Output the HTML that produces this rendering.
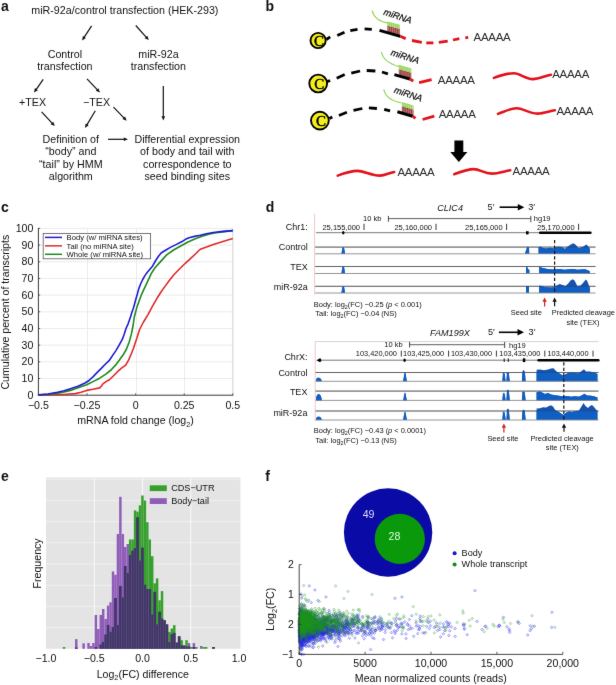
<!DOCTYPE html>
<html><head><meta charset="utf-8"><title>Figure</title>
<style>html,body{margin:0;padding:0;background:#fff;}svg{display:block;}text{font-family:"Liberation Sans", Arial, Helvetica, sans-serif;}</style>
</head><body>
<svg width="616" height="685" viewBox="0 0 616 685">
<defs><filter id="soft" x="0" y="0" width="616" height="685" filterUnits="userSpaceOnUse" color-interpolation-filters="sRGB"><feConvolveMatrix order="3" kernelMatrix="0.01 0.05 0.01 0.05 0.76 0.05 0.01 0.05 0.01" edgeMode="duplicate"/></filter></defs>
<g filter="url(#soft)">
<rect width="616" height="685" fill="#fff"/>
<text x="1" y="10.6" font-size="14" font-weight="bold" fill="#111">a</text>
<text x="265.5" y="10.6" font-size="14" font-weight="bold" fill="#111">b</text>
<text x="1" y="212" font-size="14" font-weight="bold" fill="#111">c</text>
<text x="265.8" y="211.9" font-size="14" font-weight="bold" fill="#111">d</text>
<text x="1" y="480.5" font-size="14" font-weight="bold" fill="#111">e</text>
<text x="265.3" y="481" font-size="14" font-weight="bold" fill="#111">f</text>
<text x="31.3" y="13.7" font-size="10.7" fill="#111">miR-92a/control transfection (HEK-293)</text>
<line x1="91.6" y1="25.8" x2="84.10827635657986" y2="37.39245658508167" stroke="#111" stroke-width="1.2"/>
<polygon points="82.10,40.50 82.87,36.00 85.89,37.95" fill="#111"/>
<line x1="135.8" y1="25.5" x2="146.33950513937148" y2="37.33667500267873" stroke="#111" stroke-width="1.2"/>
<polygon points="148.80,40.10 144.66,38.16 147.35,35.77" fill="#111"/>
<text x="64.9" y="58.1" font-size="10.7" text-anchor="middle" fill="#111">Control</text>
<text x="64.9" y="70.4" font-size="10.7" text-anchor="middle" fill="#111">transfection</text>
<text x="158.5" y="58.1" font-size="10.7" text-anchor="middle" fill="#111">miR-92a</text>
<text x="158.3" y="70.4" font-size="10.7" text-anchor="middle" fill="#111">transfection</text>
<line x1="43.2" y1="79.3" x2="36.10488704185119" y2="89.55706547210642" stroke="#111" stroke-width="1.2"/>
<polygon points="34.00,92.60 34.91,88.12 37.87,90.17" fill="#111"/>
<line x1="87.0" y1="78.9" x2="97.45317203764657" y2="89.91603514736599" stroke="#111" stroke-width="1.2"/>
<polygon points="100.00,92.60 95.80,90.79 98.41,88.31" fill="#111"/>
<text x="32.6" y="105.8" font-size="10.7" text-anchor="middle" fill="#111">+TEX</text>
<text x="96.5" y="105.8" font-size="10.7" text-anchor="middle" fill="#111">−TEX</text>
<line x1="41.6" y1="111.9" x2="52.2713301340998" y2="123.29892082506116" stroke="#111" stroke-width="1.2"/>
<polygon points="54.80,126.00 50.62,124.16 53.24,121.70" fill="#111"/>
<line x1="95.3" y1="110.8" x2="86.90091955010436" y2="124.82564890662185" stroke="#111" stroke-width="1.2"/>
<polygon points="85.00,128.00 85.61,123.47 88.70,125.32" fill="#111"/>
<line x1="113.5" y1="107.1" x2="124.12304110447596" y2="118.04495144097523" stroke="#111" stroke-width="1.2"/>
<polygon points="126.70,120.70 122.48,118.94 125.07,116.43" fill="#111"/>
<line x1="163.3" y1="86.0" x2="163.3" y2="116.7" stroke="#111" stroke-width="1.2"/>
<polygon points="163.30,120.40 161.50,116.20 165.10,116.20" fill="#111"/>
<line x1="108.0" y1="139.3" x2="124.3" y2="139.3" stroke="#111" stroke-width="1.2"/>
<polygon points="128.00,139.30 123.80,141.10 123.80,137.50" fill="#111"/>
<text x="70.8" y="142.5" font-size="10.7" text-anchor="middle" fill="#111">Definition of</text>
<text x="70.8" y="155.1" font-size="10.7" text-anchor="middle" fill="#111">“body” and</text>
<text x="70.8" y="167.7" font-size="10.7" text-anchor="middle" fill="#111">“tail” by HMM</text>
<text x="70.8" y="180.3" font-size="10.7" text-anchor="middle" fill="#111">algorithm</text>
<text x="187.3" y="142.6" font-size="10.7" text-anchor="middle" fill="#111">Differential expression</text>
<text x="187.3" y="155.2" font-size="10.7" text-anchor="middle" fill="#111">of body and tail with</text>
<text x="187.3" y="167.79999999999998" font-size="10.7" text-anchor="middle" fill="#111">correspondence to</text>
<text x="187.3" y="180.39999999999998" font-size="10.7" text-anchor="middle" fill="#111">seed binding sites</text>
<circle cx="318.1" cy="40.5" r="7.6" fill="#f4ee1c" stroke="#000" stroke-width="1.9"/>
<text x="319.1" y="45.5" font-size="15" text-anchor="middle" fill="#000" stroke="#000" stroke-width="0.45" style="font-family:'Liberation Serif',serif">C</text>
<line x1="326.3" y1="39.5" x2="330.2" y2="36.9" stroke="#000" stroke-width="2.8" stroke-linecap="butt"/>
<line x1="337.3" y1="35.6" x2="344.5" y2="32.3" stroke="#000" stroke-width="2.8" stroke-linecap="butt"/>
<line x1="350.3" y1="30.6" x2="357.5" y2="29.4" stroke="#000" stroke-width="2.8" stroke-linecap="butt"/>
<line x1="364.6" y1="28.8" x2="371.8" y2="29.4" stroke="#000" stroke-width="2.8" stroke-linecap="butt"/>
<polygon points="387.30,31.15 399.80,34.44 399.80,29.04 387.30,25.75" fill="#9b3c3c"/>
<polygon points="387.30,25.75 399.80,29.04 399.80,24.74 387.30,21.45" fill="#94d35a"/>
<line x1="388.3416666666667" y1="31.125358333333338" x2="388.3416666666667" y2="26.625358333333338" stroke="#d9a0a0" stroke-width="0.6"/>
<line x1="388.3416666666667" y1="25.425358333333335" x2="388.3416666666667" y2="22.525358333333337" stroke="#d6f0b0" stroke-width="0.6"/>
<line x1="390.425" y1="31.673274999999997" x2="390.425" y2="27.173274999999997" stroke="#d9a0a0" stroke-width="0.6"/>
<line x1="390.425" y1="25.973274999999994" x2="390.425" y2="23.073274999999995" stroke="#d6f0b0" stroke-width="0.6"/>
<line x1="392.5083333333333" y1="32.22119166666666" x2="392.5083333333333" y2="27.72119166666667" stroke="#d9a0a0" stroke-width="0.6"/>
<line x1="392.5083333333333" y1="26.521191666666667" x2="392.5083333333333" y2="23.621191666666668" stroke="#d6f0b0" stroke-width="0.6"/>
<line x1="394.5916666666667" y1="32.769108333333335" x2="394.5916666666667" y2="28.269108333333342" stroke="#d9a0a0" stroke-width="0.6"/>
<line x1="394.5916666666667" y1="27.06910833333334" x2="394.5916666666667" y2="24.16910833333334" stroke="#d6f0b0" stroke-width="0.6"/>
<line x1="396.675" y1="33.317025" x2="396.675" y2="28.817025000000008" stroke="#d9a0a0" stroke-width="0.6"/>
<line x1="396.675" y1="27.617025000000005" x2="396.675" y2="24.717025000000007" stroke="#d6f0b0" stroke-width="0.6"/>
<line x1="398.7583333333333" y1="33.86494166666666" x2="398.7583333333333" y2="29.364941666666667" stroke="#d9a0a0" stroke-width="0.6"/>
<line x1="398.7583333333333" y1="28.164941666666664" x2="398.7583333333333" y2="25.264941666666665" stroke="#d6f0b0" stroke-width="0.6"/>
<path d="M372.2,10.5 C373.5,18 380,21.5 388,23.2" fill="none" stroke="#8fd45a" stroke-width="1.2"/>
<text x="0" y="0" font-size="9.2" font-style="italic" fill="#111" stroke="#111" stroke-width="0.25" transform="translate(383.0,14.6) rotate(18)">miRNA</text>
<line x1="379.5" y1="30.4" x2="400.3" y2="36.2" stroke="#000" stroke-width="3"/>
<line x1="400.3" y1="36.2" x2="405.7" y2="38.6" stroke="#e3121b" stroke-width="2.8" stroke-linecap="butt"/>
<line x1="412" y1="40.5" x2="421.8" y2="42.3" stroke="#e3121b" stroke-width="2.8" stroke-linecap="butt"/>
<line x1="426.3" y1="42.9" x2="433.4" y2="42.9" stroke="#e3121b" stroke-width="2.8" stroke-linecap="butt"/>
<line x1="438.8" y1="42.3" x2="447.7" y2="41.1" stroke="#e3121b" stroke-width="2.8" stroke-linecap="butt"/>
<line x1="453" y1="40" x2="459.3" y2="38.7" stroke="#e3121b" stroke-width="2.8" stroke-linecap="butt"/>
<line x1="465.3" y1="37.9" x2="468.2" y2="37.3" stroke="#e3121b" stroke-width="2.8" stroke-linecap="butt"/>
<text x="473.6" y="40.6" font-size="11.5" fill="#2a2a2a" letter-spacing="-0.3">AAAAA</text>
<circle cx="318.2" cy="83.5" r="8.9" fill="#f4ee1c" stroke="#000" stroke-width="1.9"/>
<text x="319.2" y="88.5" font-size="15" text-anchor="middle" fill="#000" stroke="#000" stroke-width="0.45" style="font-family:'Liberation Serif',serif">C</text>
<line x1="326.5" y1="81.9" x2="330.1" y2="80.5" stroke="#000" stroke-width="2.8" stroke-linecap="butt"/>
<line x1="336.7" y1="78.3" x2="344.7" y2="74.6" stroke="#000" stroke-width="2.8" stroke-linecap="butt"/>
<line x1="351.3" y1="73.2" x2="360.1" y2="71" stroke="#000" stroke-width="2.8" stroke-linecap="butt"/>
<line x1="366.7" y1="70.5" x2="375.4" y2="71" stroke="#000" stroke-width="2.8" stroke-linecap="butt"/>
<line x1="382" y1="72" x2="387.9" y2="73.9" stroke="#000" stroke-width="2.8" stroke-linecap="butt"/>
<polygon points="398.80,74.55 411.30,78.12 411.30,72.72 398.80,69.15" fill="#9b3c3c"/>
<polygon points="398.80,69.15 411.30,72.72 411.30,68.42 398.80,64.85" fill="#94d35a"/>
<line x1="399.8416666666667" y1="74.550875" x2="399.8416666666667" y2="70.05087499999999" stroke="#d9a0a0" stroke-width="0.6"/>
<line x1="399.8416666666667" y1="68.850875" x2="399.8416666666667" y2="65.950875" stroke="#d6f0b0" stroke-width="0.6"/>
<line x1="401.925" y1="75.144625" x2="401.925" y2="70.64462499999999" stroke="#d9a0a0" stroke-width="0.6"/>
<line x1="401.925" y1="69.444625" x2="401.925" y2="66.544625" stroke="#d6f0b0" stroke-width="0.6"/>
<line x1="404.0083333333333" y1="75.738375" x2="404.0083333333333" y2="71.23837499999999" stroke="#d9a0a0" stroke-width="0.6"/>
<line x1="404.0083333333333" y1="70.038375" x2="404.0083333333333" y2="67.138375" stroke="#d6f0b0" stroke-width="0.6"/>
<line x1="406.0916666666667" y1="76.332125" x2="406.0916666666667" y2="71.83212499999999" stroke="#d9a0a0" stroke-width="0.6"/>
<line x1="406.0916666666667" y1="70.632125" x2="406.0916666666667" y2="67.732125" stroke="#d6f0b0" stroke-width="0.6"/>
<line x1="408.175" y1="76.925875" x2="408.175" y2="72.42587499999999" stroke="#d9a0a0" stroke-width="0.6"/>
<line x1="408.175" y1="71.225875" x2="408.175" y2="68.325875" stroke="#d6f0b0" stroke-width="0.6"/>
<line x1="410.2583333333333" y1="77.519625" x2="410.2583333333333" y2="73.01962499999999" stroke="#d9a0a0" stroke-width="0.6"/>
<line x1="410.2583333333333" y1="71.819625" x2="410.2583333333333" y2="68.919625" stroke="#d6f0b0" stroke-width="0.6"/>
<path d="M381.4,52 C383,60 390,64 399,66.6" fill="none" stroke="#8fd45a" stroke-width="1.2"/>
<text x="0" y="0" font-size="9.2" font-style="italic" fill="#111" stroke="#111" stroke-width="0.25" transform="translate(390.3,55.0) rotate(18)">miRNA</text>
<line x1="394.4" y1="74.6" x2="409.8" y2="79.0" stroke="#000" stroke-width="3"/>
<line x1="409.8" y1="79.0" x2="413.3" y2="81.0" stroke="#e3121b" stroke-width="2.8" stroke-linecap="butt"/>
<line x1="419.1" y1="82.7" x2="431.6" y2="79.6" stroke="#e3121b" stroke-width="2.8" stroke-linecap="butt"/>
<text x="437.8" y="83.6" font-size="11.5" fill="#2a2a2a" letter-spacing="-0.3">AAAAA</text>
<path d="M493.9,77.9 C501.9,74.9 508.1,73.2 514.1,73.2 C520.1,73.2 524.9,79.1 532.9,79.1 C538.9,79.1 544.9,75.8 550.9,74.8" fill="none" stroke="#e3121b" stroke-width="2.6" stroke-linecap="round"/>
<text x="552.2" y="77.9" font-size="11.5" fill="#2a2a2a" letter-spacing="-0.3">AAAAA</text>
<circle cx="319.9" cy="120.6" r="8.9" fill="#f4ee1c" stroke="#000" stroke-width="1.9"/>
<text x="320.9" y="125.6" font-size="15" text-anchor="middle" fill="#000" stroke="#000" stroke-width="0.45" style="font-family:'Liberation Serif',serif">C</text>
<line x1="329.4" y1="118.4" x2="332.3" y2="116.9" stroke="#000" stroke-width="2.8" stroke-linecap="butt"/>
<line x1="338.9" y1="115.5" x2="346.9" y2="112.3" stroke="#000" stroke-width="2.8" stroke-linecap="butt"/>
<line x1="353.5" y1="110.4" x2="362.3" y2="108.5" stroke="#000" stroke-width="2.8" stroke-linecap="butt"/>
<line x1="368.9" y1="107.9" x2="376.9" y2="108.5" stroke="#000" stroke-width="2.8" stroke-linecap="butt"/>
<line x1="384.2" y1="109.3" x2="390.1" y2="110.8" stroke="#000" stroke-width="2.8" stroke-linecap="butt"/>
<polygon points="401.80,111.77 413.50,115.14 413.50,109.74 401.80,106.37" fill="#9b3c3c"/>
<polygon points="401.80,106.37 413.50,109.74 413.50,105.44 401.80,102.07" fill="#94d35a"/>
<line x1="402.77500000000003" y1="111.74800000000003" x2="402.77500000000003" y2="107.24800000000002" stroke="#d9a0a0" stroke-width="0.6"/>
<line x1="402.77500000000003" y1="106.04800000000003" x2="402.77500000000003" y2="103.14800000000002" stroke="#d6f0b0" stroke-width="0.6"/>
<line x1="404.725" y1="112.30960000000002" x2="404.725" y2="107.8096" stroke="#d9a0a0" stroke-width="0.6"/>
<line x1="404.725" y1="106.60960000000001" x2="404.725" y2="103.70960000000001" stroke="#d6f0b0" stroke-width="0.6"/>
<line x1="406.675" y1="112.87120000000002" x2="406.675" y2="108.3712" stroke="#d9a0a0" stroke-width="0.6"/>
<line x1="406.675" y1="107.17120000000001" x2="406.675" y2="104.27120000000001" stroke="#d6f0b0" stroke-width="0.6"/>
<line x1="408.625" y1="113.43280000000001" x2="408.625" y2="108.9328" stroke="#d9a0a0" stroke-width="0.6"/>
<line x1="408.625" y1="107.73280000000001" x2="408.625" y2="104.8328" stroke="#d6f0b0" stroke-width="0.6"/>
<line x1="410.575" y1="113.99440000000001" x2="410.575" y2="109.4944" stroke="#d9a0a0" stroke-width="0.6"/>
<line x1="410.575" y1="108.29440000000001" x2="410.575" y2="105.3944" stroke="#d6f0b0" stroke-width="0.6"/>
<line x1="412.525" y1="114.55600000000001" x2="412.525" y2="110.056" stroke="#d9a0a0" stroke-width="0.6"/>
<line x1="412.525" y1="108.85600000000001" x2="412.525" y2="105.956" stroke="#d6f0b0" stroke-width="0.6"/>
<path d="M383.9,89.5 C385,97 392,101 401.5,103" fill="none" stroke="#8fd45a" stroke-width="1.2"/>
<text x="0" y="0" font-size="9.2" font-style="italic" fill="#111" stroke="#111" stroke-width="0.25" transform="translate(393.5,92.6) rotate(18)">miRNA</text>
<line x1="397.4" y1="111.8" x2="412.7" y2="116.2" stroke="#000" stroke-width="3"/>
<line x1="412.7" y1="116.2" x2="415.5" y2="118.3" stroke="#e3121b" stroke-width="2.8" stroke-linecap="butt"/>
<line x1="422.6" y1="119.5" x2="434.3" y2="116.2" stroke="#e3121b" stroke-width="2.8" stroke-linecap="butt"/>
<text x="438.7" y="117.5" font-size="11.5" fill="#2a2a2a" letter-spacing="-0.3">AAAAA</text>
<path d="M498,113.9 C506,110.9 510.79999999999995,108.3 516.8,108.3 C522.8,108.3 529.3,113.6 537.3,113.6 C543.3,113.6 548.8,111.3 554.8,110.3" fill="none" stroke="#e3121b" stroke-width="2.6" stroke-linecap="round"/>
<text x="556.4" y="114.5" font-size="11.5" fill="#2a2a2a" letter-spacing="-0.3">AAAAA</text>
<polygon points="454.40,140.40 463.30,140.40 463.30,152.00 467.40,152.00 458.85,161.90 450.30,152.00 454.40,152.00" fill="#000"/>
<path d="M337.7,175.6 C345.7,172.6 351.6,170.9 357.6,170.9 C363.6,170.9 371.7,175.6 379.7,175.6 C385.7,175.6 388.2,173 394.2,172" fill="none" stroke="#e3121b" stroke-width="2.6" stroke-linecap="round"/>
<text x="397.5" y="175.6" font-size="11.5" fill="#2a2a2a" letter-spacing="-0.3">AAAAA</text>
<path d="M454.3,174.2 C462.3,171.2 467.8,169.1 473.8,169.1 C479.8,169.1 484,173.6 492,173.6 C498,173.6 504.2,171.3 510.2,170.3" fill="none" stroke="#e3121b" stroke-width="2.6" stroke-linecap="round"/>
<text x="512.6" y="174.7" font-size="11.5" fill="#2a2a2a" letter-spacing="-0.3">AAAAA</text>
<line x1="87.5" y1="228.4" x2="87.5" y2="395.2" stroke="#ebebeb" stroke-width="1"/>
<line x1="136.5" y1="228.4" x2="136.5" y2="395.2" stroke="#ebebeb" stroke-width="1"/>
<line x1="184.5" y1="228.4" x2="184.5" y2="395.2" stroke="#ebebeb" stroke-width="1"/>
<line x1="38.4" y1="378.52" x2="232.8" y2="378.52" stroke="#ebebeb" stroke-width="1"/>
<line x1="38.4" y1="361.84" x2="232.8" y2="361.84" stroke="#ebebeb" stroke-width="1"/>
<line x1="38.4" y1="345.15999999999997" x2="232.8" y2="345.15999999999997" stroke="#ebebeb" stroke-width="1"/>
<line x1="38.4" y1="328.48" x2="232.8" y2="328.48" stroke="#ebebeb" stroke-width="1"/>
<line x1="38.4" y1="311.79999999999995" x2="232.8" y2="311.79999999999995" stroke="#ebebeb" stroke-width="1"/>
<line x1="38.4" y1="295.12" x2="232.8" y2="295.12" stroke="#ebebeb" stroke-width="1"/>
<line x1="38.4" y1="278.44" x2="232.8" y2="278.44" stroke="#ebebeb" stroke-width="1"/>
<line x1="38.4" y1="261.76" x2="232.8" y2="261.76" stroke="#ebebeb" stroke-width="1"/>
<line x1="38.4" y1="245.08" x2="232.8" y2="245.08" stroke="#ebebeb" stroke-width="1"/>
<line x1="38.4" y1="228.39999999999998" x2="232.8" y2="228.39999999999998" stroke="#ebebeb" stroke-width="1"/>
<line x1="232.8" y1="228.4" x2="232.8" y2="395.2" stroke="#d0d0d0" stroke-width="1"/>
<line x1="38.4" y1="227.9" x2="38.4" y2="395.7" stroke="#3a3a3a" stroke-width="1"/>
<line x1="37.9" y1="395.2" x2="233.3" y2="395.2" stroke="#3a3a3a" stroke-width="1"/>
<line x1="38.4" y1="395.2" x2="40.199999999999996" y2="395.2" stroke="#3a3a3a" stroke-width="0.8"/>
<text x="33.4" y="398.8" font-size="10.6" text-anchor="end" fill="#111">0</text>
<line x1="38.4" y1="378.52" x2="40.199999999999996" y2="378.52" stroke="#3a3a3a" stroke-width="0.8"/>
<text x="33.4" y="382.12" font-size="10.6" text-anchor="end" fill="#111">10</text>
<line x1="38.4" y1="361.84" x2="40.199999999999996" y2="361.84" stroke="#3a3a3a" stroke-width="0.8"/>
<text x="33.4" y="365.44" font-size="10.6" text-anchor="end" fill="#111">20</text>
<line x1="38.4" y1="345.15999999999997" x2="40.199999999999996" y2="345.15999999999997" stroke="#3a3a3a" stroke-width="0.8"/>
<text x="33.4" y="348.76" font-size="10.6" text-anchor="end" fill="#111">30</text>
<line x1="38.4" y1="328.48" x2="40.199999999999996" y2="328.48" stroke="#3a3a3a" stroke-width="0.8"/>
<text x="33.4" y="332.08000000000004" font-size="10.6" text-anchor="end" fill="#111">40</text>
<line x1="38.4" y1="311.79999999999995" x2="40.199999999999996" y2="311.79999999999995" stroke="#3a3a3a" stroke-width="0.8"/>
<text x="33.4" y="315.4" font-size="10.6" text-anchor="end" fill="#111">50</text>
<line x1="38.4" y1="295.12" x2="40.199999999999996" y2="295.12" stroke="#3a3a3a" stroke-width="0.8"/>
<text x="33.4" y="298.72" font-size="10.6" text-anchor="end" fill="#111">60</text>
<line x1="38.4" y1="278.44" x2="40.199999999999996" y2="278.44" stroke="#3a3a3a" stroke-width="0.8"/>
<text x="33.4" y="282.04" font-size="10.6" text-anchor="end" fill="#111">70</text>
<line x1="38.4" y1="261.76" x2="40.199999999999996" y2="261.76" stroke="#3a3a3a" stroke-width="0.8"/>
<text x="33.4" y="265.36" font-size="10.6" text-anchor="end" fill="#111">80</text>
<line x1="38.4" y1="245.08" x2="40.199999999999996" y2="245.08" stroke="#3a3a3a" stroke-width="0.8"/>
<text x="33.4" y="248.68" font-size="10.6" text-anchor="end" fill="#111">90</text>
<line x1="38.4" y1="228.39999999999998" x2="40.199999999999996" y2="228.39999999999998" stroke="#3a3a3a" stroke-width="0.8"/>
<text x="33.4" y="231.99999999999997" font-size="10.6" text-anchor="end" fill="#111">100</text>
<line x1="38.4" y1="395.2" x2="38.4" y2="393.4" stroke="#3a3a3a" stroke-width="0.8"/>
<text x="38.4" y="408.7" font-size="10.6" text-anchor="middle" fill="#111">−0.5</text>
<line x1="87.0" y1="395.2" x2="87.0" y2="393.4" stroke="#3a3a3a" stroke-width="0.8"/>
<text x="87.0" y="408.7" font-size="10.6" text-anchor="middle" fill="#111">−0.25</text>
<line x1="135.6" y1="395.2" x2="135.6" y2="393.4" stroke="#3a3a3a" stroke-width="0.8"/>
<text x="135.6" y="408.7" font-size="10.6" text-anchor="middle" fill="#111">0</text>
<line x1="184.20000000000002" y1="395.2" x2="184.20000000000002" y2="393.4" stroke="#3a3a3a" stroke-width="0.8"/>
<text x="184.20000000000002" y="408.7" font-size="10.6" text-anchor="middle" fill="#111">0.25</text>
<line x1="232.8" y1="395.2" x2="232.8" y2="393.4" stroke="#3a3a3a" stroke-width="0.8"/>
<text x="232.8" y="408.7" font-size="10.6" text-anchor="middle" fill="#111">0.5</text>
<text x="77.3" y="424.2" font-size="10.6" fill="#111">mRNA fold change (log<tspan font-size="7.2" dy="3.0">2</tspan><tspan dy="-3.0">)</tspan></text>
<text x="0" y="0" font-size="10.6" text-anchor="middle" fill="#111" transform="translate(9.2,312.2) rotate(-90)">Cumulative percent of transcripts</text>
<polyline points="38.40,395.10 54.20,394.80 66.00,394.30 75.30,393.60 81.00,392.20 86.70,390.40 93.00,389.30 99.70,387.90 101.30,386.20 102.90,383.90 106.00,381.60 109.40,379.80 113.50,375.80 117.50,371.70 121.50,368.20 125.70,365.20 128.70,359.90 131.30,353.80 133.50,348.20 135.40,342.50 136.80,338.30 138.00,334.40 139.60,329.50 143.50,322.00 148.00,314.60 152.50,306.10 157.30,297.80 161.00,292.00 164.80,286.60 169.50,280.20 174.10,274.50 179.70,268.80 185.30,263.30 191.00,258.10 196.50,253.00 198.30,251.00 200.30,249.30 206.50,247.00 213.30,244.60 219.00,242.70 224.50,240.90 232.80,238.40" fill="none" stroke="#e02a2a" stroke-width="1.6" stroke-linejoin="round"/>
<polyline points="38.40,395.00 48.00,394.40 57.50,393.10 64.00,392.00 70.50,390.40 78.00,387.80 86.70,384.70 93.00,381.60 99.70,378.20 105.50,374.30 111.00,370.00 115.30,365.40 119.20,360.30 123.20,354.80 126.50,349.00 129.20,342.00 131.30,334.40 133.00,326.00 134.30,317.00 136.80,307.60 139.50,300.00 141.60,294.30 144.00,289.20 147.90,280.80 151.20,273.60 155.00,267.80 159.60,262.60 166.70,254.90 173.50,250.00 181.60,245.50 188.00,242.00 194.70,239.00 202.00,236.20 209.60,234.00 216.00,232.80 222.70,231.90 232.80,230.60" fill="none" stroke="#1d891d" stroke-width="1.6" stroke-linejoin="round"/>
<polyline points="38.40,394.90 48.00,394.00 57.50,392.20 64.00,390.80 70.50,388.70 78.00,386.30 85.10,383.00 89.00,380.50 93.20,376.60 97.00,372.60 101.30,368.40 105.00,364.50 109.40,360.30 112.50,355.60 115.90,350.60 119.00,345.30 122.40,339.20 124.20,334.20 126.00,328.50 128.20,323.60 130.50,317.00 131.90,312.30 133.30,308.50 134.50,304.20 135.60,300.00 137.50,293.50 138.80,288.60 140.60,284.00 142.70,279.50 144.90,275.60 147.30,272.30 152.50,266.20 156.00,260.00 158.50,256.20 161.10,253.00 165.50,250.30 170.40,247.40 176.00,244.60 181.60,241.80 185.50,239.30 189.10,237.70 194.50,236.40 200.30,235.30 206.50,233.80 213.30,232.50 223.00,231.40 232.80,230.60" fill="none" stroke="#1c1cd4" stroke-width="1.6" stroke-linejoin="round"/>
<rect x="43.2" y="233.4" width="107.4" height="25.4" fill="#fff" stroke="#555" stroke-width="0.8"/>
<line x1="45.0" y1="237.4" x2="62.0" y2="237.4" stroke="#1c1cd4" stroke-width="1.5"/>
<text x="66.6" y="240.1" font-size="7.65" fill="#111">Body (w/ miRNA sites)</text>
<line x1="45.0" y1="245.85" x2="62.0" y2="245.85" stroke="#e02a2a" stroke-width="1.5"/>
<text x="66.6" y="248.54999999999998" font-size="7.65" fill="#111">Tail (no miRNA site)</text>
<line x1="45.0" y1="254.3" x2="62.0" y2="254.3" stroke="#1d891d" stroke-width="1.5"/>
<text x="66.6" y="257.0" font-size="7.65" fill="#111">Whole (w/ miRNA site)</text>
<line x1="314.6" y1="213.8" x2="314.6" y2="294.5" stroke="#f0b8b8" stroke-width="0.8"/>
<text x="437.2" y="211.2" font-size="9.1" font-style="italic" fill="#111">CLIC4</text>
<text x="487.6" y="210.4" font-size="9.1" fill="#111">5′</text>
<line x1="499.6" y1="207.2" x2="519.3" y2="207.2" stroke="#000" stroke-width="1.6"/>
<polygon points="524.30,207.20 517.80,204.00 517.80,210.40" fill="#000"/>
<text x="528.2" y="210.4" font-size="9.1" fill="#111">3′</text>
<text x="363.0" y="220.8" font-size="7.5" fill="#111">10 kb</text>
<line x1="388.4" y1="218.6" x2="530.8" y2="218.6" stroke="#333" stroke-width="0.8"/>
<line x1="388.4" y1="215.9" x2="388.4" y2="221.7" stroke="#333" stroke-width="0.9"/>
<line x1="530.8" y1="215.9" x2="530.8" y2="222.3" stroke="#333" stroke-width="0.9"/>
<text x="533.8" y="221.2" font-size="7.5" fill="#111">hg19</text>
<text x="360.0" y="229.8" font-size="7.5" text-anchor="end" fill="#111">25,155,000</text>
<line x1="364.0" y1="223.8" x2="364.0" y2="230.0" stroke="#222" stroke-width="0.9"/>
<text x="432.0" y="229.8" font-size="7.5" text-anchor="end" fill="#111">25,160,000</text>
<line x1="436.0" y1="223.8" x2="436.0" y2="230.0" stroke="#222" stroke-width="0.9"/>
<text x="502.6" y="229.8" font-size="7.5" text-anchor="end" fill="#111">25,165,000</text>
<line x1="506.6" y1="223.8" x2="506.6" y2="230.0" stroke="#222" stroke-width="0.9"/>
<text x="574.6" y="229.8" font-size="7.5" text-anchor="end" fill="#111">25,170,000</text>
<line x1="578.6" y1="223.8" x2="578.6" y2="230.0" stroke="#222" stroke-width="0.9"/>
<text x="307.8" y="230.1" font-size="9.0" text-anchor="end" fill="#111">Chr1:</text>
<line x1="316.0" y1="232.7" x2="540" y2="232.7" stroke="#555" stroke-width="0.8"/>
<ellipse cx="343.3" cy="232.7" rx="1.2" ry="1.8" fill="#000"/>
<rect x="526.0" y="231.2" width="2.6" height="3.2" fill="#000"/>
<line x1="540.2" y1="232.8" x2="590.4" y2="232.8" stroke="#000" stroke-width="2.6" stroke-linecap="round"/>
<text x="307.8" y="250.2" font-size="9.0" text-anchor="end" fill="#111">Control</text>
<line x1="315.2" y1="247.1" x2="595.5" y2="247.1" stroke="#6a6a6a" stroke-width="0.9"/>
<clipPath id="trk1"><rect x="300" y="247.10" width="310" height="8.70"/></clipPath>
<g fill="#1653ad"><polygon points="341.40,253.80 342.60,247.40 344.00,247.40 345.00,253.80"/><polygon points="525.00,253.80 527.30,246.80 529.00,247.00 529.20,253.80"/><polygon points="538.60,253.80 538.60,247.30 540.30,246.40 542.90,248.10 546.20,248.40 550.10,247.70 554.00,248.40 557.90,246.40 561.80,247.10 565.00,249.00 567.00,247.10 570.80,244.50 573.40,243.20 576.00,245.10 578.60,248.40 582.50,247.10 586.40,244.50 588.40,246.40 589.80,249.00 589.80,253.80"/></g>
<g fill="#0f5fc4" clip-path="url(#trk1)"><polygon points="341.40,253.80 342.60,247.40 344.00,247.40 345.00,253.80"/><polygon points="525.00,253.80 527.30,246.80 529.00,247.00 529.20,253.80"/><polygon points="538.60,253.80 538.60,247.30 540.30,246.40 542.90,248.10 546.20,248.40 550.10,247.70 554.00,248.40 557.90,246.40 561.80,247.10 565.00,249.00 567.00,247.10 570.80,244.50 573.40,243.20 576.00,245.10 578.60,248.40 582.50,247.10 586.40,244.50 588.40,246.40 589.80,249.00 589.80,253.80"/></g>
<line x1="315.2" y1="247.1" x2="595.5" y2="247.1" stroke="#3a3a3a" stroke-width="0.8" stroke-opacity="0.45"/>
<line x1="315.2" y1="253.8" x2="595.5" y2="253.8" stroke="#8a8a8a" stroke-width="0.9"/>
<text x="307.8" y="269.6" font-size="9.0" text-anchor="end" fill="#111">TEX</text>
<line x1="315.2" y1="266.5" x2="595.5" y2="266.5" stroke="#6a6a6a" stroke-width="0.9"/>
<clipPath id="trk2"><rect x="300" y="266.50" width="310" height="9.00"/></clipPath>
<g fill="#1653ad"><polygon points="341.40,273.50 342.60,266.80 344.00,266.80 345.00,273.50"/><polygon points="526.00,273.50 526.00,266.60 527.20,266.70 527.80,269.10 529.30,269.90 529.30,273.50"/><polygon points="539.20,273.50 539.20,266.80 541.00,267.60 544.90,268.50 548.80,269.20 554.00,269.40 559.20,268.90 564.40,269.80 569.50,269.20 573.40,268.90 577.30,269.80 581.20,269.40 585.10,269.20 588.40,270.50 589.80,271.50 589.80,273.50"/></g>
<g fill="#0f5fc4" clip-path="url(#trk2)"><polygon points="341.40,273.50 342.60,266.80 344.00,266.80 345.00,273.50"/><polygon points="526.00,273.50 526.00,266.60 527.20,266.70 527.80,269.10 529.30,269.90 529.30,273.50"/><polygon points="539.20,273.50 539.20,266.80 541.00,267.60 544.90,268.50 548.80,269.20 554.00,269.40 559.20,268.90 564.40,269.80 569.50,269.20 573.40,268.90 577.30,269.80 581.20,269.40 585.10,269.20 588.40,270.50 589.80,271.50 589.80,273.50"/></g>
<line x1="315.2" y1="266.5" x2="595.5" y2="266.5" stroke="#3a3a3a" stroke-width="0.8" stroke-opacity="0.45"/>
<line x1="315.2" y1="273.5" x2="595.5" y2="273.5" stroke="#8a8a8a" stroke-width="0.9"/>
<text x="307.8" y="289.6" font-size="9.0" text-anchor="end" fill="#111">miR-92a</text>
<line x1="315.2" y1="286.3" x2="595.5" y2="286.3" stroke="#6a6a6a" stroke-width="0.9"/>
<clipPath id="trk3"><rect x="300" y="286.30" width="310" height="8.70"/></clipPath>
<g fill="#1653ad"><polygon points="341.40,293.00 342.60,286.60 344.00,286.60 345.00,293.00"/><polygon points="526.00,293.00 526.00,286.00 528.90,286.00 528.90,293.00"/><polygon points="539.20,293.00 539.20,285.40 542.30,286.00 544.90,287.30 551.40,287.60 554.60,287.10 556.60,285.40 559.80,284.10 561.80,284.70 565.60,286.00 568.20,283.40 570.80,280.20 572.80,279.30 574.70,280.80 577.30,286.00 580.60,285.40 583.20,282.80 585.80,279.50 587.10,280.80 588.40,284.10 589.80,288.00 589.80,293.00"/></g>
<g fill="#0f5fc4" clip-path="url(#trk3)"><polygon points="341.40,293.00 342.60,286.60 344.00,286.60 345.00,293.00"/><polygon points="526.00,293.00 526.00,286.00 528.90,286.00 528.90,293.00"/><polygon points="539.20,293.00 539.20,285.40 542.30,286.00 544.90,287.30 551.40,287.60 554.60,287.10 556.60,285.40 559.80,284.10 561.80,284.70 565.60,286.00 568.20,283.40 570.80,280.20 572.80,279.30 574.70,280.80 577.30,286.00 580.60,285.40 583.20,282.80 585.80,279.50 587.10,280.80 588.40,284.10 589.80,288.00 589.80,293.00"/></g>
<line x1="315.2" y1="286.3" x2="595.5" y2="286.3" stroke="#3a3a3a" stroke-width="0.8" stroke-opacity="0.45"/>
<line x1="315.2" y1="293.0" x2="595.5" y2="293.0" stroke="#8a8a8a" stroke-width="0.9"/>
<line x1="554.6" y1="240.0" x2="554.6" y2="293.5" stroke="#111" stroke-width="1.2" stroke-dasharray="3.2,2.2"/>
<line x1="544.6" y1="300.5" x2="544.6" y2="306.6" stroke="#d42020" stroke-width="1.2"/>
<polygon points="544.60,297.50 542.40,301.70 546.80,301.70" fill="#d42020"/>
<line x1="554.6" y1="300.5" x2="554.6" y2="306.2" stroke="#111" stroke-width="1.2"/>
<polygon points="554.60,297.50 552.40,301.70 556.80,301.70" fill="#111"/>
<text x="313.8" y="306.6" font-size="7.45" fill="#111">Body: log<tspan font-size="5.4" dy="2">2</tspan><tspan dy="-2">(FC) −0.25 (</tspan><tspan font-style="italic">p</tspan> &lt; 0.001)</text>
<text x="315.3" y="316.1" font-size="7.45" fill="#111">Tail: log<tspan font-size="5.4" dy="2">2</tspan><tspan dy="-2">(FC) −0.04 (NS)</tspan></text>
<text x="510.8" y="315.4" font-size="7.45" fill="#111">Seed site</text>
<text x="551.7" y="315.4" font-size="7.45" fill="#111">Predicted cleavage</text>
<text x="583.0" y="324.5" font-size="7.45" text-anchor="middle" fill="#111">site (TEX)</text>
<line x1="315.2" y1="341.4" x2="315.2" y2="421.0" stroke="#f0b8b8" stroke-width="0.8"/>
<line x1="315.2" y1="341.6" x2="598.5" y2="341.6" stroke="#c8c8c8" stroke-width="0.8"/>
<text x="430.1" y="336.1" font-size="9.1" font-style="italic" fill="#111">FAM199X</text>
<text x="488.0" y="335.4" font-size="9.1" fill="#111">5′</text>
<line x1="498.9" y1="332.3" x2="519.0" y2="332.3" stroke="#000" stroke-width="1.6"/>
<polygon points="524.00,332.30 517.50,329.10 517.50,335.50" fill="#000"/>
<text x="528.6" y="335.4" font-size="9.1" fill="#111">3′</text>
<text x="384.3" y="347.0" font-size="7.5" fill="#111">10 kb</text>
<line x1="409.6" y1="344.7" x2="504.7" y2="344.7" stroke="#333" stroke-width="0.8"/>
<line x1="409.6" y1="341.9" x2="409.6" y2="347.5" stroke="#333" stroke-width="0.9"/>
<line x1="504.7" y1="341.9" x2="504.7" y2="348.0" stroke="#333" stroke-width="0.9"/>
<text x="509.0" y="348.4" font-size="7.5" fill="#111">hg19</text>
<text x="396.90000000000003" y="356.2" font-size="7.4" text-anchor="end" fill="#111">103,420,000</text>
<line x1="401.3" y1="350.6" x2="401.3" y2="356.6" stroke="#222" stroke-width="0.9"/>
<text x="444.20000000000005" y="356.2" font-size="7.4" text-anchor="end" fill="#111">103,425,000</text>
<line x1="448.6" y1="350.6" x2="448.6" y2="356.6" stroke="#222" stroke-width="0.9"/>
<text x="492.0" y="356.2" font-size="7.4" text-anchor="end" fill="#111">103,430,000</text>
<line x1="496.4" y1="350.6" x2="496.4" y2="356.6" stroke="#222" stroke-width="0.9"/>
<text x="540.4" y="356.2" font-size="7.4" text-anchor="end" fill="#111">103,435,000</text>
<line x1="544.8" y1="350.6" x2="544.8" y2="356.6" stroke="#222" stroke-width="0.9"/>
<text x="588.6" y="356.2" font-size="7.4" text-anchor="end" fill="#111">103,440,000</text>
<line x1="593.0" y1="350.6" x2="593.0" y2="356.6" stroke="#222" stroke-width="0.9"/>
<text x="307.4" y="359.5" font-size="9.0" text-anchor="end" fill="#111">ChrX:</text>
<line x1="318" y1="360.2" x2="538.5" y2="360.2" stroke="#555" stroke-width="0.8"/>
<polygon points="316.30,360.20 320.30,358.20 320.30,362.20" fill="#000"/>
<ellipse cx="320.0" cy="360.2" rx="1.3" ry="1.6" fill="#000"/>
<ellipse cx="404.6" cy="360.2" rx="1.2" ry="1.7" fill="#000"/>
<line x1="504.2" y1="358.4" x2="504.2" y2="362.0" stroke="#000" stroke-width="0.9"/>
<line x1="508.3" y1="358.4" x2="508.3" y2="362.0" stroke="#000" stroke-width="0.9"/>
<rect x="522.8" y="358.3" width="2.5" height="3.8" fill="#000"/>
<line x1="538.6" y1="360.3" x2="598.3" y2="360.3" stroke="#000" stroke-width="2.6" stroke-linecap="round"/>
<text x="307.4" y="375.7" font-size="9.0" text-anchor="end" fill="#111">Control</text>
<line x1="315.6" y1="372.5" x2="598.5" y2="372.5" stroke="#6a6a6a" stroke-width="0.9"/>
<clipPath id="trk4"><rect x="300" y="372.50" width="310" height="10.80"/></clipPath>
<g fill="#1653ad"><path d="M316.0,381.3 C316.3,377.3 318.2,377.8 318.8,377.8 C319.6,377.8 321.2,378.3 321.8,381.3 Z"/><polygon points="403.20,381.30 404.40,373.70 405.00,372.20 405.60,373.70 406.80,381.30"/><polygon points="502.40,381.30 503.00,373.50 504.00,372.50 504.80,374.50 505.60,381.30"/><polygon points="506.50,381.30 507.00,373.30 508.00,372.30 508.80,373.30 509.70,381.30"/><polygon points="521.90,381.30 522.60,371.00 523.60,370.00 524.80,371.50 525.60,381.30"/><polygon points="536.60,381.30 536.60,369.80 540.00,369.40 544.00,370.30 548.00,369.60 551.00,368.40 553.50,368.30 556.00,371.00 559.00,373.20 562.00,375.00 563.60,376.00 566.00,374.00 570.00,372.50 574.00,372.80 578.00,373.40 581.00,371.50 584.00,369.20 586.00,371.60 590.00,371.40 594.00,372.60 597.40,374.00 597.40,381.30"/></g>
<g fill="#0f5fc4" clip-path="url(#trk4)"><path d="M316.0,381.3 C316.3,377.3 318.2,377.8 318.8,377.8 C319.6,377.8 321.2,378.3 321.8,381.3 Z"/><polygon points="403.20,381.30 404.40,373.70 405.00,372.20 405.60,373.70 406.80,381.30"/><polygon points="502.40,381.30 503.00,373.50 504.00,372.50 504.80,374.50 505.60,381.30"/><polygon points="506.50,381.30 507.00,373.30 508.00,372.30 508.80,373.30 509.70,381.30"/><polygon points="521.90,381.30 522.60,371.00 523.60,370.00 524.80,371.50 525.60,381.30"/><polygon points="536.60,381.30 536.60,369.80 540.00,369.40 544.00,370.30 548.00,369.60 551.00,368.40 553.50,368.30 556.00,371.00 559.00,373.20 562.00,375.00 563.60,376.00 566.00,374.00 570.00,372.50 574.00,372.80 578.00,373.40 581.00,371.50 584.00,369.20 586.00,371.60 590.00,371.40 594.00,372.60 597.40,374.00 597.40,381.30"/></g>
<line x1="315.6" y1="372.5" x2="598.5" y2="372.5" stroke="#3a3a3a" stroke-width="0.8" stroke-opacity="0.45"/>
<line x1="315.6" y1="381.3" x2="598.5" y2="381.3" stroke="#8a8a8a" stroke-width="0.9"/>
<text x="307.4" y="394.5" font-size="9.0" text-anchor="end" fill="#111">TEX</text>
<line x1="315.6" y1="391.1" x2="598.5" y2="391.1" stroke="#6a6a6a" stroke-width="0.9"/>
<clipPath id="trk5"><rect x="300" y="391.10" width="310" height="11.30"/></clipPath>
<g fill="#1653ad"><path d="M316.0,400.4 C316.3,393.8 318.2,394.3 318.8,394.3 C319.6,394.3 321.2,394.8 321.8,400.4 Z"/><polygon points="403.20,400.40 404.40,393.90 405.00,392.40 405.60,393.90 406.80,400.40"/><polygon points="502.40,400.40 503.00,393.80 504.00,392.80 504.80,394.80 505.60,400.40"/><polygon points="506.50,400.40 507.00,390.40 508.00,389.40 508.80,390.40 509.70,400.40"/><polygon points="521.90,400.40 522.60,392.20 523.60,391.20 524.80,392.70 525.60,400.40"/><polygon points="536.60,400.40 536.60,392.20 540.00,391.60 542.00,392.50 545.00,394.00 548.00,393.00 551.00,394.50 555.00,395.20 559.00,395.80 563.00,396.50 567.00,396.00 571.00,396.80 575.00,396.20 579.00,396.80 582.00,395.20 584.50,393.80 587.00,395.50 591.00,395.70 594.50,396.40 597.40,397.50 597.40,400.40"/></g>
<g fill="#0f5fc4" clip-path="url(#trk5)"><path d="M316.0,400.4 C316.3,393.8 318.2,394.3 318.8,394.3 C319.6,394.3 321.2,394.8 321.8,400.4 Z"/><polygon points="403.20,400.40 404.40,393.90 405.00,392.40 405.60,393.90 406.80,400.40"/><polygon points="502.40,400.40 503.00,393.80 504.00,392.80 504.80,394.80 505.60,400.40"/><polygon points="506.50,400.40 507.00,390.40 508.00,389.40 508.80,390.40 509.70,400.40"/><polygon points="521.90,400.40 522.60,392.20 523.60,391.20 524.80,392.70 525.60,400.40"/><polygon points="536.60,400.40 536.60,392.20 540.00,391.60 542.00,392.50 545.00,394.00 548.00,393.00 551.00,394.50 555.00,395.20 559.00,395.80 563.00,396.50 567.00,396.00 571.00,396.80 575.00,396.20 579.00,396.80 582.00,395.20 584.50,393.80 587.00,395.50 591.00,395.70 594.50,396.40 597.40,397.50 597.40,400.40"/></g>
<line x1="315.6" y1="391.1" x2="598.5" y2="391.1" stroke="#3a3a3a" stroke-width="0.8" stroke-opacity="0.45"/>
<line x1="315.6" y1="400.4" x2="598.5" y2="400.4" stroke="#8a8a8a" stroke-width="0.9"/>
<text x="307.4" y="415.8" font-size="9.0" text-anchor="end" fill="#111">miR-92a</text>
<line x1="315.6" y1="411.0" x2="598.5" y2="411.0" stroke="#6a6a6a" stroke-width="0.9"/>
<clipPath id="trk6"><rect x="300" y="411.00" width="310" height="11.00"/></clipPath>
<g fill="#1653ad"><path d="M316.0,420.0 C316.3,416.3 318.2,416.8 318.8,416.8 C319.6,416.8 321.2,417.3 321.8,420.0 Z"/><polygon points="403.20,420.00 404.40,413.10 405.00,411.60 405.60,413.10 406.80,420.00"/><polygon points="502.40,420.00 503.00,412.50 504.00,411.50 504.80,413.50 505.60,420.00"/><polygon points="506.50,420.00 507.00,409.60 508.00,408.60 508.80,409.60 509.70,420.00"/><polygon points="521.90,420.00 522.60,410.50 523.60,409.50 524.80,411.00 525.60,420.00"/><polygon points="536.60,420.00 536.60,408.60 540.00,408.20 543.00,407.20 546.00,407.60 549.00,406.00 551.00,405.30 553.00,406.50 555.00,409.80 558.00,411.50 561.00,413.50 563.60,415.00 566.00,412.80 569.00,411.50 572.00,412.00 576.00,411.00 579.00,410.50 582.00,405.50 583.50,402.90 585.50,406.00 588.00,408.00 590.00,406.00 592.00,404.90 594.00,407.00 596.00,409.50 597.40,411.00 597.40,420.00"/></g>
<g fill="#0f5fc4" clip-path="url(#trk6)"><path d="M316.0,420.0 C316.3,416.3 318.2,416.8 318.8,416.8 C319.6,416.8 321.2,417.3 321.8,420.0 Z"/><polygon points="403.20,420.00 404.40,413.10 405.00,411.60 405.60,413.10 406.80,420.00"/><polygon points="502.40,420.00 503.00,412.50 504.00,411.50 504.80,413.50 505.60,420.00"/><polygon points="506.50,420.00 507.00,409.60 508.00,408.60 508.80,409.60 509.70,420.00"/><polygon points="521.90,420.00 522.60,410.50 523.60,409.50 524.80,411.00 525.60,420.00"/><polygon points="536.60,420.00 536.60,408.60 540.00,408.20 543.00,407.20 546.00,407.60 549.00,406.00 551.00,405.30 553.00,406.50 555.00,409.80 558.00,411.50 561.00,413.50 563.60,415.00 566.00,412.80 569.00,411.50 572.00,412.00 576.00,411.00 579.00,410.50 582.00,405.50 583.50,402.90 585.50,406.00 588.00,408.00 590.00,406.00 592.00,404.90 594.00,407.00 596.00,409.50 597.40,411.00 597.40,420.00"/></g>
<line x1="315.6" y1="411.0" x2="598.5" y2="411.0" stroke="#3a3a3a" stroke-width="0.8" stroke-opacity="0.45"/>
<line x1="315.6" y1="420.0" x2="598.5" y2="420.0" stroke="#8a8a8a" stroke-width="0.9"/>
<line x1="563.8" y1="362.3" x2="563.8" y2="420.5" stroke="#111" stroke-width="1.2" stroke-dasharray="3.2,2.2"/>
<line x1="503.9" y1="426.6" x2="503.9" y2="432.4" stroke="#d42020" stroke-width="1.2"/>
<polygon points="503.90,423.60 501.70,427.80 506.10,427.80" fill="#d42020"/>
<line x1="564.0" y1="426.6" x2="564.0" y2="431.8" stroke="#111" stroke-width="1.2"/>
<polygon points="564.00,423.60 561.80,427.80 566.20,427.80" fill="#111"/>
<text x="313.8" y="433.1" font-size="7.45" fill="#111">Body: log<tspan font-size="5.4" dy="2">2</tspan><tspan dy="-2">(FC) −0.43 (</tspan><tspan font-style="italic">p</tspan> &lt; 0.0001)</text>
<text x="315.3" y="442.8" font-size="7.45" fill="#111">Tail: log<tspan font-size="5.4" dy="2">2</tspan><tspan dy="-2">(FC) −0.13 (NS)</tspan></text>
<text x="518.4" y="441.0" font-size="7.45" text-anchor="end" fill="#111">Seed site</text>
<text x="530.4" y="441.0" font-size="7.45" fill="#111">Predicted cleavage</text>
<text x="562.3" y="449.8" font-size="7.45" text-anchor="middle" fill="#111">site (TEX)</text>
<rect x="46.0" y="477.5" width="194.4" height="171.29999999999995" fill="#e4e4e4"/>
<line x1="46.0" y1="627.5999999999999" x2="240.4" y2="627.5999999999999" stroke="#f2f2f2" stroke-width="0.8"/>
<line x1="46.0" y1="606.4" x2="240.4" y2="606.4" stroke="#f2f2f2" stroke-width="0.8"/>
<line x1="46.0" y1="585.1999999999999" x2="240.4" y2="585.1999999999999" stroke="#f2f2f2" stroke-width="0.8"/>
<line x1="46.0" y1="564.0" x2="240.4" y2="564.0" stroke="#f2f2f2" stroke-width="0.8"/>
<line x1="46.0" y1="542.8" x2="240.4" y2="542.8" stroke="#f2f2f2" stroke-width="0.8"/>
<line x1="46.0" y1="521.5999999999999" x2="240.4" y2="521.5999999999999" stroke="#f2f2f2" stroke-width="0.8"/>
<line x1="46.0" y1="500.4" x2="240.4" y2="500.4" stroke="#f2f2f2" stroke-width="0.8"/>
<line x1="46.0" y1="479.19999999999993" x2="240.4" y2="479.19999999999993" stroke="#f2f2f2" stroke-width="0.8"/>
<line x1="94.25" y1="477.5" x2="94.25" y2="648.8" stroke="#fafafa" stroke-width="1.0"/>
<line x1="142.5" y1="477.5" x2="142.5" y2="648.8" stroke="#fafafa" stroke-width="1.0"/>
<line x1="190.75" y1="477.5" x2="190.75" y2="648.8" stroke="#fafafa" stroke-width="1.0"/>
<rect x="62.80" y="647.00" width="2.45" height="1.80" fill="#36a02d"/>
<rect x="75.05" y="639.10" width="2.45" height="9.70" fill="#8f5db8"/>
<rect x="82.40" y="643.30" width="2.45" height="5.50" fill="#8f5db8"/>
<rect x="87.30" y="643.00" width="2.45" height="5.80" fill="#8f5db8"/>
<rect x="89.75" y="646.00" width="2.45" height="2.80" fill="#8f5db8"/>
<rect x="92.20" y="643.00" width="2.45" height="5.80" fill="#8f5db8"/>
<rect x="94.65" y="615.00" width="2.45" height="33.80" fill="#8f5db8"/>
<rect x="97.10" y="629.00" width="2.45" height="19.80" fill="#8f5db8"/>
<rect x="99.55" y="615.00" width="2.45" height="33.80" fill="#8f5db8"/>
<rect x="102.00" y="609.00" width="2.45" height="39.80" fill="#8f5db8"/>
<rect x="104.45" y="619.00" width="2.45" height="29.80" fill="#8f5db8"/>
<rect x="106.90" y="605.60" width="2.45" height="43.20" fill="#8f5db8"/>
<rect x="109.35" y="602.30" width="2.45" height="46.50" fill="#8f5db8"/>
<rect x="111.80" y="571.40" width="2.45" height="77.40" fill="#8f5db8"/>
<rect x="114.25" y="574.80" width="2.45" height="74.00" fill="#8f5db8"/>
<rect x="116.70" y="534.00" width="2.45" height="114.80" fill="#8f5db8"/>
<rect x="119.15" y="496.80" width="2.45" height="152.00" fill="#8f5db8"/>
<rect x="121.60" y="534.00" width="2.45" height="114.80" fill="#8f5db8"/>
<rect x="124.05" y="547.00" width="2.45" height="101.80" fill="#8f5db8"/>
<rect x="126.50" y="544.00" width="2.45" height="104.80" fill="#8f5db8"/>
<rect x="128.95" y="539.50" width="2.45" height="109.30" fill="#36a02d"/>
<rect x="131.40" y="539.50" width="2.45" height="109.30" fill="#36a02d"/>
<rect x="133.85" y="510.40" width="2.45" height="138.40" fill="#36a02d"/>
<rect x="136.30" y="511.60" width="2.45" height="137.20" fill="#36a02d"/>
<rect x="138.75" y="505.40" width="2.45" height="143.40" fill="#36a02d"/>
<rect x="141.20" y="495.50" width="2.45" height="153.30" fill="#36a02d"/>
<rect x="143.65" y="500.50" width="2.45" height="148.30" fill="#36a02d"/>
<rect x="146.10" y="522.20" width="2.45" height="126.60" fill="#36a02d"/>
<rect x="148.55" y="539.50" width="2.45" height="109.30" fill="#36a02d"/>
<rect x="151.00" y="556.20" width="2.45" height="92.60" fill="#36a02d"/>
<rect x="153.45" y="583.30" width="2.45" height="65.50" fill="#36a02d"/>
<rect x="155.90" y="578.40" width="2.45" height="70.40" fill="#36a02d"/>
<rect x="158.35" y="600.30" width="2.45" height="48.50" fill="#36a02d"/>
<rect x="160.80" y="591.10" width="2.45" height="57.70" fill="#36a02d"/>
<rect x="163.25" y="620.20" width="2.45" height="28.60" fill="#36a02d"/>
<rect x="165.70" y="624.40" width="2.45" height="24.40" fill="#36a02d"/>
<rect x="168.15" y="631.90" width="2.45" height="16.90" fill="#36a02d"/>
<rect x="170.60" y="628.50" width="2.45" height="20.30" fill="#36a02d"/>
<rect x="173.05" y="625.10" width="2.45" height="23.70" fill="#36a02d"/>
<rect x="175.50" y="642.60" width="2.45" height="6.20" fill="#36a02d"/>
<rect x="177.95" y="636.30" width="2.45" height="12.50" fill="#36a02d"/>
<rect x="180.40" y="640.20" width="2.45" height="8.60" fill="#36a02d"/>
<rect x="182.85" y="645.50" width="2.45" height="3.30" fill="#36a02d"/>
<rect x="185.30" y="640.20" width="2.45" height="8.60" fill="#36a02d"/>
<rect x="187.75" y="643.10" width="2.45" height="5.70" fill="#8f5db8"/>
<rect x="190.20" y="647.00" width="2.45" height="1.80" fill="#36a02d"/>
<rect x="192.65" y="643.10" width="2.45" height="5.70" fill="#8f5db8"/>
<rect x="195.10" y="647.00" width="2.45" height="1.80" fill="#36a02d"/>
<rect x="200.00" y="646.00" width="2.45" height="2.80" fill="#8f5db8"/>
<rect x="202.45" y="647.00" width="2.45" height="1.80" fill="#36a02d"/>
<rect x="204.90" y="647.00" width="2.45" height="1.80" fill="#36a02d"/>
<rect x="212.25" y="647.00" width="2.45" height="1.80" fill="#36a02d"/>
<rect x="74.90" y="647.50" width="2.75" height="1.30" fill="#413566"/>
<rect x="94.50" y="647.00" width="2.75" height="1.80" fill="#413566"/>
<rect x="99.40" y="644.60" width="2.75" height="4.20" fill="#413566"/>
<rect x="101.85" y="642.00" width="2.75" height="6.80" fill="#413566"/>
<rect x="104.30" y="634.50" width="2.75" height="14.30" fill="#413566"/>
<rect x="106.75" y="625.00" width="2.75" height="23.80" fill="#413566"/>
<rect x="109.20" y="631.80" width="2.75" height="17.00" fill="#413566"/>
<rect x="111.65" y="627.00" width="2.75" height="21.80" fill="#413566"/>
<rect x="114.10" y="598.00" width="2.75" height="50.80" fill="#413566"/>
<rect x="116.55" y="625.00" width="2.75" height="23.80" fill="#413566"/>
<rect x="119.00" y="586.00" width="2.75" height="62.80" fill="#413566"/>
<rect x="121.45" y="597.50" width="2.75" height="51.30" fill="#413566"/>
<rect x="123.90" y="566.00" width="2.75" height="82.80" fill="#413566"/>
<rect x="126.35" y="573.00" width="2.75" height="75.80" fill="#413566"/>
<rect x="128.80" y="555.00" width="2.75" height="93.80" fill="#413566"/>
<rect x="131.25" y="550.70" width="2.75" height="98.10" fill="#413566"/>
<rect x="133.70" y="548.20" width="2.75" height="100.60" fill="#413566"/>
<rect x="136.15" y="517.20" width="2.75" height="131.60" fill="#413566"/>
<rect x="138.60" y="560.60" width="2.75" height="88.20" fill="#413566"/>
<rect x="141.05" y="547.60" width="2.75" height="101.20" fill="#413566"/>
<rect x="143.50" y="584.70" width="2.75" height="64.10" fill="#413566"/>
<rect x="145.95" y="589.00" width="2.75" height="59.80" fill="#413566"/>
<rect x="148.40" y="589.00" width="2.75" height="59.80" fill="#413566"/>
<rect x="150.85" y="614.50" width="2.75" height="34.30" fill="#413566"/>
<rect x="153.30" y="591.80" width="2.75" height="57.00" fill="#413566"/>
<rect x="155.75" y="624.40" width="2.75" height="24.40" fill="#413566"/>
<rect x="158.20" y="611.70" width="2.75" height="37.10" fill="#413566"/>
<rect x="160.65" y="618.70" width="2.75" height="30.10" fill="#413566"/>
<rect x="163.10" y="620.20" width="2.75" height="28.60" fill="#413566"/>
<rect x="165.55" y="624.40" width="2.75" height="24.40" fill="#413566"/>
<rect x="168.00" y="642.10" width="2.75" height="6.70" fill="#413566"/>
<rect x="170.45" y="634.00" width="2.75" height="14.80" fill="#413566"/>
<rect x="172.90" y="632.90" width="2.75" height="15.90" fill="#413566"/>
<rect x="175.35" y="642.60" width="2.75" height="6.20" fill="#413566"/>
<rect x="177.80" y="636.30" width="2.75" height="12.50" fill="#413566"/>
<rect x="180.25" y="645.50" width="2.75" height="3.30" fill="#413566"/>
<rect x="182.70" y="645.50" width="2.75" height="3.30" fill="#413566"/>
<rect x="185.15" y="646.50" width="2.75" height="2.30" fill="#413566"/>
<rect x="187.60" y="646.50" width="2.75" height="2.30" fill="#413566"/>
<rect x="192.50" y="647.00" width="2.75" height="1.80" fill="#413566"/>
<rect x="212.10" y="647.00" width="2.75" height="1.80" fill="#413566"/>
<line x1="102.00" y1="644.60" x2="102.00" y2="648.80" stroke="#6a5c92" stroke-width="0.45"/>
<line x1="104.45" y1="642.00" x2="104.45" y2="648.80" stroke="#6a5c92" stroke-width="0.45"/>
<line x1="106.90" y1="634.50" x2="106.90" y2="648.80" stroke="#6a5c92" stroke-width="0.45"/>
<line x1="109.35" y1="631.80" x2="109.35" y2="648.80" stroke="#6a5c92" stroke-width="0.45"/>
<line x1="111.80" y1="631.80" x2="111.80" y2="648.80" stroke="#6a5c92" stroke-width="0.45"/>
<line x1="114.25" y1="627.00" x2="114.25" y2="648.80" stroke="#6a5c92" stroke-width="0.45"/>
<line x1="116.70" y1="625.00" x2="116.70" y2="648.80" stroke="#6a5c92" stroke-width="0.45"/>
<line x1="119.15" y1="625.00" x2="119.15" y2="648.80" stroke="#6a5c92" stroke-width="0.45"/>
<line x1="121.60" y1="597.50" x2="121.60" y2="648.80" stroke="#6a5c92" stroke-width="0.45"/>
<line x1="124.05" y1="597.50" x2="124.05" y2="648.80" stroke="#6a5c92" stroke-width="0.45"/>
<line x1="126.50" y1="573.00" x2="126.50" y2="648.80" stroke="#6a5c92" stroke-width="0.45"/>
<line x1="128.95" y1="573.00" x2="128.95" y2="648.80" stroke="#6a5c92" stroke-width="0.45"/>
<line x1="131.40" y1="555.00" x2="131.40" y2="648.80" stroke="#6a5c92" stroke-width="0.45"/>
<line x1="133.85" y1="550.70" x2="133.85" y2="648.80" stroke="#6a5c92" stroke-width="0.45"/>
<line x1="136.30" y1="548.20" x2="136.30" y2="648.80" stroke="#6a5c92" stroke-width="0.45"/>
<line x1="138.75" y1="560.60" x2="138.75" y2="648.80" stroke="#6a5c92" stroke-width="0.45"/>
<line x1="141.20" y1="560.60" x2="141.20" y2="648.80" stroke="#6a5c92" stroke-width="0.45"/>
<line x1="143.65" y1="584.70" x2="143.65" y2="648.80" stroke="#6a5c92" stroke-width="0.45"/>
<line x1="146.10" y1="589.00" x2="146.10" y2="648.80" stroke="#6a5c92" stroke-width="0.45"/>
<line x1="148.55" y1="589.00" x2="148.55" y2="648.80" stroke="#6a5c92" stroke-width="0.45"/>
<line x1="151.00" y1="614.50" x2="151.00" y2="648.80" stroke="#6a5c92" stroke-width="0.45"/>
<line x1="153.45" y1="614.50" x2="153.45" y2="648.80" stroke="#6a5c92" stroke-width="0.45"/>
<line x1="155.90" y1="624.40" x2="155.90" y2="648.80" stroke="#6a5c92" stroke-width="0.45"/>
<line x1="158.35" y1="624.40" x2="158.35" y2="648.80" stroke="#6a5c92" stroke-width="0.45"/>
<line x1="160.80" y1="618.70" x2="160.80" y2="648.80" stroke="#6a5c92" stroke-width="0.45"/>
<line x1="163.25" y1="620.20" x2="163.25" y2="648.80" stroke="#6a5c92" stroke-width="0.45"/>
<line x1="165.70" y1="624.40" x2="165.70" y2="648.80" stroke="#6a5c92" stroke-width="0.45"/>
<line x1="168.15" y1="642.10" x2="168.15" y2="648.80" stroke="#6a5c92" stroke-width="0.45"/>
<line x1="170.60" y1="642.10" x2="170.60" y2="648.80" stroke="#6a5c92" stroke-width="0.45"/>
<line x1="173.05" y1="634.00" x2="173.05" y2="648.80" stroke="#6a5c92" stroke-width="0.45"/>
<line x1="175.50" y1="642.60" x2="175.50" y2="648.80" stroke="#6a5c92" stroke-width="0.45"/>
<line x1="177.95" y1="642.60" x2="177.95" y2="648.80" stroke="#6a5c92" stroke-width="0.45"/>
<line x1="180.40" y1="645.50" x2="180.40" y2="648.80" stroke="#6a5c92" stroke-width="0.45"/>
<line x1="182.85" y1="645.50" x2="182.85" y2="648.80" stroke="#6a5c92" stroke-width="0.45"/>
<line x1="185.30" y1="646.50" x2="185.30" y2="648.80" stroke="#6a5c92" stroke-width="0.45"/>
<line x1="187.75" y1="646.50" x2="187.75" y2="648.80" stroke="#6a5c92" stroke-width="0.45"/>
<rect x="149.8" y="485.3" width="17" height="5.8" fill="#36a02d"/>
<rect x="149.8" y="498.2" width="17" height="5.8" fill="#8f5db8"/>
<text x="171.2" y="491.3" font-size="9.15" fill="#111">CDS−UTR</text>
<text x="171.2" y="504.2" font-size="9.15" fill="#111">Body−tail</text>
<text x="46.0" y="661.8" font-size="10.6" text-anchor="middle" fill="#111">−1.0</text>
<text x="94.25" y="661.8" font-size="10.6" text-anchor="middle" fill="#111">−0.5</text>
<text x="142.5" y="661.8" font-size="10.6" text-anchor="middle" fill="#111">0.0</text>
<text x="190.75" y="661.8" font-size="10.6" text-anchor="middle" fill="#111">0.5</text>
<text x="239.0" y="661.8" font-size="10.6" text-anchor="middle" fill="#111">1.0</text>
<text x="142.8" y="677.5" font-size="10.6" text-anchor="middle" fill="#111">Log<tspan font-size="7.4" dy="2.6">2</tspan><tspan dy="-2.6">(FC) difference</tspan></text>
<text x="0" y="0" font-size="10.6" text-anchor="middle" fill="#111" transform="translate(40.9,563.4) rotate(-90)">Frequency</text>
<circle cx="388.1" cy="532.5" r="44.2" fill="#0a0aa6"/>
<circle cx="399.8" cy="538.9" r="25.1" fill="#0a990a"/>
<text x="368.6" y="517.5" font-size="10.6" text-anchor="middle" fill="#dcdcff">49</text>
<text x="394.4" y="539.8" font-size="10.6" text-anchor="middle" fill="#dcffdc">28</text>
<circle cx="454.6" cy="553.2" r="2.0" fill="#1515d0"/>
<circle cx="454.6" cy="564.4" r="2.0" fill="#138a13"/>
<text x="461.6" y="556.1" font-size="9.1" fill="#111">Body</text>
<text x="461.6" y="567.4" font-size="9.1" fill="#111">Whole transcript</text>
<path d="M308.9,622.6l1.4,1.4l-1.4,1.4l-1.4,-1.4zM313.7,622.3l1.4,1.4l-1.4,1.4l-1.4,-1.4zM305.9,635.4l1.4,1.4l-1.4,1.4l-1.4,-1.4zM302.1,629.7l1.4,1.4l-1.4,1.4l-1.4,-1.4zM304.4,626.0l1.4,1.4l-1.4,1.4l-1.4,-1.4zM301.7,621.3l1.4,1.4l-1.4,1.4l-1.4,-1.4zM309.7,630.9l1.4,1.4l-1.4,1.4l-1.4,-1.4zM358.4,631.7l1.4,1.4l-1.4,1.4l-1.4,-1.4zM304.2,619.9l1.4,1.4l-1.4,1.4l-1.4,-1.4zM303.4,619.1l1.4,1.4l-1.4,1.4l-1.4,-1.4zM318.0,623.9l1.4,1.4l-1.4,1.4l-1.4,-1.4zM314.9,630.1l1.4,1.4l-1.4,1.4l-1.4,-1.4zM310.4,623.9l1.4,1.4l-1.4,1.4l-1.4,-1.4zM302.0,626.5l1.4,1.4l-1.4,1.4l-1.4,-1.4zM308.5,621.1l1.4,1.4l-1.4,1.4l-1.4,-1.4zM324.0,633.4l1.4,1.4l-1.4,1.4l-1.4,-1.4zM300.8,626.6l1.4,1.4l-1.4,1.4l-1.4,-1.4zM304.4,628.2l1.4,1.4l-1.4,1.4l-1.4,-1.4zM299.9,636.4l1.4,1.4l-1.4,1.4l-1.4,-1.4zM300.9,625.8l1.4,1.4l-1.4,1.4l-1.4,-1.4zM300.0,627.4l1.4,1.4l-1.4,1.4l-1.4,-1.4zM306.3,629.7l1.4,1.4l-1.4,1.4l-1.4,-1.4zM301.0,624.4l1.4,1.4l-1.4,1.4l-1.4,-1.4zM313.2,635.4l1.4,1.4l-1.4,1.4l-1.4,-1.4zM311.2,626.8l1.4,1.4l-1.4,1.4l-1.4,-1.4zM306.7,623.9l1.4,1.4l-1.4,1.4l-1.4,-1.4zM299.5,625.5l1.4,1.4l-1.4,1.4l-1.4,-1.4zM303.9,619.3l1.4,1.4l-1.4,1.4l-1.4,-1.4zM308.3,634.8l1.4,1.4l-1.4,1.4l-1.4,-1.4zM310.5,636.4l1.4,1.4l-1.4,1.4l-1.4,-1.4zM300.4,625.7l1.4,1.4l-1.4,1.4l-1.4,-1.4zM304.3,623.8l1.4,1.4l-1.4,1.4l-1.4,-1.4zM301.8,611.4l1.4,1.4l-1.4,1.4l-1.4,-1.4zM302.5,622.7l1.4,1.4l-1.4,1.4l-1.4,-1.4zM339.8,630.5l1.4,1.4l-1.4,1.4l-1.4,-1.4zM302.5,621.3l1.4,1.4l-1.4,1.4l-1.4,-1.4zM308.5,632.4l1.4,1.4l-1.4,1.4l-1.4,-1.4zM331.2,634.3l1.4,1.4l-1.4,1.4l-1.4,-1.4zM303.6,608.2l1.4,1.4l-1.4,1.4l-1.4,-1.4zM307.5,624.5l1.4,1.4l-1.4,1.4l-1.4,-1.4zM310.4,621.9l1.4,1.4l-1.4,1.4l-1.4,-1.4zM309.8,622.9l1.4,1.4l-1.4,1.4l-1.4,-1.4zM301.1,613.6l1.4,1.4l-1.4,1.4l-1.4,-1.4zM309.9,624.7l1.4,1.4l-1.4,1.4l-1.4,-1.4zM359.9,618.9l1.4,1.4l-1.4,1.4l-1.4,-1.4zM300.4,635.6l1.4,1.4l-1.4,1.4l-1.4,-1.4zM330.1,633.8l1.4,1.4l-1.4,1.4l-1.4,-1.4zM310.6,617.2l1.4,1.4l-1.4,1.4l-1.4,-1.4zM303.3,616.4l1.4,1.4l-1.4,1.4l-1.4,-1.4zM443.4,622.5l1.4,1.4l-1.4,1.4l-1.4,-1.4zM326.3,624.6l1.4,1.4l-1.4,1.4l-1.4,-1.4zM301.1,624.7l1.4,1.4l-1.4,1.4l-1.4,-1.4zM309.9,631.1l1.4,1.4l-1.4,1.4l-1.4,-1.4zM320.3,616.8l1.4,1.4l-1.4,1.4l-1.4,-1.4zM306.7,622.3l1.4,1.4l-1.4,1.4l-1.4,-1.4zM323.6,623.0l1.4,1.4l-1.4,1.4l-1.4,-1.4zM308.1,624.2l1.4,1.4l-1.4,1.4l-1.4,-1.4zM323.0,619.7l1.4,1.4l-1.4,1.4l-1.4,-1.4zM366.8,622.7l1.4,1.4l-1.4,1.4l-1.4,-1.4zM303.1,621.7l1.4,1.4l-1.4,1.4l-1.4,-1.4zM311.9,634.0l1.4,1.4l-1.4,1.4l-1.4,-1.4zM304.4,623.4l1.4,1.4l-1.4,1.4l-1.4,-1.4zM310.7,612.2l1.4,1.4l-1.4,1.4l-1.4,-1.4zM301.2,636.2l1.4,1.4l-1.4,1.4l-1.4,-1.4zM303.6,628.1l1.4,1.4l-1.4,1.4l-1.4,-1.4zM306.6,620.7l1.4,1.4l-1.4,1.4l-1.4,-1.4zM331.8,620.3l1.4,1.4l-1.4,1.4l-1.4,-1.4zM344.7,622.1l1.4,1.4l-1.4,1.4l-1.4,-1.4zM300.8,640.0l1.4,1.4l-1.4,1.4l-1.4,-1.4zM302.5,623.5l1.4,1.4l-1.4,1.4l-1.4,-1.4zM322.4,633.1l1.4,1.4l-1.4,1.4l-1.4,-1.4zM299.9,634.2l1.4,1.4l-1.4,1.4l-1.4,-1.4zM304.4,623.1l1.4,1.4l-1.4,1.4l-1.4,-1.4zM307.7,628.7l1.4,1.4l-1.4,1.4l-1.4,-1.4zM352.1,621.1l1.4,1.4l-1.4,1.4l-1.4,-1.4zM323.8,607.3l1.4,1.4l-1.4,1.4l-1.4,-1.4zM305.4,621.5l1.4,1.4l-1.4,1.4l-1.4,-1.4zM305.1,621.9l1.4,1.4l-1.4,1.4l-1.4,-1.4zM306.1,633.1l1.4,1.4l-1.4,1.4l-1.4,-1.4zM375.0,628.7l1.4,1.4l-1.4,1.4l-1.4,-1.4zM304.6,634.6l1.4,1.4l-1.4,1.4l-1.4,-1.4zM305.6,630.6l1.4,1.4l-1.4,1.4l-1.4,-1.4zM314.8,633.2l1.4,1.4l-1.4,1.4l-1.4,-1.4zM307.4,631.3l1.4,1.4l-1.4,1.4l-1.4,-1.4zM306.6,628.3l1.4,1.4l-1.4,1.4l-1.4,-1.4zM301.4,644.2l1.4,1.4l-1.4,1.4l-1.4,-1.4zM308.7,636.2l1.4,1.4l-1.4,1.4l-1.4,-1.4zM304.5,636.7l1.4,1.4l-1.4,1.4l-1.4,-1.4zM346.0,623.0l1.4,1.4l-1.4,1.4l-1.4,-1.4zM322.6,625.6l1.4,1.4l-1.4,1.4l-1.4,-1.4zM308.6,619.8l1.4,1.4l-1.4,1.4l-1.4,-1.4zM323.1,619.8l1.4,1.4l-1.4,1.4l-1.4,-1.4zM305.3,629.3l1.4,1.4l-1.4,1.4l-1.4,-1.4zM339.3,621.9l1.4,1.4l-1.4,1.4l-1.4,-1.4zM308.8,636.3l1.4,1.4l-1.4,1.4l-1.4,-1.4zM320.5,612.3l1.4,1.4l-1.4,1.4l-1.4,-1.4zM300.9,618.3l1.4,1.4l-1.4,1.4l-1.4,-1.4zM314.7,627.7l1.4,1.4l-1.4,1.4l-1.4,-1.4zM300.2,636.7l1.4,1.4l-1.4,1.4l-1.4,-1.4zM299.8,624.7l1.4,1.4l-1.4,1.4l-1.4,-1.4zM305.6,640.0l1.4,1.4l-1.4,1.4l-1.4,-1.4zM302.1,633.2l1.4,1.4l-1.4,1.4l-1.4,-1.4zM311.3,621.6l1.4,1.4l-1.4,1.4l-1.4,-1.4zM499.8,624.6l1.4,1.4l-1.4,1.4l-1.4,-1.4zM302.4,630.9l1.4,1.4l-1.4,1.4l-1.4,-1.4zM303.4,620.2l1.4,1.4l-1.4,1.4l-1.4,-1.4zM312.0,641.2l1.4,1.4l-1.4,1.4l-1.4,-1.4zM318.1,624.4l1.4,1.4l-1.4,1.4l-1.4,-1.4zM306.8,630.2l1.4,1.4l-1.4,1.4l-1.4,-1.4zM306.5,632.7l1.4,1.4l-1.4,1.4l-1.4,-1.4zM324.2,623.2l1.4,1.4l-1.4,1.4l-1.4,-1.4zM318.7,632.2l1.4,1.4l-1.4,1.4l-1.4,-1.4zM301.6,613.0l1.4,1.4l-1.4,1.4l-1.4,-1.4zM307.9,630.7l1.4,1.4l-1.4,1.4l-1.4,-1.4zM309.4,613.4l1.4,1.4l-1.4,1.4l-1.4,-1.4zM301.5,635.7l1.4,1.4l-1.4,1.4l-1.4,-1.4zM313.0,622.5l1.4,1.4l-1.4,1.4l-1.4,-1.4zM302.2,636.2l1.4,1.4l-1.4,1.4l-1.4,-1.4zM335.2,633.3l1.4,1.4l-1.4,1.4l-1.4,-1.4zM311.8,625.4l1.4,1.4l-1.4,1.4l-1.4,-1.4zM310.1,622.1l1.4,1.4l-1.4,1.4l-1.4,-1.4zM303.6,636.4l1.4,1.4l-1.4,1.4l-1.4,-1.4zM307.5,618.7l1.4,1.4l-1.4,1.4l-1.4,-1.4zM299.9,634.0l1.4,1.4l-1.4,1.4l-1.4,-1.4zM301.3,626.4l1.4,1.4l-1.4,1.4l-1.4,-1.4zM315.0,623.9l1.4,1.4l-1.4,1.4l-1.4,-1.4zM299.7,623.0l1.4,1.4l-1.4,1.4l-1.4,-1.4zM329.6,636.2l1.4,1.4l-1.4,1.4l-1.4,-1.4zM300.1,614.9l1.4,1.4l-1.4,1.4l-1.4,-1.4zM326.1,622.6l1.4,1.4l-1.4,1.4l-1.4,-1.4zM302.3,630.5l1.4,1.4l-1.4,1.4l-1.4,-1.4zM326.9,631.9l1.4,1.4l-1.4,1.4l-1.4,-1.4zM310.8,637.6l1.4,1.4l-1.4,1.4l-1.4,-1.4zM300.4,638.2l1.4,1.4l-1.4,1.4l-1.4,-1.4zM351.5,622.5l1.4,1.4l-1.4,1.4l-1.4,-1.4zM367.0,627.2l1.4,1.4l-1.4,1.4l-1.4,-1.4zM308.1,634.3l1.4,1.4l-1.4,1.4l-1.4,-1.4zM305.9,630.6l1.4,1.4l-1.4,1.4l-1.4,-1.4zM307.0,616.1l1.4,1.4l-1.4,1.4l-1.4,-1.4zM301.8,629.9l1.4,1.4l-1.4,1.4l-1.4,-1.4zM341.9,628.9l1.4,1.4l-1.4,1.4l-1.4,-1.4zM303.9,617.4l1.4,1.4l-1.4,1.4l-1.4,-1.4zM308.2,623.6l1.4,1.4l-1.4,1.4l-1.4,-1.4zM302.5,626.9l1.4,1.4l-1.4,1.4l-1.4,-1.4zM303.4,631.6l1.4,1.4l-1.4,1.4l-1.4,-1.4zM300.9,639.4l1.4,1.4l-1.4,1.4l-1.4,-1.4zM352.1,631.9l1.4,1.4l-1.4,1.4l-1.4,-1.4zM307.1,630.1l1.4,1.4l-1.4,1.4l-1.4,-1.4zM334.9,627.0l1.4,1.4l-1.4,1.4l-1.4,-1.4zM309.1,624.3l1.4,1.4l-1.4,1.4l-1.4,-1.4zM303.0,623.2l1.4,1.4l-1.4,1.4l-1.4,-1.4zM305.4,625.4l1.4,1.4l-1.4,1.4l-1.4,-1.4zM303.7,625.5l1.4,1.4l-1.4,1.4l-1.4,-1.4zM309.0,633.4l1.4,1.4l-1.4,1.4l-1.4,-1.4zM305.0,642.2l1.4,1.4l-1.4,1.4l-1.4,-1.4zM305.7,630.6l1.4,1.4l-1.4,1.4l-1.4,-1.4zM300.7,634.9l1.4,1.4l-1.4,1.4l-1.4,-1.4zM302.5,632.1l1.4,1.4l-1.4,1.4l-1.4,-1.4zM389.6,626.7l1.4,1.4l-1.4,1.4l-1.4,-1.4zM303.1,636.3l1.4,1.4l-1.4,1.4l-1.4,-1.4zM301.5,635.8l1.4,1.4l-1.4,1.4l-1.4,-1.4zM314.5,626.9l1.4,1.4l-1.4,1.4l-1.4,-1.4zM364.0,624.8l1.4,1.4l-1.4,1.4l-1.4,-1.4zM300.6,632.6l1.4,1.4l-1.4,1.4l-1.4,-1.4zM306.5,623.4l1.4,1.4l-1.4,1.4l-1.4,-1.4zM303.3,628.8l1.4,1.4l-1.4,1.4l-1.4,-1.4zM300.1,635.6l1.4,1.4l-1.4,1.4l-1.4,-1.4zM325.3,625.7l1.4,1.4l-1.4,1.4l-1.4,-1.4zM308.6,598.9l1.4,1.4l-1.4,1.4l-1.4,-1.4zM309.9,631.0l1.4,1.4l-1.4,1.4l-1.4,-1.4zM302.7,618.6l1.4,1.4l-1.4,1.4l-1.4,-1.4zM317.1,617.7l1.4,1.4l-1.4,1.4l-1.4,-1.4zM303.9,603.3l1.4,1.4l-1.4,1.4l-1.4,-1.4zM307.2,632.4l1.4,1.4l-1.4,1.4l-1.4,-1.4zM301.4,612.1l1.4,1.4l-1.4,1.4l-1.4,-1.4zM301.1,626.6l1.4,1.4l-1.4,1.4l-1.4,-1.4zM358.0,626.8l1.4,1.4l-1.4,1.4l-1.4,-1.4zM304.1,628.7l1.4,1.4l-1.4,1.4l-1.4,-1.4zM313.6,622.5l1.4,1.4l-1.4,1.4l-1.4,-1.4zM308.5,626.3l1.4,1.4l-1.4,1.4l-1.4,-1.4zM304.5,628.3l1.4,1.4l-1.4,1.4l-1.4,-1.4zM304.1,617.9l1.4,1.4l-1.4,1.4l-1.4,-1.4zM321.9,630.4l1.4,1.4l-1.4,1.4l-1.4,-1.4zM305.6,634.2l1.4,1.4l-1.4,1.4l-1.4,-1.4zM307.1,621.4l1.4,1.4l-1.4,1.4l-1.4,-1.4zM309.2,621.9l1.4,1.4l-1.4,1.4l-1.4,-1.4zM346.6,619.5l1.4,1.4l-1.4,1.4l-1.4,-1.4zM323.5,632.3l1.4,1.4l-1.4,1.4l-1.4,-1.4zM315.4,619.5l1.4,1.4l-1.4,1.4l-1.4,-1.4zM303.7,623.6l1.4,1.4l-1.4,1.4l-1.4,-1.4zM300.7,613.9l1.4,1.4l-1.4,1.4l-1.4,-1.4zM334.1,632.8l1.4,1.4l-1.4,1.4l-1.4,-1.4zM334.9,624.5l1.4,1.4l-1.4,1.4l-1.4,-1.4zM307.2,630.9l1.4,1.4l-1.4,1.4l-1.4,-1.4zM319.3,635.8l1.4,1.4l-1.4,1.4l-1.4,-1.4zM327.0,630.1l1.4,1.4l-1.4,1.4l-1.4,-1.4zM329.0,619.3l1.4,1.4l-1.4,1.4l-1.4,-1.4zM332.8,628.4l1.4,1.4l-1.4,1.4l-1.4,-1.4zM304.4,632.2l1.4,1.4l-1.4,1.4l-1.4,-1.4zM374.1,620.7l1.4,1.4l-1.4,1.4l-1.4,-1.4zM301.0,619.9l1.4,1.4l-1.4,1.4l-1.4,-1.4zM330.2,620.1l1.4,1.4l-1.4,1.4l-1.4,-1.4zM318.1,631.0l1.4,1.4l-1.4,1.4l-1.4,-1.4zM330.7,626.1l1.4,1.4l-1.4,1.4l-1.4,-1.4zM421.6,619.9l1.4,1.4l-1.4,1.4l-1.4,-1.4zM371.1,628.8l1.4,1.4l-1.4,1.4l-1.4,-1.4zM301.3,633.2l1.4,1.4l-1.4,1.4l-1.4,-1.4zM300.2,621.1l1.4,1.4l-1.4,1.4l-1.4,-1.4zM328.4,616.8l1.4,1.4l-1.4,1.4l-1.4,-1.4zM301.7,636.1l1.4,1.4l-1.4,1.4l-1.4,-1.4zM308.7,644.0l1.4,1.4l-1.4,1.4l-1.4,-1.4zM329.3,634.2l1.4,1.4l-1.4,1.4l-1.4,-1.4zM300.3,635.5l1.4,1.4l-1.4,1.4l-1.4,-1.4zM299.8,628.8l1.4,1.4l-1.4,1.4l-1.4,-1.4zM312.9,622.5l1.4,1.4l-1.4,1.4l-1.4,-1.4zM309.5,627.6l1.4,1.4l-1.4,1.4l-1.4,-1.4zM306.2,631.7l1.4,1.4l-1.4,1.4l-1.4,-1.4zM309.4,625.6l1.4,1.4l-1.4,1.4l-1.4,-1.4zM302.2,634.5l1.4,1.4l-1.4,1.4l-1.4,-1.4zM300.5,627.9l1.4,1.4l-1.4,1.4l-1.4,-1.4zM306.9,631.2l1.4,1.4l-1.4,1.4l-1.4,-1.4zM301.8,607.2l1.4,1.4l-1.4,1.4l-1.4,-1.4zM300.3,621.2l1.4,1.4l-1.4,1.4l-1.4,-1.4zM318.4,637.4l1.4,1.4l-1.4,1.4l-1.4,-1.4zM308.1,633.4l1.4,1.4l-1.4,1.4l-1.4,-1.4zM316.0,632.3l1.4,1.4l-1.4,1.4l-1.4,-1.4zM301.7,639.8l1.4,1.4l-1.4,1.4l-1.4,-1.4zM303.2,632.5l1.4,1.4l-1.4,1.4l-1.4,-1.4zM301.7,632.9l1.4,1.4l-1.4,1.4l-1.4,-1.4zM302.1,620.7l1.4,1.4l-1.4,1.4l-1.4,-1.4zM311.8,629.2l1.4,1.4l-1.4,1.4l-1.4,-1.4zM302.6,633.1l1.4,1.4l-1.4,1.4l-1.4,-1.4zM314.9,634.7l1.4,1.4l-1.4,1.4l-1.4,-1.4zM314.5,633.7l1.4,1.4l-1.4,1.4l-1.4,-1.4zM448.3,625.4l1.4,1.4l-1.4,1.4l-1.4,-1.4zM300.7,629.2l1.4,1.4l-1.4,1.4l-1.4,-1.4zM331.3,619.3l1.4,1.4l-1.4,1.4l-1.4,-1.4zM307.8,631.0l1.4,1.4l-1.4,1.4l-1.4,-1.4zM308.7,619.6l1.4,1.4l-1.4,1.4l-1.4,-1.4zM300.6,625.5l1.4,1.4l-1.4,1.4l-1.4,-1.4zM304.4,627.1l1.4,1.4l-1.4,1.4l-1.4,-1.4zM325.6,637.7l1.4,1.4l-1.4,1.4l-1.4,-1.4zM307.9,635.5l1.4,1.4l-1.4,1.4l-1.4,-1.4zM310.0,621.7l1.4,1.4l-1.4,1.4l-1.4,-1.4zM305.7,617.1l1.4,1.4l-1.4,1.4l-1.4,-1.4zM345.2,624.4l1.4,1.4l-1.4,1.4l-1.4,-1.4zM308.6,621.6l1.4,1.4l-1.4,1.4l-1.4,-1.4zM299.7,630.9l1.4,1.4l-1.4,1.4l-1.4,-1.4zM303.0,629.9l1.4,1.4l-1.4,1.4l-1.4,-1.4zM299.9,632.9l1.4,1.4l-1.4,1.4l-1.4,-1.4zM299.3,619.9l1.4,1.4l-1.4,1.4l-1.4,-1.4zM303.9,624.6l1.4,1.4l-1.4,1.4l-1.4,-1.4zM357.8,626.7l1.4,1.4l-1.4,1.4l-1.4,-1.4zM309.5,628.8l1.4,1.4l-1.4,1.4l-1.4,-1.4zM301.2,623.2l1.4,1.4l-1.4,1.4l-1.4,-1.4zM301.9,624.9l1.4,1.4l-1.4,1.4l-1.4,-1.4zM343.8,630.2l1.4,1.4l-1.4,1.4l-1.4,-1.4zM311.2,615.3l1.4,1.4l-1.4,1.4l-1.4,-1.4zM309.5,624.9l1.4,1.4l-1.4,1.4l-1.4,-1.4zM308.2,626.6l1.4,1.4l-1.4,1.4l-1.4,-1.4zM309.4,616.8l1.4,1.4l-1.4,1.4l-1.4,-1.4zM327.9,619.9l1.4,1.4l-1.4,1.4l-1.4,-1.4zM319.6,626.6l1.4,1.4l-1.4,1.4l-1.4,-1.4zM312.2,623.0l1.4,1.4l-1.4,1.4l-1.4,-1.4zM301.6,635.5l1.4,1.4l-1.4,1.4l-1.4,-1.4zM318.5,630.1l1.4,1.4l-1.4,1.4l-1.4,-1.4zM303.0,643.8l1.4,1.4l-1.4,1.4l-1.4,-1.4zM341.6,618.8l1.4,1.4l-1.4,1.4l-1.4,-1.4zM300.9,642.1l1.4,1.4l-1.4,1.4l-1.4,-1.4zM307.2,622.1l1.4,1.4l-1.4,1.4l-1.4,-1.4zM308.8,632.2l1.4,1.4l-1.4,1.4l-1.4,-1.4zM300.8,635.1l1.4,1.4l-1.4,1.4l-1.4,-1.4zM398.2,626.2l1.4,1.4l-1.4,1.4l-1.4,-1.4zM368.8,623.9l1.4,1.4l-1.4,1.4l-1.4,-1.4zM304.4,622.7l1.4,1.4l-1.4,1.4l-1.4,-1.4zM326.7,615.5l1.4,1.4l-1.4,1.4l-1.4,-1.4zM315.4,624.0l1.4,1.4l-1.4,1.4l-1.4,-1.4zM299.5,620.7l1.4,1.4l-1.4,1.4l-1.4,-1.4zM312.8,630.2l1.4,1.4l-1.4,1.4l-1.4,-1.4zM308.1,621.9l1.4,1.4l-1.4,1.4l-1.4,-1.4zM310.0,625.6l1.4,1.4l-1.4,1.4l-1.4,-1.4zM301.5,630.9l1.4,1.4l-1.4,1.4l-1.4,-1.4zM305.9,627.6l1.4,1.4l-1.4,1.4l-1.4,-1.4zM306.8,627.2l1.4,1.4l-1.4,1.4l-1.4,-1.4zM347.4,624.5l1.4,1.4l-1.4,1.4l-1.4,-1.4zM314.4,623.8l1.4,1.4l-1.4,1.4l-1.4,-1.4zM308.8,634.1l1.4,1.4l-1.4,1.4l-1.4,-1.4zM375.5,629.2l1.4,1.4l-1.4,1.4l-1.4,-1.4zM303.8,621.7l1.4,1.4l-1.4,1.4l-1.4,-1.4zM304.9,639.0l1.4,1.4l-1.4,1.4l-1.4,-1.4zM300.0,632.5l1.4,1.4l-1.4,1.4l-1.4,-1.4zM379.8,617.1l1.4,1.4l-1.4,1.4l-1.4,-1.4zM334.8,641.1l1.4,1.4l-1.4,1.4l-1.4,-1.4zM332.6,629.7l1.4,1.4l-1.4,1.4l-1.4,-1.4zM323.1,621.9l1.4,1.4l-1.4,1.4l-1.4,-1.4zM310.4,637.4l1.4,1.4l-1.4,1.4l-1.4,-1.4zM312.2,609.7l1.4,1.4l-1.4,1.4l-1.4,-1.4zM306.1,644.8l1.4,1.4l-1.4,1.4l-1.4,-1.4zM306.6,616.9l1.4,1.4l-1.4,1.4l-1.4,-1.4zM309.6,616.3l1.4,1.4l-1.4,1.4l-1.4,-1.4zM373.8,620.5l1.4,1.4l-1.4,1.4l-1.4,-1.4zM319.7,627.4l1.4,1.4l-1.4,1.4l-1.4,-1.4zM308.2,624.3l1.4,1.4l-1.4,1.4l-1.4,-1.4zM303.6,633.6l1.4,1.4l-1.4,1.4l-1.4,-1.4zM303.3,621.3l1.4,1.4l-1.4,1.4l-1.4,-1.4zM383.5,638.1l1.4,1.4l-1.4,1.4l-1.4,-1.4zM318.4,627.8l1.4,1.4l-1.4,1.4l-1.4,-1.4zM309.8,620.0l1.4,1.4l-1.4,1.4l-1.4,-1.4zM305.3,634.8l1.4,1.4l-1.4,1.4l-1.4,-1.4zM301.4,630.2l1.4,1.4l-1.4,1.4l-1.4,-1.4zM308.1,625.6l1.4,1.4l-1.4,1.4l-1.4,-1.4zM330.7,633.5l1.4,1.4l-1.4,1.4l-1.4,-1.4zM304.9,618.7l1.4,1.4l-1.4,1.4l-1.4,-1.4zM306.3,624.5l1.4,1.4l-1.4,1.4l-1.4,-1.4zM306.4,637.3l1.4,1.4l-1.4,1.4l-1.4,-1.4zM310.4,626.9l1.4,1.4l-1.4,1.4l-1.4,-1.4zM300.3,633.6l1.4,1.4l-1.4,1.4l-1.4,-1.4zM306.3,631.4l1.4,1.4l-1.4,1.4l-1.4,-1.4zM302.3,626.7l1.4,1.4l-1.4,1.4l-1.4,-1.4zM331.2,629.9l1.4,1.4l-1.4,1.4l-1.4,-1.4zM302.6,620.1l1.4,1.4l-1.4,1.4l-1.4,-1.4zM320.3,630.3l1.4,1.4l-1.4,1.4l-1.4,-1.4zM375.1,620.1l1.4,1.4l-1.4,1.4l-1.4,-1.4zM305.5,627.2l1.4,1.4l-1.4,1.4l-1.4,-1.4zM303.5,620.9l1.4,1.4l-1.4,1.4l-1.4,-1.4zM311.7,630.0l1.4,1.4l-1.4,1.4l-1.4,-1.4zM308.9,630.0l1.4,1.4l-1.4,1.4l-1.4,-1.4zM301.7,636.1l1.4,1.4l-1.4,1.4l-1.4,-1.4zM317.3,618.3l1.4,1.4l-1.4,1.4l-1.4,-1.4zM446.4,620.3l1.4,1.4l-1.4,1.4l-1.4,-1.4zM306.0,612.2l1.4,1.4l-1.4,1.4l-1.4,-1.4zM306.6,617.9l1.4,1.4l-1.4,1.4l-1.4,-1.4zM301.6,625.5l1.4,1.4l-1.4,1.4l-1.4,-1.4zM314.1,627.7l1.4,1.4l-1.4,1.4l-1.4,-1.4zM301.0,624.5l1.4,1.4l-1.4,1.4l-1.4,-1.4zM301.4,627.6l1.4,1.4l-1.4,1.4l-1.4,-1.4zM353.7,617.5l1.4,1.4l-1.4,1.4l-1.4,-1.4zM302.1,620.3l1.4,1.4l-1.4,1.4l-1.4,-1.4zM340.9,630.3l1.4,1.4l-1.4,1.4l-1.4,-1.4zM375.1,628.9l1.4,1.4l-1.4,1.4l-1.4,-1.4zM312.9,617.7l1.4,1.4l-1.4,1.4l-1.4,-1.4zM319.7,624.2l1.4,1.4l-1.4,1.4l-1.4,-1.4zM434.4,626.3l1.4,1.4l-1.4,1.4l-1.4,-1.4zM306.6,618.7l1.4,1.4l-1.4,1.4l-1.4,-1.4zM303.6,630.0l1.4,1.4l-1.4,1.4l-1.4,-1.4zM300.8,632.3l1.4,1.4l-1.4,1.4l-1.4,-1.4zM309.4,629.7l1.4,1.4l-1.4,1.4l-1.4,-1.4zM370.6,648.2l1.4,1.4l-1.4,1.4l-1.4,-1.4zM334.6,620.8l1.4,1.4l-1.4,1.4l-1.4,-1.4zM301.9,636.4l1.4,1.4l-1.4,1.4l-1.4,-1.4zM302.3,631.5l1.4,1.4l-1.4,1.4l-1.4,-1.4zM304.1,632.4l1.4,1.4l-1.4,1.4l-1.4,-1.4zM313.6,621.7l1.4,1.4l-1.4,1.4l-1.4,-1.4zM306.5,627.9l1.4,1.4l-1.4,1.4l-1.4,-1.4zM312.1,626.3l1.4,1.4l-1.4,1.4l-1.4,-1.4zM313.7,637.0l1.4,1.4l-1.4,1.4l-1.4,-1.4zM305.7,627.5l1.4,1.4l-1.4,1.4l-1.4,-1.4zM308.4,636.6l1.4,1.4l-1.4,1.4l-1.4,-1.4zM312.0,624.5l1.4,1.4l-1.4,1.4l-1.4,-1.4zM307.9,624.2l1.4,1.4l-1.4,1.4l-1.4,-1.4zM318.3,626.3l1.4,1.4l-1.4,1.4l-1.4,-1.4zM420.3,614.7l1.4,1.4l-1.4,1.4l-1.4,-1.4zM320.7,622.9l1.4,1.4l-1.4,1.4l-1.4,-1.4zM309.6,622.7l1.4,1.4l-1.4,1.4l-1.4,-1.4zM300.2,626.5l1.4,1.4l-1.4,1.4l-1.4,-1.4zM315.6,627.5l1.4,1.4l-1.4,1.4l-1.4,-1.4zM299.9,620.0l1.4,1.4l-1.4,1.4l-1.4,-1.4zM300.6,619.0l1.4,1.4l-1.4,1.4l-1.4,-1.4zM329.9,633.3l1.4,1.4l-1.4,1.4l-1.4,-1.4zM324.3,619.7l1.4,1.4l-1.4,1.4l-1.4,-1.4zM307.1,623.3l1.4,1.4l-1.4,1.4l-1.4,-1.4zM300.2,620.1l1.4,1.4l-1.4,1.4l-1.4,-1.4zM305.1,623.7l1.4,1.4l-1.4,1.4l-1.4,-1.4zM303.1,636.3l1.4,1.4l-1.4,1.4l-1.4,-1.4zM322.1,633.0l1.4,1.4l-1.4,1.4l-1.4,-1.4zM503.4,615.9l1.4,1.4l-1.4,1.4l-1.4,-1.4zM312.2,622.9l1.4,1.4l-1.4,1.4l-1.4,-1.4zM302.6,637.7l1.4,1.4l-1.4,1.4l-1.4,-1.4zM301.2,624.8l1.4,1.4l-1.4,1.4l-1.4,-1.4zM308.2,629.1l1.4,1.4l-1.4,1.4l-1.4,-1.4zM306.8,639.5l1.4,1.4l-1.4,1.4l-1.4,-1.4zM301.2,644.9l1.4,1.4l-1.4,1.4l-1.4,-1.4zM310.5,637.0l1.4,1.4l-1.4,1.4l-1.4,-1.4zM301.2,625.4l1.4,1.4l-1.4,1.4l-1.4,-1.4zM342.7,625.9l1.4,1.4l-1.4,1.4l-1.4,-1.4zM339.9,627.0l1.4,1.4l-1.4,1.4l-1.4,-1.4zM341.1,624.0l1.4,1.4l-1.4,1.4l-1.4,-1.4zM304.3,622.8l1.4,1.4l-1.4,1.4l-1.4,-1.4zM318.6,639.0l1.4,1.4l-1.4,1.4l-1.4,-1.4zM307.3,628.8l1.4,1.4l-1.4,1.4l-1.4,-1.4zM304.9,632.8l1.4,1.4l-1.4,1.4l-1.4,-1.4zM305.3,635.6l1.4,1.4l-1.4,1.4l-1.4,-1.4zM300.9,631.7l1.4,1.4l-1.4,1.4l-1.4,-1.4zM300.6,628.5l1.4,1.4l-1.4,1.4l-1.4,-1.4zM327.5,627.4l1.4,1.4l-1.4,1.4l-1.4,-1.4zM306.7,636.8l1.4,1.4l-1.4,1.4l-1.4,-1.4zM312.2,629.5l1.4,1.4l-1.4,1.4l-1.4,-1.4zM336.7,614.3l1.4,1.4l-1.4,1.4l-1.4,-1.4zM300.1,635.9l1.4,1.4l-1.4,1.4l-1.4,-1.4zM302.6,639.8l1.4,1.4l-1.4,1.4l-1.4,-1.4zM311.5,624.7l1.4,1.4l-1.4,1.4l-1.4,-1.4zM315.6,622.5l1.4,1.4l-1.4,1.4l-1.4,-1.4zM305.0,623.7l1.4,1.4l-1.4,1.4l-1.4,-1.4zM338.1,631.9l1.4,1.4l-1.4,1.4l-1.4,-1.4zM312.1,620.0l1.4,1.4l-1.4,1.4l-1.4,-1.4zM301.1,633.5l1.4,1.4l-1.4,1.4l-1.4,-1.4zM302.0,635.9l1.4,1.4l-1.4,1.4l-1.4,-1.4zM327.9,629.4l1.4,1.4l-1.4,1.4l-1.4,-1.4zM317.3,626.9l1.4,1.4l-1.4,1.4l-1.4,-1.4zM299.9,622.0l1.4,1.4l-1.4,1.4l-1.4,-1.4zM359.0,622.1l1.4,1.4l-1.4,1.4l-1.4,-1.4zM320.9,626.2l1.4,1.4l-1.4,1.4l-1.4,-1.4zM358.6,620.4l1.4,1.4l-1.4,1.4l-1.4,-1.4zM305.0,626.4l1.4,1.4l-1.4,1.4l-1.4,-1.4zM305.7,620.7l1.4,1.4l-1.4,1.4l-1.4,-1.4zM301.3,638.1l1.4,1.4l-1.4,1.4l-1.4,-1.4zM306.8,637.6l1.4,1.4l-1.4,1.4l-1.4,-1.4zM381.8,621.2l1.4,1.4l-1.4,1.4l-1.4,-1.4zM303.2,637.3l1.4,1.4l-1.4,1.4l-1.4,-1.4zM311.3,628.4l1.4,1.4l-1.4,1.4l-1.4,-1.4zM300.2,628.4l1.4,1.4l-1.4,1.4l-1.4,-1.4zM305.0,630.4l1.4,1.4l-1.4,1.4l-1.4,-1.4zM335.8,628.3l1.4,1.4l-1.4,1.4l-1.4,-1.4zM301.0,616.8l1.4,1.4l-1.4,1.4l-1.4,-1.4zM340.4,639.7l1.4,1.4l-1.4,1.4l-1.4,-1.4zM314.5,620.7l1.4,1.4l-1.4,1.4l-1.4,-1.4zM301.6,610.0l1.4,1.4l-1.4,1.4l-1.4,-1.4zM304.1,626.9l1.4,1.4l-1.4,1.4l-1.4,-1.4zM304.4,627.2l1.4,1.4l-1.4,1.4l-1.4,-1.4zM308.3,621.8l1.4,1.4l-1.4,1.4l-1.4,-1.4zM303.9,613.9l1.4,1.4l-1.4,1.4l-1.4,-1.4zM302.4,636.1l1.4,1.4l-1.4,1.4l-1.4,-1.4zM305.6,626.3l1.4,1.4l-1.4,1.4l-1.4,-1.4zM301.6,628.8l1.4,1.4l-1.4,1.4l-1.4,-1.4zM300.9,618.0l1.4,1.4l-1.4,1.4l-1.4,-1.4zM308.3,625.6l1.4,1.4l-1.4,1.4l-1.4,-1.4zM331.1,617.4l1.4,1.4l-1.4,1.4l-1.4,-1.4zM300.4,630.9l1.4,1.4l-1.4,1.4l-1.4,-1.4zM308.9,626.3l1.4,1.4l-1.4,1.4l-1.4,-1.4zM303.2,632.1l1.4,1.4l-1.4,1.4l-1.4,-1.4zM301.8,632.4l1.4,1.4l-1.4,1.4l-1.4,-1.4zM329.9,626.6l1.4,1.4l-1.4,1.4l-1.4,-1.4zM304.0,628.1l1.4,1.4l-1.4,1.4l-1.4,-1.4zM372.4,631.5l1.4,1.4l-1.4,1.4l-1.4,-1.4zM302.6,615.6l1.4,1.4l-1.4,1.4l-1.4,-1.4zM315.5,628.1l1.4,1.4l-1.4,1.4l-1.4,-1.4zM306.3,636.4l1.4,1.4l-1.4,1.4l-1.4,-1.4zM302.7,619.1l1.4,1.4l-1.4,1.4l-1.4,-1.4zM320.6,630.6l1.4,1.4l-1.4,1.4l-1.4,-1.4zM307.1,623.3l1.4,1.4l-1.4,1.4l-1.4,-1.4zM321.1,626.2l1.4,1.4l-1.4,1.4l-1.4,-1.4zM308.3,625.0l1.4,1.4l-1.4,1.4l-1.4,-1.4zM301.4,626.1l1.4,1.4l-1.4,1.4l-1.4,-1.4zM307.6,630.6l1.4,1.4l-1.4,1.4l-1.4,-1.4zM309.6,626.3l1.4,1.4l-1.4,1.4l-1.4,-1.4zM334.5,614.2l1.4,1.4l-1.4,1.4l-1.4,-1.4zM302.1,644.1l1.4,1.4l-1.4,1.4l-1.4,-1.4zM308.4,626.2l1.4,1.4l-1.4,1.4l-1.4,-1.4zM300.1,624.2l1.4,1.4l-1.4,1.4l-1.4,-1.4zM322.5,632.3l1.4,1.4l-1.4,1.4l-1.4,-1.4zM301.5,637.8l1.4,1.4l-1.4,1.4l-1.4,-1.4zM300.0,610.6l1.4,1.4l-1.4,1.4l-1.4,-1.4zM308.1,629.2l1.4,1.4l-1.4,1.4l-1.4,-1.4zM342.3,614.0l1.4,1.4l-1.4,1.4l-1.4,-1.4zM300.4,623.4l1.4,1.4l-1.4,1.4l-1.4,-1.4zM301.4,626.8l1.4,1.4l-1.4,1.4l-1.4,-1.4zM302.8,619.5l1.4,1.4l-1.4,1.4l-1.4,-1.4zM301.3,622.6l1.4,1.4l-1.4,1.4l-1.4,-1.4zM315.4,618.9l1.4,1.4l-1.4,1.4l-1.4,-1.4zM302.5,624.0l1.4,1.4l-1.4,1.4l-1.4,-1.4zM302.9,626.2l1.4,1.4l-1.4,1.4l-1.4,-1.4zM320.5,625.0l1.4,1.4l-1.4,1.4l-1.4,-1.4zM302.7,605.3l1.4,1.4l-1.4,1.4l-1.4,-1.4zM316.6,621.2l1.4,1.4l-1.4,1.4l-1.4,-1.4zM301.8,634.9l1.4,1.4l-1.4,1.4l-1.4,-1.4zM301.1,632.3l1.4,1.4l-1.4,1.4l-1.4,-1.4zM300.0,625.0l1.4,1.4l-1.4,1.4l-1.4,-1.4zM418.7,628.3l1.4,1.4l-1.4,1.4l-1.4,-1.4zM305.5,629.6l1.4,1.4l-1.4,1.4l-1.4,-1.4zM312.7,632.5l1.4,1.4l-1.4,1.4l-1.4,-1.4zM308.5,628.4l1.4,1.4l-1.4,1.4l-1.4,-1.4zM311.2,623.7l1.4,1.4l-1.4,1.4l-1.4,-1.4zM309.6,620.0l1.4,1.4l-1.4,1.4l-1.4,-1.4zM426.6,625.1l1.4,1.4l-1.4,1.4l-1.4,-1.4zM301.6,611.7l1.4,1.4l-1.4,1.4l-1.4,-1.4zM300.4,628.2l1.4,1.4l-1.4,1.4l-1.4,-1.4zM301.7,603.3l1.4,1.4l-1.4,1.4l-1.4,-1.4zM300.8,619.8l1.4,1.4l-1.4,1.4l-1.4,-1.4zM325.8,623.0l1.4,1.4l-1.4,1.4l-1.4,-1.4zM328.5,628.7l1.4,1.4l-1.4,1.4l-1.4,-1.4zM301.8,648.6l1.4,1.4l-1.4,1.4l-1.4,-1.4zM300.7,628.7l1.4,1.4l-1.4,1.4l-1.4,-1.4zM305.2,625.7l1.4,1.4l-1.4,1.4l-1.4,-1.4zM362.6,615.1l1.4,1.4l-1.4,1.4l-1.4,-1.4zM299.4,638.8l1.4,1.4l-1.4,1.4l-1.4,-1.4zM318.9,614.5l1.4,1.4l-1.4,1.4l-1.4,-1.4zM301.5,629.3l1.4,1.4l-1.4,1.4l-1.4,-1.4zM338.7,621.6l1.4,1.4l-1.4,1.4l-1.4,-1.4zM301.5,652.9l1.4,1.4l-1.4,1.4l-1.4,-1.4zM305.8,625.9l1.4,1.4l-1.4,1.4l-1.4,-1.4zM300.5,630.2l1.4,1.4l-1.4,1.4l-1.4,-1.4zM301.8,622.2l1.4,1.4l-1.4,1.4l-1.4,-1.4zM362.1,624.9l1.4,1.4l-1.4,1.4l-1.4,-1.4zM328.5,632.5l1.4,1.4l-1.4,1.4l-1.4,-1.4zM304.8,620.3l1.4,1.4l-1.4,1.4l-1.4,-1.4zM302.2,622.1l1.4,1.4l-1.4,1.4l-1.4,-1.4zM300.0,622.9l1.4,1.4l-1.4,1.4l-1.4,-1.4zM304.9,619.8l1.4,1.4l-1.4,1.4l-1.4,-1.4zM308.5,619.3l1.4,1.4l-1.4,1.4l-1.4,-1.4zM307.8,626.9l1.4,1.4l-1.4,1.4l-1.4,-1.4zM307.7,635.9l1.4,1.4l-1.4,1.4l-1.4,-1.4zM301.3,638.0l1.4,1.4l-1.4,1.4l-1.4,-1.4zM308.1,617.6l1.4,1.4l-1.4,1.4l-1.4,-1.4zM308.4,621.9l1.4,1.4l-1.4,1.4l-1.4,-1.4zM354.5,624.9l1.4,1.4l-1.4,1.4l-1.4,-1.4zM419.6,627.4l1.4,1.4l-1.4,1.4l-1.4,-1.4zM307.3,626.6l1.4,1.4l-1.4,1.4l-1.4,-1.4zM302.6,627.1l1.4,1.4l-1.4,1.4l-1.4,-1.4zM308.1,629.0l1.4,1.4l-1.4,1.4l-1.4,-1.4zM303.5,632.2l1.4,1.4l-1.4,1.4l-1.4,-1.4zM302.8,611.3l1.4,1.4l-1.4,1.4l-1.4,-1.4zM308.2,625.2l1.4,1.4l-1.4,1.4l-1.4,-1.4zM301.6,632.0l1.4,1.4l-1.4,1.4l-1.4,-1.4zM321.2,633.9l1.4,1.4l-1.4,1.4l-1.4,-1.4zM307.6,631.7l1.4,1.4l-1.4,1.4l-1.4,-1.4zM312.8,621.8l1.4,1.4l-1.4,1.4l-1.4,-1.4zM306.8,621.6l1.4,1.4l-1.4,1.4l-1.4,-1.4zM302.8,628.8l1.4,1.4l-1.4,1.4l-1.4,-1.4zM301.9,627.0l1.4,1.4l-1.4,1.4l-1.4,-1.4zM306.2,629.0l1.4,1.4l-1.4,1.4l-1.4,-1.4zM303.8,635.1l1.4,1.4l-1.4,1.4l-1.4,-1.4zM312.5,618.1l1.4,1.4l-1.4,1.4l-1.4,-1.4zM308.8,624.2l1.4,1.4l-1.4,1.4l-1.4,-1.4zM300.7,608.4l1.4,1.4l-1.4,1.4l-1.4,-1.4zM309.8,631.6l1.4,1.4l-1.4,1.4l-1.4,-1.4zM300.8,628.6l1.4,1.4l-1.4,1.4l-1.4,-1.4zM303.4,620.7l1.4,1.4l-1.4,1.4l-1.4,-1.4zM305.7,628.6l1.4,1.4l-1.4,1.4l-1.4,-1.4zM299.8,651.9l1.4,1.4l-1.4,1.4l-1.4,-1.4zM310.2,632.8l1.4,1.4l-1.4,1.4l-1.4,-1.4zM311.1,625.8l1.4,1.4l-1.4,1.4l-1.4,-1.4zM307.0,624.4l1.4,1.4l-1.4,1.4l-1.4,-1.4zM304.7,627.7l1.4,1.4l-1.4,1.4l-1.4,-1.4zM305.1,619.9l1.4,1.4l-1.4,1.4l-1.4,-1.4zM301.8,619.9l1.4,1.4l-1.4,1.4l-1.4,-1.4zM305.9,624.6l1.4,1.4l-1.4,1.4l-1.4,-1.4zM303.8,626.9l1.4,1.4l-1.4,1.4l-1.4,-1.4zM310.2,628.2l1.4,1.4l-1.4,1.4l-1.4,-1.4zM301.1,623.2l1.4,1.4l-1.4,1.4l-1.4,-1.4zM312.5,620.5l1.4,1.4l-1.4,1.4l-1.4,-1.4zM311.0,626.1l1.4,1.4l-1.4,1.4l-1.4,-1.4zM307.2,623.7l1.4,1.4l-1.4,1.4l-1.4,-1.4zM304.6,629.3l1.4,1.4l-1.4,1.4l-1.4,-1.4zM319.6,634.7l1.4,1.4l-1.4,1.4l-1.4,-1.4zM300.2,635.4l1.4,1.4l-1.4,1.4l-1.4,-1.4zM317.2,621.5l1.4,1.4l-1.4,1.4l-1.4,-1.4zM312.7,623.5l1.4,1.4l-1.4,1.4l-1.4,-1.4zM313.4,616.2l1.4,1.4l-1.4,1.4l-1.4,-1.4zM315.5,625.5l1.4,1.4l-1.4,1.4l-1.4,-1.4zM303.2,620.9l1.4,1.4l-1.4,1.4l-1.4,-1.4zM306.0,617.7l1.4,1.4l-1.4,1.4l-1.4,-1.4zM322.1,620.1l1.4,1.4l-1.4,1.4l-1.4,-1.4zM316.5,630.0l1.4,1.4l-1.4,1.4l-1.4,-1.4zM312.0,627.6l1.4,1.4l-1.4,1.4l-1.4,-1.4zM300.5,626.6l1.4,1.4l-1.4,1.4l-1.4,-1.4zM319.2,632.1l1.4,1.4l-1.4,1.4l-1.4,-1.4zM346.2,622.9l1.4,1.4l-1.4,1.4l-1.4,-1.4zM337.1,619.9l1.4,1.4l-1.4,1.4l-1.4,-1.4zM312.5,629.5l1.4,1.4l-1.4,1.4l-1.4,-1.4zM300.4,612.2l1.4,1.4l-1.4,1.4l-1.4,-1.4zM333.8,627.4l1.4,1.4l-1.4,1.4l-1.4,-1.4zM307.1,628.2l1.4,1.4l-1.4,1.4l-1.4,-1.4zM299.5,629.6l1.4,1.4l-1.4,1.4l-1.4,-1.4zM315.3,630.7l1.4,1.4l-1.4,1.4l-1.4,-1.4zM300.5,624.3l1.4,1.4l-1.4,1.4l-1.4,-1.4zM300.9,627.3l1.4,1.4l-1.4,1.4l-1.4,-1.4zM303.3,615.1l1.4,1.4l-1.4,1.4l-1.4,-1.4zM353.2,622.2l1.4,1.4l-1.4,1.4l-1.4,-1.4zM305.1,623.2l1.4,1.4l-1.4,1.4l-1.4,-1.4zM313.2,627.8l1.4,1.4l-1.4,1.4l-1.4,-1.4zM401.8,632.5l1.4,1.4l-1.4,1.4l-1.4,-1.4zM382.5,625.7l1.4,1.4l-1.4,1.4l-1.4,-1.4zM307.6,632.5l1.4,1.4l-1.4,1.4l-1.4,-1.4zM306.2,620.3l1.4,1.4l-1.4,1.4l-1.4,-1.4zM301.0,627.7l1.4,1.4l-1.4,1.4l-1.4,-1.4zM303.0,615.0l1.4,1.4l-1.4,1.4l-1.4,-1.4zM316.4,621.7l1.4,1.4l-1.4,1.4l-1.4,-1.4zM315.7,621.0l1.4,1.4l-1.4,1.4l-1.4,-1.4zM310.4,625.0l1.4,1.4l-1.4,1.4l-1.4,-1.4zM336.3,624.5l1.4,1.4l-1.4,1.4l-1.4,-1.4zM302.6,622.4l1.4,1.4l-1.4,1.4l-1.4,-1.4zM308.2,620.5l1.4,1.4l-1.4,1.4l-1.4,-1.4zM325.2,630.1l1.4,1.4l-1.4,1.4l-1.4,-1.4zM320.5,623.1l1.4,1.4l-1.4,1.4l-1.4,-1.4zM340.3,611.0l1.4,1.4l-1.4,1.4l-1.4,-1.4zM315.8,626.8l1.4,1.4l-1.4,1.4l-1.4,-1.4zM305.6,628.7l1.4,1.4l-1.4,1.4l-1.4,-1.4zM315.0,630.6l1.4,1.4l-1.4,1.4l-1.4,-1.4zM301.7,638.3l1.4,1.4l-1.4,1.4l-1.4,-1.4zM300.3,618.3l1.4,1.4l-1.4,1.4l-1.4,-1.4zM320.4,625.7l1.4,1.4l-1.4,1.4l-1.4,-1.4zM308.2,624.7l1.4,1.4l-1.4,1.4l-1.4,-1.4zM313.9,614.6l1.4,1.4l-1.4,1.4l-1.4,-1.4zM300.2,607.9l1.4,1.4l-1.4,1.4l-1.4,-1.4zM305.1,633.2l1.4,1.4l-1.4,1.4l-1.4,-1.4zM303.5,619.5l1.4,1.4l-1.4,1.4l-1.4,-1.4zM302.2,622.7l1.4,1.4l-1.4,1.4l-1.4,-1.4zM299.7,624.5l1.4,1.4l-1.4,1.4l-1.4,-1.4zM305.4,623.6l1.4,1.4l-1.4,1.4l-1.4,-1.4zM331.7,625.9l1.4,1.4l-1.4,1.4l-1.4,-1.4zM315.4,616.3l1.4,1.4l-1.4,1.4l-1.4,-1.4zM303.5,622.7l1.4,1.4l-1.4,1.4l-1.4,-1.4zM308.7,624.3l1.4,1.4l-1.4,1.4l-1.4,-1.4zM326.1,618.6l1.4,1.4l-1.4,1.4l-1.4,-1.4zM299.4,620.5l1.4,1.4l-1.4,1.4l-1.4,-1.4zM307.4,623.6l1.4,1.4l-1.4,1.4l-1.4,-1.4zM319.4,624.1l1.4,1.4l-1.4,1.4l-1.4,-1.4zM323.5,615.5l1.4,1.4l-1.4,1.4l-1.4,-1.4zM395.4,619.4l1.4,1.4l-1.4,1.4l-1.4,-1.4zM344.0,626.1l1.4,1.4l-1.4,1.4l-1.4,-1.4zM314.0,638.2l1.4,1.4l-1.4,1.4l-1.4,-1.4zM313.8,628.5l1.4,1.4l-1.4,1.4l-1.4,-1.4zM327.2,632.0l1.4,1.4l-1.4,1.4l-1.4,-1.4zM303.9,626.3l1.4,1.4l-1.4,1.4l-1.4,-1.4zM308.4,624.9l1.4,1.4l-1.4,1.4l-1.4,-1.4zM332.1,637.5l1.4,1.4l-1.4,1.4l-1.4,-1.4zM435.3,625.0l1.4,1.4l-1.4,1.4l-1.4,-1.4zM307.0,622.3l1.4,1.4l-1.4,1.4l-1.4,-1.4zM308.3,625.6l1.4,1.4l-1.4,1.4l-1.4,-1.4zM311.9,632.6l1.4,1.4l-1.4,1.4l-1.4,-1.4zM358.6,618.6l1.4,1.4l-1.4,1.4l-1.4,-1.4zM308.5,631.3l1.4,1.4l-1.4,1.4l-1.4,-1.4zM369.6,631.8l1.4,1.4l-1.4,1.4l-1.4,-1.4zM301.8,635.5l1.4,1.4l-1.4,1.4l-1.4,-1.4zM306.7,626.9l1.4,1.4l-1.4,1.4l-1.4,-1.4zM306.6,620.0l1.4,1.4l-1.4,1.4l-1.4,-1.4zM327.2,619.1l1.4,1.4l-1.4,1.4l-1.4,-1.4zM338.9,624.5l1.4,1.4l-1.4,1.4l-1.4,-1.4zM300.5,636.8l1.4,1.4l-1.4,1.4l-1.4,-1.4zM302.0,632.2l1.4,1.4l-1.4,1.4l-1.4,-1.4zM314.5,632.0l1.4,1.4l-1.4,1.4l-1.4,-1.4zM303.2,628.5l1.4,1.4l-1.4,1.4l-1.4,-1.4zM300.4,641.4l1.4,1.4l-1.4,1.4l-1.4,-1.4zM338.6,625.0l1.4,1.4l-1.4,1.4l-1.4,-1.4zM318.1,622.2l1.4,1.4l-1.4,1.4l-1.4,-1.4zM318.1,627.1l1.4,1.4l-1.4,1.4l-1.4,-1.4zM304.3,623.8l1.4,1.4l-1.4,1.4l-1.4,-1.4zM338.1,637.2l1.4,1.4l-1.4,1.4l-1.4,-1.4zM306.2,636.9l1.4,1.4l-1.4,1.4l-1.4,-1.4zM341.8,629.1l1.4,1.4l-1.4,1.4l-1.4,-1.4zM302.0,618.7l1.4,1.4l-1.4,1.4l-1.4,-1.4zM302.3,619.6l1.4,1.4l-1.4,1.4l-1.4,-1.4zM312.0,629.4l1.4,1.4l-1.4,1.4l-1.4,-1.4zM303.0,618.4l1.4,1.4l-1.4,1.4l-1.4,-1.4zM323.3,630.2l1.4,1.4l-1.4,1.4l-1.4,-1.4zM313.0,616.7l1.4,1.4l-1.4,1.4l-1.4,-1.4zM302.0,623.7l1.4,1.4l-1.4,1.4l-1.4,-1.4zM309.9,629.6l1.4,1.4l-1.4,1.4l-1.4,-1.4zM305.2,621.4l1.4,1.4l-1.4,1.4l-1.4,-1.4zM332.6,630.2l1.4,1.4l-1.4,1.4l-1.4,-1.4zM303.3,634.0l1.4,1.4l-1.4,1.4l-1.4,-1.4zM304.6,637.4l1.4,1.4l-1.4,1.4l-1.4,-1.4zM348.9,624.1l1.4,1.4l-1.4,1.4l-1.4,-1.4zM498.1,625.3l1.4,1.4l-1.4,1.4l-1.4,-1.4zM443.2,625.5l1.4,1.4l-1.4,1.4l-1.4,-1.4zM309.8,629.3l1.4,1.4l-1.4,1.4l-1.4,-1.4zM312.2,617.2l1.4,1.4l-1.4,1.4l-1.4,-1.4zM376.0,627.5l1.4,1.4l-1.4,1.4l-1.4,-1.4zM307.4,631.7l1.4,1.4l-1.4,1.4l-1.4,-1.4zM301.8,618.0l1.4,1.4l-1.4,1.4l-1.4,-1.4zM310.5,617.2l1.4,1.4l-1.4,1.4l-1.4,-1.4zM317.0,624.1l1.4,1.4l-1.4,1.4l-1.4,-1.4zM302.4,640.2l1.4,1.4l-1.4,1.4l-1.4,-1.4zM300.2,632.3l1.4,1.4l-1.4,1.4l-1.4,-1.4zM300.6,622.8l1.4,1.4l-1.4,1.4l-1.4,-1.4zM323.0,625.9l1.4,1.4l-1.4,1.4l-1.4,-1.4zM302.7,615.8l1.4,1.4l-1.4,1.4l-1.4,-1.4zM307.2,636.1l1.4,1.4l-1.4,1.4l-1.4,-1.4zM312.1,622.1l1.4,1.4l-1.4,1.4l-1.4,-1.4zM321.5,629.8l1.4,1.4l-1.4,1.4l-1.4,-1.4zM305.4,617.7l1.4,1.4l-1.4,1.4l-1.4,-1.4zM318.2,626.6l1.4,1.4l-1.4,1.4l-1.4,-1.4zM302.1,619.6l1.4,1.4l-1.4,1.4l-1.4,-1.4zM305.1,631.5l1.4,1.4l-1.4,1.4l-1.4,-1.4zM301.6,638.0l1.4,1.4l-1.4,1.4l-1.4,-1.4zM343.8,631.7l1.4,1.4l-1.4,1.4l-1.4,-1.4zM308.5,630.7l1.4,1.4l-1.4,1.4l-1.4,-1.4zM302.8,634.8l1.4,1.4l-1.4,1.4l-1.4,-1.4zM305.2,618.5l1.4,1.4l-1.4,1.4l-1.4,-1.4zM306.4,617.6l1.4,1.4l-1.4,1.4l-1.4,-1.4zM324.1,624.3l1.4,1.4l-1.4,1.4l-1.4,-1.4zM300.3,635.7l1.4,1.4l-1.4,1.4l-1.4,-1.4zM301.6,628.3l1.4,1.4l-1.4,1.4l-1.4,-1.4zM305.0,631.8l1.4,1.4l-1.4,1.4l-1.4,-1.4zM334.4,617.5l1.4,1.4l-1.4,1.4l-1.4,-1.4zM307.5,624.6l1.4,1.4l-1.4,1.4l-1.4,-1.4zM324.5,623.1l1.4,1.4l-1.4,1.4l-1.4,-1.4zM455.0,627.1l1.4,1.4l-1.4,1.4l-1.4,-1.4zM306.3,640.8l1.4,1.4l-1.4,1.4l-1.4,-1.4zM305.1,632.4l1.4,1.4l-1.4,1.4l-1.4,-1.4zM349.0,631.6l1.4,1.4l-1.4,1.4l-1.4,-1.4zM318.1,623.9l1.4,1.4l-1.4,1.4l-1.4,-1.4zM323.2,625.4l1.4,1.4l-1.4,1.4l-1.4,-1.4zM304.1,632.8l1.4,1.4l-1.4,1.4l-1.4,-1.4zM429.3,627.1l1.4,1.4l-1.4,1.4l-1.4,-1.4zM396.6,617.1l1.4,1.4l-1.4,1.4l-1.4,-1.4zM320.0,631.9l1.4,1.4l-1.4,1.4l-1.4,-1.4zM323.6,631.4l1.4,1.4l-1.4,1.4l-1.4,-1.4zM299.8,629.5l1.4,1.4l-1.4,1.4l-1.4,-1.4zM322.1,630.2l1.4,1.4l-1.4,1.4l-1.4,-1.4zM306.7,629.8l1.4,1.4l-1.4,1.4l-1.4,-1.4zM316.6,622.9l1.4,1.4l-1.4,1.4l-1.4,-1.4zM323.5,615.7l1.4,1.4l-1.4,1.4l-1.4,-1.4zM305.3,639.5l1.4,1.4l-1.4,1.4l-1.4,-1.4zM300.2,627.8l1.4,1.4l-1.4,1.4l-1.4,-1.4zM315.1,626.0l1.4,1.4l-1.4,1.4l-1.4,-1.4zM302.8,627.9l1.4,1.4l-1.4,1.4l-1.4,-1.4zM305.4,628.3l1.4,1.4l-1.4,1.4l-1.4,-1.4zM303.5,629.6l1.4,1.4l-1.4,1.4l-1.4,-1.4zM305.3,619.9l1.4,1.4l-1.4,1.4l-1.4,-1.4zM299.6,631.4l1.4,1.4l-1.4,1.4l-1.4,-1.4zM349.3,626.2l1.4,1.4l-1.4,1.4l-1.4,-1.4zM312.8,626.4l1.4,1.4l-1.4,1.4l-1.4,-1.4zM342.6,625.0l1.4,1.4l-1.4,1.4l-1.4,-1.4zM439.5,626.0l1.4,1.4l-1.4,1.4l-1.4,-1.4zM309.2,620.0l1.4,1.4l-1.4,1.4l-1.4,-1.4zM300.1,627.7l1.4,1.4l-1.4,1.4l-1.4,-1.4zM302.1,626.0l1.4,1.4l-1.4,1.4l-1.4,-1.4zM301.1,627.9l1.4,1.4l-1.4,1.4l-1.4,-1.4zM304.1,634.3l1.4,1.4l-1.4,1.4l-1.4,-1.4zM310.0,632.0l1.4,1.4l-1.4,1.4l-1.4,-1.4zM299.8,636.0l1.4,1.4l-1.4,1.4l-1.4,-1.4zM314.6,625.1l1.4,1.4l-1.4,1.4l-1.4,-1.4zM300.5,633.1l1.4,1.4l-1.4,1.4l-1.4,-1.4zM313.7,633.1l1.4,1.4l-1.4,1.4l-1.4,-1.4zM307.6,625.1l1.4,1.4l-1.4,1.4l-1.4,-1.4zM305.5,623.3l1.4,1.4l-1.4,1.4l-1.4,-1.4zM308.0,638.6l1.4,1.4l-1.4,1.4l-1.4,-1.4zM303.9,614.9l1.4,1.4l-1.4,1.4l-1.4,-1.4zM303.4,626.9l1.4,1.4l-1.4,1.4l-1.4,-1.4zM300.2,628.4l1.4,1.4l-1.4,1.4l-1.4,-1.4zM308.5,619.5l1.4,1.4l-1.4,1.4l-1.4,-1.4zM416.2,624.8l1.4,1.4l-1.4,1.4l-1.4,-1.4zM439.6,628.2l1.4,1.4l-1.4,1.4l-1.4,-1.4zM356.9,613.6l1.4,1.4l-1.4,1.4l-1.4,-1.4zM324.3,632.3l1.4,1.4l-1.4,1.4l-1.4,-1.4zM303.1,627.9l1.4,1.4l-1.4,1.4l-1.4,-1.4zM367.1,620.9l1.4,1.4l-1.4,1.4l-1.4,-1.4zM308.2,633.9l1.4,1.4l-1.4,1.4l-1.4,-1.4zM308.0,627.4l1.4,1.4l-1.4,1.4l-1.4,-1.4zM305.7,624.2l1.4,1.4l-1.4,1.4l-1.4,-1.4zM310.2,610.8l1.4,1.4l-1.4,1.4l-1.4,-1.4zM304.6,633.4l1.4,1.4l-1.4,1.4l-1.4,-1.4zM307.9,627.0l1.4,1.4l-1.4,1.4l-1.4,-1.4zM301.4,622.4l1.4,1.4l-1.4,1.4l-1.4,-1.4zM305.1,626.4l1.4,1.4l-1.4,1.4l-1.4,-1.4zM509.7,631.0l1.4,1.4l-1.4,1.4l-1.4,-1.4zM308.0,624.0l1.4,1.4l-1.4,1.4l-1.4,-1.4zM306.2,626.1l1.4,1.4l-1.4,1.4l-1.4,-1.4zM319.1,623.4l1.4,1.4l-1.4,1.4l-1.4,-1.4zM324.4,619.3l1.4,1.4l-1.4,1.4l-1.4,-1.4zM301.4,619.7l1.4,1.4l-1.4,1.4l-1.4,-1.4zM306.5,624.0l1.4,1.4l-1.4,1.4l-1.4,-1.4zM332.7,624.0l1.4,1.4l-1.4,1.4l-1.4,-1.4zM313.1,633.4l1.4,1.4l-1.4,1.4l-1.4,-1.4zM310.6,627.4l1.4,1.4l-1.4,1.4l-1.4,-1.4zM378.2,622.7l1.4,1.4l-1.4,1.4l-1.4,-1.4zM303.1,630.1l1.4,1.4l-1.4,1.4l-1.4,-1.4zM310.0,625.9l1.4,1.4l-1.4,1.4l-1.4,-1.4zM304.0,633.0l1.4,1.4l-1.4,1.4l-1.4,-1.4zM371.6,617.2l1.4,1.4l-1.4,1.4l-1.4,-1.4zM299.9,610.6l1.4,1.4l-1.4,1.4l-1.4,-1.4zM303.1,630.0l1.4,1.4l-1.4,1.4l-1.4,-1.4zM303.9,624.2l1.4,1.4l-1.4,1.4l-1.4,-1.4zM322.9,627.4l1.4,1.4l-1.4,1.4l-1.4,-1.4zM321.2,618.4l1.4,1.4l-1.4,1.4l-1.4,-1.4zM362.9,623.1l1.4,1.4l-1.4,1.4l-1.4,-1.4zM300.4,627.0l1.4,1.4l-1.4,1.4l-1.4,-1.4zM325.9,627.2l1.4,1.4l-1.4,1.4l-1.4,-1.4zM305.7,626.0l1.4,1.4l-1.4,1.4l-1.4,-1.4zM303.1,634.5l1.4,1.4l-1.4,1.4l-1.4,-1.4zM319.3,622.0l1.4,1.4l-1.4,1.4l-1.4,-1.4zM302.0,632.7l1.4,1.4l-1.4,1.4l-1.4,-1.4zM299.8,623.4l1.4,1.4l-1.4,1.4l-1.4,-1.4zM305.1,626.1l1.4,1.4l-1.4,1.4l-1.4,-1.4zM300.5,619.0l1.4,1.4l-1.4,1.4l-1.4,-1.4zM303.2,627.3l1.4,1.4l-1.4,1.4l-1.4,-1.4zM315.2,619.9l1.4,1.4l-1.4,1.4l-1.4,-1.4zM314.0,632.2l1.4,1.4l-1.4,1.4l-1.4,-1.4zM381.7,622.1l1.4,1.4l-1.4,1.4l-1.4,-1.4zM306.6,628.4l1.4,1.4l-1.4,1.4l-1.4,-1.4zM300.4,626.1l1.4,1.4l-1.4,1.4l-1.4,-1.4zM302.7,626.7l1.4,1.4l-1.4,1.4l-1.4,-1.4zM302.0,620.3l1.4,1.4l-1.4,1.4l-1.4,-1.4zM301.1,642.9l1.4,1.4l-1.4,1.4l-1.4,-1.4zM316.6,624.2l1.4,1.4l-1.4,1.4l-1.4,-1.4zM303.3,638.1l1.4,1.4l-1.4,1.4l-1.4,-1.4zM299.9,618.1l1.4,1.4l-1.4,1.4l-1.4,-1.4zM324.0,637.6l1.4,1.4l-1.4,1.4l-1.4,-1.4zM307.5,633.6l1.4,1.4l-1.4,1.4l-1.4,-1.4zM314.9,636.8l1.4,1.4l-1.4,1.4l-1.4,-1.4zM310.4,615.8l1.4,1.4l-1.4,1.4l-1.4,-1.4zM321.9,633.7l1.4,1.4l-1.4,1.4l-1.4,-1.4zM309.4,625.9l1.4,1.4l-1.4,1.4l-1.4,-1.4zM350.6,628.4l1.4,1.4l-1.4,1.4l-1.4,-1.4zM316.4,637.4l1.4,1.4l-1.4,1.4l-1.4,-1.4zM315.6,628.4l1.4,1.4l-1.4,1.4l-1.4,-1.4zM316.0,622.1l1.4,1.4l-1.4,1.4l-1.4,-1.4zM300.6,629.0l1.4,1.4l-1.4,1.4l-1.4,-1.4zM307.0,620.3l1.4,1.4l-1.4,1.4l-1.4,-1.4zM306.0,629.4l1.4,1.4l-1.4,1.4l-1.4,-1.4zM312.0,626.4l1.4,1.4l-1.4,1.4l-1.4,-1.4zM300.7,630.5l1.4,1.4l-1.4,1.4l-1.4,-1.4zM387.2,623.5l1.4,1.4l-1.4,1.4l-1.4,-1.4zM310.4,614.1l1.4,1.4l-1.4,1.4l-1.4,-1.4zM301.1,624.7l1.4,1.4l-1.4,1.4l-1.4,-1.4zM300.2,626.1l1.4,1.4l-1.4,1.4l-1.4,-1.4zM305.8,631.2l1.4,1.4l-1.4,1.4l-1.4,-1.4zM307.8,631.9l1.4,1.4l-1.4,1.4l-1.4,-1.4zM302.9,616.5l1.4,1.4l-1.4,1.4l-1.4,-1.4zM310.2,633.9l1.4,1.4l-1.4,1.4l-1.4,-1.4zM303.3,633.8l1.4,1.4l-1.4,1.4l-1.4,-1.4zM319.6,626.7l1.4,1.4l-1.4,1.4l-1.4,-1.4zM302.8,634.1l1.4,1.4l-1.4,1.4l-1.4,-1.4zM308.4,613.5l1.4,1.4l-1.4,1.4l-1.4,-1.4zM335.5,639.1l1.4,1.4l-1.4,1.4l-1.4,-1.4zM301.7,624.6l1.4,1.4l-1.4,1.4l-1.4,-1.4zM304.4,622.0l1.4,1.4l-1.4,1.4l-1.4,-1.4zM302.3,635.6l1.4,1.4l-1.4,1.4l-1.4,-1.4zM327.1,629.6l1.4,1.4l-1.4,1.4l-1.4,-1.4zM301.3,624.1l1.4,1.4l-1.4,1.4l-1.4,-1.4zM304.2,615.4l1.4,1.4l-1.4,1.4l-1.4,-1.4zM308.5,640.3l1.4,1.4l-1.4,1.4l-1.4,-1.4zM301.8,639.3l1.4,1.4l-1.4,1.4l-1.4,-1.4zM301.9,620.0l1.4,1.4l-1.4,1.4l-1.4,-1.4zM304.3,616.2l1.4,1.4l-1.4,1.4l-1.4,-1.4zM299.8,630.3l1.4,1.4l-1.4,1.4l-1.4,-1.4zM300.6,644.7l1.4,1.4l-1.4,1.4l-1.4,-1.4zM304.7,616.7l1.4,1.4l-1.4,1.4l-1.4,-1.4zM311.0,627.8l1.4,1.4l-1.4,1.4l-1.4,-1.4zM306.7,619.1l1.4,1.4l-1.4,1.4l-1.4,-1.4zM300.1,628.0l1.4,1.4l-1.4,1.4l-1.4,-1.4zM304.4,629.7l1.4,1.4l-1.4,1.4l-1.4,-1.4zM327.7,628.5l1.4,1.4l-1.4,1.4l-1.4,-1.4zM319.7,617.2l1.4,1.4l-1.4,1.4l-1.4,-1.4zM307.9,617.0l1.4,1.4l-1.4,1.4l-1.4,-1.4zM302.1,643.3l1.4,1.4l-1.4,1.4l-1.4,-1.4zM321.9,631.6l1.4,1.4l-1.4,1.4l-1.4,-1.4zM303.6,614.3l1.4,1.4l-1.4,1.4l-1.4,-1.4zM301.2,630.3l1.4,1.4l-1.4,1.4l-1.4,-1.4zM302.5,637.4l1.4,1.4l-1.4,1.4l-1.4,-1.4zM367.7,625.3l1.4,1.4l-1.4,1.4l-1.4,-1.4zM312.2,628.0l1.4,1.4l-1.4,1.4l-1.4,-1.4zM345.5,626.1l1.4,1.4l-1.4,1.4l-1.4,-1.4zM304.3,630.5l1.4,1.4l-1.4,1.4l-1.4,-1.4zM333.6,627.5l1.4,1.4l-1.4,1.4l-1.4,-1.4zM303.5,630.5l1.4,1.4l-1.4,1.4l-1.4,-1.4zM307.0,624.5l1.4,1.4l-1.4,1.4l-1.4,-1.4zM326.5,630.6l1.4,1.4l-1.4,1.4l-1.4,-1.4zM304.1,629.2l1.4,1.4l-1.4,1.4l-1.4,-1.4zM307.8,627.7l1.4,1.4l-1.4,1.4l-1.4,-1.4zM314.2,618.1l1.4,1.4l-1.4,1.4l-1.4,-1.4zM348.9,623.5l1.4,1.4l-1.4,1.4l-1.4,-1.4zM304.2,627.9l1.4,1.4l-1.4,1.4l-1.4,-1.4zM300.1,623.4l1.4,1.4l-1.4,1.4l-1.4,-1.4zM305.8,624.1l1.4,1.4l-1.4,1.4l-1.4,-1.4zM309.1,619.4l1.4,1.4l-1.4,1.4l-1.4,-1.4zM310.4,623.2l1.4,1.4l-1.4,1.4l-1.4,-1.4zM356.5,615.8l1.4,1.4l-1.4,1.4l-1.4,-1.4zM314.1,617.8l1.4,1.4l-1.4,1.4l-1.4,-1.4zM328.2,626.1l1.4,1.4l-1.4,1.4l-1.4,-1.4zM301.4,630.6l1.4,1.4l-1.4,1.4l-1.4,-1.4zM330.5,620.7l1.4,1.4l-1.4,1.4l-1.4,-1.4zM463.4,622.5l1.4,1.4l-1.4,1.4l-1.4,-1.4zM326.7,626.4l1.4,1.4l-1.4,1.4l-1.4,-1.4zM312.8,635.9l1.4,1.4l-1.4,1.4l-1.4,-1.4zM311.1,638.4l1.4,1.4l-1.4,1.4l-1.4,-1.4zM407.4,623.4l1.4,1.4l-1.4,1.4l-1.4,-1.4zM302.0,621.6l1.4,1.4l-1.4,1.4l-1.4,-1.4zM307.5,621.3l1.4,1.4l-1.4,1.4l-1.4,-1.4zM317.2,634.1l1.4,1.4l-1.4,1.4l-1.4,-1.4zM325.7,619.8l1.4,1.4l-1.4,1.4l-1.4,-1.4zM304.6,630.8l1.4,1.4l-1.4,1.4l-1.4,-1.4zM313.9,623.9l1.4,1.4l-1.4,1.4l-1.4,-1.4zM305.9,624.0l1.4,1.4l-1.4,1.4l-1.4,-1.4zM310.6,631.8l1.4,1.4l-1.4,1.4l-1.4,-1.4zM307.3,630.8l1.4,1.4l-1.4,1.4l-1.4,-1.4zM301.3,643.2l1.4,1.4l-1.4,1.4l-1.4,-1.4zM308.6,632.8l1.4,1.4l-1.4,1.4l-1.4,-1.4zM330.9,636.2l1.4,1.4l-1.4,1.4l-1.4,-1.4zM301.8,624.1l1.4,1.4l-1.4,1.4l-1.4,-1.4zM306.2,626.4l1.4,1.4l-1.4,1.4l-1.4,-1.4zM323.0,620.5l1.4,1.4l-1.4,1.4l-1.4,-1.4zM301.5,624.7l1.4,1.4l-1.4,1.4l-1.4,-1.4zM311.6,630.6l1.4,1.4l-1.4,1.4l-1.4,-1.4zM301.5,624.8l1.4,1.4l-1.4,1.4l-1.4,-1.4zM344.0,627.7l1.4,1.4l-1.4,1.4l-1.4,-1.4zM519.1,622.0l1.4,1.4l-1.4,1.4l-1.4,-1.4zM447.8,623.5l1.4,1.4l-1.4,1.4l-1.4,-1.4zM306.4,633.7l1.4,1.4l-1.4,1.4l-1.4,-1.4zM325.5,625.9l1.4,1.4l-1.4,1.4l-1.4,-1.4zM310.6,626.2l1.4,1.4l-1.4,1.4l-1.4,-1.4zM310.3,628.6l1.4,1.4l-1.4,1.4l-1.4,-1.4zM377.5,620.6l1.4,1.4l-1.4,1.4l-1.4,-1.4zM300.8,614.3l1.4,1.4l-1.4,1.4l-1.4,-1.4zM339.5,627.7l1.4,1.4l-1.4,1.4l-1.4,-1.4zM308.3,629.1l1.4,1.4l-1.4,1.4l-1.4,-1.4zM364.1,637.4l1.4,1.4l-1.4,1.4l-1.4,-1.4zM311.7,627.3l1.4,1.4l-1.4,1.4l-1.4,-1.4zM303.1,630.4l1.4,1.4l-1.4,1.4l-1.4,-1.4zM313.3,640.2l1.4,1.4l-1.4,1.4l-1.4,-1.4zM325.4,624.2l1.4,1.4l-1.4,1.4l-1.4,-1.4zM309.4,622.7l1.4,1.4l-1.4,1.4l-1.4,-1.4zM317.9,630.7l1.4,1.4l-1.4,1.4l-1.4,-1.4zM304.0,629.8l1.4,1.4l-1.4,1.4l-1.4,-1.4zM299.7,635.4l1.4,1.4l-1.4,1.4l-1.4,-1.4zM331.9,621.4l1.4,1.4l-1.4,1.4l-1.4,-1.4zM324.1,634.9l1.4,1.4l-1.4,1.4l-1.4,-1.4zM311.0,631.0l1.4,1.4l-1.4,1.4l-1.4,-1.4zM309.8,613.7l1.4,1.4l-1.4,1.4l-1.4,-1.4zM338.4,625.4l1.4,1.4l-1.4,1.4l-1.4,-1.4zM304.4,623.7l1.4,1.4l-1.4,1.4l-1.4,-1.4zM302.9,628.3l1.4,1.4l-1.4,1.4l-1.4,-1.4zM306.7,634.9l1.4,1.4l-1.4,1.4l-1.4,-1.4zM347.4,625.7l1.4,1.4l-1.4,1.4l-1.4,-1.4zM300.7,624.4l1.4,1.4l-1.4,1.4l-1.4,-1.4zM347.6,631.1l1.4,1.4l-1.4,1.4l-1.4,-1.4zM303.3,624.7l1.4,1.4l-1.4,1.4l-1.4,-1.4zM301.4,618.0l1.4,1.4l-1.4,1.4l-1.4,-1.4zM352.3,619.7l1.4,1.4l-1.4,1.4l-1.4,-1.4zM307.7,637.5l1.4,1.4l-1.4,1.4l-1.4,-1.4zM300.9,635.0l1.4,1.4l-1.4,1.4l-1.4,-1.4zM305.2,638.3l1.4,1.4l-1.4,1.4l-1.4,-1.4zM333.3,619.6l1.4,1.4l-1.4,1.4l-1.4,-1.4zM347.6,622.2l1.4,1.4l-1.4,1.4l-1.4,-1.4zM304.6,622.0l1.4,1.4l-1.4,1.4l-1.4,-1.4zM316.0,631.7l1.4,1.4l-1.4,1.4l-1.4,-1.4zM324.6,632.8l1.4,1.4l-1.4,1.4l-1.4,-1.4zM303.3,626.6l1.4,1.4l-1.4,1.4l-1.4,-1.4zM314.8,625.7l1.4,1.4l-1.4,1.4l-1.4,-1.4zM308.5,632.4l1.4,1.4l-1.4,1.4l-1.4,-1.4zM303.9,626.1l1.4,1.4l-1.4,1.4l-1.4,-1.4zM304.2,622.4l1.4,1.4l-1.4,1.4l-1.4,-1.4zM309.8,625.1l1.4,1.4l-1.4,1.4l-1.4,-1.4zM309.3,633.5l1.4,1.4l-1.4,1.4l-1.4,-1.4zM303.7,652.9l1.4,1.4l-1.4,1.4l-1.4,-1.4zM304.7,628.9l1.4,1.4l-1.4,1.4l-1.4,-1.4zM342.8,624.7l1.4,1.4l-1.4,1.4l-1.4,-1.4zM312.1,628.1l1.4,1.4l-1.4,1.4l-1.4,-1.4zM331.2,628.2l1.4,1.4l-1.4,1.4l-1.4,-1.4zM348.3,629.3l1.4,1.4l-1.4,1.4l-1.4,-1.4zM320.7,621.7l1.4,1.4l-1.4,1.4l-1.4,-1.4zM507.0,625.3l1.4,1.4l-1.4,1.4l-1.4,-1.4zM302.4,626.4l1.4,1.4l-1.4,1.4l-1.4,-1.4zM328.1,631.5l1.4,1.4l-1.4,1.4l-1.4,-1.4zM305.5,631.3l1.4,1.4l-1.4,1.4l-1.4,-1.4zM417.9,624.3l1.4,1.4l-1.4,1.4l-1.4,-1.4zM395.4,630.4l1.4,1.4l-1.4,1.4l-1.4,-1.4zM299.9,637.6l1.4,1.4l-1.4,1.4l-1.4,-1.4zM301.8,629.8l1.4,1.4l-1.4,1.4l-1.4,-1.4zM323.0,618.8l1.4,1.4l-1.4,1.4l-1.4,-1.4zM327.3,624.8l1.4,1.4l-1.4,1.4l-1.4,-1.4zM325.4,617.3l1.4,1.4l-1.4,1.4l-1.4,-1.4zM308.0,627.6l1.4,1.4l-1.4,1.4l-1.4,-1.4zM317.1,628.1l1.4,1.4l-1.4,1.4l-1.4,-1.4zM322.6,634.3l1.4,1.4l-1.4,1.4l-1.4,-1.4zM307.9,630.6l1.4,1.4l-1.4,1.4l-1.4,-1.4zM338.0,617.6l1.4,1.4l-1.4,1.4l-1.4,-1.4zM299.7,625.1l1.4,1.4l-1.4,1.4l-1.4,-1.4zM322.0,621.6l1.4,1.4l-1.4,1.4l-1.4,-1.4zM301.6,622.1l1.4,1.4l-1.4,1.4l-1.4,-1.4zM334.5,625.8l1.4,1.4l-1.4,1.4l-1.4,-1.4zM306.3,628.3l1.4,1.4l-1.4,1.4l-1.4,-1.4zM302.1,626.4l1.4,1.4l-1.4,1.4l-1.4,-1.4zM315.3,622.1l1.4,1.4l-1.4,1.4l-1.4,-1.4zM302.0,623.9l1.4,1.4l-1.4,1.4l-1.4,-1.4zM302.0,623.6l1.4,1.4l-1.4,1.4l-1.4,-1.4zM300.4,626.4l1.4,1.4l-1.4,1.4l-1.4,-1.4zM308.5,631.8l1.4,1.4l-1.4,1.4l-1.4,-1.4zM318.1,627.8l1.4,1.4l-1.4,1.4l-1.4,-1.4zM337.8,631.0l1.4,1.4l-1.4,1.4l-1.4,-1.4zM307.2,619.9l1.4,1.4l-1.4,1.4l-1.4,-1.4zM339.1,637.4l1.4,1.4l-1.4,1.4l-1.4,-1.4zM309.1,628.1l1.4,1.4l-1.4,1.4l-1.4,-1.4zM307.7,610.6l1.4,1.4l-1.4,1.4l-1.4,-1.4zM320.2,628.1l1.4,1.4l-1.4,1.4l-1.4,-1.4zM339.6,632.0l1.4,1.4l-1.4,1.4l-1.4,-1.4zM305.3,627.1l1.4,1.4l-1.4,1.4l-1.4,-1.4zM306.2,617.9l1.4,1.4l-1.4,1.4l-1.4,-1.4zM307.0,627.9l1.4,1.4l-1.4,1.4l-1.4,-1.4zM310.0,622.5l1.4,1.4l-1.4,1.4l-1.4,-1.4zM302.1,626.6l1.4,1.4l-1.4,1.4l-1.4,-1.4zM338.0,627.8l1.4,1.4l-1.4,1.4l-1.4,-1.4zM304.8,604.7l1.4,1.4l-1.4,1.4l-1.4,-1.4zM317.3,625.7l1.4,1.4l-1.4,1.4l-1.4,-1.4zM302.4,631.3l1.4,1.4l-1.4,1.4l-1.4,-1.4zM314.9,629.4l1.4,1.4l-1.4,1.4l-1.4,-1.4zM315.6,623.9l1.4,1.4l-1.4,1.4l-1.4,-1.4zM304.7,624.1l1.4,1.4l-1.4,1.4l-1.4,-1.4zM447.5,621.2l1.4,1.4l-1.4,1.4l-1.4,-1.4zM315.2,625.4l1.4,1.4l-1.4,1.4l-1.4,-1.4zM405.9,632.5l1.4,1.4l-1.4,1.4l-1.4,-1.4zM334.6,622.7l1.4,1.4l-1.4,1.4l-1.4,-1.4zM303.2,629.4l1.4,1.4l-1.4,1.4l-1.4,-1.4zM305.0,629.0l1.4,1.4l-1.4,1.4l-1.4,-1.4zM316.7,635.4l1.4,1.4l-1.4,1.4l-1.4,-1.4zM309.7,630.4l1.4,1.4l-1.4,1.4l-1.4,-1.4zM309.6,631.4l1.4,1.4l-1.4,1.4l-1.4,-1.4zM305.8,627.5l1.4,1.4l-1.4,1.4l-1.4,-1.4zM300.0,639.1l1.4,1.4l-1.4,1.4l-1.4,-1.4zM306.3,626.5l1.4,1.4l-1.4,1.4l-1.4,-1.4zM299.7,626.7l1.4,1.4l-1.4,1.4l-1.4,-1.4zM315.2,641.7l1.4,1.4l-1.4,1.4l-1.4,-1.4zM302.8,631.8l1.4,1.4l-1.4,1.4l-1.4,-1.4zM302.9,633.5l1.4,1.4l-1.4,1.4l-1.4,-1.4zM306.4,613.0l1.4,1.4l-1.4,1.4l-1.4,-1.4zM313.2,642.5l1.4,1.4l-1.4,1.4l-1.4,-1.4zM300.6,630.2l1.4,1.4l-1.4,1.4l-1.4,-1.4zM300.1,640.7l1.4,1.4l-1.4,1.4l-1.4,-1.4zM301.5,630.7l1.4,1.4l-1.4,1.4l-1.4,-1.4zM299.8,621.0l1.4,1.4l-1.4,1.4l-1.4,-1.4zM301.8,632.1l1.4,1.4l-1.4,1.4l-1.4,-1.4zM382.2,624.5l1.4,1.4l-1.4,1.4l-1.4,-1.4zM301.5,633.8l1.4,1.4l-1.4,1.4l-1.4,-1.4zM322.5,614.4l1.4,1.4l-1.4,1.4l-1.4,-1.4zM300.7,620.5l1.4,1.4l-1.4,1.4l-1.4,-1.4zM313.7,619.2l1.4,1.4l-1.4,1.4l-1.4,-1.4zM305.5,636.2l1.4,1.4l-1.4,1.4l-1.4,-1.4zM308.1,634.1l1.4,1.4l-1.4,1.4l-1.4,-1.4zM320.1,619.5l1.4,1.4l-1.4,1.4l-1.4,-1.4zM402.9,626.2l1.4,1.4l-1.4,1.4l-1.4,-1.4zM311.8,628.1l1.4,1.4l-1.4,1.4l-1.4,-1.4zM310.7,624.3l1.4,1.4l-1.4,1.4l-1.4,-1.4zM301.8,636.8l1.4,1.4l-1.4,1.4l-1.4,-1.4zM320.5,621.4l1.4,1.4l-1.4,1.4l-1.4,-1.4zM306.2,626.7l1.4,1.4l-1.4,1.4l-1.4,-1.4zM329.0,623.1l1.4,1.4l-1.4,1.4l-1.4,-1.4zM308.3,631.2l1.4,1.4l-1.4,1.4l-1.4,-1.4zM400.8,622.5l1.4,1.4l-1.4,1.4l-1.4,-1.4zM299.9,633.2l1.4,1.4l-1.4,1.4l-1.4,-1.4zM305.7,620.2l1.4,1.4l-1.4,1.4l-1.4,-1.4zM331.0,619.3l1.4,1.4l-1.4,1.4l-1.4,-1.4zM305.2,620.5l1.4,1.4l-1.4,1.4l-1.4,-1.4zM302.5,623.4l1.4,1.4l-1.4,1.4l-1.4,-1.4zM306.0,622.5l1.4,1.4l-1.4,1.4l-1.4,-1.4zM300.7,648.5l1.4,1.4l-1.4,1.4l-1.4,-1.4zM310.6,621.1l1.4,1.4l-1.4,1.4l-1.4,-1.4zM344.7,627.1l1.4,1.4l-1.4,1.4l-1.4,-1.4zM301.4,626.7l1.4,1.4l-1.4,1.4l-1.4,-1.4zM302.2,629.4l1.4,1.4l-1.4,1.4l-1.4,-1.4zM304.8,636.9l1.4,1.4l-1.4,1.4l-1.4,-1.4zM336.8,628.7l1.4,1.4l-1.4,1.4l-1.4,-1.4zM302.4,622.4l1.4,1.4l-1.4,1.4l-1.4,-1.4zM303.0,616.8l1.4,1.4l-1.4,1.4l-1.4,-1.4zM331.2,629.4l1.4,1.4l-1.4,1.4l-1.4,-1.4zM330.3,631.0l1.4,1.4l-1.4,1.4l-1.4,-1.4zM305.0,616.7l1.4,1.4l-1.4,1.4l-1.4,-1.4zM301.3,634.1l1.4,1.4l-1.4,1.4l-1.4,-1.4zM300.4,611.4l1.4,1.4l-1.4,1.4l-1.4,-1.4zM303.0,626.8l1.4,1.4l-1.4,1.4l-1.4,-1.4zM299.7,634.7l1.4,1.4l-1.4,1.4l-1.4,-1.4zM325.9,620.1l1.4,1.4l-1.4,1.4l-1.4,-1.4zM303.3,614.8l1.4,1.4l-1.4,1.4l-1.4,-1.4zM317.8,635.0l1.4,1.4l-1.4,1.4l-1.4,-1.4zM419.9,617.2l1.4,1.4l-1.4,1.4l-1.4,-1.4zM346.4,627.1l1.4,1.4l-1.4,1.4l-1.4,-1.4zM301.2,616.1l1.4,1.4l-1.4,1.4l-1.4,-1.4zM330.5,628.0l1.4,1.4l-1.4,1.4l-1.4,-1.4zM345.4,634.3l1.4,1.4l-1.4,1.4l-1.4,-1.4zM302.7,623.5l1.4,1.4l-1.4,1.4l-1.4,-1.4zM301.9,620.4l1.4,1.4l-1.4,1.4l-1.4,-1.4zM307.6,612.5l1.4,1.4l-1.4,1.4l-1.4,-1.4zM300.3,614.1l1.4,1.4l-1.4,1.4l-1.4,-1.4zM369.8,621.7l1.4,1.4l-1.4,1.4l-1.4,-1.4zM299.6,629.6l1.4,1.4l-1.4,1.4l-1.4,-1.4zM301.4,631.4l1.4,1.4l-1.4,1.4l-1.4,-1.4zM305.9,628.9l1.4,1.4l-1.4,1.4l-1.4,-1.4zM306.3,632.6l1.4,1.4l-1.4,1.4l-1.4,-1.4zM311.3,628.3l1.4,1.4l-1.4,1.4l-1.4,-1.4zM313.2,642.6l1.4,1.4l-1.4,1.4l-1.4,-1.4zM306.5,625.6l1.4,1.4l-1.4,1.4l-1.4,-1.4zM344.2,625.7l1.4,1.4l-1.4,1.4l-1.4,-1.4zM299.7,607.3l1.4,1.4l-1.4,1.4l-1.4,-1.4zM308.9,615.5l1.4,1.4l-1.4,1.4l-1.4,-1.4zM302.9,630.7l1.4,1.4l-1.4,1.4l-1.4,-1.4zM310.8,622.8l1.4,1.4l-1.4,1.4l-1.4,-1.4zM312.3,634.3l1.4,1.4l-1.4,1.4l-1.4,-1.4zM302.0,631.8l1.4,1.4l-1.4,1.4l-1.4,-1.4zM303.3,640.8l1.4,1.4l-1.4,1.4l-1.4,-1.4zM327.4,617.5l1.4,1.4l-1.4,1.4l-1.4,-1.4zM314.7,622.6l1.4,1.4l-1.4,1.4l-1.4,-1.4zM303.1,635.8l1.4,1.4l-1.4,1.4l-1.4,-1.4zM451.3,625.4l1.4,1.4l-1.4,1.4l-1.4,-1.4zM518.0,620.3l1.4,1.4l-1.4,1.4l-1.4,-1.4zM300.5,623.7l1.4,1.4l-1.4,1.4l-1.4,-1.4zM313.8,623.9l1.4,1.4l-1.4,1.4l-1.4,-1.4zM327.1,630.9l1.4,1.4l-1.4,1.4l-1.4,-1.4zM312.3,630.5l1.4,1.4l-1.4,1.4l-1.4,-1.4zM306.5,626.2l1.4,1.4l-1.4,1.4l-1.4,-1.4zM303.9,620.5l1.4,1.4l-1.4,1.4l-1.4,-1.4zM306.5,632.6l1.4,1.4l-1.4,1.4l-1.4,-1.4zM303.8,635.2l1.4,1.4l-1.4,1.4l-1.4,-1.4zM325.7,619.2l1.4,1.4l-1.4,1.4l-1.4,-1.4zM304.9,633.6l1.4,1.4l-1.4,1.4l-1.4,-1.4zM304.5,619.4l1.4,1.4l-1.4,1.4l-1.4,-1.4zM301.1,625.6l1.4,1.4l-1.4,1.4l-1.4,-1.4zM308.3,620.8l1.4,1.4l-1.4,1.4l-1.4,-1.4zM302.1,614.3l1.4,1.4l-1.4,1.4l-1.4,-1.4zM306.8,622.1l1.4,1.4l-1.4,1.4l-1.4,-1.4zM338.7,621.3l1.4,1.4l-1.4,1.4l-1.4,-1.4zM315.1,632.0l1.4,1.4l-1.4,1.4l-1.4,-1.4zM318.4,630.4l1.4,1.4l-1.4,1.4l-1.4,-1.4zM314.9,617.4l1.4,1.4l-1.4,1.4l-1.4,-1.4zM309.7,616.4l1.4,1.4l-1.4,1.4l-1.4,-1.4zM307.4,617.3l1.4,1.4l-1.4,1.4l-1.4,-1.4zM305.6,610.7l1.4,1.4l-1.4,1.4l-1.4,-1.4zM326.2,624.1l1.4,1.4l-1.4,1.4l-1.4,-1.4zM301.4,625.9l1.4,1.4l-1.4,1.4l-1.4,-1.4zM358.4,613.5l1.4,1.4l-1.4,1.4l-1.4,-1.4zM309.3,626.5l1.4,1.4l-1.4,1.4l-1.4,-1.4zM302.7,627.7l1.4,1.4l-1.4,1.4l-1.4,-1.4zM304.2,634.6l1.4,1.4l-1.4,1.4l-1.4,-1.4zM303.1,619.9l1.4,1.4l-1.4,1.4l-1.4,-1.4zM311.2,633.5l1.4,1.4l-1.4,1.4l-1.4,-1.4zM302.9,623.5l1.4,1.4l-1.4,1.4l-1.4,-1.4zM344.5,633.4l1.4,1.4l-1.4,1.4l-1.4,-1.4zM302.6,619.1l1.4,1.4l-1.4,1.4l-1.4,-1.4zM299.7,635.9l1.4,1.4l-1.4,1.4l-1.4,-1.4zM302.8,621.0l1.4,1.4l-1.4,1.4l-1.4,-1.4zM299.8,640.3l1.4,1.4l-1.4,1.4l-1.4,-1.4zM308.4,629.6l1.4,1.4l-1.4,1.4l-1.4,-1.4zM339.7,619.0l1.4,1.4l-1.4,1.4l-1.4,-1.4zM322.4,630.8l1.4,1.4l-1.4,1.4l-1.4,-1.4zM300.8,627.0l1.4,1.4l-1.4,1.4l-1.4,-1.4zM302.7,630.8l1.4,1.4l-1.4,1.4l-1.4,-1.4zM406.1,637.1l1.4,1.4l-1.4,1.4l-1.4,-1.4zM314.1,624.4l1.4,1.4l-1.4,1.4l-1.4,-1.4zM308.9,623.8l1.4,1.4l-1.4,1.4l-1.4,-1.4zM339.5,631.8l1.4,1.4l-1.4,1.4l-1.4,-1.4zM355.0,622.3l1.4,1.4l-1.4,1.4l-1.4,-1.4zM310.9,631.7l1.4,1.4l-1.4,1.4l-1.4,-1.4zM314.8,632.6l1.4,1.4l-1.4,1.4l-1.4,-1.4zM321.5,626.0l1.4,1.4l-1.4,1.4l-1.4,-1.4zM303.4,632.1l1.4,1.4l-1.4,1.4l-1.4,-1.4zM301.5,610.0l1.4,1.4l-1.4,1.4l-1.4,-1.4zM309.6,636.9l1.4,1.4l-1.4,1.4l-1.4,-1.4zM301.9,621.8l1.4,1.4l-1.4,1.4l-1.4,-1.4zM308.1,620.0l1.4,1.4l-1.4,1.4l-1.4,-1.4zM310.2,639.6l1.4,1.4l-1.4,1.4l-1.4,-1.4zM527.7,633.6l1.4,1.4l-1.4,1.4l-1.4,-1.4zM302.3,623.1l1.4,1.4l-1.4,1.4l-1.4,-1.4zM307.4,630.0l1.4,1.4l-1.4,1.4l-1.4,-1.4zM307.0,624.2l1.4,1.4l-1.4,1.4l-1.4,-1.4zM316.7,619.2l1.4,1.4l-1.4,1.4l-1.4,-1.4zM339.0,630.2l1.4,1.4l-1.4,1.4l-1.4,-1.4zM304.2,634.7l1.4,1.4l-1.4,1.4l-1.4,-1.4zM302.4,647.6l1.4,1.4l-1.4,1.4l-1.4,-1.4zM300.3,626.0l1.4,1.4l-1.4,1.4l-1.4,-1.4zM302.0,634.3l1.4,1.4l-1.4,1.4l-1.4,-1.4zM319.2,624.2l1.4,1.4l-1.4,1.4l-1.4,-1.4zM309.5,625.1l1.4,1.4l-1.4,1.4l-1.4,-1.4zM301.7,637.8l1.4,1.4l-1.4,1.4l-1.4,-1.4zM305.1,614.8l1.4,1.4l-1.4,1.4l-1.4,-1.4zM309.3,619.4l1.4,1.4l-1.4,1.4l-1.4,-1.4zM318.3,621.0l1.4,1.4l-1.4,1.4l-1.4,-1.4zM303.5,635.7l1.4,1.4l-1.4,1.4l-1.4,-1.4zM306.1,629.7l1.4,1.4l-1.4,1.4l-1.4,-1.4zM300.0,631.9l1.4,1.4l-1.4,1.4l-1.4,-1.4zM301.2,630.6l1.4,1.4l-1.4,1.4l-1.4,-1.4zM385.2,631.1l1.4,1.4l-1.4,1.4l-1.4,-1.4zM299.7,620.1l1.4,1.4l-1.4,1.4l-1.4,-1.4zM305.3,625.3l1.4,1.4l-1.4,1.4l-1.4,-1.4zM312.2,624.1l1.4,1.4l-1.4,1.4l-1.4,-1.4zM305.0,630.6l1.4,1.4l-1.4,1.4l-1.4,-1.4zM302.5,617.7l1.4,1.4l-1.4,1.4l-1.4,-1.4zM308.1,625.4l1.4,1.4l-1.4,1.4l-1.4,-1.4zM308.8,645.0l1.4,1.4l-1.4,1.4l-1.4,-1.4zM307.9,631.1l1.4,1.4l-1.4,1.4l-1.4,-1.4zM300.0,628.1l1.4,1.4l-1.4,1.4l-1.4,-1.4zM307.1,620.2l1.4,1.4l-1.4,1.4l-1.4,-1.4zM302.3,629.5l1.4,1.4l-1.4,1.4l-1.4,-1.4zM303.8,628.9l1.4,1.4l-1.4,1.4l-1.4,-1.4zM312.4,630.7l1.4,1.4l-1.4,1.4l-1.4,-1.4zM322.2,622.0l1.4,1.4l-1.4,1.4l-1.4,-1.4zM331.7,628.3l1.4,1.4l-1.4,1.4l-1.4,-1.4zM304.2,631.4l1.4,1.4l-1.4,1.4l-1.4,-1.4zM332.9,630.0l1.4,1.4l-1.4,1.4l-1.4,-1.4zM346.5,622.5l1.4,1.4l-1.4,1.4l-1.4,-1.4zM344.1,628.5l1.4,1.4l-1.4,1.4l-1.4,-1.4zM362.5,634.4l1.4,1.4l-1.4,1.4l-1.4,-1.4zM307.2,622.5l1.4,1.4l-1.4,1.4l-1.4,-1.4zM306.9,631.6l1.4,1.4l-1.4,1.4l-1.4,-1.4zM328.7,623.8l1.4,1.4l-1.4,1.4l-1.4,-1.4zM300.7,624.6l1.4,1.4l-1.4,1.4l-1.4,-1.4zM312.1,618.7l1.4,1.4l-1.4,1.4l-1.4,-1.4zM303.9,619.6l1.4,1.4l-1.4,1.4l-1.4,-1.4zM305.1,631.0l1.4,1.4l-1.4,1.4l-1.4,-1.4zM300.1,628.9l1.4,1.4l-1.4,1.4l-1.4,-1.4zM302.1,637.0l1.4,1.4l-1.4,1.4l-1.4,-1.4zM308.6,615.4l1.4,1.4l-1.4,1.4l-1.4,-1.4zM331.3,623.2l1.4,1.4l-1.4,1.4l-1.4,-1.4zM336.1,617.8l1.4,1.4l-1.4,1.4l-1.4,-1.4zM307.9,628.9l1.4,1.4l-1.4,1.4l-1.4,-1.4zM306.7,640.9l1.4,1.4l-1.4,1.4l-1.4,-1.4zM302.4,615.9l1.4,1.4l-1.4,1.4l-1.4,-1.4zM315.9,625.7l1.4,1.4l-1.4,1.4l-1.4,-1.4zM306.1,625.9l1.4,1.4l-1.4,1.4l-1.4,-1.4zM321.2,625.7l1.4,1.4l-1.4,1.4l-1.4,-1.4zM402.3,621.9l1.4,1.4l-1.4,1.4l-1.4,-1.4zM308.5,623.1l1.4,1.4l-1.4,1.4l-1.4,-1.4zM300.5,639.9l1.4,1.4l-1.4,1.4l-1.4,-1.4zM302.2,619.2l1.4,1.4l-1.4,1.4l-1.4,-1.4zM300.6,631.7l1.4,1.4l-1.4,1.4l-1.4,-1.4zM301.1,631.0l1.4,1.4l-1.4,1.4l-1.4,-1.4zM355.6,616.1l1.4,1.4l-1.4,1.4l-1.4,-1.4zM312.4,620.5l1.4,1.4l-1.4,1.4l-1.4,-1.4zM300.4,630.2l1.4,1.4l-1.4,1.4l-1.4,-1.4zM322.6,637.1l1.4,1.4l-1.4,1.4l-1.4,-1.4zM352.3,624.6l1.4,1.4l-1.4,1.4l-1.4,-1.4zM305.2,623.2l1.4,1.4l-1.4,1.4l-1.4,-1.4zM303.1,627.8l1.4,1.4l-1.4,1.4l-1.4,-1.4zM305.3,635.7l1.4,1.4l-1.4,1.4l-1.4,-1.4zM313.4,631.4l1.4,1.4l-1.4,1.4l-1.4,-1.4zM322.2,633.5l1.4,1.4l-1.4,1.4l-1.4,-1.4zM347.0,624.4l1.4,1.4l-1.4,1.4l-1.4,-1.4zM349.0,621.0l1.4,1.4l-1.4,1.4l-1.4,-1.4zM347.2,619.9l1.4,1.4l-1.4,1.4l-1.4,-1.4zM360.1,629.3l1.4,1.4l-1.4,1.4l-1.4,-1.4zM322.9,624.6l1.4,1.4l-1.4,1.4l-1.4,-1.4zM300.4,623.3l1.4,1.4l-1.4,1.4l-1.4,-1.4zM307.3,630.3l1.4,1.4l-1.4,1.4l-1.4,-1.4zM314.0,627.3l1.4,1.4l-1.4,1.4l-1.4,-1.4zM305.0,612.0l1.4,1.4l-1.4,1.4l-1.4,-1.4zM332.4,624.6l1.4,1.4l-1.4,1.4l-1.4,-1.4zM305.2,620.7l1.4,1.4l-1.4,1.4l-1.4,-1.4zM302.0,630.6l1.4,1.4l-1.4,1.4l-1.4,-1.4zM367.3,625.1l1.4,1.4l-1.4,1.4l-1.4,-1.4zM323.0,636.2l1.4,1.4l-1.4,1.4l-1.4,-1.4zM312.2,626.6l1.4,1.4l-1.4,1.4l-1.4,-1.4zM333.1,618.9l1.4,1.4l-1.4,1.4l-1.4,-1.4zM339.9,613.9l1.4,1.4l-1.4,1.4l-1.4,-1.4zM314.6,618.8l1.4,1.4l-1.4,1.4l-1.4,-1.4zM299.6,622.2l1.4,1.4l-1.4,1.4l-1.4,-1.4zM303.1,626.8l1.4,1.4l-1.4,1.4l-1.4,-1.4zM304.4,631.3l1.4,1.4l-1.4,1.4l-1.4,-1.4zM301.8,628.6l1.4,1.4l-1.4,1.4l-1.4,-1.4zM311.9,622.5l1.4,1.4l-1.4,1.4l-1.4,-1.4zM347.6,629.8l1.4,1.4l-1.4,1.4l-1.4,-1.4zM304.2,620.4l1.4,1.4l-1.4,1.4l-1.4,-1.4zM301.3,634.9l1.4,1.4l-1.4,1.4l-1.4,-1.4zM448.9,634.1l1.4,1.4l-1.4,1.4l-1.4,-1.4zM304.5,634.3l1.4,1.4l-1.4,1.4l-1.4,-1.4zM301.0,640.2l1.4,1.4l-1.4,1.4l-1.4,-1.4zM312.6,635.2l1.4,1.4l-1.4,1.4l-1.4,-1.4zM316.4,619.2l1.4,1.4l-1.4,1.4l-1.4,-1.4zM302.9,628.7l1.4,1.4l-1.4,1.4l-1.4,-1.4zM327.4,624.6l1.4,1.4l-1.4,1.4l-1.4,-1.4zM304.2,618.8l1.4,1.4l-1.4,1.4l-1.4,-1.4zM302.0,617.9l1.4,1.4l-1.4,1.4l-1.4,-1.4zM311.5,629.7l1.4,1.4l-1.4,1.4l-1.4,-1.4zM326.6,618.1l1.4,1.4l-1.4,1.4l-1.4,-1.4zM303.3,624.4l1.4,1.4l-1.4,1.4l-1.4,-1.4zM314.3,626.3l1.4,1.4l-1.4,1.4l-1.4,-1.4zM307.7,623.7l1.4,1.4l-1.4,1.4l-1.4,-1.4zM302.9,637.7l1.4,1.4l-1.4,1.4l-1.4,-1.4zM362.0,629.6l1.4,1.4l-1.4,1.4l-1.4,-1.4zM308.2,627.4l1.4,1.4l-1.4,1.4l-1.4,-1.4zM307.4,622.6l1.4,1.4l-1.4,1.4l-1.4,-1.4zM324.9,628.1l1.4,1.4l-1.4,1.4l-1.4,-1.4zM331.6,626.5l1.4,1.4l-1.4,1.4l-1.4,-1.4zM352.8,620.2l1.4,1.4l-1.4,1.4l-1.4,-1.4zM314.3,617.4l1.4,1.4l-1.4,1.4l-1.4,-1.4zM303.5,614.9l1.4,1.4l-1.4,1.4l-1.4,-1.4zM303.9,618.0l1.4,1.4l-1.4,1.4l-1.4,-1.4zM318.5,628.6l1.4,1.4l-1.4,1.4l-1.4,-1.4zM320.4,627.9l1.4,1.4l-1.4,1.4l-1.4,-1.4zM363.2,623.7l1.4,1.4l-1.4,1.4l-1.4,-1.4zM316.2,628.1l1.4,1.4l-1.4,1.4l-1.4,-1.4zM339.7,628.5l1.4,1.4l-1.4,1.4l-1.4,-1.4zM374.3,616.6l1.4,1.4l-1.4,1.4l-1.4,-1.4zM311.3,627.8l1.4,1.4l-1.4,1.4l-1.4,-1.4zM300.5,635.1l1.4,1.4l-1.4,1.4l-1.4,-1.4zM301.2,623.7l1.4,1.4l-1.4,1.4l-1.4,-1.4zM300.6,613.3l1.4,1.4l-1.4,1.4l-1.4,-1.4zM382.3,624.8l1.4,1.4l-1.4,1.4l-1.4,-1.4zM302.3,618.1l1.4,1.4l-1.4,1.4l-1.4,-1.4zM350.3,627.9l1.4,1.4l-1.4,1.4l-1.4,-1.4zM320.6,629.0l1.4,1.4l-1.4,1.4l-1.4,-1.4zM397.4,628.8l1.4,1.4l-1.4,1.4l-1.4,-1.4zM336.7,626.5l1.4,1.4l-1.4,1.4l-1.4,-1.4zM307.6,614.3l1.4,1.4l-1.4,1.4l-1.4,-1.4zM306.6,634.8l1.4,1.4l-1.4,1.4l-1.4,-1.4zM310.1,615.8l1.4,1.4l-1.4,1.4l-1.4,-1.4zM311.5,633.0l1.4,1.4l-1.4,1.4l-1.4,-1.4zM303.9,628.8l1.4,1.4l-1.4,1.4l-1.4,-1.4zM308.5,621.1l1.4,1.4l-1.4,1.4l-1.4,-1.4zM384.3,622.0l1.4,1.4l-1.4,1.4l-1.4,-1.4zM300.2,625.4l1.4,1.4l-1.4,1.4l-1.4,-1.4zM312.9,636.9l1.4,1.4l-1.4,1.4l-1.4,-1.4zM302.0,624.6l1.4,1.4l-1.4,1.4l-1.4,-1.4zM311.7,633.1l1.4,1.4l-1.4,1.4l-1.4,-1.4zM329.3,611.0l1.4,1.4l-1.4,1.4l-1.4,-1.4zM308.2,628.1l1.4,1.4l-1.4,1.4l-1.4,-1.4zM326.7,624.8l1.4,1.4l-1.4,1.4l-1.4,-1.4zM300.3,636.5l1.4,1.4l-1.4,1.4l-1.4,-1.4zM342.4,628.3l1.4,1.4l-1.4,1.4l-1.4,-1.4zM303.5,636.5l1.4,1.4l-1.4,1.4l-1.4,-1.4zM321.6,620.1l1.4,1.4l-1.4,1.4l-1.4,-1.4zM311.6,628.2l1.4,1.4l-1.4,1.4l-1.4,-1.4zM299.5,623.2l1.4,1.4l-1.4,1.4l-1.4,-1.4zM302.7,632.3l1.4,1.4l-1.4,1.4l-1.4,-1.4zM312.2,629.7l1.4,1.4l-1.4,1.4l-1.4,-1.4zM378.1,618.5l1.4,1.4l-1.4,1.4l-1.4,-1.4zM313.5,632.5l1.4,1.4l-1.4,1.4l-1.4,-1.4zM312.9,637.9l1.4,1.4l-1.4,1.4l-1.4,-1.4zM300.6,624.4l1.4,1.4l-1.4,1.4l-1.4,-1.4zM366.1,631.4l1.4,1.4l-1.4,1.4l-1.4,-1.4zM410.3,627.4l1.4,1.4l-1.4,1.4l-1.4,-1.4zM309.3,620.6l1.4,1.4l-1.4,1.4l-1.4,-1.4zM306.4,632.5l1.4,1.4l-1.4,1.4l-1.4,-1.4zM300.3,620.7l1.4,1.4l-1.4,1.4l-1.4,-1.4zM331.1,629.7l1.4,1.4l-1.4,1.4l-1.4,-1.4zM324.7,617.1l1.4,1.4l-1.4,1.4l-1.4,-1.4zM352.6,618.3l1.4,1.4l-1.4,1.4l-1.4,-1.4zM319.3,629.0l1.4,1.4l-1.4,1.4l-1.4,-1.4zM301.8,629.0l1.4,1.4l-1.4,1.4l-1.4,-1.4zM358.1,629.9l1.4,1.4l-1.4,1.4l-1.4,-1.4zM301.0,625.9l1.4,1.4l-1.4,1.4l-1.4,-1.4zM306.5,618.9l1.4,1.4l-1.4,1.4l-1.4,-1.4zM313.3,635.6l1.4,1.4l-1.4,1.4l-1.4,-1.4zM331.1,620.5l1.4,1.4l-1.4,1.4l-1.4,-1.4zM316.2,634.5l1.4,1.4l-1.4,1.4l-1.4,-1.4zM315.5,631.6l1.4,1.4l-1.4,1.4l-1.4,-1.4zM302.7,640.5l1.4,1.4l-1.4,1.4l-1.4,-1.4zM300.9,611.3l1.4,1.4l-1.4,1.4l-1.4,-1.4zM309.7,626.2l1.4,1.4l-1.4,1.4l-1.4,-1.4zM302.9,625.4l1.4,1.4l-1.4,1.4l-1.4,-1.4zM300.9,632.7l1.4,1.4l-1.4,1.4l-1.4,-1.4zM301.0,619.3l1.4,1.4l-1.4,1.4l-1.4,-1.4zM304.2,642.1l1.4,1.4l-1.4,1.4l-1.4,-1.4zM300.0,627.4l1.4,1.4l-1.4,1.4l-1.4,-1.4zM300.8,610.5l1.4,1.4l-1.4,1.4l-1.4,-1.4zM300.3,630.6l1.4,1.4l-1.4,1.4l-1.4,-1.4zM311.6,626.4l1.4,1.4l-1.4,1.4l-1.4,-1.4zM316.0,622.1l1.4,1.4l-1.4,1.4l-1.4,-1.4zM444.8,629.2l1.4,1.4l-1.4,1.4l-1.4,-1.4zM300.5,627.4l1.4,1.4l-1.4,1.4l-1.4,-1.4zM303.1,620.2l1.4,1.4l-1.4,1.4l-1.4,-1.4zM332.4,624.6l1.4,1.4l-1.4,1.4l-1.4,-1.4zM306.4,624.3l1.4,1.4l-1.4,1.4l-1.4,-1.4zM305.4,629.4l1.4,1.4l-1.4,1.4l-1.4,-1.4zM396.6,623.6l1.4,1.4l-1.4,1.4l-1.4,-1.4zM305.3,626.6l1.4,1.4l-1.4,1.4l-1.4,-1.4zM301.2,616.3l1.4,1.4l-1.4,1.4l-1.4,-1.4zM300.8,621.9l1.4,1.4l-1.4,1.4l-1.4,-1.4zM314.4,627.9l1.4,1.4l-1.4,1.4l-1.4,-1.4zM313.8,641.9l1.4,1.4l-1.4,1.4l-1.4,-1.4zM300.7,615.3l1.4,1.4l-1.4,1.4l-1.4,-1.4zM301.8,621.7l1.4,1.4l-1.4,1.4l-1.4,-1.4zM319.1,631.7l1.4,1.4l-1.4,1.4l-1.4,-1.4zM320.3,638.2l1.4,1.4l-1.4,1.4l-1.4,-1.4zM303.3,635.5l1.4,1.4l-1.4,1.4l-1.4,-1.4zM321.6,620.5l1.4,1.4l-1.4,1.4l-1.4,-1.4zM320.2,632.5l1.4,1.4l-1.4,1.4l-1.4,-1.4zM300.1,631.2l1.4,1.4l-1.4,1.4l-1.4,-1.4zM305.6,625.4l1.4,1.4l-1.4,1.4l-1.4,-1.4zM316.2,618.6l1.4,1.4l-1.4,1.4l-1.4,-1.4zM303.7,627.3l1.4,1.4l-1.4,1.4l-1.4,-1.4zM299.7,628.5l1.4,1.4l-1.4,1.4l-1.4,-1.4zM305.8,630.7l1.4,1.4l-1.4,1.4l-1.4,-1.4zM325.9,616.3l1.4,1.4l-1.4,1.4l-1.4,-1.4zM381.0,619.7l1.4,1.4l-1.4,1.4l-1.4,-1.4zM299.7,628.4l1.4,1.4l-1.4,1.4l-1.4,-1.4zM301.3,638.1l1.4,1.4l-1.4,1.4l-1.4,-1.4zM334.5,630.2l1.4,1.4l-1.4,1.4l-1.4,-1.4zM350.5,622.3l1.4,1.4l-1.4,1.4l-1.4,-1.4zM335.7,629.8l1.4,1.4l-1.4,1.4l-1.4,-1.4zM311.1,620.7l1.4,1.4l-1.4,1.4l-1.4,-1.4zM301.2,624.7l1.4,1.4l-1.4,1.4l-1.4,-1.4zM321.8,624.3l1.4,1.4l-1.4,1.4l-1.4,-1.4zM302.9,622.4l1.4,1.4l-1.4,1.4l-1.4,-1.4zM299.5,623.7l1.4,1.4l-1.4,1.4l-1.4,-1.4zM324.4,631.0l1.4,1.4l-1.4,1.4l-1.4,-1.4zM412.0,626.8l1.4,1.4l-1.4,1.4l-1.4,-1.4zM302.0,609.8l1.4,1.4l-1.4,1.4l-1.4,-1.4zM369.5,631.7l1.4,1.4l-1.4,1.4l-1.4,-1.4zM382.1,627.8l1.4,1.4l-1.4,1.4l-1.4,-1.4zM378.2,619.7l1.4,1.4l-1.4,1.4l-1.4,-1.4zM308.6,629.0l1.4,1.4l-1.4,1.4l-1.4,-1.4zM301.1,633.7l1.4,1.4l-1.4,1.4l-1.4,-1.4zM306.8,635.9l1.4,1.4l-1.4,1.4l-1.4,-1.4zM299.7,623.4l1.4,1.4l-1.4,1.4l-1.4,-1.4zM300.2,619.6l1.4,1.4l-1.4,1.4l-1.4,-1.4zM310.2,617.3l1.4,1.4l-1.4,1.4l-1.4,-1.4zM301.7,627.0l1.4,1.4l-1.4,1.4l-1.4,-1.4zM307.0,619.6l1.4,1.4l-1.4,1.4l-1.4,-1.4zM307.6,633.8l1.4,1.4l-1.4,1.4l-1.4,-1.4zM430.5,624.3l1.4,1.4l-1.4,1.4l-1.4,-1.4zM355.1,629.1l1.4,1.4l-1.4,1.4l-1.4,-1.4zM308.3,625.5l1.4,1.4l-1.4,1.4l-1.4,-1.4zM348.7,621.4l1.4,1.4l-1.4,1.4l-1.4,-1.4zM302.6,619.3l1.4,1.4l-1.4,1.4l-1.4,-1.4zM305.3,633.9l1.4,1.4l-1.4,1.4l-1.4,-1.4zM332.3,618.5l1.4,1.4l-1.4,1.4l-1.4,-1.4zM301.0,631.1l1.4,1.4l-1.4,1.4l-1.4,-1.4zM305.8,634.0l1.4,1.4l-1.4,1.4l-1.4,-1.4zM300.8,628.8l1.4,1.4l-1.4,1.4l-1.4,-1.4zM310.6,636.1l1.4,1.4l-1.4,1.4l-1.4,-1.4zM387.0,625.2l1.4,1.4l-1.4,1.4l-1.4,-1.4zM302.7,625.1l1.4,1.4l-1.4,1.4l-1.4,-1.4zM312.3,627.7l1.4,1.4l-1.4,1.4l-1.4,-1.4zM302.1,623.3l1.4,1.4l-1.4,1.4l-1.4,-1.4zM301.3,629.8l1.4,1.4l-1.4,1.4l-1.4,-1.4zM301.0,627.4l1.4,1.4l-1.4,1.4l-1.4,-1.4zM368.3,633.0l1.4,1.4l-1.4,1.4l-1.4,-1.4zM534.4,624.8l1.4,1.4l-1.4,1.4l-1.4,-1.4zM317.8,631.4l1.4,1.4l-1.4,1.4l-1.4,-1.4zM302.9,630.5l1.4,1.4l-1.4,1.4l-1.4,-1.4zM324.3,626.5l1.4,1.4l-1.4,1.4l-1.4,-1.4zM305.4,625.6l1.4,1.4l-1.4,1.4l-1.4,-1.4zM327.8,635.4l1.4,1.4l-1.4,1.4l-1.4,-1.4zM313.6,636.3l1.4,1.4l-1.4,1.4l-1.4,-1.4zM313.3,628.3l1.4,1.4l-1.4,1.4l-1.4,-1.4zM321.2,623.2l1.4,1.4l-1.4,1.4l-1.4,-1.4zM303.6,624.5l1.4,1.4l-1.4,1.4l-1.4,-1.4zM304.8,620.7l1.4,1.4l-1.4,1.4l-1.4,-1.4zM300.1,617.4l1.4,1.4l-1.4,1.4l-1.4,-1.4zM304.5,623.5l1.4,1.4l-1.4,1.4l-1.4,-1.4zM300.6,627.7l1.4,1.4l-1.4,1.4l-1.4,-1.4zM307.2,633.8l1.4,1.4l-1.4,1.4l-1.4,-1.4zM301.9,634.5l1.4,1.4l-1.4,1.4l-1.4,-1.4zM310.3,629.6l1.4,1.4l-1.4,1.4l-1.4,-1.4zM317.1,624.5l1.4,1.4l-1.4,1.4l-1.4,-1.4zM300.6,625.8l1.4,1.4l-1.4,1.4l-1.4,-1.4zM302.4,627.2l1.4,1.4l-1.4,1.4l-1.4,-1.4zM301.9,628.5l1.4,1.4l-1.4,1.4l-1.4,-1.4zM325.7,622.2l1.4,1.4l-1.4,1.4l-1.4,-1.4zM396.2,624.1l1.4,1.4l-1.4,1.4l-1.4,-1.4zM329.8,624.1l1.4,1.4l-1.4,1.4l-1.4,-1.4zM305.2,622.2l1.4,1.4l-1.4,1.4l-1.4,-1.4zM369.2,628.2l1.4,1.4l-1.4,1.4l-1.4,-1.4zM300.5,635.6l1.4,1.4l-1.4,1.4l-1.4,-1.4zM372.5,622.7l1.4,1.4l-1.4,1.4l-1.4,-1.4zM303.2,624.1l1.4,1.4l-1.4,1.4l-1.4,-1.4zM299.4,629.5l1.4,1.4l-1.4,1.4l-1.4,-1.4zM380.8,627.5l1.4,1.4l-1.4,1.4l-1.4,-1.4zM301.6,610.2l1.4,1.4l-1.4,1.4l-1.4,-1.4zM311.4,631.4l1.4,1.4l-1.4,1.4l-1.4,-1.4zM306.5,628.3l1.4,1.4l-1.4,1.4l-1.4,-1.4zM310.3,624.8l1.4,1.4l-1.4,1.4l-1.4,-1.4zM300.5,636.5l1.4,1.4l-1.4,1.4l-1.4,-1.4zM303.1,626.3l1.4,1.4l-1.4,1.4l-1.4,-1.4zM317.4,615.1l1.4,1.4l-1.4,1.4l-1.4,-1.4zM312.3,620.4l1.4,1.4l-1.4,1.4l-1.4,-1.4zM348.1,622.1l1.4,1.4l-1.4,1.4l-1.4,-1.4zM310.0,622.7l1.4,1.4l-1.4,1.4l-1.4,-1.4zM530.2,624.4l1.4,1.4l-1.4,1.4l-1.4,-1.4zM302.9,620.2l1.4,1.4l-1.4,1.4l-1.4,-1.4zM313.0,627.4l1.4,1.4l-1.4,1.4l-1.4,-1.4zM299.9,631.0l1.4,1.4l-1.4,1.4l-1.4,-1.4zM301.0,626.7l1.4,1.4l-1.4,1.4l-1.4,-1.4zM357.4,620.6l1.4,1.4l-1.4,1.4l-1.4,-1.4zM301.9,624.9l1.4,1.4l-1.4,1.4l-1.4,-1.4zM319.0,622.0l1.4,1.4l-1.4,1.4l-1.4,-1.4zM308.1,640.4l1.4,1.4l-1.4,1.4l-1.4,-1.4zM301.6,618.4l1.4,1.4l-1.4,1.4l-1.4,-1.4zM305.3,610.5l1.4,1.4l-1.4,1.4l-1.4,-1.4zM304.0,617.5l1.4,1.4l-1.4,1.4l-1.4,-1.4zM304.2,629.3l1.4,1.4l-1.4,1.4l-1.4,-1.4zM326.0,630.9l1.4,1.4l-1.4,1.4l-1.4,-1.4zM322.6,624.3l1.4,1.4l-1.4,1.4l-1.4,-1.4zM303.6,634.3l1.4,1.4l-1.4,1.4l-1.4,-1.4zM302.0,621.9l1.4,1.4l-1.4,1.4l-1.4,-1.4zM313.4,629.7l1.4,1.4l-1.4,1.4l-1.4,-1.4zM307.7,620.2l1.4,1.4l-1.4,1.4l-1.4,-1.4zM338.0,618.0l1.4,1.4l-1.4,1.4l-1.4,-1.4zM329.4,637.6l1.4,1.4l-1.4,1.4l-1.4,-1.4zM308.4,624.7l1.4,1.4l-1.4,1.4l-1.4,-1.4zM306.9,631.6l1.4,1.4l-1.4,1.4l-1.4,-1.4zM302.2,637.8l1.4,1.4l-1.4,1.4l-1.4,-1.4zM302.0,632.0l1.4,1.4l-1.4,1.4l-1.4,-1.4zM301.7,629.0l1.4,1.4l-1.4,1.4l-1.4,-1.4zM304.9,619.7l1.4,1.4l-1.4,1.4l-1.4,-1.4zM304.6,637.8l1.4,1.4l-1.4,1.4l-1.4,-1.4zM325.6,619.7l1.4,1.4l-1.4,1.4l-1.4,-1.4zM304.9,612.7l1.4,1.4l-1.4,1.4l-1.4,-1.4zM306.6,622.7l1.4,1.4l-1.4,1.4l-1.4,-1.4zM301.1,623.3l1.4,1.4l-1.4,1.4l-1.4,-1.4zM388.4,625.3l1.4,1.4l-1.4,1.4l-1.4,-1.4zM318.4,633.3l1.4,1.4l-1.4,1.4l-1.4,-1.4zM407.6,622.4l1.4,1.4l-1.4,1.4l-1.4,-1.4zM327.6,623.6l1.4,1.4l-1.4,1.4l-1.4,-1.4zM371.6,621.5l1.4,1.4l-1.4,1.4l-1.4,-1.4zM306.1,609.0l1.4,1.4l-1.4,1.4l-1.4,-1.4zM324.7,621.6l1.4,1.4l-1.4,1.4l-1.4,-1.4zM301.1,624.2l1.4,1.4l-1.4,1.4l-1.4,-1.4zM346.6,617.0l1.4,1.4l-1.4,1.4l-1.4,-1.4zM395.1,632.2l1.4,1.4l-1.4,1.4l-1.4,-1.4zM316.3,633.3l1.4,1.4l-1.4,1.4l-1.4,-1.4zM326.4,628.1l1.4,1.4l-1.4,1.4l-1.4,-1.4zM353.7,629.0l1.4,1.4l-1.4,1.4l-1.4,-1.4zM303.1,622.1l1.4,1.4l-1.4,1.4l-1.4,-1.4zM316.2,628.2l1.4,1.4l-1.4,1.4l-1.4,-1.4zM302.1,614.3l1.4,1.4l-1.4,1.4l-1.4,-1.4zM303.0,616.1l1.4,1.4l-1.4,1.4l-1.4,-1.4zM303.3,621.6l1.4,1.4l-1.4,1.4l-1.4,-1.4zM307.2,629.4l1.4,1.4l-1.4,1.4l-1.4,-1.4zM311.1,622.5l1.4,1.4l-1.4,1.4l-1.4,-1.4zM317.3,621.2l1.4,1.4l-1.4,1.4l-1.4,-1.4zM300.6,635.8l1.4,1.4l-1.4,1.4l-1.4,-1.4zM448.7,623.3l1.4,1.4l-1.4,1.4l-1.4,-1.4zM347.1,621.7l1.4,1.4l-1.4,1.4l-1.4,-1.4zM325.6,624.6l1.4,1.4l-1.4,1.4l-1.4,-1.4zM305.1,615.9l1.4,1.4l-1.4,1.4l-1.4,-1.4zM307.8,618.5l1.4,1.4l-1.4,1.4l-1.4,-1.4zM319.9,631.1l1.4,1.4l-1.4,1.4l-1.4,-1.4zM316.3,625.5l1.4,1.4l-1.4,1.4l-1.4,-1.4zM300.1,634.2l1.4,1.4l-1.4,1.4l-1.4,-1.4zM326.2,622.5l1.4,1.4l-1.4,1.4l-1.4,-1.4zM300.0,634.5l1.4,1.4l-1.4,1.4l-1.4,-1.4zM337.6,620.5l1.4,1.4l-1.4,1.4l-1.4,-1.4zM315.4,623.8l1.4,1.4l-1.4,1.4l-1.4,-1.4zM307.5,620.2l1.4,1.4l-1.4,1.4l-1.4,-1.4zM363.9,626.2l1.4,1.4l-1.4,1.4l-1.4,-1.4zM301.1,638.6l1.4,1.4l-1.4,1.4l-1.4,-1.4zM311.3,601.2l1.4,1.4l-1.4,1.4l-1.4,-1.4zM372.8,626.2l1.4,1.4l-1.4,1.4l-1.4,-1.4zM306.6,617.3l1.4,1.4l-1.4,1.4l-1.4,-1.4zM304.6,624.0l1.4,1.4l-1.4,1.4l-1.4,-1.4zM310.6,622.1l1.4,1.4l-1.4,1.4l-1.4,-1.4zM304.4,614.0l1.4,1.4l-1.4,1.4l-1.4,-1.4zM382.0,623.5l1.4,1.4l-1.4,1.4l-1.4,-1.4zM302.0,616.8l1.4,1.4l-1.4,1.4l-1.4,-1.4zM331.7,634.3l1.4,1.4l-1.4,1.4l-1.4,-1.4zM300.9,620.8l1.4,1.4l-1.4,1.4l-1.4,-1.4zM323.7,627.4l1.4,1.4l-1.4,1.4l-1.4,-1.4zM307.6,627.7l1.4,1.4l-1.4,1.4l-1.4,-1.4zM299.5,627.7l1.4,1.4l-1.4,1.4l-1.4,-1.4zM308.8,624.3l1.4,1.4l-1.4,1.4l-1.4,-1.4zM301.4,614.8l1.4,1.4l-1.4,1.4l-1.4,-1.4zM304.4,640.3l1.4,1.4l-1.4,1.4l-1.4,-1.4zM381.1,625.0l1.4,1.4l-1.4,1.4l-1.4,-1.4zM301.3,639.5l1.4,1.4l-1.4,1.4l-1.4,-1.4zM301.4,618.6l1.4,1.4l-1.4,1.4l-1.4,-1.4zM370.7,627.6l1.4,1.4l-1.4,1.4l-1.4,-1.4zM310.6,623.5l1.4,1.4l-1.4,1.4l-1.4,-1.4zM381.5,627.4l1.4,1.4l-1.4,1.4l-1.4,-1.4zM314.4,622.1l1.4,1.4l-1.4,1.4l-1.4,-1.4zM302.0,619.7l1.4,1.4l-1.4,1.4l-1.4,-1.4zM308.0,629.4l1.4,1.4l-1.4,1.4l-1.4,-1.4zM352.6,625.2l1.4,1.4l-1.4,1.4l-1.4,-1.4zM335.0,633.8l1.4,1.4l-1.4,1.4l-1.4,-1.4zM308.9,624.6l1.4,1.4l-1.4,1.4l-1.4,-1.4zM309.6,620.9l1.4,1.4l-1.4,1.4l-1.4,-1.4zM307.5,630.5l1.4,1.4l-1.4,1.4l-1.4,-1.4zM303.5,619.0l1.4,1.4l-1.4,1.4l-1.4,-1.4zM440.6,635.6l1.4,1.4l-1.4,1.4l-1.4,-1.4zM309.0,639.0l1.4,1.4l-1.4,1.4l-1.4,-1.4zM301.2,638.0l1.4,1.4l-1.4,1.4l-1.4,-1.4zM304.2,630.5l1.4,1.4l-1.4,1.4l-1.4,-1.4zM325.8,625.8l1.4,1.4l-1.4,1.4l-1.4,-1.4zM322.8,626.5l1.4,1.4l-1.4,1.4l-1.4,-1.4zM307.2,627.2l1.4,1.4l-1.4,1.4l-1.4,-1.4zM303.0,621.9l1.4,1.4l-1.4,1.4l-1.4,-1.4zM309.2,629.8l1.4,1.4l-1.4,1.4l-1.4,-1.4zM300.1,637.5l1.4,1.4l-1.4,1.4l-1.4,-1.4zM300.8,637.1l1.4,1.4l-1.4,1.4l-1.4,-1.4zM328.6,613.6l1.4,1.4l-1.4,1.4l-1.4,-1.4zM304.2,643.9l1.4,1.4l-1.4,1.4l-1.4,-1.4zM315.5,627.4l1.4,1.4l-1.4,1.4l-1.4,-1.4zM351.8,617.5l1.4,1.4l-1.4,1.4l-1.4,-1.4zM323.1,623.1l1.4,1.4l-1.4,1.4l-1.4,-1.4zM309.2,632.1l1.4,1.4l-1.4,1.4l-1.4,-1.4zM485.0,625.0l1.4,1.4l-1.4,1.4l-1.4,-1.4zM323.7,620.8l1.4,1.4l-1.4,1.4l-1.4,-1.4zM305.1,618.4l1.4,1.4l-1.4,1.4l-1.4,-1.4zM326.0,631.2l1.4,1.4l-1.4,1.4l-1.4,-1.4zM316.3,621.5l1.4,1.4l-1.4,1.4l-1.4,-1.4zM302.2,625.4l1.4,1.4l-1.4,1.4l-1.4,-1.4zM309.9,619.3l1.4,1.4l-1.4,1.4l-1.4,-1.4zM306.9,617.3l1.4,1.4l-1.4,1.4l-1.4,-1.4zM299.8,630.4l1.4,1.4l-1.4,1.4l-1.4,-1.4zM306.8,636.8l1.4,1.4l-1.4,1.4l-1.4,-1.4zM305.7,624.1l1.4,1.4l-1.4,1.4l-1.4,-1.4zM304.5,614.4l1.4,1.4l-1.4,1.4l-1.4,-1.4zM300.2,622.2l1.4,1.4l-1.4,1.4l-1.4,-1.4zM305.1,625.3l1.4,1.4l-1.4,1.4l-1.4,-1.4zM308.4,610.5l1.4,1.4l-1.4,1.4l-1.4,-1.4zM310.4,633.4l1.4,1.4l-1.4,1.4l-1.4,-1.4zM301.2,612.3l1.4,1.4l-1.4,1.4l-1.4,-1.4zM322.5,629.4l1.4,1.4l-1.4,1.4l-1.4,-1.4zM301.0,627.1l1.4,1.4l-1.4,1.4l-1.4,-1.4zM306.3,626.2l1.4,1.4l-1.4,1.4l-1.4,-1.4zM358.5,617.3l1.4,1.4l-1.4,1.4l-1.4,-1.4zM302.9,634.1l1.4,1.4l-1.4,1.4l-1.4,-1.4zM304.0,630.9l1.4,1.4l-1.4,1.4l-1.4,-1.4zM342.2,634.4l1.4,1.4l-1.4,1.4l-1.4,-1.4zM304.9,623.5l1.4,1.4l-1.4,1.4l-1.4,-1.4zM305.6,630.1l1.4,1.4l-1.4,1.4l-1.4,-1.4zM312.4,623.7l1.4,1.4l-1.4,1.4l-1.4,-1.4zM340.7,631.6l1.4,1.4l-1.4,1.4l-1.4,-1.4zM299.7,630.6l1.4,1.4l-1.4,1.4l-1.4,-1.4zM302.3,619.6l1.4,1.4l-1.4,1.4l-1.4,-1.4zM301.6,628.7l1.4,1.4l-1.4,1.4l-1.4,-1.4zM301.4,622.7l1.4,1.4l-1.4,1.4l-1.4,-1.4zM302.2,623.4l1.4,1.4l-1.4,1.4l-1.4,-1.4zM302.2,629.9l1.4,1.4l-1.4,1.4l-1.4,-1.4zM313.9,636.2l1.4,1.4l-1.4,1.4l-1.4,-1.4zM302.0,619.9l1.4,1.4l-1.4,1.4l-1.4,-1.4zM310.7,625.4l1.4,1.4l-1.4,1.4l-1.4,-1.4zM316.1,620.1l1.4,1.4l-1.4,1.4l-1.4,-1.4zM302.7,642.1l1.4,1.4l-1.4,1.4l-1.4,-1.4zM310.8,637.3l1.4,1.4l-1.4,1.4l-1.4,-1.4zM392.5,636.4l1.4,1.4l-1.4,1.4l-1.4,-1.4zM314.3,631.9l1.4,1.4l-1.4,1.4l-1.4,-1.4zM303.2,619.6l1.4,1.4l-1.4,1.4l-1.4,-1.4zM308.1,622.9l1.4,1.4l-1.4,1.4l-1.4,-1.4zM301.9,627.6l1.4,1.4l-1.4,1.4l-1.4,-1.4zM313.3,625.5l1.4,1.4l-1.4,1.4l-1.4,-1.4zM331.1,621.4l1.4,1.4l-1.4,1.4l-1.4,-1.4zM302.3,629.5l1.4,1.4l-1.4,1.4l-1.4,-1.4zM306.5,624.1l1.4,1.4l-1.4,1.4l-1.4,-1.4zM344.2,624.8l1.4,1.4l-1.4,1.4l-1.4,-1.4zM304.1,642.8l1.4,1.4l-1.4,1.4l-1.4,-1.4zM311.8,628.9l1.4,1.4l-1.4,1.4l-1.4,-1.4zM301.6,617.1l1.4,1.4l-1.4,1.4l-1.4,-1.4zM302.3,630.2l1.4,1.4l-1.4,1.4l-1.4,-1.4zM304.0,629.4l1.4,1.4l-1.4,1.4l-1.4,-1.4zM482.1,628.1l1.4,1.4l-1.4,1.4l-1.4,-1.4zM304.8,630.4l1.4,1.4l-1.4,1.4l-1.4,-1.4zM303.9,619.0l1.4,1.4l-1.4,1.4l-1.4,-1.4zM303.7,629.1l1.4,1.4l-1.4,1.4l-1.4,-1.4zM306.9,633.8l1.4,1.4l-1.4,1.4l-1.4,-1.4zM322.7,644.6l1.4,1.4l-1.4,1.4l-1.4,-1.4zM311.7,630.2l1.4,1.4l-1.4,1.4l-1.4,-1.4zM455.1,635.0l1.4,1.4l-1.4,1.4l-1.4,-1.4zM312.1,638.2l1.4,1.4l-1.4,1.4l-1.4,-1.4zM367.6,621.1l1.4,1.4l-1.4,1.4l-1.4,-1.4zM313.3,621.9l1.4,1.4l-1.4,1.4l-1.4,-1.4zM321.1,637.6l1.4,1.4l-1.4,1.4l-1.4,-1.4zM300.6,620.9l1.4,1.4l-1.4,1.4l-1.4,-1.4zM307.4,623.6l1.4,1.4l-1.4,1.4l-1.4,-1.4zM308.0,632.0l1.4,1.4l-1.4,1.4l-1.4,-1.4zM306.2,621.8l1.4,1.4l-1.4,1.4l-1.4,-1.4zM299.7,640.6l1.4,1.4l-1.4,1.4l-1.4,-1.4zM331.0,632.7l1.4,1.4l-1.4,1.4l-1.4,-1.4zM304.9,637.2l1.4,1.4l-1.4,1.4l-1.4,-1.4zM304.6,634.9l1.4,1.4l-1.4,1.4l-1.4,-1.4zM306.1,620.8l1.4,1.4l-1.4,1.4l-1.4,-1.4zM306.3,636.1l1.4,1.4l-1.4,1.4l-1.4,-1.4zM316.0,633.4l1.4,1.4l-1.4,1.4l-1.4,-1.4zM300.9,634.8l1.4,1.4l-1.4,1.4l-1.4,-1.4zM302.0,625.9l1.4,1.4l-1.4,1.4l-1.4,-1.4zM313.5,628.5l1.4,1.4l-1.4,1.4l-1.4,-1.4zM311.0,620.9l1.4,1.4l-1.4,1.4l-1.4,-1.4zM305.0,632.0l1.4,1.4l-1.4,1.4l-1.4,-1.4zM303.7,636.5l1.4,1.4l-1.4,1.4l-1.4,-1.4zM302.3,631.0l1.4,1.4l-1.4,1.4l-1.4,-1.4zM308.2,626.5l1.4,1.4l-1.4,1.4l-1.4,-1.4zM346.9,630.7l1.4,1.4l-1.4,1.4l-1.4,-1.4zM301.5,625.3l1.4,1.4l-1.4,1.4l-1.4,-1.4zM374.9,615.8l1.4,1.4l-1.4,1.4l-1.4,-1.4zM329.5,629.2l1.4,1.4l-1.4,1.4l-1.4,-1.4zM304.5,626.8l1.4,1.4l-1.4,1.4l-1.4,-1.4zM327.1,618.0l1.4,1.4l-1.4,1.4l-1.4,-1.4zM300.5,632.7l1.4,1.4l-1.4,1.4l-1.4,-1.4zM300.1,634.4l1.4,1.4l-1.4,1.4l-1.4,-1.4zM300.9,636.0l1.4,1.4l-1.4,1.4l-1.4,-1.4zM304.8,624.3l1.4,1.4l-1.4,1.4l-1.4,-1.4zM305.4,623.4l1.4,1.4l-1.4,1.4l-1.4,-1.4zM304.0,628.3l1.4,1.4l-1.4,1.4l-1.4,-1.4zM310.3,626.4l1.4,1.4l-1.4,1.4l-1.4,-1.4zM299.7,617.7l1.4,1.4l-1.4,1.4l-1.4,-1.4zM318.1,620.9l1.4,1.4l-1.4,1.4l-1.4,-1.4zM300.6,638.5l1.4,1.4l-1.4,1.4l-1.4,-1.4zM303.2,627.4l1.4,1.4l-1.4,1.4l-1.4,-1.4zM304.7,626.4l1.4,1.4l-1.4,1.4l-1.4,-1.4zM301.2,622.1l1.4,1.4l-1.4,1.4l-1.4,-1.4zM300.7,629.4l1.4,1.4l-1.4,1.4l-1.4,-1.4zM301.7,632.4l1.4,1.4l-1.4,1.4l-1.4,-1.4zM308.7,629.9l1.4,1.4l-1.4,1.4l-1.4,-1.4zM320.7,636.9l1.4,1.4l-1.4,1.4l-1.4,-1.4zM320.0,626.4l1.4,1.4l-1.4,1.4l-1.4,-1.4zM301.7,632.1l1.4,1.4l-1.4,1.4l-1.4,-1.4zM302.5,624.0l1.4,1.4l-1.4,1.4l-1.4,-1.4zM302.0,635.2l1.4,1.4l-1.4,1.4l-1.4,-1.4zM317.0,629.1l1.4,1.4l-1.4,1.4l-1.4,-1.4zM299.8,635.7l1.4,1.4l-1.4,1.4l-1.4,-1.4zM350.8,631.5l1.4,1.4l-1.4,1.4l-1.4,-1.4zM304.2,622.3l1.4,1.4l-1.4,1.4l-1.4,-1.4zM302.6,630.9l1.4,1.4l-1.4,1.4l-1.4,-1.4zM314.5,620.6l1.4,1.4l-1.4,1.4l-1.4,-1.4zM338.3,632.1l1.4,1.4l-1.4,1.4l-1.4,-1.4zM314.6,625.9l1.4,1.4l-1.4,1.4l-1.4,-1.4zM339.3,635.3l1.4,1.4l-1.4,1.4l-1.4,-1.4zM310.8,629.9l1.4,1.4l-1.4,1.4l-1.4,-1.4zM350.2,628.5l1.4,1.4l-1.4,1.4l-1.4,-1.4zM351.2,622.5l1.4,1.4l-1.4,1.4l-1.4,-1.4zM307.7,625.8l1.4,1.4l-1.4,1.4l-1.4,-1.4zM366.8,626.5l1.4,1.4l-1.4,1.4l-1.4,-1.4zM311.3,621.3l1.4,1.4l-1.4,1.4l-1.4,-1.4zM310.1,625.6l1.4,1.4l-1.4,1.4l-1.4,-1.4zM302.0,623.6l1.4,1.4l-1.4,1.4l-1.4,-1.4zM305.8,621.9l1.4,1.4l-1.4,1.4l-1.4,-1.4zM326.9,626.5l1.4,1.4l-1.4,1.4l-1.4,-1.4zM300.8,630.1l1.4,1.4l-1.4,1.4l-1.4,-1.4zM322.5,624.3l1.4,1.4l-1.4,1.4l-1.4,-1.4zM314.7,629.2l1.4,1.4l-1.4,1.4l-1.4,-1.4zM313.3,624.2l1.4,1.4l-1.4,1.4l-1.4,-1.4zM299.7,619.2l1.4,1.4l-1.4,1.4l-1.4,-1.4zM307.6,621.3l1.4,1.4l-1.4,1.4l-1.4,-1.4zM322.4,628.5l1.4,1.4l-1.4,1.4l-1.4,-1.4zM302.7,637.1l1.4,1.4l-1.4,1.4l-1.4,-1.4zM310.1,627.2l1.4,1.4l-1.4,1.4l-1.4,-1.4zM299.6,629.1l1.4,1.4l-1.4,1.4l-1.4,-1.4zM323.2,619.7l1.4,1.4l-1.4,1.4l-1.4,-1.4zM303.2,630.3l1.4,1.4l-1.4,1.4l-1.4,-1.4zM330.6,627.3l1.4,1.4l-1.4,1.4l-1.4,-1.4zM300.0,622.2l1.4,1.4l-1.4,1.4l-1.4,-1.4zM323.9,629.1l1.4,1.4l-1.4,1.4l-1.4,-1.4zM306.2,628.3l1.4,1.4l-1.4,1.4l-1.4,-1.4zM328.0,616.2l1.4,1.4l-1.4,1.4l-1.4,-1.4zM302.0,616.5l1.4,1.4l-1.4,1.4l-1.4,-1.4zM303.4,617.8l1.4,1.4l-1.4,1.4l-1.4,-1.4zM499.2,623.9l1.4,1.4l-1.4,1.4l-1.4,-1.4zM302.4,634.8l1.4,1.4l-1.4,1.4l-1.4,-1.4zM302.9,623.5l1.4,1.4l-1.4,1.4l-1.4,-1.4zM305.9,626.8l1.4,1.4l-1.4,1.4l-1.4,-1.4zM301.6,626.1l1.4,1.4l-1.4,1.4l-1.4,-1.4zM347.5,628.6l1.4,1.4l-1.4,1.4l-1.4,-1.4zM398.7,625.5l1.4,1.4l-1.4,1.4l-1.4,-1.4zM302.9,628.9l1.4,1.4l-1.4,1.4l-1.4,-1.4zM300.1,625.5l1.4,1.4l-1.4,1.4l-1.4,-1.4zM346.3,618.0l1.4,1.4l-1.4,1.4l-1.4,-1.4zM342.5,623.9l1.4,1.4l-1.4,1.4l-1.4,-1.4zM328.6,635.7l1.4,1.4l-1.4,1.4l-1.4,-1.4zM345.4,631.2l1.4,1.4l-1.4,1.4l-1.4,-1.4zM302.2,639.5l1.4,1.4l-1.4,1.4l-1.4,-1.4zM306.9,632.6l1.4,1.4l-1.4,1.4l-1.4,-1.4zM300.7,623.6l1.4,1.4l-1.4,1.4l-1.4,-1.4zM300.6,624.8l1.4,1.4l-1.4,1.4l-1.4,-1.4zM335.6,629.4l1.4,1.4l-1.4,1.4l-1.4,-1.4zM303.1,625.6l1.4,1.4l-1.4,1.4l-1.4,-1.4zM509.5,629.0l1.4,1.4l-1.4,1.4l-1.4,-1.4zM309.9,636.2l1.4,1.4l-1.4,1.4l-1.4,-1.4zM303.3,637.8l1.4,1.4l-1.4,1.4l-1.4,-1.4zM327.6,631.1l1.4,1.4l-1.4,1.4l-1.4,-1.4zM409.4,618.1l1.4,1.4l-1.4,1.4l-1.4,-1.4zM317.9,634.7l1.4,1.4l-1.4,1.4l-1.4,-1.4zM301.1,618.3l1.4,1.4l-1.4,1.4l-1.4,-1.4zM315.2,618.3l1.4,1.4l-1.4,1.4l-1.4,-1.4zM361.3,626.6l1.4,1.4l-1.4,1.4l-1.4,-1.4zM304.2,627.8l1.4,1.4l-1.4,1.4l-1.4,-1.4zM302.6,632.1l1.4,1.4l-1.4,1.4l-1.4,-1.4zM337.4,626.1l1.4,1.4l-1.4,1.4l-1.4,-1.4zM310.9,622.5l1.4,1.4l-1.4,1.4l-1.4,-1.4zM301.4,627.7l1.4,1.4l-1.4,1.4l-1.4,-1.4zM305.0,620.3l1.4,1.4l-1.4,1.4l-1.4,-1.4zM302.7,618.9l1.4,1.4l-1.4,1.4l-1.4,-1.4zM313.7,624.5l1.4,1.4l-1.4,1.4l-1.4,-1.4zM310.4,624.7l1.4,1.4l-1.4,1.4l-1.4,-1.4zM345.0,626.2l1.4,1.4l-1.4,1.4l-1.4,-1.4zM324.5,624.2l1.4,1.4l-1.4,1.4l-1.4,-1.4zM300.4,647.6l1.4,1.4l-1.4,1.4l-1.4,-1.4zM316.0,624.0l1.4,1.4l-1.4,1.4l-1.4,-1.4zM331.7,624.9l1.4,1.4l-1.4,1.4l-1.4,-1.4zM317.1,631.8l1.4,1.4l-1.4,1.4l-1.4,-1.4zM338.1,613.9l1.4,1.4l-1.4,1.4l-1.4,-1.4zM303.8,634.5l1.4,1.4l-1.4,1.4l-1.4,-1.4zM301.9,634.3l1.4,1.4l-1.4,1.4l-1.4,-1.4zM333.2,624.5l1.4,1.4l-1.4,1.4l-1.4,-1.4zM301.5,642.5l1.4,1.4l-1.4,1.4l-1.4,-1.4zM299.7,634.4l1.4,1.4l-1.4,1.4l-1.4,-1.4zM337.9,645.1l1.4,1.4l-1.4,1.4l-1.4,-1.4zM302.8,643.7l1.4,1.4l-1.4,1.4l-1.4,-1.4zM305.6,628.2l1.4,1.4l-1.4,1.4l-1.4,-1.4zM300.7,625.5l1.4,1.4l-1.4,1.4l-1.4,-1.4zM300.8,619.4l1.4,1.4l-1.4,1.4l-1.4,-1.4zM301.2,621.7l1.4,1.4l-1.4,1.4l-1.4,-1.4zM305.2,619.0l1.4,1.4l-1.4,1.4l-1.4,-1.4zM315.2,622.9l1.4,1.4l-1.4,1.4l-1.4,-1.4zM299.6,631.9l1.4,1.4l-1.4,1.4l-1.4,-1.4zM325.9,619.7l1.4,1.4l-1.4,1.4l-1.4,-1.4zM301.2,631.6l1.4,1.4l-1.4,1.4l-1.4,-1.4zM301.5,632.5l1.4,1.4l-1.4,1.4l-1.4,-1.4zM323.4,617.2l1.4,1.4l-1.4,1.4l-1.4,-1.4zM308.0,621.8l1.4,1.4l-1.4,1.4l-1.4,-1.4zM300.4,626.3l1.4,1.4l-1.4,1.4l-1.4,-1.4zM416.1,621.6l1.4,1.4l-1.4,1.4l-1.4,-1.4zM302.2,621.2l1.4,1.4l-1.4,1.4l-1.4,-1.4zM312.7,635.5l1.4,1.4l-1.4,1.4l-1.4,-1.4zM311.9,627.4l1.4,1.4l-1.4,1.4l-1.4,-1.4zM364.3,632.0l1.4,1.4l-1.4,1.4l-1.4,-1.4zM304.4,626.6l1.4,1.4l-1.4,1.4l-1.4,-1.4zM337.0,629.8l1.4,1.4l-1.4,1.4l-1.4,-1.4zM302.8,617.6l1.4,1.4l-1.4,1.4l-1.4,-1.4zM343.3,623.0l1.4,1.4l-1.4,1.4l-1.4,-1.4zM302.7,633.6l1.4,1.4l-1.4,1.4l-1.4,-1.4zM305.1,627.5l1.4,1.4l-1.4,1.4l-1.4,-1.4zM424.5,631.6l1.4,1.4l-1.4,1.4l-1.4,-1.4zM314.1,626.4l1.4,1.4l-1.4,1.4l-1.4,-1.4zM310.4,623.3l1.4,1.4l-1.4,1.4l-1.4,-1.4zM499.1,624.0l1.4,1.4l-1.4,1.4l-1.4,-1.4zM315.0,638.7l1.4,1.4l-1.4,1.4l-1.4,-1.4zM302.4,630.2l1.4,1.4l-1.4,1.4l-1.4,-1.4zM325.3,623.3l1.4,1.4l-1.4,1.4l-1.4,-1.4zM301.2,625.5l1.4,1.4l-1.4,1.4l-1.4,-1.4zM343.6,619.5l1.4,1.4l-1.4,1.4l-1.4,-1.4zM348.6,632.9l1.4,1.4l-1.4,1.4l-1.4,-1.4zM303.7,623.7l1.4,1.4l-1.4,1.4l-1.4,-1.4zM303.4,632.3l1.4,1.4l-1.4,1.4l-1.4,-1.4zM311.5,625.6l1.4,1.4l-1.4,1.4l-1.4,-1.4zM309.1,624.3l1.4,1.4l-1.4,1.4l-1.4,-1.4zM301.8,622.6l1.4,1.4l-1.4,1.4l-1.4,-1.4zM320.1,629.9l1.4,1.4l-1.4,1.4l-1.4,-1.4zM299.8,626.7l1.4,1.4l-1.4,1.4l-1.4,-1.4zM304.6,635.7l1.4,1.4l-1.4,1.4l-1.4,-1.4zM304.8,637.4l1.4,1.4l-1.4,1.4l-1.4,-1.4zM305.9,623.4l1.4,1.4l-1.4,1.4l-1.4,-1.4zM313.9,627.1l1.4,1.4l-1.4,1.4l-1.4,-1.4zM301.0,640.3l1.4,1.4l-1.4,1.4l-1.4,-1.4zM320.6,631.5l1.4,1.4l-1.4,1.4l-1.4,-1.4zM306.8,627.1l1.4,1.4l-1.4,1.4l-1.4,-1.4zM303.2,616.2l1.4,1.4l-1.4,1.4l-1.4,-1.4zM300.7,619.9l1.4,1.4l-1.4,1.4l-1.4,-1.4zM301.2,621.8l1.4,1.4l-1.4,1.4l-1.4,-1.4zM315.0,637.9l1.4,1.4l-1.4,1.4l-1.4,-1.4zM301.8,628.5l1.4,1.4l-1.4,1.4l-1.4,-1.4zM309.8,623.8l1.4,1.4l-1.4,1.4l-1.4,-1.4zM339.8,623.8l1.4,1.4l-1.4,1.4l-1.4,-1.4zM338.3,623.6l1.4,1.4l-1.4,1.4l-1.4,-1.4zM378.8,626.8l1.4,1.4l-1.4,1.4l-1.4,-1.4zM305.7,615.0l1.4,1.4l-1.4,1.4l-1.4,-1.4zM301.4,616.6l1.4,1.4l-1.4,1.4l-1.4,-1.4zM337.6,626.5l1.4,1.4l-1.4,1.4l-1.4,-1.4zM313.9,632.9l1.4,1.4l-1.4,1.4l-1.4,-1.4zM343.4,614.5l1.4,1.4l-1.4,1.4l-1.4,-1.4zM309.0,630.7l1.4,1.4l-1.4,1.4l-1.4,-1.4zM347.9,619.3l1.4,1.4l-1.4,1.4l-1.4,-1.4zM329.6,615.1l1.4,1.4l-1.4,1.4l-1.4,-1.4zM324.7,631.9l1.4,1.4l-1.4,1.4l-1.4,-1.4zM318.3,624.7l1.4,1.4l-1.4,1.4l-1.4,-1.4zM315.8,628.8l1.4,1.4l-1.4,1.4l-1.4,-1.4zM312.5,623.5l1.4,1.4l-1.4,1.4l-1.4,-1.4zM312.3,624.7l1.4,1.4l-1.4,1.4l-1.4,-1.4zM336.1,615.0l1.4,1.4l-1.4,1.4l-1.4,-1.4zM304.1,623.3l1.4,1.4l-1.4,1.4l-1.4,-1.4zM400.1,625.5l1.4,1.4l-1.4,1.4l-1.4,-1.4zM307.6,619.5l1.4,1.4l-1.4,1.4l-1.4,-1.4zM335.8,627.6l1.4,1.4l-1.4,1.4l-1.4,-1.4zM307.8,629.6l1.4,1.4l-1.4,1.4l-1.4,-1.4zM306.1,611.8l1.4,1.4l-1.4,1.4l-1.4,-1.4zM449.8,629.5l1.4,1.4l-1.4,1.4l-1.4,-1.4zM305.6,630.8l1.4,1.4l-1.4,1.4l-1.4,-1.4zM300.9,627.6l1.4,1.4l-1.4,1.4l-1.4,-1.4zM302.9,635.4l1.4,1.4l-1.4,1.4l-1.4,-1.4zM305.5,642.1l1.4,1.4l-1.4,1.4l-1.4,-1.4zM477.0,620.0l1.4,1.4l-1.4,1.4l-1.4,-1.4zM312.0,631.9l1.4,1.4l-1.4,1.4l-1.4,-1.4zM333.4,629.2l1.4,1.4l-1.4,1.4l-1.4,-1.4zM301.7,630.6l1.4,1.4l-1.4,1.4l-1.4,-1.4zM314.8,632.8l1.4,1.4l-1.4,1.4l-1.4,-1.4zM323.2,632.7l1.4,1.4l-1.4,1.4l-1.4,-1.4zM409.5,624.6l1.4,1.4l-1.4,1.4l-1.4,-1.4zM303.0,610.0l1.4,1.4l-1.4,1.4l-1.4,-1.4zM321.1,622.0l1.4,1.4l-1.4,1.4l-1.4,-1.4zM313.8,622.0l1.4,1.4l-1.4,1.4l-1.4,-1.4zM301.6,639.2l1.4,1.4l-1.4,1.4l-1.4,-1.4zM308.6,627.2l1.4,1.4l-1.4,1.4l-1.4,-1.4zM306.0,635.5l1.4,1.4l-1.4,1.4l-1.4,-1.4zM299.6,622.0l1.4,1.4l-1.4,1.4l-1.4,-1.4zM320.9,627.8l1.4,1.4l-1.4,1.4l-1.4,-1.4zM319.3,626.2l1.4,1.4l-1.4,1.4l-1.4,-1.4zM304.6,628.1l1.4,1.4l-1.4,1.4l-1.4,-1.4zM300.8,632.5l1.4,1.4l-1.4,1.4l-1.4,-1.4zM370.6,633.7l1.4,1.4l-1.4,1.4l-1.4,-1.4zM313.1,623.1l1.4,1.4l-1.4,1.4l-1.4,-1.4zM337.4,633.8l1.4,1.4l-1.4,1.4l-1.4,-1.4zM364.2,632.0l1.4,1.4l-1.4,1.4l-1.4,-1.4zM304.0,629.7l1.4,1.4l-1.4,1.4l-1.4,-1.4zM328.2,630.3l1.4,1.4l-1.4,1.4l-1.4,-1.4zM306.2,625.5l1.4,1.4l-1.4,1.4l-1.4,-1.4zM308.1,620.3l1.4,1.4l-1.4,1.4l-1.4,-1.4zM307.8,623.9l1.4,1.4l-1.4,1.4l-1.4,-1.4zM308.9,625.7l1.4,1.4l-1.4,1.4l-1.4,-1.4zM342.8,625.8l1.4,1.4l-1.4,1.4l-1.4,-1.4zM310.7,621.3l1.4,1.4l-1.4,1.4l-1.4,-1.4zM307.1,639.8l1.4,1.4l-1.4,1.4l-1.4,-1.4zM305.9,624.7l1.4,1.4l-1.4,1.4l-1.4,-1.4zM314.6,632.6l1.4,1.4l-1.4,1.4l-1.4,-1.4zM302.1,637.0l1.4,1.4l-1.4,1.4l-1.4,-1.4zM304.1,627.5l1.4,1.4l-1.4,1.4l-1.4,-1.4zM308.2,629.7l1.4,1.4l-1.4,1.4l-1.4,-1.4zM303.7,623.3l1.4,1.4l-1.4,1.4l-1.4,-1.4zM307.5,619.7l1.4,1.4l-1.4,1.4l-1.4,-1.4zM303.4,644.5l1.4,1.4l-1.4,1.4l-1.4,-1.4zM444.1,625.8l1.4,1.4l-1.4,1.4l-1.4,-1.4zM357.5,615.2l1.4,1.4l-1.4,1.4l-1.4,-1.4zM317.0,621.2l1.4,1.4l-1.4,1.4l-1.4,-1.4zM308.2,617.4l1.4,1.4l-1.4,1.4l-1.4,-1.4zM485.7,624.8l1.4,1.4l-1.4,1.4l-1.4,-1.4zM314.2,635.8l1.4,1.4l-1.4,1.4l-1.4,-1.4zM307.8,634.7l1.4,1.4l-1.4,1.4l-1.4,-1.4zM313.8,622.2l1.4,1.4l-1.4,1.4l-1.4,-1.4zM313.8,620.6l1.4,1.4l-1.4,1.4l-1.4,-1.4zM364.2,629.6l1.4,1.4l-1.4,1.4l-1.4,-1.4zM308.6,628.9l1.4,1.4l-1.4,1.4l-1.4,-1.4zM464.0,624.0l1.4,1.4l-1.4,1.4l-1.4,-1.4zM302.1,640.8l1.4,1.4l-1.4,1.4l-1.4,-1.4zM323.9,628.4l1.4,1.4l-1.4,1.4l-1.4,-1.4zM301.7,615.6l1.4,1.4l-1.4,1.4l-1.4,-1.4zM411.8,614.3l1.4,1.4l-1.4,1.4l-1.4,-1.4zM305.4,628.1l1.4,1.4l-1.4,1.4l-1.4,-1.4zM308.2,614.8l1.4,1.4l-1.4,1.4l-1.4,-1.4zM332.9,629.1l1.4,1.4l-1.4,1.4l-1.4,-1.4zM352.0,630.2l1.4,1.4l-1.4,1.4l-1.4,-1.4zM301.4,644.9l1.4,1.4l-1.4,1.4l-1.4,-1.4zM305.3,620.6l1.4,1.4l-1.4,1.4l-1.4,-1.4zM300.7,630.9l1.4,1.4l-1.4,1.4l-1.4,-1.4zM310.9,611.6l1.4,1.4l-1.4,1.4l-1.4,-1.4zM307.6,624.9l1.4,1.4l-1.4,1.4l-1.4,-1.4zM305.2,626.0l1.4,1.4l-1.4,1.4l-1.4,-1.4zM303.0,640.9l1.4,1.4l-1.4,1.4l-1.4,-1.4zM305.0,616.8l1.4,1.4l-1.4,1.4l-1.4,-1.4zM302.7,630.3l1.4,1.4l-1.4,1.4l-1.4,-1.4zM319.0,627.5l1.4,1.4l-1.4,1.4l-1.4,-1.4zM374.2,637.3l1.4,1.4l-1.4,1.4l-1.4,-1.4zM299.9,620.8l1.4,1.4l-1.4,1.4l-1.4,-1.4zM307.5,620.4l1.4,1.4l-1.4,1.4l-1.4,-1.4zM304.7,631.7l1.4,1.4l-1.4,1.4l-1.4,-1.4zM318.0,625.9l1.4,1.4l-1.4,1.4l-1.4,-1.4zM301.9,624.8l1.4,1.4l-1.4,1.4l-1.4,-1.4zM307.2,620.6l1.4,1.4l-1.4,1.4l-1.4,-1.4zM301.6,627.0l1.4,1.4l-1.4,1.4l-1.4,-1.4zM324.0,616.1l1.4,1.4l-1.4,1.4l-1.4,-1.4zM310.3,628.5l1.4,1.4l-1.4,1.4l-1.4,-1.4zM307.0,631.3l1.4,1.4l-1.4,1.4l-1.4,-1.4zM315.2,629.6l1.4,1.4l-1.4,1.4l-1.4,-1.4zM306.1,644.9l1.4,1.4l-1.4,1.4l-1.4,-1.4zM300.4,634.3l1.4,1.4l-1.4,1.4l-1.4,-1.4zM320.9,620.3l1.4,1.4l-1.4,1.4l-1.4,-1.4zM313.5,625.0l1.4,1.4l-1.4,1.4l-1.4,-1.4zM307.1,632.8l1.4,1.4l-1.4,1.4l-1.4,-1.4zM335.8,624.0l1.4,1.4l-1.4,1.4l-1.4,-1.4zM349.4,636.9l1.4,1.4l-1.4,1.4l-1.4,-1.4zM301.4,630.0l1.4,1.4l-1.4,1.4l-1.4,-1.4zM302.6,623.8l1.4,1.4l-1.4,1.4l-1.4,-1.4zM377.4,621.9l1.4,1.4l-1.4,1.4l-1.4,-1.4zM365.0,629.8l1.4,1.4l-1.4,1.4l-1.4,-1.4zM302.8,620.9l1.4,1.4l-1.4,1.4l-1.4,-1.4zM301.2,613.6l1.4,1.4l-1.4,1.4l-1.4,-1.4zM303.3,630.7l1.4,1.4l-1.4,1.4l-1.4,-1.4zM304.1,622.1l1.4,1.4l-1.4,1.4l-1.4,-1.4zM300.3,640.2l1.4,1.4l-1.4,1.4l-1.4,-1.4zM309.3,640.0l1.4,1.4l-1.4,1.4l-1.4,-1.4zM300.9,623.2l1.4,1.4l-1.4,1.4l-1.4,-1.4zM301.1,627.5l1.4,1.4l-1.4,1.4l-1.4,-1.4zM332.6,624.9l1.4,1.4l-1.4,1.4l-1.4,-1.4zM303.1,631.9l1.4,1.4l-1.4,1.4l-1.4,-1.4zM308.0,629.1l1.4,1.4l-1.4,1.4l-1.4,-1.4zM321.9,621.5l1.4,1.4l-1.4,1.4l-1.4,-1.4zM328.2,616.2l1.4,1.4l-1.4,1.4l-1.4,-1.4zM305.3,628.8l1.4,1.4l-1.4,1.4l-1.4,-1.4zM309.5,637.9l1.4,1.4l-1.4,1.4l-1.4,-1.4zM302.4,618.2l1.4,1.4l-1.4,1.4l-1.4,-1.4zM401.7,622.4l1.4,1.4l-1.4,1.4l-1.4,-1.4zM322.5,622.2l1.4,1.4l-1.4,1.4l-1.4,-1.4zM301.4,626.4l1.4,1.4l-1.4,1.4l-1.4,-1.4zM308.9,611.5l1.4,1.4l-1.4,1.4l-1.4,-1.4zM324.6,625.8l1.4,1.4l-1.4,1.4l-1.4,-1.4zM317.7,623.3l1.4,1.4l-1.4,1.4l-1.4,-1.4zM413.7,634.9l1.4,1.4l-1.4,1.4l-1.4,-1.4zM361.0,628.8l1.4,1.4l-1.4,1.4l-1.4,-1.4zM303.9,632.4l1.4,1.4l-1.4,1.4l-1.4,-1.4zM307.8,627.3l1.4,1.4l-1.4,1.4l-1.4,-1.4zM300.9,625.2l1.4,1.4l-1.4,1.4l-1.4,-1.4zM312.8,631.5l1.4,1.4l-1.4,1.4l-1.4,-1.4zM311.1,615.6l1.4,1.4l-1.4,1.4l-1.4,-1.4zM310.3,633.9l1.4,1.4l-1.4,1.4l-1.4,-1.4zM299.8,631.7l1.4,1.4l-1.4,1.4l-1.4,-1.4zM303.1,625.8l1.4,1.4l-1.4,1.4l-1.4,-1.4zM310.5,635.1l1.4,1.4l-1.4,1.4l-1.4,-1.4zM301.0,623.5l1.4,1.4l-1.4,1.4l-1.4,-1.4zM302.2,623.0l1.4,1.4l-1.4,1.4l-1.4,-1.4zM305.1,629.4l1.4,1.4l-1.4,1.4l-1.4,-1.4zM314.6,614.6l1.4,1.4l-1.4,1.4l-1.4,-1.4zM307.0,626.6l1.4,1.4l-1.4,1.4l-1.4,-1.4zM302.1,625.6l1.4,1.4l-1.4,1.4l-1.4,-1.4zM327.3,631.8l1.4,1.4l-1.4,1.4l-1.4,-1.4zM303.9,639.6l1.4,1.4l-1.4,1.4l-1.4,-1.4zM304.1,632.0l1.4,1.4l-1.4,1.4l-1.4,-1.4zM300.7,630.4l1.4,1.4l-1.4,1.4l-1.4,-1.4zM302.6,631.0l1.4,1.4l-1.4,1.4l-1.4,-1.4zM322.6,621.7l1.4,1.4l-1.4,1.4l-1.4,-1.4zM300.3,646.7l1.4,1.4l-1.4,1.4l-1.4,-1.4zM308.0,634.7l1.4,1.4l-1.4,1.4l-1.4,-1.4zM324.7,637.0l1.4,1.4l-1.4,1.4l-1.4,-1.4zM305.0,617.9l1.4,1.4l-1.4,1.4l-1.4,-1.4zM312.6,630.4l1.4,1.4l-1.4,1.4l-1.4,-1.4zM301.3,631.7l1.4,1.4l-1.4,1.4l-1.4,-1.4zM356.0,631.7l1.4,1.4l-1.4,1.4l-1.4,-1.4zM342.0,620.9l1.4,1.4l-1.4,1.4l-1.4,-1.4zM312.5,629.4l1.4,1.4l-1.4,1.4l-1.4,-1.4zM300.1,626.3l1.4,1.4l-1.4,1.4l-1.4,-1.4zM301.6,643.2l1.4,1.4l-1.4,1.4l-1.4,-1.4zM335.4,619.4l1.4,1.4l-1.4,1.4l-1.4,-1.4zM397.1,623.4l1.4,1.4l-1.4,1.4l-1.4,-1.4zM313.7,623.2l1.4,1.4l-1.4,1.4l-1.4,-1.4zM351.4,619.0l1.4,1.4l-1.4,1.4l-1.4,-1.4zM303.5,628.9l1.4,1.4l-1.4,1.4l-1.4,-1.4zM306.7,628.3l1.4,1.4l-1.4,1.4l-1.4,-1.4zM308.9,622.2l1.4,1.4l-1.4,1.4l-1.4,-1.4zM316.4,623.9l1.4,1.4l-1.4,1.4l-1.4,-1.4zM300.4,629.9l1.4,1.4l-1.4,1.4l-1.4,-1.4zM333.7,625.8l1.4,1.4l-1.4,1.4l-1.4,-1.4zM357.0,632.0l1.4,1.4l-1.4,1.4l-1.4,-1.4zM301.3,622.4l1.4,1.4l-1.4,1.4l-1.4,-1.4zM300.8,620.7l1.4,1.4l-1.4,1.4l-1.4,-1.4zM314.8,626.6l1.4,1.4l-1.4,1.4l-1.4,-1.4zM303.2,613.8l1.4,1.4l-1.4,1.4l-1.4,-1.4zM299.6,640.4l1.4,1.4l-1.4,1.4l-1.4,-1.4zM328.1,627.5l1.4,1.4l-1.4,1.4l-1.4,-1.4zM311.2,615.7l1.4,1.4l-1.4,1.4l-1.4,-1.4zM304.3,630.4l1.4,1.4l-1.4,1.4l-1.4,-1.4zM467.2,633.3l1.4,1.4l-1.4,1.4l-1.4,-1.4zM310.9,617.7l1.4,1.4l-1.4,1.4l-1.4,-1.4zM302.7,623.6l1.4,1.4l-1.4,1.4l-1.4,-1.4zM310.3,644.5l1.4,1.4l-1.4,1.4l-1.4,-1.4zM301.6,621.9l1.4,1.4l-1.4,1.4l-1.4,-1.4zM302.7,635.2l1.4,1.4l-1.4,1.4l-1.4,-1.4zM315.5,635.0l1.4,1.4l-1.4,1.4l-1.4,-1.4zM303.8,628.6l1.4,1.4l-1.4,1.4l-1.4,-1.4zM304.5,630.8l1.4,1.4l-1.4,1.4l-1.4,-1.4zM391.4,631.2l1.4,1.4l-1.4,1.4l-1.4,-1.4zM330.1,628.2l1.4,1.4l-1.4,1.4l-1.4,-1.4zM327.8,632.0l1.4,1.4l-1.4,1.4l-1.4,-1.4zM319.0,626.0l1.4,1.4l-1.4,1.4l-1.4,-1.4zM317.8,626.6l1.4,1.4l-1.4,1.4l-1.4,-1.4zM368.4,621.6l1.4,1.4l-1.4,1.4l-1.4,-1.4zM308.6,630.0l1.4,1.4l-1.4,1.4l-1.4,-1.4zM417.8,632.2l1.4,1.4l-1.4,1.4l-1.4,-1.4zM301.9,637.6l1.4,1.4l-1.4,1.4l-1.4,-1.4zM306.1,628.9l1.4,1.4l-1.4,1.4l-1.4,-1.4zM300.7,616.0l1.4,1.4l-1.4,1.4l-1.4,-1.4zM305.3,621.3l1.4,1.4l-1.4,1.4l-1.4,-1.4zM318.7,630.3l1.4,1.4l-1.4,1.4l-1.4,-1.4zM367.9,620.6l1.4,1.4l-1.4,1.4l-1.4,-1.4zM303.2,636.0l1.4,1.4l-1.4,1.4l-1.4,-1.4zM309.0,620.2l1.4,1.4l-1.4,1.4l-1.4,-1.4zM305.2,630.0l1.4,1.4l-1.4,1.4l-1.4,-1.4zM302.8,621.9l1.4,1.4l-1.4,1.4l-1.4,-1.4zM301.1,623.0l1.4,1.4l-1.4,1.4l-1.4,-1.4zM309.7,628.7l1.4,1.4l-1.4,1.4l-1.4,-1.4zM300.1,625.4l1.4,1.4l-1.4,1.4l-1.4,-1.4zM310.4,633.9l1.4,1.4l-1.4,1.4l-1.4,-1.4zM309.2,627.4l1.4,1.4l-1.4,1.4l-1.4,-1.4zM303.2,619.6l1.4,1.4l-1.4,1.4l-1.4,-1.4zM301.7,596.7l1.4,1.4l-1.4,1.4l-1.4,-1.4zM300.7,622.4l1.4,1.4l-1.4,1.4l-1.4,-1.4zM420.4,624.9l1.4,1.4l-1.4,1.4l-1.4,-1.4zM300.8,635.7l1.4,1.4l-1.4,1.4l-1.4,-1.4zM378.5,620.0l1.4,1.4l-1.4,1.4l-1.4,-1.4zM321.0,636.3l1.4,1.4l-1.4,1.4l-1.4,-1.4zM305.1,633.0l1.4,1.4l-1.4,1.4l-1.4,-1.4zM301.2,625.1l1.4,1.4l-1.4,1.4l-1.4,-1.4zM338.8,632.7l1.4,1.4l-1.4,1.4l-1.4,-1.4zM399.3,617.5l1.4,1.4l-1.4,1.4l-1.4,-1.4zM301.9,619.5l1.4,1.4l-1.4,1.4l-1.4,-1.4zM305.7,631.2l1.4,1.4l-1.4,1.4l-1.4,-1.4zM339.3,629.0l1.4,1.4l-1.4,1.4l-1.4,-1.4zM314.4,635.0l1.4,1.4l-1.4,1.4l-1.4,-1.4zM443.4,632.4l1.4,1.4l-1.4,1.4l-1.4,-1.4zM303.7,624.2l1.4,1.4l-1.4,1.4l-1.4,-1.4zM319.3,622.6l1.4,1.4l-1.4,1.4l-1.4,-1.4zM301.0,625.1l1.4,1.4l-1.4,1.4l-1.4,-1.4zM463.3,623.9l1.4,1.4l-1.4,1.4l-1.4,-1.4zM302.8,631.7l1.4,1.4l-1.4,1.4l-1.4,-1.4zM299.7,625.2l1.4,1.4l-1.4,1.4l-1.4,-1.4zM307.4,637.1l1.4,1.4l-1.4,1.4l-1.4,-1.4zM307.2,627.0l1.4,1.4l-1.4,1.4l-1.4,-1.4zM427.8,617.8l1.4,1.4l-1.4,1.4l-1.4,-1.4zM305.3,617.9l1.4,1.4l-1.4,1.4l-1.4,-1.4zM308.7,630.1l1.4,1.4l-1.4,1.4l-1.4,-1.4zM320.8,628.4l1.4,1.4l-1.4,1.4l-1.4,-1.4zM381.7,618.3l1.4,1.4l-1.4,1.4l-1.4,-1.4zM308.1,614.9l1.4,1.4l-1.4,1.4l-1.4,-1.4zM338.6,634.3l1.4,1.4l-1.4,1.4l-1.4,-1.4zM318.7,629.0l1.4,1.4l-1.4,1.4l-1.4,-1.4zM305.7,625.6l1.4,1.4l-1.4,1.4l-1.4,-1.4zM310.0,618.8l1.4,1.4l-1.4,1.4l-1.4,-1.4zM309.3,632.5l1.4,1.4l-1.4,1.4l-1.4,-1.4zM302.0,622.8l1.4,1.4l-1.4,1.4l-1.4,-1.4zM349.1,627.4l1.4,1.4l-1.4,1.4l-1.4,-1.4zM300.7,609.4l1.4,1.4l-1.4,1.4l-1.4,-1.4zM346.3,623.4l1.4,1.4l-1.4,1.4l-1.4,-1.4zM334.3,626.7l1.4,1.4l-1.4,1.4l-1.4,-1.4zM307.7,629.3l1.4,1.4l-1.4,1.4l-1.4,-1.4zM302.6,610.8l1.4,1.4l-1.4,1.4l-1.4,-1.4zM306.3,622.5l1.4,1.4l-1.4,1.4l-1.4,-1.4zM317.5,633.2l1.4,1.4l-1.4,1.4l-1.4,-1.4zM325.6,624.9l1.4,1.4l-1.4,1.4l-1.4,-1.4zM313.5,645.8l1.4,1.4l-1.4,1.4l-1.4,-1.4zM336.2,630.2l1.4,1.4l-1.4,1.4l-1.4,-1.4zM303.8,636.8l1.4,1.4l-1.4,1.4l-1.4,-1.4zM312.5,635.3l1.4,1.4l-1.4,1.4l-1.4,-1.4zM300.4,633.3l1.4,1.4l-1.4,1.4l-1.4,-1.4zM326.4,631.9l1.4,1.4l-1.4,1.4l-1.4,-1.4zM311.1,623.3l1.4,1.4l-1.4,1.4l-1.4,-1.4zM304.7,621.6l1.4,1.4l-1.4,1.4l-1.4,-1.4zM345.7,627.1l1.4,1.4l-1.4,1.4l-1.4,-1.4zM323.8,632.9l1.4,1.4l-1.4,1.4l-1.4,-1.4zM299.4,621.6l1.4,1.4l-1.4,1.4l-1.4,-1.4zM309.4,640.4l1.4,1.4l-1.4,1.4l-1.4,-1.4zM300.6,643.0l1.4,1.4l-1.4,1.4l-1.4,-1.4zM340.1,621.8l1.4,1.4l-1.4,1.4l-1.4,-1.4zM304.0,622.7l1.4,1.4l-1.4,1.4l-1.4,-1.4zM309.9,620.4l1.4,1.4l-1.4,1.4l-1.4,-1.4zM306.1,628.7l1.4,1.4l-1.4,1.4l-1.4,-1.4zM314.8,634.6l1.4,1.4l-1.4,1.4l-1.4,-1.4zM322.3,629.3l1.4,1.4l-1.4,1.4l-1.4,-1.4zM354.3,622.6l1.4,1.4l-1.4,1.4l-1.4,-1.4zM301.8,633.5l1.4,1.4l-1.4,1.4l-1.4,-1.4zM380.1,629.2l1.4,1.4l-1.4,1.4l-1.4,-1.4zM302.0,638.2l1.4,1.4l-1.4,1.4l-1.4,-1.4zM313.3,634.1l1.4,1.4l-1.4,1.4l-1.4,-1.4zM345.5,621.1l1.4,1.4l-1.4,1.4l-1.4,-1.4zM324.6,623.5l1.4,1.4l-1.4,1.4l-1.4,-1.4zM301.9,636.4l1.4,1.4l-1.4,1.4l-1.4,-1.4zM303.0,635.5l1.4,1.4l-1.4,1.4l-1.4,-1.4zM304.4,631.4l1.4,1.4l-1.4,1.4l-1.4,-1.4zM308.2,623.3l1.4,1.4l-1.4,1.4l-1.4,-1.4zM344.8,632.3l1.4,1.4l-1.4,1.4l-1.4,-1.4zM300.9,629.1l1.4,1.4l-1.4,1.4l-1.4,-1.4zM317.4,639.7l1.4,1.4l-1.4,1.4l-1.4,-1.4zM321.3,633.9l1.4,1.4l-1.4,1.4l-1.4,-1.4zM319.8,623.8l1.4,1.4l-1.4,1.4l-1.4,-1.4zM317.4,620.9l1.4,1.4l-1.4,1.4l-1.4,-1.4zM374.4,631.7l1.4,1.4l-1.4,1.4l-1.4,-1.4zM317.9,631.2l1.4,1.4l-1.4,1.4l-1.4,-1.4zM330.0,621.4l1.4,1.4l-1.4,1.4l-1.4,-1.4zM319.9,628.7l1.4,1.4l-1.4,1.4l-1.4,-1.4zM408.2,628.2l1.4,1.4l-1.4,1.4l-1.4,-1.4zM299.9,623.9l1.4,1.4l-1.4,1.4l-1.4,-1.4zM353.9,624.6l1.4,1.4l-1.4,1.4l-1.4,-1.4zM306.0,619.4l1.4,1.4l-1.4,1.4l-1.4,-1.4zM305.8,621.6l1.4,1.4l-1.4,1.4l-1.4,-1.4zM301.8,632.0l1.4,1.4l-1.4,1.4l-1.4,-1.4zM300.0,628.9l1.4,1.4l-1.4,1.4l-1.4,-1.4zM305.0,627.7l1.4,1.4l-1.4,1.4l-1.4,-1.4zM303.0,637.5l1.4,1.4l-1.4,1.4l-1.4,-1.4zM318.1,632.4l1.4,1.4l-1.4,1.4l-1.4,-1.4zM300.5,620.3l1.4,1.4l-1.4,1.4l-1.4,-1.4zM366.1,634.1l1.4,1.4l-1.4,1.4l-1.4,-1.4zM313.2,620.3l1.4,1.4l-1.4,1.4l-1.4,-1.4zM306.1,625.2l1.4,1.4l-1.4,1.4l-1.4,-1.4zM302.9,628.6l1.4,1.4l-1.4,1.4l-1.4,-1.4zM302.5,623.6l1.4,1.4l-1.4,1.4l-1.4,-1.4zM301.3,624.1l1.4,1.4l-1.4,1.4l-1.4,-1.4zM303.8,618.7l1.4,1.4l-1.4,1.4l-1.4,-1.4zM309.0,629.6l1.4,1.4l-1.4,1.4l-1.4,-1.4zM306.8,628.7l1.4,1.4l-1.4,1.4l-1.4,-1.4zM300.6,632.5l1.4,1.4l-1.4,1.4l-1.4,-1.4zM306.0,614.0l1.4,1.4l-1.4,1.4l-1.4,-1.4zM302.1,620.5l1.4,1.4l-1.4,1.4l-1.4,-1.4zM311.2,632.8l1.4,1.4l-1.4,1.4l-1.4,-1.4zM419.3,627.1l1.4,1.4l-1.4,1.4l-1.4,-1.4zM321.7,630.5l1.4,1.4l-1.4,1.4l-1.4,-1.4zM305.5,627.1l1.4,1.4l-1.4,1.4l-1.4,-1.4zM300.3,626.2l1.4,1.4l-1.4,1.4l-1.4,-1.4zM300.6,610.0l1.4,1.4l-1.4,1.4l-1.4,-1.4zM300.2,642.3l1.4,1.4l-1.4,1.4l-1.4,-1.4zM325.0,620.1l1.4,1.4l-1.4,1.4l-1.4,-1.4zM302.6,624.3l1.4,1.4l-1.4,1.4l-1.4,-1.4zM309.7,631.5l1.4,1.4l-1.4,1.4l-1.4,-1.4zM303.4,630.2l1.4,1.4l-1.4,1.4l-1.4,-1.4zM310.2,630.1l1.4,1.4l-1.4,1.4l-1.4,-1.4zM363.5,625.3l1.4,1.4l-1.4,1.4l-1.4,-1.4zM303.0,620.1l1.4,1.4l-1.4,1.4l-1.4,-1.4zM305.3,637.9l1.4,1.4l-1.4,1.4l-1.4,-1.4zM302.5,617.8l1.4,1.4l-1.4,1.4l-1.4,-1.4zM330.8,628.2l1.4,1.4l-1.4,1.4l-1.4,-1.4zM301.6,616.3l1.4,1.4l-1.4,1.4l-1.4,-1.4zM301.3,624.6l1.4,1.4l-1.4,1.4l-1.4,-1.4zM300.7,618.2l1.4,1.4l-1.4,1.4l-1.4,-1.4zM300.6,623.4l1.4,1.4l-1.4,1.4l-1.4,-1.4zM317.5,619.7l1.4,1.4l-1.4,1.4l-1.4,-1.4zM301.7,627.2l1.4,1.4l-1.4,1.4l-1.4,-1.4zM334.2,630.7l1.4,1.4l-1.4,1.4l-1.4,-1.4zM312.8,622.3l1.4,1.4l-1.4,1.4l-1.4,-1.4zM301.4,622.3l1.4,1.4l-1.4,1.4l-1.4,-1.4zM305.9,612.5l1.4,1.4l-1.4,1.4l-1.4,-1.4zM306.3,641.0l1.4,1.4l-1.4,1.4l-1.4,-1.4zM303.0,628.9l1.4,1.4l-1.4,1.4l-1.4,-1.4zM430.5,619.9l1.4,1.4l-1.4,1.4l-1.4,-1.4zM299.9,637.9l1.4,1.4l-1.4,1.4l-1.4,-1.4zM315.4,627.9l1.4,1.4l-1.4,1.4l-1.4,-1.4zM314.4,613.1l1.4,1.4l-1.4,1.4l-1.4,-1.4zM303.6,617.1l1.4,1.4l-1.4,1.4l-1.4,-1.4zM311.1,632.5l1.4,1.4l-1.4,1.4l-1.4,-1.4zM330.9,617.8l1.4,1.4l-1.4,1.4l-1.4,-1.4zM311.1,619.0l1.4,1.4l-1.4,1.4l-1.4,-1.4zM316.2,621.6l1.4,1.4l-1.4,1.4l-1.4,-1.4zM323.9,623.9l1.4,1.4l-1.4,1.4l-1.4,-1.4zM299.8,626.0l1.4,1.4l-1.4,1.4l-1.4,-1.4zM370.5,630.1l1.4,1.4l-1.4,1.4l-1.4,-1.4zM509.1,627.7l1.4,1.4l-1.4,1.4l-1.4,-1.4zM335.6,621.7l1.4,1.4l-1.4,1.4l-1.4,-1.4zM337.3,625.1l1.4,1.4l-1.4,1.4l-1.4,-1.4zM300.6,613.4l1.4,1.4l-1.4,1.4l-1.4,-1.4zM307.5,629.2l1.4,1.4l-1.4,1.4l-1.4,-1.4zM302.4,645.4l1.4,1.4l-1.4,1.4l-1.4,-1.4zM303.6,629.8l1.4,1.4l-1.4,1.4l-1.4,-1.4zM334.9,624.3l1.4,1.4l-1.4,1.4l-1.4,-1.4zM302.5,624.6l1.4,1.4l-1.4,1.4l-1.4,-1.4zM307.3,626.5l1.4,1.4l-1.4,1.4l-1.4,-1.4zM299.9,634.4l1.4,1.4l-1.4,1.4l-1.4,-1.4zM307.0,616.7l1.4,1.4l-1.4,1.4l-1.4,-1.4zM310.1,631.1l1.4,1.4l-1.4,1.4l-1.4,-1.4zM302.9,622.2l1.4,1.4l-1.4,1.4l-1.4,-1.4zM302.9,629.5l1.4,1.4l-1.4,1.4l-1.4,-1.4zM422.9,631.4l1.4,1.4l-1.4,1.4l-1.4,-1.4zM301.1,616.8l1.4,1.4l-1.4,1.4l-1.4,-1.4zM301.5,646.6l1.4,1.4l-1.4,1.4l-1.4,-1.4zM302.5,633.8l1.4,1.4l-1.4,1.4l-1.4,-1.4zM348.1,623.3l1.4,1.4l-1.4,1.4l-1.4,-1.4zM464.5,627.0l1.4,1.4l-1.4,1.4l-1.4,-1.4zM314.4,621.7l1.4,1.4l-1.4,1.4l-1.4,-1.4zM302.9,628.1l1.4,1.4l-1.4,1.4l-1.4,-1.4zM304.6,630.4l1.4,1.4l-1.4,1.4l-1.4,-1.4zM340.0,613.7l1.4,1.4l-1.4,1.4l-1.4,-1.4zM302.0,629.2l1.4,1.4l-1.4,1.4l-1.4,-1.4zM368.1,626.3l1.4,1.4l-1.4,1.4l-1.4,-1.4zM364.8,631.3l1.4,1.4l-1.4,1.4l-1.4,-1.4zM309.9,631.7l1.4,1.4l-1.4,1.4l-1.4,-1.4zM322.4,622.3l1.4,1.4l-1.4,1.4l-1.4,-1.4zM325.9,622.7l1.4,1.4l-1.4,1.4l-1.4,-1.4zM378.2,625.4l1.4,1.4l-1.4,1.4l-1.4,-1.4zM301.5,632.9l1.4,1.4l-1.4,1.4l-1.4,-1.4zM346.9,621.9l1.4,1.4l-1.4,1.4l-1.4,-1.4zM305.0,639.2l1.4,1.4l-1.4,1.4l-1.4,-1.4zM302.6,629.9l1.4,1.4l-1.4,1.4l-1.4,-1.4zM310.3,628.3l1.4,1.4l-1.4,1.4l-1.4,-1.4zM306.5,632.8l1.4,1.4l-1.4,1.4l-1.4,-1.4zM301.8,626.4l1.4,1.4l-1.4,1.4l-1.4,-1.4zM300.3,633.0l1.4,1.4l-1.4,1.4l-1.4,-1.4zM301.9,633.5l1.4,1.4l-1.4,1.4l-1.4,-1.4zM368.0,615.9l1.4,1.4l-1.4,1.4l-1.4,-1.4zM436.3,621.4l1.4,1.4l-1.4,1.4l-1.4,-1.4zM322.5,618.9l1.4,1.4l-1.4,1.4l-1.4,-1.4zM347.2,625.3l1.4,1.4l-1.4,1.4l-1.4,-1.4zM304.0,620.3l1.4,1.4l-1.4,1.4l-1.4,-1.4zM307.9,621.5l1.4,1.4l-1.4,1.4l-1.4,-1.4zM313.4,618.7l1.4,1.4l-1.4,1.4l-1.4,-1.4zM301.5,609.5l1.4,1.4l-1.4,1.4l-1.4,-1.4zM301.7,629.2l1.4,1.4l-1.4,1.4l-1.4,-1.4zM310.2,624.9l1.4,1.4l-1.4,1.4l-1.4,-1.4zM305.5,627.4l1.4,1.4l-1.4,1.4l-1.4,-1.4zM301.5,652.9l1.4,1.4l-1.4,1.4l-1.4,-1.4zM315.5,635.1l1.4,1.4l-1.4,1.4l-1.4,-1.4zM306.0,626.8l1.4,1.4l-1.4,1.4l-1.4,-1.4zM337.7,622.2l1.4,1.4l-1.4,1.4l-1.4,-1.4zM308.8,630.6l1.4,1.4l-1.4,1.4l-1.4,-1.4zM305.7,619.0l1.4,1.4l-1.4,1.4l-1.4,-1.4zM310.7,618.2l1.4,1.4l-1.4,1.4l-1.4,-1.4zM306.9,633.1l1.4,1.4l-1.4,1.4l-1.4,-1.4zM303.1,616.8l1.4,1.4l-1.4,1.4l-1.4,-1.4zM304.8,614.6l1.4,1.4l-1.4,1.4l-1.4,-1.4zM325.8,623.2l1.4,1.4l-1.4,1.4l-1.4,-1.4zM322.4,631.9l1.4,1.4l-1.4,1.4l-1.4,-1.4zM354.2,617.5l1.4,1.4l-1.4,1.4l-1.4,-1.4zM300.2,628.9l1.4,1.4l-1.4,1.4l-1.4,-1.4zM304.9,629.7l1.4,1.4l-1.4,1.4l-1.4,-1.4zM304.7,626.2l1.4,1.4l-1.4,1.4l-1.4,-1.4zM311.4,630.0l1.4,1.4l-1.4,1.4l-1.4,-1.4zM304.5,619.4l1.4,1.4l-1.4,1.4l-1.4,-1.4zM304.0,621.5l1.4,1.4l-1.4,1.4l-1.4,-1.4zM327.1,618.8l1.4,1.4l-1.4,1.4l-1.4,-1.4zM311.5,622.7l1.4,1.4l-1.4,1.4l-1.4,-1.4zM301.2,633.5l1.4,1.4l-1.4,1.4l-1.4,-1.4zM357.9,626.3l1.4,1.4l-1.4,1.4l-1.4,-1.4zM336.4,614.8l1.4,1.4l-1.4,1.4l-1.4,-1.4zM303.7,630.1l1.4,1.4l-1.4,1.4l-1.4,-1.4zM329.0,608.9l1.4,1.4l-1.4,1.4l-1.4,-1.4zM302.8,629.0l1.4,1.4l-1.4,1.4l-1.4,-1.4zM343.5,628.8l1.4,1.4l-1.4,1.4l-1.4,-1.4zM306.4,609.4l1.4,1.4l-1.4,1.4l-1.4,-1.4zM302.5,621.7l1.4,1.4l-1.4,1.4l-1.4,-1.4zM305.1,627.2l1.4,1.4l-1.4,1.4l-1.4,-1.4zM302.6,629.0l1.4,1.4l-1.4,1.4l-1.4,-1.4zM311.8,623.7l1.4,1.4l-1.4,1.4l-1.4,-1.4zM311.5,621.1l1.4,1.4l-1.4,1.4l-1.4,-1.4zM309.4,621.5l1.4,1.4l-1.4,1.4l-1.4,-1.4zM303.8,629.3l1.4,1.4l-1.4,1.4l-1.4,-1.4zM299.3,620.1l1.4,1.4l-1.4,1.4l-1.4,-1.4zM310.2,621.0l1.4,1.4l-1.4,1.4l-1.4,-1.4zM299.9,621.6l1.4,1.4l-1.4,1.4l-1.4,-1.4zM312.7,646.2l1.4,1.4l-1.4,1.4l-1.4,-1.4zM343.8,630.5l1.4,1.4l-1.4,1.4l-1.4,-1.4zM313.2,631.3l1.4,1.4l-1.4,1.4l-1.4,-1.4zM304.9,628.6l1.4,1.4l-1.4,1.4l-1.4,-1.4zM306.8,625.6l1.4,1.4l-1.4,1.4l-1.4,-1.4zM307.3,620.5l1.4,1.4l-1.4,1.4l-1.4,-1.4zM303.8,622.6l1.4,1.4l-1.4,1.4l-1.4,-1.4zM303.6,628.1l1.4,1.4l-1.4,1.4l-1.4,-1.4zM302.0,627.2l1.4,1.4l-1.4,1.4l-1.4,-1.4zM347.4,615.9l1.4,1.4l-1.4,1.4l-1.4,-1.4zM308.7,630.8l1.4,1.4l-1.4,1.4l-1.4,-1.4zM334.4,624.0l1.4,1.4l-1.4,1.4l-1.4,-1.4zM306.1,616.0l1.4,1.4l-1.4,1.4l-1.4,-1.4zM309.9,624.3l1.4,1.4l-1.4,1.4l-1.4,-1.4zM306.9,640.8l1.4,1.4l-1.4,1.4l-1.4,-1.4zM317.3,623.9l1.4,1.4l-1.4,1.4l-1.4,-1.4zM328.8,628.1l1.4,1.4l-1.4,1.4l-1.4,-1.4zM312.6,627.1l1.4,1.4l-1.4,1.4l-1.4,-1.4zM303.1,619.5l1.4,1.4l-1.4,1.4l-1.4,-1.4zM302.6,623.8l1.4,1.4l-1.4,1.4l-1.4,-1.4zM390.2,626.6l1.4,1.4l-1.4,1.4l-1.4,-1.4zM305.8,620.7l1.4,1.4l-1.4,1.4l-1.4,-1.4zM305.7,623.9l1.4,1.4l-1.4,1.4l-1.4,-1.4zM369.2,624.8l1.4,1.4l-1.4,1.4l-1.4,-1.4zM341.3,623.9l1.4,1.4l-1.4,1.4l-1.4,-1.4zM319.1,624.6l1.4,1.4l-1.4,1.4l-1.4,-1.4zM304.9,629.4l1.4,1.4l-1.4,1.4l-1.4,-1.4zM531.4,627.3l1.4,1.4l-1.4,1.4l-1.4,-1.4zM315.7,626.1l1.4,1.4l-1.4,1.4l-1.4,-1.4zM319.5,631.9l1.4,1.4l-1.4,1.4l-1.4,-1.4zM306.9,635.4l1.4,1.4l-1.4,1.4l-1.4,-1.4zM300.6,617.5l1.4,1.4l-1.4,1.4l-1.4,-1.4zM300.8,629.4l1.4,1.4l-1.4,1.4l-1.4,-1.4zM316.0,626.4l1.4,1.4l-1.4,1.4l-1.4,-1.4zM315.6,627.1l1.4,1.4l-1.4,1.4l-1.4,-1.4zM306.2,626.7l1.4,1.4l-1.4,1.4l-1.4,-1.4zM301.2,627.3l1.4,1.4l-1.4,1.4l-1.4,-1.4zM300.6,627.0l1.4,1.4l-1.4,1.4l-1.4,-1.4zM305.4,632.6l1.4,1.4l-1.4,1.4l-1.4,-1.4zM300.6,620.3l1.4,1.4l-1.4,1.4l-1.4,-1.4zM331.8,629.7l1.4,1.4l-1.4,1.4l-1.4,-1.4zM345.1,619.8l1.4,1.4l-1.4,1.4l-1.4,-1.4zM330.9,636.8l1.4,1.4l-1.4,1.4l-1.4,-1.4zM303.6,634.8l1.4,1.4l-1.4,1.4l-1.4,-1.4zM302.2,619.9l1.4,1.4l-1.4,1.4l-1.4,-1.4zM299.3,629.0l1.4,1.4l-1.4,1.4l-1.4,-1.4zM303.5,632.0l1.4,1.4l-1.4,1.4l-1.4,-1.4zM306.8,624.2l1.4,1.4l-1.4,1.4l-1.4,-1.4zM335.0,631.6l1.4,1.4l-1.4,1.4l-1.4,-1.4zM321.3,625.6l1.4,1.4l-1.4,1.4l-1.4,-1.4zM320.6,639.4l1.4,1.4l-1.4,1.4l-1.4,-1.4zM312.1,629.4l1.4,1.4l-1.4,1.4l-1.4,-1.4zM322.8,629.9l1.4,1.4l-1.4,1.4l-1.4,-1.4zM367.6,622.5l1.4,1.4l-1.4,1.4l-1.4,-1.4zM301.5,620.8l1.4,1.4l-1.4,1.4l-1.4,-1.4zM304.4,633.1l1.4,1.4l-1.4,1.4l-1.4,-1.4zM300.7,615.1l1.4,1.4l-1.4,1.4l-1.4,-1.4zM385.4,628.3l1.4,1.4l-1.4,1.4l-1.4,-1.4zM355.0,636.6l1.4,1.4l-1.4,1.4l-1.4,-1.4zM325.9,639.9l1.4,1.4l-1.4,1.4l-1.4,-1.4zM301.1,615.7l1.4,1.4l-1.4,1.4l-1.4,-1.4zM311.4,627.0l1.4,1.4l-1.4,1.4l-1.4,-1.4zM306.3,631.3l1.4,1.4l-1.4,1.4l-1.4,-1.4zM310.0,631.5l1.4,1.4l-1.4,1.4l-1.4,-1.4zM306.7,634.3l1.4,1.4l-1.4,1.4l-1.4,-1.4zM318.7,617.9l1.4,1.4l-1.4,1.4l-1.4,-1.4zM304.9,627.6l1.4,1.4l-1.4,1.4l-1.4,-1.4zM329.9,615.5l1.4,1.4l-1.4,1.4l-1.4,-1.4zM312.6,627.7l1.4,1.4l-1.4,1.4l-1.4,-1.4zM305.7,643.3l1.4,1.4l-1.4,1.4l-1.4,-1.4zM307.5,621.0l1.4,1.4l-1.4,1.4l-1.4,-1.4zM304.5,629.7l1.4,1.4l-1.4,1.4l-1.4,-1.4zM328.3,627.2l1.4,1.4l-1.4,1.4l-1.4,-1.4zM305.9,616.0l1.4,1.4l-1.4,1.4l-1.4,-1.4zM313.6,628.0l1.4,1.4l-1.4,1.4l-1.4,-1.4zM304.9,618.8l1.4,1.4l-1.4,1.4l-1.4,-1.4zM300.5,627.6l1.4,1.4l-1.4,1.4l-1.4,-1.4zM332.1,630.1l1.4,1.4l-1.4,1.4l-1.4,-1.4zM301.5,623.6l1.4,1.4l-1.4,1.4l-1.4,-1.4zM323.4,629.5l1.4,1.4l-1.4,1.4l-1.4,-1.4zM316.3,618.6l1.4,1.4l-1.4,1.4l-1.4,-1.4zM300.2,620.1l1.4,1.4l-1.4,1.4l-1.4,-1.4zM301.9,626.9l1.4,1.4l-1.4,1.4l-1.4,-1.4zM304.0,622.7l1.4,1.4l-1.4,1.4l-1.4,-1.4zM302.4,623.1l1.4,1.4l-1.4,1.4l-1.4,-1.4zM301.2,629.6l1.4,1.4l-1.4,1.4l-1.4,-1.4zM325.5,620.7l1.4,1.4l-1.4,1.4l-1.4,-1.4zM306.2,628.4l1.4,1.4l-1.4,1.4l-1.4,-1.4zM315.5,622.4l1.4,1.4l-1.4,1.4l-1.4,-1.4zM304.6,633.8l1.4,1.4l-1.4,1.4l-1.4,-1.4zM313.8,625.7l1.4,1.4l-1.4,1.4l-1.4,-1.4zM302.7,624.2l1.4,1.4l-1.4,1.4l-1.4,-1.4zM308.5,632.0l1.4,1.4l-1.4,1.4l-1.4,-1.4zM320.5,628.6l1.4,1.4l-1.4,1.4l-1.4,-1.4zM309.5,630.1l1.4,1.4l-1.4,1.4l-1.4,-1.4zM304.4,621.8l1.4,1.4l-1.4,1.4l-1.4,-1.4zM301.4,632.9l1.4,1.4l-1.4,1.4l-1.4,-1.4zM311.3,623.6l1.4,1.4l-1.4,1.4l-1.4,-1.4zM314.6,616.7l1.4,1.4l-1.4,1.4l-1.4,-1.4zM306.0,624.4l1.4,1.4l-1.4,1.4l-1.4,-1.4zM302.6,639.1l1.4,1.4l-1.4,1.4l-1.4,-1.4zM319.4,625.3l1.4,1.4l-1.4,1.4l-1.4,-1.4zM305.6,619.6l1.4,1.4l-1.4,1.4l-1.4,-1.4zM314.5,628.1l1.4,1.4l-1.4,1.4l-1.4,-1.4zM315.3,619.3l1.4,1.4l-1.4,1.4l-1.4,-1.4zM299.5,622.7l1.4,1.4l-1.4,1.4l-1.4,-1.4zM310.7,623.7l1.4,1.4l-1.4,1.4l-1.4,-1.4zM302.9,629.1l1.4,1.4l-1.4,1.4l-1.4,-1.4zM362.0,628.1l1.4,1.4l-1.4,1.4l-1.4,-1.4zM306.1,628.6l1.4,1.4l-1.4,1.4l-1.4,-1.4zM302.6,626.7l1.4,1.4l-1.4,1.4l-1.4,-1.4zM306.4,623.2l1.4,1.4l-1.4,1.4l-1.4,-1.4zM311.3,623.7l1.4,1.4l-1.4,1.4l-1.4,-1.4zM303.7,629.2l1.4,1.4l-1.4,1.4l-1.4,-1.4zM308.2,626.2l1.4,1.4l-1.4,1.4l-1.4,-1.4zM300.8,624.4l1.4,1.4l-1.4,1.4l-1.4,-1.4zM306.3,638.0l1.4,1.4l-1.4,1.4l-1.4,-1.4zM326.8,630.3l1.4,1.4l-1.4,1.4l-1.4,-1.4zM437.5,629.1l1.4,1.4l-1.4,1.4l-1.4,-1.4zM324.3,628.4l1.4,1.4l-1.4,1.4l-1.4,-1.4zM313.2,628.1l1.4,1.4l-1.4,1.4l-1.4,-1.4zM347.1,626.9l1.4,1.4l-1.4,1.4l-1.4,-1.4zM337.5,630.5l1.4,1.4l-1.4,1.4l-1.4,-1.4zM390.8,621.7l1.4,1.4l-1.4,1.4l-1.4,-1.4zM341.0,624.0l1.4,1.4l-1.4,1.4l-1.4,-1.4zM307.5,637.8l1.4,1.4l-1.4,1.4l-1.4,-1.4zM312.9,626.2l1.4,1.4l-1.4,1.4l-1.4,-1.4zM311.5,633.7l1.4,1.4l-1.4,1.4l-1.4,-1.4zM313.8,615.5l1.4,1.4l-1.4,1.4l-1.4,-1.4zM311.9,629.3l1.4,1.4l-1.4,1.4l-1.4,-1.4zM302.6,630.1l1.4,1.4l-1.4,1.4l-1.4,-1.4zM299.8,626.9l1.4,1.4l-1.4,1.4l-1.4,-1.4zM303.1,628.5l1.4,1.4l-1.4,1.4l-1.4,-1.4zM299.8,628.0l1.4,1.4l-1.4,1.4l-1.4,-1.4zM309.8,616.3l1.4,1.4l-1.4,1.4l-1.4,-1.4zM308.9,625.0l1.4,1.4l-1.4,1.4l-1.4,-1.4zM300.2,620.9l1.4,1.4l-1.4,1.4l-1.4,-1.4zM323.7,619.2l1.4,1.4l-1.4,1.4l-1.4,-1.4zM330.4,631.3l1.4,1.4l-1.4,1.4l-1.4,-1.4zM310.2,615.3l1.4,1.4l-1.4,1.4l-1.4,-1.4zM391.2,621.6l1.4,1.4l-1.4,1.4l-1.4,-1.4zM420.4,620.2l1.4,1.4l-1.4,1.4l-1.4,-1.4zM301.1,633.9l1.4,1.4l-1.4,1.4l-1.4,-1.4zM338.5,621.0l1.4,1.4l-1.4,1.4l-1.4,-1.4zM316.8,623.5l1.4,1.4l-1.4,1.4l-1.4,-1.4zM316.2,629.5l1.4,1.4l-1.4,1.4l-1.4,-1.4zM333.4,612.6l1.4,1.4l-1.4,1.4l-1.4,-1.4zM302.9,622.9l1.4,1.4l-1.4,1.4l-1.4,-1.4zM303.6,630.7l1.4,1.4l-1.4,1.4l-1.4,-1.4zM302.4,625.7l1.4,1.4l-1.4,1.4l-1.4,-1.4zM302.7,620.4l1.4,1.4l-1.4,1.4l-1.4,-1.4zM307.7,618.9l1.4,1.4l-1.4,1.4l-1.4,-1.4zM300.6,622.9l1.4,1.4l-1.4,1.4l-1.4,-1.4zM301.6,618.0l1.4,1.4l-1.4,1.4l-1.4,-1.4zM320.3,617.1l1.4,1.4l-1.4,1.4l-1.4,-1.4zM308.0,634.9l1.4,1.4l-1.4,1.4l-1.4,-1.4zM315.4,629.2l1.4,1.4l-1.4,1.4l-1.4,-1.4zM300.0,634.9l1.4,1.4l-1.4,1.4l-1.4,-1.4zM302.6,626.4l1.4,1.4l-1.4,1.4l-1.4,-1.4zM303.8,616.5l1.4,1.4l-1.4,1.4l-1.4,-1.4zM309.3,622.1l1.4,1.4l-1.4,1.4l-1.4,-1.4zM303.6,634.6l1.4,1.4l-1.4,1.4l-1.4,-1.4zM333.4,627.3l1.4,1.4l-1.4,1.4l-1.4,-1.4zM308.2,619.6l1.4,1.4l-1.4,1.4l-1.4,-1.4zM309.1,630.0l1.4,1.4l-1.4,1.4l-1.4,-1.4zM309.1,627.1l1.4,1.4l-1.4,1.4l-1.4,-1.4zM324.4,624.0l1.4,1.4l-1.4,1.4l-1.4,-1.4zM304.3,639.9l1.4,1.4l-1.4,1.4l-1.4,-1.4zM343.3,615.8l1.4,1.4l-1.4,1.4l-1.4,-1.4zM317.2,624.0l1.4,1.4l-1.4,1.4l-1.4,-1.4zM311.1,622.7l1.4,1.4l-1.4,1.4l-1.4,-1.4zM309.5,633.0l1.4,1.4l-1.4,1.4l-1.4,-1.4zM318.8,630.7l1.4,1.4l-1.4,1.4l-1.4,-1.4zM337.4,628.9l1.4,1.4l-1.4,1.4l-1.4,-1.4zM333.9,624.2l1.4,1.4l-1.4,1.4l-1.4,-1.4zM315.3,625.7l1.4,1.4l-1.4,1.4l-1.4,-1.4zM330.8,624.9l1.4,1.4l-1.4,1.4l-1.4,-1.4zM310.6,614.7l1.4,1.4l-1.4,1.4l-1.4,-1.4zM351.8,618.3l1.4,1.4l-1.4,1.4l-1.4,-1.4zM308.5,631.4l1.4,1.4l-1.4,1.4l-1.4,-1.4zM299.8,632.7l1.4,1.4l-1.4,1.4l-1.4,-1.4zM358.2,616.1l1.4,1.4l-1.4,1.4l-1.4,-1.4zM310.4,628.5l1.4,1.4l-1.4,1.4l-1.4,-1.4zM301.2,616.8l1.4,1.4l-1.4,1.4l-1.4,-1.4zM306.6,615.7l1.4,1.4l-1.4,1.4l-1.4,-1.4zM302.1,631.2l1.4,1.4l-1.4,1.4l-1.4,-1.4zM464.2,627.8l1.4,1.4l-1.4,1.4l-1.4,-1.4zM318.2,625.5l1.4,1.4l-1.4,1.4l-1.4,-1.4zM300.4,634.2l1.4,1.4l-1.4,1.4l-1.4,-1.4zM319.5,631.9l1.4,1.4l-1.4,1.4l-1.4,-1.4zM304.9,629.7l1.4,1.4l-1.4,1.4l-1.4,-1.4zM428.0,620.7l1.4,1.4l-1.4,1.4l-1.4,-1.4zM301.5,630.6l1.4,1.4l-1.4,1.4l-1.4,-1.4zM299.7,629.2l1.4,1.4l-1.4,1.4l-1.4,-1.4zM309.8,629.5l1.4,1.4l-1.4,1.4l-1.4,-1.4zM305.3,636.4l1.4,1.4l-1.4,1.4l-1.4,-1.4zM304.7,616.3l1.4,1.4l-1.4,1.4l-1.4,-1.4zM299.7,646.1l1.4,1.4l-1.4,1.4l-1.4,-1.4zM316.4,630.2l1.4,1.4l-1.4,1.4l-1.4,-1.4zM392.0,622.2l1.4,1.4l-1.4,1.4l-1.4,-1.4zM299.9,638.5l1.4,1.4l-1.4,1.4l-1.4,-1.4zM346.3,622.1l1.4,1.4l-1.4,1.4l-1.4,-1.4zM303.7,617.9l1.4,1.4l-1.4,1.4l-1.4,-1.4zM530.1,629.2l1.4,1.4l-1.4,1.4l-1.4,-1.4zM316.7,624.8l1.4,1.4l-1.4,1.4l-1.4,-1.4zM306.7,634.3l1.4,1.4l-1.4,1.4l-1.4,-1.4zM342.3,622.7l1.4,1.4l-1.4,1.4l-1.4,-1.4zM318.9,625.5l1.4,1.4l-1.4,1.4l-1.4,-1.4zM303.6,625.4l1.4,1.4l-1.4,1.4l-1.4,-1.4zM324.5,617.8l1.4,1.4l-1.4,1.4l-1.4,-1.4zM304.1,623.6l1.4,1.4l-1.4,1.4l-1.4,-1.4zM300.1,616.9l1.4,1.4l-1.4,1.4l-1.4,-1.4zM449.6,621.8l1.4,1.4l-1.4,1.4l-1.4,-1.4zM305.2,635.3l1.4,1.4l-1.4,1.4l-1.4,-1.4zM303.5,625.1l1.4,1.4l-1.4,1.4l-1.4,-1.4zM314.5,623.1l1.4,1.4l-1.4,1.4l-1.4,-1.4zM300.4,638.7l1.4,1.4l-1.4,1.4l-1.4,-1.4zM300.8,617.1l1.4,1.4l-1.4,1.4l-1.4,-1.4zM304.1,626.4l1.4,1.4l-1.4,1.4l-1.4,-1.4zM304.0,624.3l1.4,1.4l-1.4,1.4l-1.4,-1.4zM309.9,632.4l1.4,1.4l-1.4,1.4l-1.4,-1.4zM343.3,624.5l1.4,1.4l-1.4,1.4l-1.4,-1.4zM304.3,624.8l1.4,1.4l-1.4,1.4l-1.4,-1.4zM318.0,628.0l1.4,1.4l-1.4,1.4l-1.4,-1.4zM321.0,625.4l1.4,1.4l-1.4,1.4l-1.4,-1.4zM301.4,643.4l1.4,1.4l-1.4,1.4l-1.4,-1.4zM312.4,617.5l1.4,1.4l-1.4,1.4l-1.4,-1.4zM301.9,635.6l1.4,1.4l-1.4,1.4l-1.4,-1.4zM339.9,637.7l1.4,1.4l-1.4,1.4l-1.4,-1.4zM317.1,632.0l1.4,1.4l-1.4,1.4l-1.4,-1.4zM309.1,638.6l1.4,1.4l-1.4,1.4l-1.4,-1.4zM300.8,623.2l1.4,1.4l-1.4,1.4l-1.4,-1.4zM310.5,632.4l1.4,1.4l-1.4,1.4l-1.4,-1.4zM302.6,625.0l1.4,1.4l-1.4,1.4l-1.4,-1.4zM324.3,631.5l1.4,1.4l-1.4,1.4l-1.4,-1.4zM307.4,611.6l1.4,1.4l-1.4,1.4l-1.4,-1.4zM302.4,623.1l1.4,1.4l-1.4,1.4l-1.4,-1.4zM333.0,614.5l1.4,1.4l-1.4,1.4l-1.4,-1.4zM324.9,631.8l1.4,1.4l-1.4,1.4l-1.4,-1.4zM303.5,622.2l1.4,1.4l-1.4,1.4l-1.4,-1.4zM345.7,630.7l1.4,1.4l-1.4,1.4l-1.4,-1.4zM305.7,622.7l1.4,1.4l-1.4,1.4l-1.4,-1.4zM305.6,622.1l1.4,1.4l-1.4,1.4l-1.4,-1.4zM310.7,636.8l1.4,1.4l-1.4,1.4l-1.4,-1.4zM302.7,635.5l1.4,1.4l-1.4,1.4l-1.4,-1.4zM304.5,635.2l1.4,1.4l-1.4,1.4l-1.4,-1.4zM307.0,637.0l1.4,1.4l-1.4,1.4l-1.4,-1.4zM375.7,629.1l1.4,1.4l-1.4,1.4l-1.4,-1.4zM372.6,636.3l1.4,1.4l-1.4,1.4l-1.4,-1.4zM306.0,636.8l1.4,1.4l-1.4,1.4l-1.4,-1.4zM384.4,624.7l1.4,1.4l-1.4,1.4l-1.4,-1.4zM308.3,622.9l1.4,1.4l-1.4,1.4l-1.4,-1.4zM315.4,634.4l1.4,1.4l-1.4,1.4l-1.4,-1.4zM331.1,628.9l1.4,1.4l-1.4,1.4l-1.4,-1.4zM313.6,626.2l1.4,1.4l-1.4,1.4l-1.4,-1.4zM551.7,626.0l1.4,1.4l-1.4,1.4l-1.4,-1.4zM312.7,636.1l1.4,1.4l-1.4,1.4l-1.4,-1.4zM301.1,621.2l1.4,1.4l-1.4,1.4l-1.4,-1.4zM355.6,620.8l1.4,1.4l-1.4,1.4l-1.4,-1.4zM304.8,622.1l1.4,1.4l-1.4,1.4l-1.4,-1.4zM305.6,628.3l1.4,1.4l-1.4,1.4l-1.4,-1.4zM299.4,611.7l1.4,1.4l-1.4,1.4l-1.4,-1.4zM336.6,615.8l1.4,1.4l-1.4,1.4l-1.4,-1.4zM328.4,628.1l1.4,1.4l-1.4,1.4l-1.4,-1.4zM327.7,626.5l1.4,1.4l-1.4,1.4l-1.4,-1.4zM335.5,618.9l1.4,1.4l-1.4,1.4l-1.4,-1.4zM394.2,629.3l1.4,1.4l-1.4,1.4l-1.4,-1.4zM308.3,623.9l1.4,1.4l-1.4,1.4l-1.4,-1.4zM333.6,625.4l1.4,1.4l-1.4,1.4l-1.4,-1.4zM302.7,632.3l1.4,1.4l-1.4,1.4l-1.4,-1.4zM305.2,628.5l1.4,1.4l-1.4,1.4l-1.4,-1.4zM339.5,634.4l1.4,1.4l-1.4,1.4l-1.4,-1.4zM315.6,629.6l1.4,1.4l-1.4,1.4l-1.4,-1.4zM300.8,642.8l1.4,1.4l-1.4,1.4l-1.4,-1.4zM315.0,611.9l1.4,1.4l-1.4,1.4l-1.4,-1.4zM306.8,616.4l1.4,1.4l-1.4,1.4l-1.4,-1.4zM302.4,618.1l1.4,1.4l-1.4,1.4l-1.4,-1.4zM316.6,624.3l1.4,1.4l-1.4,1.4l-1.4,-1.4zM304.8,619.9l1.4,1.4l-1.4,1.4l-1.4,-1.4zM300.4,617.6l1.4,1.4l-1.4,1.4l-1.4,-1.4zM301.4,619.6l1.4,1.4l-1.4,1.4l-1.4,-1.4zM404.8,620.4l1.4,1.4l-1.4,1.4l-1.4,-1.4zM300.5,634.6l1.4,1.4l-1.4,1.4l-1.4,-1.4zM312.3,623.6l1.4,1.4l-1.4,1.4l-1.4,-1.4zM309.3,584.5l1.4,1.4l-1.4,1.4l-1.4,-1.4zM314.9,588.6l1.4,1.4l-1.4,1.4l-1.4,-1.4zM326.0,595.6l1.4,1.4l-1.4,1.4l-1.4,-1.4zM395.0,596.9l1.4,1.4l-1.4,1.4l-1.4,-1.4zM401.9,595.6l1.4,1.4l-1.4,1.4l-1.4,-1.4zM474.9,589.2l1.4,1.4l-1.4,1.4l-1.4,-1.4zM552.0,610.9l1.4,1.4l-1.4,1.4l-1.4,-1.4zM301.0,592.6l1.4,1.4l-1.4,1.4l-1.4,-1.4zM318.0,599.1l1.4,1.4l-1.4,1.4l-1.4,-1.4z" fill="#2424e6" fill-opacity="0.17" stroke="#2424e6" stroke-opacity="0.55" stroke-width="0.6"/>
<path d="M303.3,612.4l1.4,1.4l-1.4,1.4l-1.4,-1.4zM319.2,624.7l1.4,1.4l-1.4,1.4l-1.4,-1.4zM300.4,617.2l1.4,1.4l-1.4,1.4l-1.4,-1.4zM330.5,615.8l1.4,1.4l-1.4,1.4l-1.4,-1.4zM331.2,625.1l1.4,1.4l-1.4,1.4l-1.4,-1.4zM305.7,627.8l1.4,1.4l-1.4,1.4l-1.4,-1.4zM301.7,618.5l1.4,1.4l-1.4,1.4l-1.4,-1.4zM304.5,620.5l1.4,1.4l-1.4,1.4l-1.4,-1.4zM300.1,617.3l1.4,1.4l-1.4,1.4l-1.4,-1.4zM356.0,618.1l1.4,1.4l-1.4,1.4l-1.4,-1.4zM309.6,625.4l1.4,1.4l-1.4,1.4l-1.4,-1.4zM303.0,619.2l1.4,1.4l-1.4,1.4l-1.4,-1.4zM302.2,614.4l1.4,1.4l-1.4,1.4l-1.4,-1.4zM319.3,623.0l1.4,1.4l-1.4,1.4l-1.4,-1.4zM365.0,622.5l1.4,1.4l-1.4,1.4l-1.4,-1.4zM301.1,628.1l1.4,1.4l-1.4,1.4l-1.4,-1.4zM303.9,616.3l1.4,1.4l-1.4,1.4l-1.4,-1.4zM300.2,608.9l1.4,1.4l-1.4,1.4l-1.4,-1.4zM322.1,628.2l1.4,1.4l-1.4,1.4l-1.4,-1.4zM311.0,617.0l1.4,1.4l-1.4,1.4l-1.4,-1.4zM472.2,617.1l1.4,1.4l-1.4,1.4l-1.4,-1.4zM307.5,624.3l1.4,1.4l-1.4,1.4l-1.4,-1.4zM304.8,623.3l1.4,1.4l-1.4,1.4l-1.4,-1.4zM303.1,627.3l1.4,1.4l-1.4,1.4l-1.4,-1.4zM328.0,625.1l1.4,1.4l-1.4,1.4l-1.4,-1.4zM300.4,620.1l1.4,1.4l-1.4,1.4l-1.4,-1.4zM324.5,617.8l1.4,1.4l-1.4,1.4l-1.4,-1.4zM312.5,620.5l1.4,1.4l-1.4,1.4l-1.4,-1.4zM304.3,616.1l1.4,1.4l-1.4,1.4l-1.4,-1.4zM302.3,619.9l1.4,1.4l-1.4,1.4l-1.4,-1.4zM336.5,626.9l1.4,1.4l-1.4,1.4l-1.4,-1.4zM403.8,614.5l1.4,1.4l-1.4,1.4l-1.4,-1.4zM304.7,614.2l1.4,1.4l-1.4,1.4l-1.4,-1.4zM318.3,624.8l1.4,1.4l-1.4,1.4l-1.4,-1.4zM389.2,612.9l1.4,1.4l-1.4,1.4l-1.4,-1.4zM303.6,618.3l1.4,1.4l-1.4,1.4l-1.4,-1.4zM306.2,620.3l1.4,1.4l-1.4,1.4l-1.4,-1.4zM301.2,609.3l1.4,1.4l-1.4,1.4l-1.4,-1.4zM307.2,635.2l1.4,1.4l-1.4,1.4l-1.4,-1.4zM307.9,630.1l1.4,1.4l-1.4,1.4l-1.4,-1.4zM304.9,617.0l1.4,1.4l-1.4,1.4l-1.4,-1.4zM303.0,622.5l1.4,1.4l-1.4,1.4l-1.4,-1.4zM300.5,627.0l1.4,1.4l-1.4,1.4l-1.4,-1.4zM300.9,611.8l1.4,1.4l-1.4,1.4l-1.4,-1.4zM302.0,614.4l1.4,1.4l-1.4,1.4l-1.4,-1.4zM321.2,627.6l1.4,1.4l-1.4,1.4l-1.4,-1.4zM304.2,624.9l1.4,1.4l-1.4,1.4l-1.4,-1.4zM302.5,616.0l1.4,1.4l-1.4,1.4l-1.4,-1.4zM321.7,611.9l1.4,1.4l-1.4,1.4l-1.4,-1.4zM319.1,631.5l1.4,1.4l-1.4,1.4l-1.4,-1.4zM302.9,619.6l1.4,1.4l-1.4,1.4l-1.4,-1.4zM303.5,623.3l1.4,1.4l-1.4,1.4l-1.4,-1.4zM321.8,630.0l1.4,1.4l-1.4,1.4l-1.4,-1.4zM314.7,621.9l1.4,1.4l-1.4,1.4l-1.4,-1.4zM302.5,630.7l1.4,1.4l-1.4,1.4l-1.4,-1.4zM312.4,627.3l1.4,1.4l-1.4,1.4l-1.4,-1.4zM308.5,612.0l1.4,1.4l-1.4,1.4l-1.4,-1.4zM339.7,618.6l1.4,1.4l-1.4,1.4l-1.4,-1.4zM302.4,616.3l1.4,1.4l-1.4,1.4l-1.4,-1.4zM329.3,618.1l1.4,1.4l-1.4,1.4l-1.4,-1.4zM316.1,619.2l1.4,1.4l-1.4,1.4l-1.4,-1.4zM301.8,615.1l1.4,1.4l-1.4,1.4l-1.4,-1.4zM336.8,626.8l1.4,1.4l-1.4,1.4l-1.4,-1.4zM330.4,622.8l1.4,1.4l-1.4,1.4l-1.4,-1.4zM301.0,615.7l1.4,1.4l-1.4,1.4l-1.4,-1.4zM423.2,624.4l1.4,1.4l-1.4,1.4l-1.4,-1.4zM301.4,623.7l1.4,1.4l-1.4,1.4l-1.4,-1.4zM302.2,613.7l1.4,1.4l-1.4,1.4l-1.4,-1.4zM305.6,612.2l1.4,1.4l-1.4,1.4l-1.4,-1.4zM325.3,624.1l1.4,1.4l-1.4,1.4l-1.4,-1.4zM319.7,625.2l1.4,1.4l-1.4,1.4l-1.4,-1.4zM307.8,617.7l1.4,1.4l-1.4,1.4l-1.4,-1.4zM355.6,619.7l1.4,1.4l-1.4,1.4l-1.4,-1.4zM315.5,624.6l1.4,1.4l-1.4,1.4l-1.4,-1.4zM357.8,618.2l1.4,1.4l-1.4,1.4l-1.4,-1.4zM311.6,618.0l1.4,1.4l-1.4,1.4l-1.4,-1.4zM299.5,620.4l1.4,1.4l-1.4,1.4l-1.4,-1.4zM304.6,603.9l1.4,1.4l-1.4,1.4l-1.4,-1.4zM301.6,602.4l1.4,1.4l-1.4,1.4l-1.4,-1.4zM310.1,616.5l1.4,1.4l-1.4,1.4l-1.4,-1.4zM310.2,615.4l1.4,1.4l-1.4,1.4l-1.4,-1.4zM301.2,602.7l1.4,1.4l-1.4,1.4l-1.4,-1.4zM301.4,614.2l1.4,1.4l-1.4,1.4l-1.4,-1.4zM306.1,625.1l1.4,1.4l-1.4,1.4l-1.4,-1.4zM306.7,619.2l1.4,1.4l-1.4,1.4l-1.4,-1.4zM299.5,620.5l1.4,1.4l-1.4,1.4l-1.4,-1.4zM333.4,623.8l1.4,1.4l-1.4,1.4l-1.4,-1.4zM309.3,619.5l1.4,1.4l-1.4,1.4l-1.4,-1.4zM308.8,619.6l1.4,1.4l-1.4,1.4l-1.4,-1.4zM313.4,621.3l1.4,1.4l-1.4,1.4l-1.4,-1.4zM301.8,623.9l1.4,1.4l-1.4,1.4l-1.4,-1.4zM308.3,616.3l1.4,1.4l-1.4,1.4l-1.4,-1.4zM336.6,628.8l1.4,1.4l-1.4,1.4l-1.4,-1.4zM338.6,617.0l1.4,1.4l-1.4,1.4l-1.4,-1.4zM316.9,620.9l1.4,1.4l-1.4,1.4l-1.4,-1.4zM305.9,619.4l1.4,1.4l-1.4,1.4l-1.4,-1.4zM302.5,635.2l1.4,1.4l-1.4,1.4l-1.4,-1.4zM353.4,613.0l1.4,1.4l-1.4,1.4l-1.4,-1.4zM318.4,630.0l1.4,1.4l-1.4,1.4l-1.4,-1.4zM304.8,626.0l1.4,1.4l-1.4,1.4l-1.4,-1.4zM299.8,616.8l1.4,1.4l-1.4,1.4l-1.4,-1.4zM302.3,624.6l1.4,1.4l-1.4,1.4l-1.4,-1.4zM300.0,623.5l1.4,1.4l-1.4,1.4l-1.4,-1.4zM348.7,631.8l1.4,1.4l-1.4,1.4l-1.4,-1.4zM311.6,623.3l1.4,1.4l-1.4,1.4l-1.4,-1.4zM302.8,619.7l1.4,1.4l-1.4,1.4l-1.4,-1.4zM305.9,617.1l1.4,1.4l-1.4,1.4l-1.4,-1.4zM347.1,622.4l1.4,1.4l-1.4,1.4l-1.4,-1.4zM300.9,619.6l1.4,1.4l-1.4,1.4l-1.4,-1.4zM307.4,618.5l1.4,1.4l-1.4,1.4l-1.4,-1.4zM301.1,625.1l1.4,1.4l-1.4,1.4l-1.4,-1.4zM300.2,625.6l1.4,1.4l-1.4,1.4l-1.4,-1.4zM311.4,610.3l1.4,1.4l-1.4,1.4l-1.4,-1.4zM533.0,624.8l1.4,1.4l-1.4,1.4l-1.4,-1.4zM375.1,615.2l1.4,1.4l-1.4,1.4l-1.4,-1.4zM309.5,620.6l1.4,1.4l-1.4,1.4l-1.4,-1.4zM305.1,612.4l1.4,1.4l-1.4,1.4l-1.4,-1.4zM311.8,624.4l1.4,1.4l-1.4,1.4l-1.4,-1.4zM337.2,618.4l1.4,1.4l-1.4,1.4l-1.4,-1.4zM300.6,618.9l1.4,1.4l-1.4,1.4l-1.4,-1.4zM300.0,622.4l1.4,1.4l-1.4,1.4l-1.4,-1.4zM416.0,619.6l1.4,1.4l-1.4,1.4l-1.4,-1.4zM313.2,625.1l1.4,1.4l-1.4,1.4l-1.4,-1.4zM380.6,621.4l1.4,1.4l-1.4,1.4l-1.4,-1.4zM312.5,623.1l1.4,1.4l-1.4,1.4l-1.4,-1.4zM367.9,617.4l1.4,1.4l-1.4,1.4l-1.4,-1.4zM303.5,621.5l1.4,1.4l-1.4,1.4l-1.4,-1.4zM318.0,628.3l1.4,1.4l-1.4,1.4l-1.4,-1.4zM375.3,622.7l1.4,1.4l-1.4,1.4l-1.4,-1.4zM336.8,621.5l1.4,1.4l-1.4,1.4l-1.4,-1.4zM304.5,626.2l1.4,1.4l-1.4,1.4l-1.4,-1.4zM331.0,614.3l1.4,1.4l-1.4,1.4l-1.4,-1.4zM303.2,618.5l1.4,1.4l-1.4,1.4l-1.4,-1.4zM300.7,615.7l1.4,1.4l-1.4,1.4l-1.4,-1.4zM318.6,625.0l1.4,1.4l-1.4,1.4l-1.4,-1.4zM361.7,622.9l1.4,1.4l-1.4,1.4l-1.4,-1.4zM329.3,615.9l1.4,1.4l-1.4,1.4l-1.4,-1.4zM301.0,629.8l1.4,1.4l-1.4,1.4l-1.4,-1.4zM330.1,619.1l1.4,1.4l-1.4,1.4l-1.4,-1.4zM323.2,620.5l1.4,1.4l-1.4,1.4l-1.4,-1.4zM304.4,623.9l1.4,1.4l-1.4,1.4l-1.4,-1.4zM299.6,620.3l1.4,1.4l-1.4,1.4l-1.4,-1.4zM336.8,626.3l1.4,1.4l-1.4,1.4l-1.4,-1.4zM330.9,618.2l1.4,1.4l-1.4,1.4l-1.4,-1.4zM318.0,627.3l1.4,1.4l-1.4,1.4l-1.4,-1.4zM300.2,629.0l1.4,1.4l-1.4,1.4l-1.4,-1.4zM300.5,612.2l1.4,1.4l-1.4,1.4l-1.4,-1.4zM336.7,624.4l1.4,1.4l-1.4,1.4l-1.4,-1.4zM327.6,631.7l1.4,1.4l-1.4,1.4l-1.4,-1.4zM318.0,615.9l1.4,1.4l-1.4,1.4l-1.4,-1.4zM306.2,630.4l1.4,1.4l-1.4,1.4l-1.4,-1.4zM315.6,639.7l1.4,1.4l-1.4,1.4l-1.4,-1.4zM303.9,621.3l1.4,1.4l-1.4,1.4l-1.4,-1.4zM305.6,615.6l1.4,1.4l-1.4,1.4l-1.4,-1.4zM302.2,618.8l1.4,1.4l-1.4,1.4l-1.4,-1.4zM312.9,611.6l1.4,1.4l-1.4,1.4l-1.4,-1.4zM304.7,621.7l1.4,1.4l-1.4,1.4l-1.4,-1.4zM333.9,618.0l1.4,1.4l-1.4,1.4l-1.4,-1.4zM324.7,626.1l1.4,1.4l-1.4,1.4l-1.4,-1.4zM302.5,619.9l1.4,1.4l-1.4,1.4l-1.4,-1.4zM413.2,605.2l1.4,1.4l-1.4,1.4l-1.4,-1.4zM301.3,617.8l1.4,1.4l-1.4,1.4l-1.4,-1.4zM316.9,620.1l1.4,1.4l-1.4,1.4l-1.4,-1.4zM340.7,630.7l1.4,1.4l-1.4,1.4l-1.4,-1.4zM353.4,622.8l1.4,1.4l-1.4,1.4l-1.4,-1.4zM299.7,629.1l1.4,1.4l-1.4,1.4l-1.4,-1.4zM336.4,617.1l1.4,1.4l-1.4,1.4l-1.4,-1.4zM349.2,624.6l1.4,1.4l-1.4,1.4l-1.4,-1.4zM366.3,619.3l1.4,1.4l-1.4,1.4l-1.4,-1.4zM299.7,627.3l1.4,1.4l-1.4,1.4l-1.4,-1.4zM303.1,609.6l1.4,1.4l-1.4,1.4l-1.4,-1.4zM307.7,627.6l1.4,1.4l-1.4,1.4l-1.4,-1.4zM304.5,620.1l1.4,1.4l-1.4,1.4l-1.4,-1.4zM358.1,608.4l1.4,1.4l-1.4,1.4l-1.4,-1.4zM303.1,619.6l1.4,1.4l-1.4,1.4l-1.4,-1.4zM349.9,625.2l1.4,1.4l-1.4,1.4l-1.4,-1.4zM319.8,617.8l1.4,1.4l-1.4,1.4l-1.4,-1.4zM300.6,614.7l1.4,1.4l-1.4,1.4l-1.4,-1.4zM301.7,615.6l1.4,1.4l-1.4,1.4l-1.4,-1.4zM304.3,632.5l1.4,1.4l-1.4,1.4l-1.4,-1.4zM310.2,618.0l1.4,1.4l-1.4,1.4l-1.4,-1.4zM336.2,631.5l1.4,1.4l-1.4,1.4l-1.4,-1.4zM306.8,610.1l1.4,1.4l-1.4,1.4l-1.4,-1.4zM332.2,620.6l1.4,1.4l-1.4,1.4l-1.4,-1.4zM300.4,623.8l1.4,1.4l-1.4,1.4l-1.4,-1.4zM299.4,616.6l1.4,1.4l-1.4,1.4l-1.4,-1.4zM305.3,618.1l1.4,1.4l-1.4,1.4l-1.4,-1.4zM317.2,627.2l1.4,1.4l-1.4,1.4l-1.4,-1.4zM305.1,611.4l1.4,1.4l-1.4,1.4l-1.4,-1.4zM301.7,622.4l1.4,1.4l-1.4,1.4l-1.4,-1.4zM316.3,630.3l1.4,1.4l-1.4,1.4l-1.4,-1.4zM430.9,614.5l1.4,1.4l-1.4,1.4l-1.4,-1.4zM307.6,612.2l1.4,1.4l-1.4,1.4l-1.4,-1.4zM302.8,613.3l1.4,1.4l-1.4,1.4l-1.4,-1.4zM302.3,617.6l1.4,1.4l-1.4,1.4l-1.4,-1.4zM436.9,625.1l1.4,1.4l-1.4,1.4l-1.4,-1.4zM308.4,615.6l1.4,1.4l-1.4,1.4l-1.4,-1.4zM321.3,611.3l1.4,1.4l-1.4,1.4l-1.4,-1.4zM349.5,617.0l1.4,1.4l-1.4,1.4l-1.4,-1.4zM340.7,613.1l1.4,1.4l-1.4,1.4l-1.4,-1.4zM302.0,625.7l1.4,1.4l-1.4,1.4l-1.4,-1.4zM334.4,615.9l1.4,1.4l-1.4,1.4l-1.4,-1.4zM329.5,616.2l1.4,1.4l-1.4,1.4l-1.4,-1.4zM318.0,628.8l1.4,1.4l-1.4,1.4l-1.4,-1.4zM337.1,629.0l1.4,1.4l-1.4,1.4l-1.4,-1.4zM303.7,625.2l1.4,1.4l-1.4,1.4l-1.4,-1.4zM308.0,620.5l1.4,1.4l-1.4,1.4l-1.4,-1.4zM304.0,618.2l1.4,1.4l-1.4,1.4l-1.4,-1.4zM326.2,622.1l1.4,1.4l-1.4,1.4l-1.4,-1.4zM303.2,621.3l1.4,1.4l-1.4,1.4l-1.4,-1.4zM315.7,621.5l1.4,1.4l-1.4,1.4l-1.4,-1.4zM301.4,620.3l1.4,1.4l-1.4,1.4l-1.4,-1.4zM307.4,617.6l1.4,1.4l-1.4,1.4l-1.4,-1.4zM305.1,618.0l1.4,1.4l-1.4,1.4l-1.4,-1.4zM307.5,621.2l1.4,1.4l-1.4,1.4l-1.4,-1.4zM310.8,619.5l1.4,1.4l-1.4,1.4l-1.4,-1.4zM306.8,623.5l1.4,1.4l-1.4,1.4l-1.4,-1.4zM306.4,616.3l1.4,1.4l-1.4,1.4l-1.4,-1.4zM299.8,624.1l1.4,1.4l-1.4,1.4l-1.4,-1.4zM342.3,612.9l1.4,1.4l-1.4,1.4l-1.4,-1.4zM303.4,621.0l1.4,1.4l-1.4,1.4l-1.4,-1.4zM306.2,619.3l1.4,1.4l-1.4,1.4l-1.4,-1.4zM302.4,625.5l1.4,1.4l-1.4,1.4l-1.4,-1.4zM336.5,622.7l1.4,1.4l-1.4,1.4l-1.4,-1.4zM302.1,619.9l1.4,1.4l-1.4,1.4l-1.4,-1.4zM318.3,620.8l1.4,1.4l-1.4,1.4l-1.4,-1.4zM346.7,624.0l1.4,1.4l-1.4,1.4l-1.4,-1.4zM388.5,626.4l1.4,1.4l-1.4,1.4l-1.4,-1.4zM347.4,620.7l1.4,1.4l-1.4,1.4l-1.4,-1.4zM321.6,620.1l1.4,1.4l-1.4,1.4l-1.4,-1.4zM301.1,617.4l1.4,1.4l-1.4,1.4l-1.4,-1.4zM354.5,614.9l1.4,1.4l-1.4,1.4l-1.4,-1.4zM347.4,622.5l1.4,1.4l-1.4,1.4l-1.4,-1.4zM329.3,631.1l1.4,1.4l-1.4,1.4l-1.4,-1.4zM327.9,621.7l1.4,1.4l-1.4,1.4l-1.4,-1.4zM310.0,631.2l1.4,1.4l-1.4,1.4l-1.4,-1.4zM304.1,628.6l1.4,1.4l-1.4,1.4l-1.4,-1.4zM341.0,615.8l1.4,1.4l-1.4,1.4l-1.4,-1.4zM353.4,618.2l1.4,1.4l-1.4,1.4l-1.4,-1.4zM301.6,624.9l1.4,1.4l-1.4,1.4l-1.4,-1.4zM332.7,624.1l1.4,1.4l-1.4,1.4l-1.4,-1.4zM312.8,621.4l1.4,1.4l-1.4,1.4l-1.4,-1.4zM331.5,629.8l1.4,1.4l-1.4,1.4l-1.4,-1.4zM313.4,618.3l1.4,1.4l-1.4,1.4l-1.4,-1.4zM343.0,622.7l1.4,1.4l-1.4,1.4l-1.4,-1.4zM338.2,611.8l1.4,1.4l-1.4,1.4l-1.4,-1.4zM331.6,626.3l1.4,1.4l-1.4,1.4l-1.4,-1.4zM300.7,614.5l1.4,1.4l-1.4,1.4l-1.4,-1.4zM329.0,624.4l1.4,1.4l-1.4,1.4l-1.4,-1.4zM309.7,615.2l1.4,1.4l-1.4,1.4l-1.4,-1.4zM301.4,627.0l1.4,1.4l-1.4,1.4l-1.4,-1.4zM324.7,617.1l1.4,1.4l-1.4,1.4l-1.4,-1.4zM300.8,626.6l1.4,1.4l-1.4,1.4l-1.4,-1.4zM332.1,625.1l1.4,1.4l-1.4,1.4l-1.4,-1.4zM395.5,621.7l1.4,1.4l-1.4,1.4l-1.4,-1.4zM304.2,618.0l1.4,1.4l-1.4,1.4l-1.4,-1.4zM333.3,618.9l1.4,1.4l-1.4,1.4l-1.4,-1.4zM317.4,612.5l1.4,1.4l-1.4,1.4l-1.4,-1.4zM323.0,616.6l1.4,1.4l-1.4,1.4l-1.4,-1.4zM300.8,637.5l1.4,1.4l-1.4,1.4l-1.4,-1.4zM321.7,623.0l1.4,1.4l-1.4,1.4l-1.4,-1.4zM311.1,632.0l1.4,1.4l-1.4,1.4l-1.4,-1.4zM326.0,622.9l1.4,1.4l-1.4,1.4l-1.4,-1.4zM309.3,617.4l1.4,1.4l-1.4,1.4l-1.4,-1.4zM342.5,627.5l1.4,1.4l-1.4,1.4l-1.4,-1.4zM313.6,627.3l1.4,1.4l-1.4,1.4l-1.4,-1.4zM324.0,620.2l1.4,1.4l-1.4,1.4l-1.4,-1.4zM361.8,622.3l1.4,1.4l-1.4,1.4l-1.4,-1.4zM312.0,612.1l1.4,1.4l-1.4,1.4l-1.4,-1.4zM337.1,619.3l1.4,1.4l-1.4,1.4l-1.4,-1.4zM312.8,618.0l1.4,1.4l-1.4,1.4l-1.4,-1.4zM319.4,600.2l1.4,1.4l-1.4,1.4l-1.4,-1.4zM304.2,623.9l1.4,1.4l-1.4,1.4l-1.4,-1.4zM327.5,620.9l1.4,1.4l-1.4,1.4l-1.4,-1.4zM351.0,625.8l1.4,1.4l-1.4,1.4l-1.4,-1.4zM308.2,619.4l1.4,1.4l-1.4,1.4l-1.4,-1.4zM328.3,615.6l1.4,1.4l-1.4,1.4l-1.4,-1.4zM317.1,613.6l1.4,1.4l-1.4,1.4l-1.4,-1.4zM301.5,621.1l1.4,1.4l-1.4,1.4l-1.4,-1.4zM315.3,624.7l1.4,1.4l-1.4,1.4l-1.4,-1.4zM357.8,624.6l1.4,1.4l-1.4,1.4l-1.4,-1.4zM304.5,629.2l1.4,1.4l-1.4,1.4l-1.4,-1.4zM300.1,620.1l1.4,1.4l-1.4,1.4l-1.4,-1.4zM312.5,613.4l1.4,1.4l-1.4,1.4l-1.4,-1.4zM303.5,635.2l1.4,1.4l-1.4,1.4l-1.4,-1.4zM425.8,631.1l1.4,1.4l-1.4,1.4l-1.4,-1.4zM308.8,612.9l1.4,1.4l-1.4,1.4l-1.4,-1.4zM309.3,630.0l1.4,1.4l-1.4,1.4l-1.4,-1.4zM303.6,618.8l1.4,1.4l-1.4,1.4l-1.4,-1.4zM313.3,627.8l1.4,1.4l-1.4,1.4l-1.4,-1.4zM304.0,616.1l1.4,1.4l-1.4,1.4l-1.4,-1.4zM302.3,616.0l1.4,1.4l-1.4,1.4l-1.4,-1.4zM308.5,619.9l1.4,1.4l-1.4,1.4l-1.4,-1.4zM302.7,609.2l1.4,1.4l-1.4,1.4l-1.4,-1.4zM357.7,620.7l1.4,1.4l-1.4,1.4l-1.4,-1.4zM301.4,617.3l1.4,1.4l-1.4,1.4l-1.4,-1.4zM308.4,610.4l1.4,1.4l-1.4,1.4l-1.4,-1.4zM303.3,614.2l1.4,1.4l-1.4,1.4l-1.4,-1.4zM300.8,625.0l1.4,1.4l-1.4,1.4l-1.4,-1.4zM391.4,624.7l1.4,1.4l-1.4,1.4l-1.4,-1.4zM299.8,622.3l1.4,1.4l-1.4,1.4l-1.4,-1.4zM369.1,622.0l1.4,1.4l-1.4,1.4l-1.4,-1.4zM300.8,620.3l1.4,1.4l-1.4,1.4l-1.4,-1.4zM310.6,624.2l1.4,1.4l-1.4,1.4l-1.4,-1.4zM503.1,617.9l1.4,1.4l-1.4,1.4l-1.4,-1.4zM299.8,620.5l1.4,1.4l-1.4,1.4l-1.4,-1.4zM300.8,618.5l1.4,1.4l-1.4,1.4l-1.4,-1.4zM357.0,620.8l1.4,1.4l-1.4,1.4l-1.4,-1.4zM312.0,612.9l1.4,1.4l-1.4,1.4l-1.4,-1.4zM304.1,628.0l1.4,1.4l-1.4,1.4l-1.4,-1.4zM308.9,611.8l1.4,1.4l-1.4,1.4l-1.4,-1.4zM302.0,618.6l1.4,1.4l-1.4,1.4l-1.4,-1.4zM311.1,618.3l1.4,1.4l-1.4,1.4l-1.4,-1.4zM372.7,617.9l1.4,1.4l-1.4,1.4l-1.4,-1.4zM305.3,614.4l1.4,1.4l-1.4,1.4l-1.4,-1.4zM311.4,616.7l1.4,1.4l-1.4,1.4l-1.4,-1.4zM349.2,619.7l1.4,1.4l-1.4,1.4l-1.4,-1.4zM440.3,621.7l1.4,1.4l-1.4,1.4l-1.4,-1.4zM303.9,630.7l1.4,1.4l-1.4,1.4l-1.4,-1.4zM314.3,619.6l1.4,1.4l-1.4,1.4l-1.4,-1.4zM304.0,622.7l1.4,1.4l-1.4,1.4l-1.4,-1.4zM303.5,622.7l1.4,1.4l-1.4,1.4l-1.4,-1.4zM305.2,606.5l1.4,1.4l-1.4,1.4l-1.4,-1.4zM303.6,632.0l1.4,1.4l-1.4,1.4l-1.4,-1.4zM300.2,620.4l1.4,1.4l-1.4,1.4l-1.4,-1.4zM299.9,612.9l1.4,1.4l-1.4,1.4l-1.4,-1.4zM303.1,614.9l1.4,1.4l-1.4,1.4l-1.4,-1.4zM311.3,613.9l1.4,1.4l-1.4,1.4l-1.4,-1.4zM349.9,627.1l1.4,1.4l-1.4,1.4l-1.4,-1.4zM304.2,632.9l1.4,1.4l-1.4,1.4l-1.4,-1.4zM307.3,617.2l1.4,1.4l-1.4,1.4l-1.4,-1.4zM323.6,622.4l1.4,1.4l-1.4,1.4l-1.4,-1.4zM326.3,612.0l1.4,1.4l-1.4,1.4l-1.4,-1.4zM307.9,619.5l1.4,1.4l-1.4,1.4l-1.4,-1.4zM308.7,619.6l1.4,1.4l-1.4,1.4l-1.4,-1.4zM420.2,618.8l1.4,1.4l-1.4,1.4l-1.4,-1.4zM305.7,622.3l1.4,1.4l-1.4,1.4l-1.4,-1.4zM304.5,620.0l1.4,1.4l-1.4,1.4l-1.4,-1.4zM300.4,625.0l1.4,1.4l-1.4,1.4l-1.4,-1.4zM317.2,621.0l1.4,1.4l-1.4,1.4l-1.4,-1.4zM306.4,623.6l1.4,1.4l-1.4,1.4l-1.4,-1.4zM426.1,619.6l1.4,1.4l-1.4,1.4l-1.4,-1.4zM305.7,629.1l1.4,1.4l-1.4,1.4l-1.4,-1.4zM328.9,628.4l1.4,1.4l-1.4,1.4l-1.4,-1.4zM334.1,618.5l1.4,1.4l-1.4,1.4l-1.4,-1.4zM388.9,619.7l1.4,1.4l-1.4,1.4l-1.4,-1.4zM301.0,626.8l1.4,1.4l-1.4,1.4l-1.4,-1.4zM379.6,621.9l1.4,1.4l-1.4,1.4l-1.4,-1.4zM309.5,626.7l1.4,1.4l-1.4,1.4l-1.4,-1.4zM308.1,609.0l1.4,1.4l-1.4,1.4l-1.4,-1.4zM305.9,629.9l1.4,1.4l-1.4,1.4l-1.4,-1.4zM305.2,610.6l1.4,1.4l-1.4,1.4l-1.4,-1.4zM305.6,625.6l1.4,1.4l-1.4,1.4l-1.4,-1.4zM299.7,617.9l1.4,1.4l-1.4,1.4l-1.4,-1.4zM319.1,622.1l1.4,1.4l-1.4,1.4l-1.4,-1.4zM310.2,622.9l1.4,1.4l-1.4,1.4l-1.4,-1.4zM302.1,614.9l1.4,1.4l-1.4,1.4l-1.4,-1.4zM308.5,616.1l1.4,1.4l-1.4,1.4l-1.4,-1.4zM510.5,622.1l1.4,1.4l-1.4,1.4l-1.4,-1.4zM316.0,625.6l1.4,1.4l-1.4,1.4l-1.4,-1.4zM305.3,608.4l1.4,1.4l-1.4,1.4l-1.4,-1.4zM396.3,614.1l1.4,1.4l-1.4,1.4l-1.4,-1.4zM302.8,619.8l1.4,1.4l-1.4,1.4l-1.4,-1.4zM307.5,622.4l1.4,1.4l-1.4,1.4l-1.4,-1.4zM304.1,618.9l1.4,1.4l-1.4,1.4l-1.4,-1.4zM306.6,620.2l1.4,1.4l-1.4,1.4l-1.4,-1.4zM325.8,614.6l1.4,1.4l-1.4,1.4l-1.4,-1.4zM321.0,625.8l1.4,1.4l-1.4,1.4l-1.4,-1.4zM303.1,620.5l1.4,1.4l-1.4,1.4l-1.4,-1.4zM307.8,625.2l1.4,1.4l-1.4,1.4l-1.4,-1.4zM310.6,613.4l1.4,1.4l-1.4,1.4l-1.4,-1.4zM305.1,610.0l1.4,1.4l-1.4,1.4l-1.4,-1.4zM308.9,621.2l1.4,1.4l-1.4,1.4l-1.4,-1.4zM303.1,617.4l1.4,1.4l-1.4,1.4l-1.4,-1.4zM303.0,612.1l1.4,1.4l-1.4,1.4l-1.4,-1.4zM309.9,622.4l1.4,1.4l-1.4,1.4l-1.4,-1.4zM301.8,626.5l1.4,1.4l-1.4,1.4l-1.4,-1.4zM316.8,615.1l1.4,1.4l-1.4,1.4l-1.4,-1.4zM307.0,617.7l1.4,1.4l-1.4,1.4l-1.4,-1.4zM302.2,621.9l1.4,1.4l-1.4,1.4l-1.4,-1.4zM303.7,611.8l1.4,1.4l-1.4,1.4l-1.4,-1.4zM304.6,619.3l1.4,1.4l-1.4,1.4l-1.4,-1.4zM307.4,631.0l1.4,1.4l-1.4,1.4l-1.4,-1.4zM310.9,618.8l1.4,1.4l-1.4,1.4l-1.4,-1.4zM306.9,621.0l1.4,1.4l-1.4,1.4l-1.4,-1.4zM302.4,609.1l1.4,1.4l-1.4,1.4l-1.4,-1.4zM365.6,620.8l1.4,1.4l-1.4,1.4l-1.4,-1.4zM332.4,621.8l1.4,1.4l-1.4,1.4l-1.4,-1.4zM310.9,618.3l1.4,1.4l-1.4,1.4l-1.4,-1.4zM334.5,619.5l1.4,1.4l-1.4,1.4l-1.4,-1.4zM314.7,628.4l1.4,1.4l-1.4,1.4l-1.4,-1.4zM306.4,620.0l1.4,1.4l-1.4,1.4l-1.4,-1.4zM310.5,622.5l1.4,1.4l-1.4,1.4l-1.4,-1.4zM336.3,613.7l1.4,1.4l-1.4,1.4l-1.4,-1.4zM338.8,608.7l1.4,1.4l-1.4,1.4l-1.4,-1.4zM305.2,627.3l1.4,1.4l-1.4,1.4l-1.4,-1.4zM321.4,625.8l1.4,1.4l-1.4,1.4l-1.4,-1.4zM494.3,624.7l1.4,1.4l-1.4,1.4l-1.4,-1.4zM316.9,624.2l1.4,1.4l-1.4,1.4l-1.4,-1.4zM340.4,624.2l1.4,1.4l-1.4,1.4l-1.4,-1.4zM351.7,620.5l1.4,1.4l-1.4,1.4l-1.4,-1.4zM322.6,615.0l1.4,1.4l-1.4,1.4l-1.4,-1.4zM378.7,627.0l1.4,1.4l-1.4,1.4l-1.4,-1.4zM312.8,629.2l1.4,1.4l-1.4,1.4l-1.4,-1.4zM318.5,630.5l1.4,1.4l-1.4,1.4l-1.4,-1.4zM303.6,614.0l1.4,1.4l-1.4,1.4l-1.4,-1.4zM314.2,613.4l1.4,1.4l-1.4,1.4l-1.4,-1.4zM310.9,629.3l1.4,1.4l-1.4,1.4l-1.4,-1.4zM361.3,628.7l1.4,1.4l-1.4,1.4l-1.4,-1.4zM304.5,619.9l1.4,1.4l-1.4,1.4l-1.4,-1.4zM309.2,614.5l1.4,1.4l-1.4,1.4l-1.4,-1.4zM302.8,614.4l1.4,1.4l-1.4,1.4l-1.4,-1.4zM309.6,619.6l1.4,1.4l-1.4,1.4l-1.4,-1.4zM305.3,616.6l1.4,1.4l-1.4,1.4l-1.4,-1.4zM319.7,619.0l1.4,1.4l-1.4,1.4l-1.4,-1.4zM307.7,623.9l1.4,1.4l-1.4,1.4l-1.4,-1.4zM303.8,609.1l1.4,1.4l-1.4,1.4l-1.4,-1.4zM306.0,620.7l1.4,1.4l-1.4,1.4l-1.4,-1.4zM307.8,627.1l1.4,1.4l-1.4,1.4l-1.4,-1.4zM304.4,623.4l1.4,1.4l-1.4,1.4l-1.4,-1.4zM333.5,628.5l1.4,1.4l-1.4,1.4l-1.4,-1.4zM323.4,620.6l1.4,1.4l-1.4,1.4l-1.4,-1.4zM311.4,614.6l1.4,1.4l-1.4,1.4l-1.4,-1.4zM301.3,628.6l1.4,1.4l-1.4,1.4l-1.4,-1.4zM319.0,614.7l1.4,1.4l-1.4,1.4l-1.4,-1.4zM301.1,607.4l1.4,1.4l-1.4,1.4l-1.4,-1.4zM312.0,618.6l1.4,1.4l-1.4,1.4l-1.4,-1.4zM309.9,627.2l1.4,1.4l-1.4,1.4l-1.4,-1.4zM303.9,625.8l1.4,1.4l-1.4,1.4l-1.4,-1.4zM302.6,622.7l1.4,1.4l-1.4,1.4l-1.4,-1.4zM303.3,628.4l1.4,1.4l-1.4,1.4l-1.4,-1.4zM445.8,626.6l1.4,1.4l-1.4,1.4l-1.4,-1.4zM306.3,622.2l1.4,1.4l-1.4,1.4l-1.4,-1.4zM306.9,621.7l1.4,1.4l-1.4,1.4l-1.4,-1.4zM334.3,617.7l1.4,1.4l-1.4,1.4l-1.4,-1.4zM316.6,627.2l1.4,1.4l-1.4,1.4l-1.4,-1.4zM339.1,611.4l1.4,1.4l-1.4,1.4l-1.4,-1.4zM301.2,613.9l1.4,1.4l-1.4,1.4l-1.4,-1.4zM301.6,615.0l1.4,1.4l-1.4,1.4l-1.4,-1.4zM308.7,624.4l1.4,1.4l-1.4,1.4l-1.4,-1.4zM306.1,610.5l1.4,1.4l-1.4,1.4l-1.4,-1.4zM311.6,622.6l1.4,1.4l-1.4,1.4l-1.4,-1.4zM335.8,611.6l1.4,1.4l-1.4,1.4l-1.4,-1.4zM301.3,613.9l1.4,1.4l-1.4,1.4l-1.4,-1.4zM313.7,625.6l1.4,1.4l-1.4,1.4l-1.4,-1.4zM308.9,623.3l1.4,1.4l-1.4,1.4l-1.4,-1.4zM323.3,610.9l1.4,1.4l-1.4,1.4l-1.4,-1.4zM311.8,615.1l1.4,1.4l-1.4,1.4l-1.4,-1.4zM304.2,621.6l1.4,1.4l-1.4,1.4l-1.4,-1.4zM302.4,619.4l1.4,1.4l-1.4,1.4l-1.4,-1.4zM299.6,619.3l1.4,1.4l-1.4,1.4l-1.4,-1.4zM335.1,624.6l1.4,1.4l-1.4,1.4l-1.4,-1.4zM300.7,621.9l1.4,1.4l-1.4,1.4l-1.4,-1.4zM305.1,624.6l1.4,1.4l-1.4,1.4l-1.4,-1.4zM386.6,622.8l1.4,1.4l-1.4,1.4l-1.4,-1.4zM305.0,617.9l1.4,1.4l-1.4,1.4l-1.4,-1.4zM321.4,625.7l1.4,1.4l-1.4,1.4l-1.4,-1.4zM306.8,616.4l1.4,1.4l-1.4,1.4l-1.4,-1.4zM324.1,620.1l1.4,1.4l-1.4,1.4l-1.4,-1.4zM309.6,616.4l1.4,1.4l-1.4,1.4l-1.4,-1.4zM304.4,615.3l1.4,1.4l-1.4,1.4l-1.4,-1.4zM357.3,614.7l1.4,1.4l-1.4,1.4l-1.4,-1.4zM306.3,617.0l1.4,1.4l-1.4,1.4l-1.4,-1.4zM301.0,616.1l1.4,1.4l-1.4,1.4l-1.4,-1.4zM305.7,621.7l1.4,1.4l-1.4,1.4l-1.4,-1.4zM319.4,617.7l1.4,1.4l-1.4,1.4l-1.4,-1.4zM301.6,626.3l1.4,1.4l-1.4,1.4l-1.4,-1.4zM327.1,622.0l1.4,1.4l-1.4,1.4l-1.4,-1.4zM326.3,616.8l1.4,1.4l-1.4,1.4l-1.4,-1.4zM457.1,621.0l1.4,1.4l-1.4,1.4l-1.4,-1.4zM303.6,617.9l1.4,1.4l-1.4,1.4l-1.4,-1.4zM322.9,626.2l1.4,1.4l-1.4,1.4l-1.4,-1.4zM300.3,611.8l1.4,1.4l-1.4,1.4l-1.4,-1.4zM305.0,624.1l1.4,1.4l-1.4,1.4l-1.4,-1.4zM310.7,618.5l1.4,1.4l-1.4,1.4l-1.4,-1.4zM316.2,620.8l1.4,1.4l-1.4,1.4l-1.4,-1.4zM308.5,615.3l1.4,1.4l-1.4,1.4l-1.4,-1.4zM308.1,622.9l1.4,1.4l-1.4,1.4l-1.4,-1.4zM303.7,626.7l1.4,1.4l-1.4,1.4l-1.4,-1.4zM304.8,632.0l1.4,1.4l-1.4,1.4l-1.4,-1.4zM314.1,622.4l1.4,1.4l-1.4,1.4l-1.4,-1.4zM319.9,627.0l1.4,1.4l-1.4,1.4l-1.4,-1.4zM322.2,617.9l1.4,1.4l-1.4,1.4l-1.4,-1.4zM335.7,613.4l1.4,1.4l-1.4,1.4l-1.4,-1.4zM346.0,631.8l1.4,1.4l-1.4,1.4l-1.4,-1.4zM300.2,628.9l1.4,1.4l-1.4,1.4l-1.4,-1.4zM304.3,618.8l1.4,1.4l-1.4,1.4l-1.4,-1.4zM307.3,613.5l1.4,1.4l-1.4,1.4l-1.4,-1.4zM303.6,618.8l1.4,1.4l-1.4,1.4l-1.4,-1.4zM338.1,619.1l1.4,1.4l-1.4,1.4l-1.4,-1.4zM325.7,618.1l1.4,1.4l-1.4,1.4l-1.4,-1.4zM307.9,617.3l1.4,1.4l-1.4,1.4l-1.4,-1.4zM310.9,611.5l1.4,1.4l-1.4,1.4l-1.4,-1.4zM350.8,617.7l1.4,1.4l-1.4,1.4l-1.4,-1.4zM305.6,628.0l1.4,1.4l-1.4,1.4l-1.4,-1.4zM305.9,623.4l1.4,1.4l-1.4,1.4l-1.4,-1.4zM331.6,619.7l1.4,1.4l-1.4,1.4l-1.4,-1.4zM317.6,625.1l1.4,1.4l-1.4,1.4l-1.4,-1.4zM362.2,622.0l1.4,1.4l-1.4,1.4l-1.4,-1.4zM315.4,626.4l1.4,1.4l-1.4,1.4l-1.4,-1.4zM325.6,624.4l1.4,1.4l-1.4,1.4l-1.4,-1.4zM304.2,616.5l1.4,1.4l-1.4,1.4l-1.4,-1.4zM302.2,623.0l1.4,1.4l-1.4,1.4l-1.4,-1.4zM309.1,626.9l1.4,1.4l-1.4,1.4l-1.4,-1.4zM299.5,625.3l1.4,1.4l-1.4,1.4l-1.4,-1.4zM316.2,620.5l1.4,1.4l-1.4,1.4l-1.4,-1.4zM334.4,610.0l1.4,1.4l-1.4,1.4l-1.4,-1.4zM310.3,619.2l1.4,1.4l-1.4,1.4l-1.4,-1.4zM306.7,612.0l1.4,1.4l-1.4,1.4l-1.4,-1.4zM340.2,618.3l1.4,1.4l-1.4,1.4l-1.4,-1.4zM308.7,633.0l1.4,1.4l-1.4,1.4l-1.4,-1.4zM334.9,618.8l1.4,1.4l-1.4,1.4l-1.4,-1.4zM470.2,624.7l1.4,1.4l-1.4,1.4l-1.4,-1.4zM324.8,627.8l1.4,1.4l-1.4,1.4l-1.4,-1.4zM333.0,626.2l1.4,1.4l-1.4,1.4l-1.4,-1.4zM318.2,611.1l1.4,1.4l-1.4,1.4l-1.4,-1.4zM313.1,629.4l1.4,1.4l-1.4,1.4l-1.4,-1.4zM313.5,624.1l1.4,1.4l-1.4,1.4l-1.4,-1.4zM310.2,614.1l1.4,1.4l-1.4,1.4l-1.4,-1.4zM339.9,617.4l1.4,1.4l-1.4,1.4l-1.4,-1.4zM300.4,631.6l1.4,1.4l-1.4,1.4l-1.4,-1.4zM306.3,621.3l1.4,1.4l-1.4,1.4l-1.4,-1.4zM322.7,623.4l1.4,1.4l-1.4,1.4l-1.4,-1.4zM302.6,621.8l1.4,1.4l-1.4,1.4l-1.4,-1.4zM308.0,616.3l1.4,1.4l-1.4,1.4l-1.4,-1.4zM303.3,624.2l1.4,1.4l-1.4,1.4l-1.4,-1.4zM316.9,622.4l1.4,1.4l-1.4,1.4l-1.4,-1.4zM329.8,613.2l1.4,1.4l-1.4,1.4l-1.4,-1.4zM364.8,629.7l1.4,1.4l-1.4,1.4l-1.4,-1.4zM318.4,622.7l1.4,1.4l-1.4,1.4l-1.4,-1.4zM303.2,617.8l1.4,1.4l-1.4,1.4l-1.4,-1.4zM313.1,627.6l1.4,1.4l-1.4,1.4l-1.4,-1.4zM320.1,624.1l1.4,1.4l-1.4,1.4l-1.4,-1.4zM361.3,627.2l1.4,1.4l-1.4,1.4l-1.4,-1.4zM299.8,617.7l1.4,1.4l-1.4,1.4l-1.4,-1.4zM315.4,624.1l1.4,1.4l-1.4,1.4l-1.4,-1.4zM300.1,615.5l1.4,1.4l-1.4,1.4l-1.4,-1.4zM324.5,615.4l1.4,1.4l-1.4,1.4l-1.4,-1.4zM317.0,620.5l1.4,1.4l-1.4,1.4l-1.4,-1.4zM318.3,622.8l1.4,1.4l-1.4,1.4l-1.4,-1.4zM330.7,619.4l1.4,1.4l-1.4,1.4l-1.4,-1.4zM315.7,620.4l1.4,1.4l-1.4,1.4l-1.4,-1.4zM303.6,628.1l1.4,1.4l-1.4,1.4l-1.4,-1.4zM315.0,614.8l1.4,1.4l-1.4,1.4l-1.4,-1.4zM346.4,619.6l1.4,1.4l-1.4,1.4l-1.4,-1.4zM307.8,610.0l1.4,1.4l-1.4,1.4l-1.4,-1.4zM309.6,628.4l1.4,1.4l-1.4,1.4l-1.4,-1.4zM301.3,615.1l1.4,1.4l-1.4,1.4l-1.4,-1.4zM344.0,597.1l1.4,1.4l-1.4,1.4l-1.4,-1.4zM304.4,617.0l1.4,1.4l-1.4,1.4l-1.4,-1.4zM303.1,629.6l1.4,1.4l-1.4,1.4l-1.4,-1.4zM304.8,620.4l1.4,1.4l-1.4,1.4l-1.4,-1.4zM302.5,621.0l1.4,1.4l-1.4,1.4l-1.4,-1.4zM306.5,619.4l1.4,1.4l-1.4,1.4l-1.4,-1.4zM351.2,621.9l1.4,1.4l-1.4,1.4l-1.4,-1.4zM327.1,618.2l1.4,1.4l-1.4,1.4l-1.4,-1.4zM362.2,623.0l1.4,1.4l-1.4,1.4l-1.4,-1.4zM367.5,619.7l1.4,1.4l-1.4,1.4l-1.4,-1.4zM302.4,624.9l1.4,1.4l-1.4,1.4l-1.4,-1.4zM317.9,620.2l1.4,1.4l-1.4,1.4l-1.4,-1.4zM368.6,615.9l1.4,1.4l-1.4,1.4l-1.4,-1.4zM493.0,623.1l1.4,1.4l-1.4,1.4l-1.4,-1.4zM300.8,616.4l1.4,1.4l-1.4,1.4l-1.4,-1.4zM300.8,626.3l1.4,1.4l-1.4,1.4l-1.4,-1.4zM317.6,622.7l1.4,1.4l-1.4,1.4l-1.4,-1.4zM305.7,622.1l1.4,1.4l-1.4,1.4l-1.4,-1.4zM302.0,612.8l1.4,1.4l-1.4,1.4l-1.4,-1.4zM315.6,624.9l1.4,1.4l-1.4,1.4l-1.4,-1.4zM302.8,613.1l1.4,1.4l-1.4,1.4l-1.4,-1.4zM299.7,630.2l1.4,1.4l-1.4,1.4l-1.4,-1.4zM308.9,621.6l1.4,1.4l-1.4,1.4l-1.4,-1.4zM311.0,615.6l1.4,1.4l-1.4,1.4l-1.4,-1.4zM322.0,617.1l1.4,1.4l-1.4,1.4l-1.4,-1.4zM332.8,625.9l1.4,1.4l-1.4,1.4l-1.4,-1.4zM311.9,627.6l1.4,1.4l-1.4,1.4l-1.4,-1.4zM306.6,615.5l1.4,1.4l-1.4,1.4l-1.4,-1.4zM303.4,628.4l1.4,1.4l-1.4,1.4l-1.4,-1.4zM300.4,616.9l1.4,1.4l-1.4,1.4l-1.4,-1.4zM304.9,623.8l1.4,1.4l-1.4,1.4l-1.4,-1.4zM335.3,620.8l1.4,1.4l-1.4,1.4l-1.4,-1.4zM322.3,608.5l1.4,1.4l-1.4,1.4l-1.4,-1.4zM439.8,613.5l1.4,1.4l-1.4,1.4l-1.4,-1.4zM307.4,615.8l1.4,1.4l-1.4,1.4l-1.4,-1.4zM300.2,629.6l1.4,1.4l-1.4,1.4l-1.4,-1.4zM328.2,619.1l1.4,1.4l-1.4,1.4l-1.4,-1.4zM337.2,620.5l1.4,1.4l-1.4,1.4l-1.4,-1.4zM301.4,621.3l1.4,1.4l-1.4,1.4l-1.4,-1.4zM300.4,612.0l1.4,1.4l-1.4,1.4l-1.4,-1.4zM311.3,630.4l1.4,1.4l-1.4,1.4l-1.4,-1.4zM324.2,619.1l1.4,1.4l-1.4,1.4l-1.4,-1.4zM301.6,619.9l1.4,1.4l-1.4,1.4l-1.4,-1.4zM305.6,625.2l1.4,1.4l-1.4,1.4l-1.4,-1.4zM302.9,610.0l1.4,1.4l-1.4,1.4l-1.4,-1.4zM301.4,628.7l1.4,1.4l-1.4,1.4l-1.4,-1.4zM301.0,620.5l1.4,1.4l-1.4,1.4l-1.4,-1.4zM311.1,620.3l1.4,1.4l-1.4,1.4l-1.4,-1.4zM305.4,633.8l1.4,1.4l-1.4,1.4l-1.4,-1.4zM303.4,629.5l1.4,1.4l-1.4,1.4l-1.4,-1.4zM299.5,627.1l1.4,1.4l-1.4,1.4l-1.4,-1.4zM393.7,617.0l1.4,1.4l-1.4,1.4l-1.4,-1.4zM302.1,614.8l1.4,1.4l-1.4,1.4l-1.4,-1.4zM307.5,617.3l1.4,1.4l-1.4,1.4l-1.4,-1.4zM301.5,619.2l1.4,1.4l-1.4,1.4l-1.4,-1.4zM315.4,632.8l1.4,1.4l-1.4,1.4l-1.4,-1.4zM300.6,619.3l1.4,1.4l-1.4,1.4l-1.4,-1.4zM310.4,623.7l1.4,1.4l-1.4,1.4l-1.4,-1.4zM307.0,613.9l1.4,1.4l-1.4,1.4l-1.4,-1.4zM331.5,613.9l1.4,1.4l-1.4,1.4l-1.4,-1.4zM301.6,606.5l1.4,1.4l-1.4,1.4l-1.4,-1.4zM303.5,616.4l1.4,1.4l-1.4,1.4l-1.4,-1.4zM306.5,615.9l1.4,1.4l-1.4,1.4l-1.4,-1.4zM446.2,625.7l1.4,1.4l-1.4,1.4l-1.4,-1.4zM300.7,620.2l1.4,1.4l-1.4,1.4l-1.4,-1.4zM313.6,627.6l1.4,1.4l-1.4,1.4l-1.4,-1.4zM303.4,615.2l1.4,1.4l-1.4,1.4l-1.4,-1.4zM313.9,627.4l1.4,1.4l-1.4,1.4l-1.4,-1.4zM322.1,621.9l1.4,1.4l-1.4,1.4l-1.4,-1.4zM311.0,625.4l1.4,1.4l-1.4,1.4l-1.4,-1.4zM313.0,623.4l1.4,1.4l-1.4,1.4l-1.4,-1.4zM313.3,618.2l1.4,1.4l-1.4,1.4l-1.4,-1.4zM303.8,624.2l1.4,1.4l-1.4,1.4l-1.4,-1.4zM306.7,619.5l1.4,1.4l-1.4,1.4l-1.4,-1.4zM300.4,627.2l1.4,1.4l-1.4,1.4l-1.4,-1.4zM305.4,612.4l1.4,1.4l-1.4,1.4l-1.4,-1.4zM302.9,624.7l1.4,1.4l-1.4,1.4l-1.4,-1.4zM306.3,614.8l1.4,1.4l-1.4,1.4l-1.4,-1.4zM324.6,609.5l1.4,1.4l-1.4,1.4l-1.4,-1.4zM315.3,634.2l1.4,1.4l-1.4,1.4l-1.4,-1.4zM317.2,626.2l1.4,1.4l-1.4,1.4l-1.4,-1.4zM339.9,621.9l1.4,1.4l-1.4,1.4l-1.4,-1.4zM299.7,613.0l1.4,1.4l-1.4,1.4l-1.4,-1.4zM316.3,623.4l1.4,1.4l-1.4,1.4l-1.4,-1.4zM308.7,618.6l1.4,1.4l-1.4,1.4l-1.4,-1.4zM307.8,625.0l1.4,1.4l-1.4,1.4l-1.4,-1.4zM301.0,617.1l1.4,1.4l-1.4,1.4l-1.4,-1.4zM319.1,627.4l1.4,1.4l-1.4,1.4l-1.4,-1.4zM342.2,616.6l1.4,1.4l-1.4,1.4l-1.4,-1.4zM336.0,636.1l1.4,1.4l-1.4,1.4l-1.4,-1.4zM308.0,631.8l1.4,1.4l-1.4,1.4l-1.4,-1.4zM321.5,611.1l1.4,1.4l-1.4,1.4l-1.4,-1.4zM331.3,619.9l1.4,1.4l-1.4,1.4l-1.4,-1.4zM401.6,625.2l1.4,1.4l-1.4,1.4l-1.4,-1.4zM346.7,609.8l1.4,1.4l-1.4,1.4l-1.4,-1.4zM310.9,614.8l1.4,1.4l-1.4,1.4l-1.4,-1.4zM310.2,614.3l1.4,1.4l-1.4,1.4l-1.4,-1.4zM311.3,623.2l1.4,1.4l-1.4,1.4l-1.4,-1.4zM312.3,612.6l1.4,1.4l-1.4,1.4l-1.4,-1.4zM304.3,617.7l1.4,1.4l-1.4,1.4l-1.4,-1.4zM325.6,629.6l1.4,1.4l-1.4,1.4l-1.4,-1.4zM303.2,617.1l1.4,1.4l-1.4,1.4l-1.4,-1.4zM302.7,621.9l1.4,1.4l-1.4,1.4l-1.4,-1.4zM314.6,613.7l1.4,1.4l-1.4,1.4l-1.4,-1.4zM303.9,612.8l1.4,1.4l-1.4,1.4l-1.4,-1.4zM306.3,624.6l1.4,1.4l-1.4,1.4l-1.4,-1.4zM299.9,624.7l1.4,1.4l-1.4,1.4l-1.4,-1.4zM326.3,619.8l1.4,1.4l-1.4,1.4l-1.4,-1.4zM308.9,617.0l1.4,1.4l-1.4,1.4l-1.4,-1.4zM307.5,625.6l1.4,1.4l-1.4,1.4l-1.4,-1.4zM316.9,621.5l1.4,1.4l-1.4,1.4l-1.4,-1.4zM312.0,617.4l1.4,1.4l-1.4,1.4l-1.4,-1.4zM303.2,618.1l1.4,1.4l-1.4,1.4l-1.4,-1.4zM428.1,615.3l1.4,1.4l-1.4,1.4l-1.4,-1.4zM304.6,619.3l1.4,1.4l-1.4,1.4l-1.4,-1.4zM333.3,625.4l1.4,1.4l-1.4,1.4l-1.4,-1.4zM402.1,629.4l1.4,1.4l-1.4,1.4l-1.4,-1.4zM303.6,615.8l1.4,1.4l-1.4,1.4l-1.4,-1.4zM310.2,622.7l1.4,1.4l-1.4,1.4l-1.4,-1.4zM302.6,623.0l1.4,1.4l-1.4,1.4l-1.4,-1.4zM336.8,622.3l1.4,1.4l-1.4,1.4l-1.4,-1.4zM305.5,630.3l1.4,1.4l-1.4,1.4l-1.4,-1.4zM301.6,625.8l1.4,1.4l-1.4,1.4l-1.4,-1.4zM352.2,633.9l1.4,1.4l-1.4,1.4l-1.4,-1.4zM330.9,623.0l1.4,1.4l-1.4,1.4l-1.4,-1.4zM302.3,626.4l1.4,1.4l-1.4,1.4l-1.4,-1.4zM343.8,611.5l1.4,1.4l-1.4,1.4l-1.4,-1.4zM311.7,618.3l1.4,1.4l-1.4,1.4l-1.4,-1.4zM387.8,621.9l1.4,1.4l-1.4,1.4l-1.4,-1.4zM304.0,619.8l1.4,1.4l-1.4,1.4l-1.4,-1.4zM306.1,616.4l1.4,1.4l-1.4,1.4l-1.4,-1.4zM302.3,625.6l1.4,1.4l-1.4,1.4l-1.4,-1.4zM310.7,622.1l1.4,1.4l-1.4,1.4l-1.4,-1.4zM309.5,622.9l1.4,1.4l-1.4,1.4l-1.4,-1.4zM324.3,607.6l1.4,1.4l-1.4,1.4l-1.4,-1.4zM310.1,620.4l1.4,1.4l-1.4,1.4l-1.4,-1.4zM300.7,633.6l1.4,1.4l-1.4,1.4l-1.4,-1.4zM302.6,615.8l1.4,1.4l-1.4,1.4l-1.4,-1.4zM359.2,608.0l1.4,1.4l-1.4,1.4l-1.4,-1.4zM342.2,625.8l1.4,1.4l-1.4,1.4l-1.4,-1.4zM307.1,600.2l1.4,1.4l-1.4,1.4l-1.4,-1.4zM307.3,621.2l1.4,1.4l-1.4,1.4l-1.4,-1.4zM307.0,614.9l1.4,1.4l-1.4,1.4l-1.4,-1.4zM309.2,624.1l1.4,1.4l-1.4,1.4l-1.4,-1.4zM300.3,622.6l1.4,1.4l-1.4,1.4l-1.4,-1.4zM329.9,627.3l1.4,1.4l-1.4,1.4l-1.4,-1.4zM303.4,627.4l1.4,1.4l-1.4,1.4l-1.4,-1.4zM310.9,633.2l1.4,1.4l-1.4,1.4l-1.4,-1.4zM299.6,613.1l1.4,1.4l-1.4,1.4l-1.4,-1.4zM312.3,627.4l1.4,1.4l-1.4,1.4l-1.4,-1.4zM353.6,619.0l1.4,1.4l-1.4,1.4l-1.4,-1.4zM299.7,618.6l1.4,1.4l-1.4,1.4l-1.4,-1.4zM367.9,624.1l1.4,1.4l-1.4,1.4l-1.4,-1.4zM317.0,620.6l1.4,1.4l-1.4,1.4l-1.4,-1.4zM303.0,621.4l1.4,1.4l-1.4,1.4l-1.4,-1.4zM300.5,624.1l1.4,1.4l-1.4,1.4l-1.4,-1.4zM342.6,620.6l1.4,1.4l-1.4,1.4l-1.4,-1.4zM312.8,620.6l1.4,1.4l-1.4,1.4l-1.4,-1.4zM320.0,626.4l1.4,1.4l-1.4,1.4l-1.4,-1.4zM306.0,628.7l1.4,1.4l-1.4,1.4l-1.4,-1.4zM302.7,626.2l1.4,1.4l-1.4,1.4l-1.4,-1.4zM329.0,620.2l1.4,1.4l-1.4,1.4l-1.4,-1.4zM302.0,612.0l1.4,1.4l-1.4,1.4l-1.4,-1.4zM330.2,613.2l1.4,1.4l-1.4,1.4l-1.4,-1.4zM300.3,618.7l1.4,1.4l-1.4,1.4l-1.4,-1.4zM302.1,614.8l1.4,1.4l-1.4,1.4l-1.4,-1.4zM300.7,620.0l1.4,1.4l-1.4,1.4l-1.4,-1.4zM351.7,615.3l1.4,1.4l-1.4,1.4l-1.4,-1.4zM300.2,620.0l1.4,1.4l-1.4,1.4l-1.4,-1.4zM301.4,618.3l1.4,1.4l-1.4,1.4l-1.4,-1.4zM321.9,622.4l1.4,1.4l-1.4,1.4l-1.4,-1.4zM312.2,620.9l1.4,1.4l-1.4,1.4l-1.4,-1.4zM463.1,611.8l1.4,1.4l-1.4,1.4l-1.4,-1.4zM403.4,626.8l1.4,1.4l-1.4,1.4l-1.4,-1.4zM320.7,620.5l1.4,1.4l-1.4,1.4l-1.4,-1.4zM322.8,624.1l1.4,1.4l-1.4,1.4l-1.4,-1.4zM300.1,614.4l1.4,1.4l-1.4,1.4l-1.4,-1.4zM302.3,594.9l1.4,1.4l-1.4,1.4l-1.4,-1.4zM305.5,622.8l1.4,1.4l-1.4,1.4l-1.4,-1.4zM306.9,637.5l1.4,1.4l-1.4,1.4l-1.4,-1.4zM300.8,616.8l1.4,1.4l-1.4,1.4l-1.4,-1.4zM302.1,616.9l1.4,1.4l-1.4,1.4l-1.4,-1.4zM302.4,631.6l1.4,1.4l-1.4,1.4l-1.4,-1.4zM337.4,622.2l1.4,1.4l-1.4,1.4l-1.4,-1.4zM316.0,621.3l1.4,1.4l-1.4,1.4l-1.4,-1.4zM305.5,635.0l1.4,1.4l-1.4,1.4l-1.4,-1.4zM306.0,616.8l1.4,1.4l-1.4,1.4l-1.4,-1.4zM313.3,618.4l1.4,1.4l-1.4,1.4l-1.4,-1.4zM303.1,619.4l1.4,1.4l-1.4,1.4l-1.4,-1.4zM306.1,627.3l1.4,1.4l-1.4,1.4l-1.4,-1.4zM300.2,625.6l1.4,1.4l-1.4,1.4l-1.4,-1.4zM322.2,624.4l1.4,1.4l-1.4,1.4l-1.4,-1.4zM332.7,618.4l1.4,1.4l-1.4,1.4l-1.4,-1.4zM314.7,626.5l1.4,1.4l-1.4,1.4l-1.4,-1.4zM317.1,612.8l1.4,1.4l-1.4,1.4l-1.4,-1.4zM314.7,618.8l1.4,1.4l-1.4,1.4l-1.4,-1.4zM434.4,631.5l1.4,1.4l-1.4,1.4l-1.4,-1.4zM311.8,611.2l1.4,1.4l-1.4,1.4l-1.4,-1.4zM301.0,619.8l1.4,1.4l-1.4,1.4l-1.4,-1.4zM301.7,624.4l1.4,1.4l-1.4,1.4l-1.4,-1.4zM323.5,620.4l1.4,1.4l-1.4,1.4l-1.4,-1.4zM337.6,630.4l1.4,1.4l-1.4,1.4l-1.4,-1.4zM325.4,619.9l1.4,1.4l-1.4,1.4l-1.4,-1.4zM327.8,634.1l1.4,1.4l-1.4,1.4l-1.4,-1.4zM311.5,626.8l1.4,1.4l-1.4,1.4l-1.4,-1.4zM300.6,611.9l1.4,1.4l-1.4,1.4l-1.4,-1.4zM303.1,612.9l1.4,1.4l-1.4,1.4l-1.4,-1.4zM300.1,623.2l1.4,1.4l-1.4,1.4l-1.4,-1.4zM305.1,626.9l1.4,1.4l-1.4,1.4l-1.4,-1.4zM300.9,607.0l1.4,1.4l-1.4,1.4l-1.4,-1.4zM310.1,621.2l1.4,1.4l-1.4,1.4l-1.4,-1.4zM307.0,619.6l1.4,1.4l-1.4,1.4l-1.4,-1.4zM300.0,616.7l1.4,1.4l-1.4,1.4l-1.4,-1.4zM324.1,626.8l1.4,1.4l-1.4,1.4l-1.4,-1.4zM325.0,616.7l1.4,1.4l-1.4,1.4l-1.4,-1.4zM300.8,634.9l1.4,1.4l-1.4,1.4l-1.4,-1.4zM310.8,612.4l1.4,1.4l-1.4,1.4l-1.4,-1.4zM323.6,629.5l1.4,1.4l-1.4,1.4l-1.4,-1.4zM305.8,624.8l1.4,1.4l-1.4,1.4l-1.4,-1.4zM328.4,624.5l1.4,1.4l-1.4,1.4l-1.4,-1.4zM311.5,616.7l1.4,1.4l-1.4,1.4l-1.4,-1.4zM337.8,617.1l1.4,1.4l-1.4,1.4l-1.4,-1.4zM311.4,618.9l1.4,1.4l-1.4,1.4l-1.4,-1.4zM307.0,617.7l1.4,1.4l-1.4,1.4l-1.4,-1.4zM317.8,618.4l1.4,1.4l-1.4,1.4l-1.4,-1.4zM325.7,621.4l1.4,1.4l-1.4,1.4l-1.4,-1.4zM312.5,632.0l1.4,1.4l-1.4,1.4l-1.4,-1.4zM304.6,635.3l1.4,1.4l-1.4,1.4l-1.4,-1.4zM302.6,635.7l1.4,1.4l-1.4,1.4l-1.4,-1.4zM305.1,621.3l1.4,1.4l-1.4,1.4l-1.4,-1.4zM303.7,622.4l1.4,1.4l-1.4,1.4l-1.4,-1.4zM311.7,621.8l1.4,1.4l-1.4,1.4l-1.4,-1.4zM311.1,619.7l1.4,1.4l-1.4,1.4l-1.4,-1.4zM307.8,622.4l1.4,1.4l-1.4,1.4l-1.4,-1.4zM308.7,633.8l1.4,1.4l-1.4,1.4l-1.4,-1.4zM311.1,629.7l1.4,1.4l-1.4,1.4l-1.4,-1.4zM372.0,630.5l1.4,1.4l-1.4,1.4l-1.4,-1.4zM344.7,614.7l1.4,1.4l-1.4,1.4l-1.4,-1.4zM303.7,615.3l1.4,1.4l-1.4,1.4l-1.4,-1.4zM315.7,628.6l1.4,1.4l-1.4,1.4l-1.4,-1.4zM305.4,622.7l1.4,1.4l-1.4,1.4l-1.4,-1.4zM307.6,618.3l1.4,1.4l-1.4,1.4l-1.4,-1.4zM306.1,611.2l1.4,1.4l-1.4,1.4l-1.4,-1.4zM303.4,624.8l1.4,1.4l-1.4,1.4l-1.4,-1.4zM300.8,619.8l1.4,1.4l-1.4,1.4l-1.4,-1.4zM299.6,613.1l1.4,1.4l-1.4,1.4l-1.4,-1.4zM311.5,631.1l1.4,1.4l-1.4,1.4l-1.4,-1.4zM343.4,624.8l1.4,1.4l-1.4,1.4l-1.4,-1.4zM302.1,621.2l1.4,1.4l-1.4,1.4l-1.4,-1.4zM317.5,625.1l1.4,1.4l-1.4,1.4l-1.4,-1.4zM304.9,607.9l1.4,1.4l-1.4,1.4l-1.4,-1.4zM312.8,616.0l1.4,1.4l-1.4,1.4l-1.4,-1.4zM302.5,619.7l1.4,1.4l-1.4,1.4l-1.4,-1.4zM306.2,626.9l1.4,1.4l-1.4,1.4l-1.4,-1.4zM307.4,615.8l1.4,1.4l-1.4,1.4l-1.4,-1.4zM299.6,616.7l1.4,1.4l-1.4,1.4l-1.4,-1.4zM311.7,624.0l1.4,1.4l-1.4,1.4l-1.4,-1.4zM307.1,623.6l1.4,1.4l-1.4,1.4l-1.4,-1.4zM299.6,631.0l1.4,1.4l-1.4,1.4l-1.4,-1.4zM321.2,621.5l1.4,1.4l-1.4,1.4l-1.4,-1.4zM308.2,615.8l1.4,1.4l-1.4,1.4l-1.4,-1.4zM311.5,615.2l1.4,1.4l-1.4,1.4l-1.4,-1.4zM314.3,617.7l1.4,1.4l-1.4,1.4l-1.4,-1.4zM304.7,615.9l1.4,1.4l-1.4,1.4l-1.4,-1.4zM301.5,624.9l1.4,1.4l-1.4,1.4l-1.4,-1.4zM304.5,624.0l1.4,1.4l-1.4,1.4l-1.4,-1.4zM304.6,613.5l1.4,1.4l-1.4,1.4l-1.4,-1.4zM469.3,618.9l1.4,1.4l-1.4,1.4l-1.4,-1.4zM403.3,625.0l1.4,1.4l-1.4,1.4l-1.4,-1.4zM304.2,617.9l1.4,1.4l-1.4,1.4l-1.4,-1.4zM304.7,615.9l1.4,1.4l-1.4,1.4l-1.4,-1.4zM313.5,617.0l1.4,1.4l-1.4,1.4l-1.4,-1.4zM318.8,620.5l1.4,1.4l-1.4,1.4l-1.4,-1.4zM303.0,624.3l1.4,1.4l-1.4,1.4l-1.4,-1.4zM301.7,618.4l1.4,1.4l-1.4,1.4l-1.4,-1.4zM416.3,612.8l1.4,1.4l-1.4,1.4l-1.4,-1.4zM336.4,620.3l1.4,1.4l-1.4,1.4l-1.4,-1.4zM300.4,625.5l1.4,1.4l-1.4,1.4l-1.4,-1.4zM300.1,618.7l1.4,1.4l-1.4,1.4l-1.4,-1.4zM302.4,629.0l1.4,1.4l-1.4,1.4l-1.4,-1.4zM311.7,619.7l1.4,1.4l-1.4,1.4l-1.4,-1.4zM318.3,622.7l1.4,1.4l-1.4,1.4l-1.4,-1.4zM305.2,615.1l1.4,1.4l-1.4,1.4l-1.4,-1.4zM300.3,620.3l1.4,1.4l-1.4,1.4l-1.4,-1.4zM311.6,607.5l1.4,1.4l-1.4,1.4l-1.4,-1.4zM319.7,608.3l1.4,1.4l-1.4,1.4l-1.4,-1.4zM308.5,622.4l1.4,1.4l-1.4,1.4l-1.4,-1.4zM304.1,626.3l1.4,1.4l-1.4,1.4l-1.4,-1.4zM319.0,618.5l1.4,1.4l-1.4,1.4l-1.4,-1.4zM307.9,621.6l1.4,1.4l-1.4,1.4l-1.4,-1.4zM301.3,620.1l1.4,1.4l-1.4,1.4l-1.4,-1.4zM309.7,624.6l1.4,1.4l-1.4,1.4l-1.4,-1.4zM300.9,617.4l1.4,1.4l-1.4,1.4l-1.4,-1.4zM332.1,620.7l1.4,1.4l-1.4,1.4l-1.4,-1.4zM316.4,633.2l1.4,1.4l-1.4,1.4l-1.4,-1.4zM301.7,622.6l1.4,1.4l-1.4,1.4l-1.4,-1.4zM311.5,619.1l1.4,1.4l-1.4,1.4l-1.4,-1.4zM347.2,615.0l1.4,1.4l-1.4,1.4l-1.4,-1.4zM299.8,625.0l1.4,1.4l-1.4,1.4l-1.4,-1.4zM306.9,625.9l1.4,1.4l-1.4,1.4l-1.4,-1.4zM380.0,615.4l1.4,1.4l-1.4,1.4l-1.4,-1.4zM300.4,625.1l1.4,1.4l-1.4,1.4l-1.4,-1.4zM306.7,620.4l1.4,1.4l-1.4,1.4l-1.4,-1.4zM300.6,617.9l1.4,1.4l-1.4,1.4l-1.4,-1.4zM307.7,616.7l1.4,1.4l-1.4,1.4l-1.4,-1.4zM299.6,621.0l1.4,1.4l-1.4,1.4l-1.4,-1.4zM300.3,637.2l1.4,1.4l-1.4,1.4l-1.4,-1.4zM303.8,614.7l1.4,1.4l-1.4,1.4l-1.4,-1.4zM310.4,623.6l1.4,1.4l-1.4,1.4l-1.4,-1.4zM314.5,624.0l1.4,1.4l-1.4,1.4l-1.4,-1.4zM315.5,609.8l1.4,1.4l-1.4,1.4l-1.4,-1.4zM341.4,616.5l1.4,1.4l-1.4,1.4l-1.4,-1.4zM322.5,626.9l1.4,1.4l-1.4,1.4l-1.4,-1.4zM323.8,623.7l1.4,1.4l-1.4,1.4l-1.4,-1.4zM301.8,622.7l1.4,1.4l-1.4,1.4l-1.4,-1.4zM306.8,625.6l1.4,1.4l-1.4,1.4l-1.4,-1.4zM484.3,630.3l1.4,1.4l-1.4,1.4l-1.4,-1.4zM327.0,616.8l1.4,1.4l-1.4,1.4l-1.4,-1.4zM323.9,616.9l1.4,1.4l-1.4,1.4l-1.4,-1.4zM333.5,619.8l1.4,1.4l-1.4,1.4l-1.4,-1.4zM304.7,623.6l1.4,1.4l-1.4,1.4l-1.4,-1.4zM423.0,620.1l1.4,1.4l-1.4,1.4l-1.4,-1.4zM304.9,617.1l1.4,1.4l-1.4,1.4l-1.4,-1.4zM307.5,627.3l1.4,1.4l-1.4,1.4l-1.4,-1.4zM464.7,622.7l1.4,1.4l-1.4,1.4l-1.4,-1.4zM299.8,624.8l1.4,1.4l-1.4,1.4l-1.4,-1.4zM314.2,617.1l1.4,1.4l-1.4,1.4l-1.4,-1.4zM300.2,619.3l1.4,1.4l-1.4,1.4l-1.4,-1.4zM303.1,629.3l1.4,1.4l-1.4,1.4l-1.4,-1.4zM307.4,624.8l1.4,1.4l-1.4,1.4l-1.4,-1.4zM305.0,610.2l1.4,1.4l-1.4,1.4l-1.4,-1.4zM310.9,626.7l1.4,1.4l-1.4,1.4l-1.4,-1.4zM302.6,620.1l1.4,1.4l-1.4,1.4l-1.4,-1.4zM307.3,624.9l1.4,1.4l-1.4,1.4l-1.4,-1.4zM301.1,612.9l1.4,1.4l-1.4,1.4l-1.4,-1.4zM304.8,621.5l1.4,1.4l-1.4,1.4l-1.4,-1.4zM300.7,624.0l1.4,1.4l-1.4,1.4l-1.4,-1.4zM321.4,627.5l1.4,1.4l-1.4,1.4l-1.4,-1.4zM300.9,622.7l1.4,1.4l-1.4,1.4l-1.4,-1.4zM322.6,616.6l1.4,1.4l-1.4,1.4l-1.4,-1.4zM304.6,616.9l1.4,1.4l-1.4,1.4l-1.4,-1.4zM305.4,629.2l1.4,1.4l-1.4,1.4l-1.4,-1.4zM343.9,613.1l1.4,1.4l-1.4,1.4l-1.4,-1.4zM309.9,622.6l1.4,1.4l-1.4,1.4l-1.4,-1.4zM299.9,628.2l1.4,1.4l-1.4,1.4l-1.4,-1.4zM317.3,620.4l1.4,1.4l-1.4,1.4l-1.4,-1.4zM299.4,625.3l1.4,1.4l-1.4,1.4l-1.4,-1.4zM312.5,624.4l1.4,1.4l-1.4,1.4l-1.4,-1.4zM304.7,625.0l1.4,1.4l-1.4,1.4l-1.4,-1.4zM300.6,621.7l1.4,1.4l-1.4,1.4l-1.4,-1.4zM309.5,624.1l1.4,1.4l-1.4,1.4l-1.4,-1.4zM305.4,631.6l1.4,1.4l-1.4,1.4l-1.4,-1.4zM434.1,618.6l1.4,1.4l-1.4,1.4l-1.4,-1.4zM304.4,624.4l1.4,1.4l-1.4,1.4l-1.4,-1.4zM423.3,615.3l1.4,1.4l-1.4,1.4l-1.4,-1.4zM358.1,618.4l1.4,1.4l-1.4,1.4l-1.4,-1.4zM303.3,617.2l1.4,1.4l-1.4,1.4l-1.4,-1.4zM302.3,620.0l1.4,1.4l-1.4,1.4l-1.4,-1.4zM353.5,614.6l1.4,1.4l-1.4,1.4l-1.4,-1.4zM307.0,623.1l1.4,1.4l-1.4,1.4l-1.4,-1.4zM310.7,626.9l1.4,1.4l-1.4,1.4l-1.4,-1.4zM305.8,619.0l1.4,1.4l-1.4,1.4l-1.4,-1.4zM301.0,638.9l1.4,1.4l-1.4,1.4l-1.4,-1.4zM304.9,623.4l1.4,1.4l-1.4,1.4l-1.4,-1.4zM301.8,619.8l1.4,1.4l-1.4,1.4l-1.4,-1.4zM300.4,623.9l1.4,1.4l-1.4,1.4l-1.4,-1.4zM305.5,613.5l1.4,1.4l-1.4,1.4l-1.4,-1.4zM400.6,617.7l1.4,1.4l-1.4,1.4l-1.4,-1.4zM380.2,620.6l1.4,1.4l-1.4,1.4l-1.4,-1.4zM307.8,623.5l1.4,1.4l-1.4,1.4l-1.4,-1.4zM310.4,614.8l1.4,1.4l-1.4,1.4l-1.4,-1.4zM317.7,624.9l1.4,1.4l-1.4,1.4l-1.4,-1.4zM356.7,623.3l1.4,1.4l-1.4,1.4l-1.4,-1.4zM313.5,616.9l1.4,1.4l-1.4,1.4l-1.4,-1.4zM304.1,617.4l1.4,1.4l-1.4,1.4l-1.4,-1.4zM304.7,593.5l1.4,1.4l-1.4,1.4l-1.4,-1.4zM341.7,622.3l1.4,1.4l-1.4,1.4l-1.4,-1.4zM303.2,633.0l1.4,1.4l-1.4,1.4l-1.4,-1.4zM299.8,616.7l1.4,1.4l-1.4,1.4l-1.4,-1.4zM326.8,614.5l1.4,1.4l-1.4,1.4l-1.4,-1.4zM307.6,622.1l1.4,1.4l-1.4,1.4l-1.4,-1.4zM310.4,612.1l1.4,1.4l-1.4,1.4l-1.4,-1.4zM348.2,612.1l1.4,1.4l-1.4,1.4l-1.4,-1.4zM309.4,625.1l1.4,1.4l-1.4,1.4l-1.4,-1.4zM300.8,624.3l1.4,1.4l-1.4,1.4l-1.4,-1.4zM299.9,629.5l1.4,1.4l-1.4,1.4l-1.4,-1.4zM307.9,617.9l1.4,1.4l-1.4,1.4l-1.4,-1.4zM301.2,616.5l1.4,1.4l-1.4,1.4l-1.4,-1.4zM312.9,617.7l1.4,1.4l-1.4,1.4l-1.4,-1.4zM300.9,629.2l1.4,1.4l-1.4,1.4l-1.4,-1.4zM305.0,625.8l1.4,1.4l-1.4,1.4l-1.4,-1.4zM300.5,630.6l1.4,1.4l-1.4,1.4l-1.4,-1.4zM304.9,631.1l1.4,1.4l-1.4,1.4l-1.4,-1.4zM304.3,629.5l1.4,1.4l-1.4,1.4l-1.4,-1.4zM319.9,629.8l1.4,1.4l-1.4,1.4l-1.4,-1.4zM355.9,622.1l1.4,1.4l-1.4,1.4l-1.4,-1.4zM306.5,618.6l1.4,1.4l-1.4,1.4l-1.4,-1.4zM302.1,617.2l1.4,1.4l-1.4,1.4l-1.4,-1.4zM428.7,621.3l1.4,1.4l-1.4,1.4l-1.4,-1.4zM314.4,625.0l1.4,1.4l-1.4,1.4l-1.4,-1.4zM320.4,621.2l1.4,1.4l-1.4,1.4l-1.4,-1.4zM320.4,618.1l1.4,1.4l-1.4,1.4l-1.4,-1.4zM365.3,624.4l1.4,1.4l-1.4,1.4l-1.4,-1.4zM335.5,620.9l1.4,1.4l-1.4,1.4l-1.4,-1.4zM322.4,622.8l1.4,1.4l-1.4,1.4l-1.4,-1.4zM325.4,624.0l1.4,1.4l-1.4,1.4l-1.4,-1.4zM302.1,621.0l1.4,1.4l-1.4,1.4l-1.4,-1.4zM303.3,628.2l1.4,1.4l-1.4,1.4l-1.4,-1.4zM307.3,614.9l1.4,1.4l-1.4,1.4l-1.4,-1.4zM309.8,630.3l1.4,1.4l-1.4,1.4l-1.4,-1.4zM308.8,618.5l1.4,1.4l-1.4,1.4l-1.4,-1.4zM313.4,628.9l1.4,1.4l-1.4,1.4l-1.4,-1.4zM308.9,612.3l1.4,1.4l-1.4,1.4l-1.4,-1.4zM304.5,615.8l1.4,1.4l-1.4,1.4l-1.4,-1.4zM300.3,626.6l1.4,1.4l-1.4,1.4l-1.4,-1.4zM328.0,623.6l1.4,1.4l-1.4,1.4l-1.4,-1.4zM319.8,627.4l1.4,1.4l-1.4,1.4l-1.4,-1.4zM302.1,621.6l1.4,1.4l-1.4,1.4l-1.4,-1.4zM317.5,618.9l1.4,1.4l-1.4,1.4l-1.4,-1.4zM315.1,606.9l1.4,1.4l-1.4,1.4l-1.4,-1.4zM309.5,629.2l1.4,1.4l-1.4,1.4l-1.4,-1.4zM300.0,612.9l1.4,1.4l-1.4,1.4l-1.4,-1.4zM301.0,625.0l1.4,1.4l-1.4,1.4l-1.4,-1.4zM303.4,619.5l1.4,1.4l-1.4,1.4l-1.4,-1.4zM381.5,616.9l1.4,1.4l-1.4,1.4l-1.4,-1.4zM302.1,617.7l1.4,1.4l-1.4,1.4l-1.4,-1.4zM305.1,618.6l1.4,1.4l-1.4,1.4l-1.4,-1.4zM301.3,622.5l1.4,1.4l-1.4,1.4l-1.4,-1.4zM304.0,621.3l1.4,1.4l-1.4,1.4l-1.4,-1.4zM314.0,620.3l1.4,1.4l-1.4,1.4l-1.4,-1.4zM299.8,613.2l1.4,1.4l-1.4,1.4l-1.4,-1.4zM299.4,631.1l1.4,1.4l-1.4,1.4l-1.4,-1.4zM322.0,623.9l1.4,1.4l-1.4,1.4l-1.4,-1.4zM309.0,628.5l1.4,1.4l-1.4,1.4l-1.4,-1.4zM303.3,627.2l1.4,1.4l-1.4,1.4l-1.4,-1.4zM333.7,625.4l1.4,1.4l-1.4,1.4l-1.4,-1.4zM333.8,615.5l1.4,1.4l-1.4,1.4l-1.4,-1.4zM299.8,606.9l1.4,1.4l-1.4,1.4l-1.4,-1.4zM306.7,613.1l1.4,1.4l-1.4,1.4l-1.4,-1.4zM340.9,627.3l1.4,1.4l-1.4,1.4l-1.4,-1.4zM303.0,620.7l1.4,1.4l-1.4,1.4l-1.4,-1.4zM305.3,628.1l1.4,1.4l-1.4,1.4l-1.4,-1.4zM333.0,618.9l1.4,1.4l-1.4,1.4l-1.4,-1.4zM305.7,613.5l1.4,1.4l-1.4,1.4l-1.4,-1.4zM301.1,617.4l1.4,1.4l-1.4,1.4l-1.4,-1.4zM302.9,615.7l1.4,1.4l-1.4,1.4l-1.4,-1.4zM300.8,622.2l1.4,1.4l-1.4,1.4l-1.4,-1.4zM318.9,632.0l1.4,1.4l-1.4,1.4l-1.4,-1.4zM300.1,634.3l1.4,1.4l-1.4,1.4l-1.4,-1.4zM335.3,621.7l1.4,1.4l-1.4,1.4l-1.4,-1.4zM300.2,617.4l1.4,1.4l-1.4,1.4l-1.4,-1.4zM309.1,613.8l1.4,1.4l-1.4,1.4l-1.4,-1.4zM300.5,623.5l1.4,1.4l-1.4,1.4l-1.4,-1.4zM305.3,620.8l1.4,1.4l-1.4,1.4l-1.4,-1.4zM336.3,619.9l1.4,1.4l-1.4,1.4l-1.4,-1.4zM341.7,615.8l1.4,1.4l-1.4,1.4l-1.4,-1.4zM353.5,621.6l1.4,1.4l-1.4,1.4l-1.4,-1.4zM307.5,627.7l1.4,1.4l-1.4,1.4l-1.4,-1.4zM310.0,614.9l1.4,1.4l-1.4,1.4l-1.4,-1.4zM312.0,618.9l1.4,1.4l-1.4,1.4l-1.4,-1.4zM320.7,619.1l1.4,1.4l-1.4,1.4l-1.4,-1.4zM304.7,629.0l1.4,1.4l-1.4,1.4l-1.4,-1.4zM340.5,621.2l1.4,1.4l-1.4,1.4l-1.4,-1.4zM313.7,630.9l1.4,1.4l-1.4,1.4l-1.4,-1.4zM343.0,631.5l1.4,1.4l-1.4,1.4l-1.4,-1.4zM317.0,622.5l1.4,1.4l-1.4,1.4l-1.4,-1.4zM322.5,623.6l1.4,1.4l-1.4,1.4l-1.4,-1.4zM302.7,617.6l1.4,1.4l-1.4,1.4l-1.4,-1.4zM304.5,612.4l1.4,1.4l-1.4,1.4l-1.4,-1.4zM300.8,621.4l1.4,1.4l-1.4,1.4l-1.4,-1.4zM305.5,597.4l1.4,1.4l-1.4,1.4l-1.4,-1.4zM306.6,624.7l1.4,1.4l-1.4,1.4l-1.4,-1.4zM328.1,617.2l1.4,1.4l-1.4,1.4l-1.4,-1.4zM300.9,629.5l1.4,1.4l-1.4,1.4l-1.4,-1.4zM307.1,620.5l1.4,1.4l-1.4,1.4l-1.4,-1.4zM350.3,622.8l1.4,1.4l-1.4,1.4l-1.4,-1.4zM337.2,622.3l1.4,1.4l-1.4,1.4l-1.4,-1.4zM299.5,617.3l1.4,1.4l-1.4,1.4l-1.4,-1.4zM305.8,632.6l1.4,1.4l-1.4,1.4l-1.4,-1.4zM367.5,620.6l1.4,1.4l-1.4,1.4l-1.4,-1.4zM299.6,626.6l1.4,1.4l-1.4,1.4l-1.4,-1.4zM325.6,620.6l1.4,1.4l-1.4,1.4l-1.4,-1.4zM301.9,618.7l1.4,1.4l-1.4,1.4l-1.4,-1.4zM304.2,623.5l1.4,1.4l-1.4,1.4l-1.4,-1.4zM311.8,625.9l1.4,1.4l-1.4,1.4l-1.4,-1.4zM300.0,628.9l1.4,1.4l-1.4,1.4l-1.4,-1.4zM311.4,618.1l1.4,1.4l-1.4,1.4l-1.4,-1.4zM303.1,625.4l1.4,1.4l-1.4,1.4l-1.4,-1.4zM302.6,618.4l1.4,1.4l-1.4,1.4l-1.4,-1.4zM323.3,628.9l1.4,1.4l-1.4,1.4l-1.4,-1.4zM314.0,613.5l1.4,1.4l-1.4,1.4l-1.4,-1.4zM318.9,626.8l1.4,1.4l-1.4,1.4l-1.4,-1.4zM307.9,614.4l1.4,1.4l-1.4,1.4l-1.4,-1.4zM302.7,624.0l1.4,1.4l-1.4,1.4l-1.4,-1.4zM312.4,618.1l1.4,1.4l-1.4,1.4l-1.4,-1.4zM371.7,621.9l1.4,1.4l-1.4,1.4l-1.4,-1.4zM311.2,617.3l1.4,1.4l-1.4,1.4l-1.4,-1.4zM330.2,621.2l1.4,1.4l-1.4,1.4l-1.4,-1.4zM306.1,613.6l1.4,1.4l-1.4,1.4l-1.4,-1.4zM300.2,616.8l1.4,1.4l-1.4,1.4l-1.4,-1.4zM319.7,617.5l1.4,1.4l-1.4,1.4l-1.4,-1.4zM318.6,612.1l1.4,1.4l-1.4,1.4l-1.4,-1.4zM312.5,625.2l1.4,1.4l-1.4,1.4l-1.4,-1.4zM301.3,612.8l1.4,1.4l-1.4,1.4l-1.4,-1.4zM301.2,620.7l1.4,1.4l-1.4,1.4l-1.4,-1.4zM306.0,630.1l1.4,1.4l-1.4,1.4l-1.4,-1.4zM309.8,618.4l1.4,1.4l-1.4,1.4l-1.4,-1.4zM301.0,622.5l1.4,1.4l-1.4,1.4l-1.4,-1.4zM301.4,610.3l1.4,1.4l-1.4,1.4l-1.4,-1.4zM319.0,623.9l1.4,1.4l-1.4,1.4l-1.4,-1.4zM336.6,621.0l1.4,1.4l-1.4,1.4l-1.4,-1.4zM303.5,619.8l1.4,1.4l-1.4,1.4l-1.4,-1.4zM302.8,633.2l1.4,1.4l-1.4,1.4l-1.4,-1.4zM302.7,618.0l1.4,1.4l-1.4,1.4l-1.4,-1.4zM317.1,626.7l1.4,1.4l-1.4,1.4l-1.4,-1.4zM307.7,612.9l1.4,1.4l-1.4,1.4l-1.4,-1.4zM335.2,612.6l1.4,1.4l-1.4,1.4l-1.4,-1.4zM504.3,621.2l1.4,1.4l-1.4,1.4l-1.4,-1.4zM344.1,629.3l1.4,1.4l-1.4,1.4l-1.4,-1.4zM300.5,620.0l1.4,1.4l-1.4,1.4l-1.4,-1.4zM307.4,620.2l1.4,1.4l-1.4,1.4l-1.4,-1.4zM304.5,616.8l1.4,1.4l-1.4,1.4l-1.4,-1.4zM305.0,623.0l1.4,1.4l-1.4,1.4l-1.4,-1.4zM301.0,628.9l1.4,1.4l-1.4,1.4l-1.4,-1.4zM304.6,622.1l1.4,1.4l-1.4,1.4l-1.4,-1.4zM301.3,627.2l1.4,1.4l-1.4,1.4l-1.4,-1.4zM313.8,611.2l1.4,1.4l-1.4,1.4l-1.4,-1.4zM309.0,625.3l1.4,1.4l-1.4,1.4l-1.4,-1.4zM300.6,625.5l1.4,1.4l-1.4,1.4l-1.4,-1.4zM300.1,621.5l1.4,1.4l-1.4,1.4l-1.4,-1.4zM304.0,628.9l1.4,1.4l-1.4,1.4l-1.4,-1.4zM321.4,623.6l1.4,1.4l-1.4,1.4l-1.4,-1.4zM317.1,622.0l1.4,1.4l-1.4,1.4l-1.4,-1.4zM307.6,624.1l1.4,1.4l-1.4,1.4l-1.4,-1.4zM299.3,622.9l1.4,1.4l-1.4,1.4l-1.4,-1.4zM303.9,613.5l1.4,1.4l-1.4,1.4l-1.4,-1.4zM302.6,618.5l1.4,1.4l-1.4,1.4l-1.4,-1.4zM305.0,629.3l1.4,1.4l-1.4,1.4l-1.4,-1.4zM301.0,624.0l1.4,1.4l-1.4,1.4l-1.4,-1.4zM304.3,616.6l1.4,1.4l-1.4,1.4l-1.4,-1.4zM302.9,625.3l1.4,1.4l-1.4,1.4l-1.4,-1.4zM323.0,620.8l1.4,1.4l-1.4,1.4l-1.4,-1.4zM306.3,621.4l1.4,1.4l-1.4,1.4l-1.4,-1.4zM307.8,618.1l1.4,1.4l-1.4,1.4l-1.4,-1.4zM307.0,622.3l1.4,1.4l-1.4,1.4l-1.4,-1.4zM311.0,622.0l1.4,1.4l-1.4,1.4l-1.4,-1.4zM304.5,632.8l1.4,1.4l-1.4,1.4l-1.4,-1.4zM308.2,619.1l1.4,1.4l-1.4,1.4l-1.4,-1.4zM336.0,626.0l1.4,1.4l-1.4,1.4l-1.4,-1.4zM327.5,612.1l1.4,1.4l-1.4,1.4l-1.4,-1.4zM313.1,621.3l1.4,1.4l-1.4,1.4l-1.4,-1.4zM354.9,622.3l1.4,1.4l-1.4,1.4l-1.4,-1.4zM311.6,616.7l1.4,1.4l-1.4,1.4l-1.4,-1.4zM301.6,621.8l1.4,1.4l-1.4,1.4l-1.4,-1.4zM300.1,620.6l1.4,1.4l-1.4,1.4l-1.4,-1.4zM302.8,621.5l1.4,1.4l-1.4,1.4l-1.4,-1.4zM307.6,625.5l1.4,1.4l-1.4,1.4l-1.4,-1.4zM314.9,626.3l1.4,1.4l-1.4,1.4l-1.4,-1.4zM338.7,624.8l1.4,1.4l-1.4,1.4l-1.4,-1.4zM303.4,614.2l1.4,1.4l-1.4,1.4l-1.4,-1.4zM302.3,625.2l1.4,1.4l-1.4,1.4l-1.4,-1.4zM325.3,623.4l1.4,1.4l-1.4,1.4l-1.4,-1.4zM344.4,623.5l1.4,1.4l-1.4,1.4l-1.4,-1.4zM304.0,616.9l1.4,1.4l-1.4,1.4l-1.4,-1.4zM313.7,610.1l1.4,1.4l-1.4,1.4l-1.4,-1.4zM358.3,625.8l1.4,1.4l-1.4,1.4l-1.4,-1.4zM313.4,618.1l1.4,1.4l-1.4,1.4l-1.4,-1.4zM307.7,620.5l1.4,1.4l-1.4,1.4l-1.4,-1.4zM299.8,623.2l1.4,1.4l-1.4,1.4l-1.4,-1.4zM354.4,618.7l1.4,1.4l-1.4,1.4l-1.4,-1.4zM321.1,628.1l1.4,1.4l-1.4,1.4l-1.4,-1.4zM310.1,616.4l1.4,1.4l-1.4,1.4l-1.4,-1.4zM304.1,619.8l1.4,1.4l-1.4,1.4l-1.4,-1.4zM300.9,627.7l1.4,1.4l-1.4,1.4l-1.4,-1.4zM307.2,611.8l1.4,1.4l-1.4,1.4l-1.4,-1.4zM307.1,616.2l1.4,1.4l-1.4,1.4l-1.4,-1.4zM339.8,615.3l1.4,1.4l-1.4,1.4l-1.4,-1.4zM301.0,630.6l1.4,1.4l-1.4,1.4l-1.4,-1.4zM363.8,622.6l1.4,1.4l-1.4,1.4l-1.4,-1.4zM308.8,624.3l1.4,1.4l-1.4,1.4l-1.4,-1.4zM345.0,618.0l1.4,1.4l-1.4,1.4l-1.4,-1.4zM301.7,612.5l1.4,1.4l-1.4,1.4l-1.4,-1.4zM313.9,631.9l1.4,1.4l-1.4,1.4l-1.4,-1.4zM347.1,621.1l1.4,1.4l-1.4,1.4l-1.4,-1.4zM309.9,621.9l1.4,1.4l-1.4,1.4l-1.4,-1.4zM300.5,614.7l1.4,1.4l-1.4,1.4l-1.4,-1.4zM305.1,621.5l1.4,1.4l-1.4,1.4l-1.4,-1.4zM318.1,628.2l1.4,1.4l-1.4,1.4l-1.4,-1.4zM300.6,622.5l1.4,1.4l-1.4,1.4l-1.4,-1.4zM300.5,628.0l1.4,1.4l-1.4,1.4l-1.4,-1.4zM311.8,625.6l1.4,1.4l-1.4,1.4l-1.4,-1.4zM301.7,620.9l1.4,1.4l-1.4,1.4l-1.4,-1.4zM322.3,623.8l1.4,1.4l-1.4,1.4l-1.4,-1.4zM301.1,619.4l1.4,1.4l-1.4,1.4l-1.4,-1.4zM300.0,631.2l1.4,1.4l-1.4,1.4l-1.4,-1.4zM302.4,606.6l1.4,1.4l-1.4,1.4l-1.4,-1.4zM368.4,615.0l1.4,1.4l-1.4,1.4l-1.4,-1.4zM302.1,616.7l1.4,1.4l-1.4,1.4l-1.4,-1.4zM308.3,628.8l1.4,1.4l-1.4,1.4l-1.4,-1.4zM312.0,633.4l1.4,1.4l-1.4,1.4l-1.4,-1.4zM301.7,626.7l1.4,1.4l-1.4,1.4l-1.4,-1.4zM339.4,622.4l1.4,1.4l-1.4,1.4l-1.4,-1.4zM310.9,608.4l1.4,1.4l-1.4,1.4l-1.4,-1.4zM316.0,614.0l1.4,1.4l-1.4,1.4l-1.4,-1.4zM300.1,624.7l1.4,1.4l-1.4,1.4l-1.4,-1.4zM300.1,613.2l1.4,1.4l-1.4,1.4l-1.4,-1.4zM299.4,613.0l1.4,1.4l-1.4,1.4l-1.4,-1.4zM306.3,621.1l1.4,1.4l-1.4,1.4l-1.4,-1.4zM305.9,613.9l1.4,1.4l-1.4,1.4l-1.4,-1.4zM323.7,619.4l1.4,1.4l-1.4,1.4l-1.4,-1.4zM367.8,624.4l1.4,1.4l-1.4,1.4l-1.4,-1.4zM305.7,628.3l1.4,1.4l-1.4,1.4l-1.4,-1.4zM305.6,621.9l1.4,1.4l-1.4,1.4l-1.4,-1.4zM316.1,615.7l1.4,1.4l-1.4,1.4l-1.4,-1.4zM372.0,627.9l1.4,1.4l-1.4,1.4l-1.4,-1.4zM302.2,631.4l1.4,1.4l-1.4,1.4l-1.4,-1.4zM320.7,618.2l1.4,1.4l-1.4,1.4l-1.4,-1.4zM305.8,637.5l1.4,1.4l-1.4,1.4l-1.4,-1.4zM305.1,610.1l1.4,1.4l-1.4,1.4l-1.4,-1.4zM326.9,623.5l1.4,1.4l-1.4,1.4l-1.4,-1.4zM302.4,616.6l1.4,1.4l-1.4,1.4l-1.4,-1.4zM301.4,609.3l1.4,1.4l-1.4,1.4l-1.4,-1.4zM321.9,629.0l1.4,1.4l-1.4,1.4l-1.4,-1.4zM308.1,627.4l1.4,1.4l-1.4,1.4l-1.4,-1.4zM305.7,607.7l1.4,1.4l-1.4,1.4l-1.4,-1.4zM306.9,622.9l1.4,1.4l-1.4,1.4l-1.4,-1.4zM317.2,621.9l1.4,1.4l-1.4,1.4l-1.4,-1.4zM304.8,619.8l1.4,1.4l-1.4,1.4l-1.4,-1.4zM325.2,615.6l1.4,1.4l-1.4,1.4l-1.4,-1.4zM315.3,613.9l1.4,1.4l-1.4,1.4l-1.4,-1.4zM367.6,620.7l1.4,1.4l-1.4,1.4l-1.4,-1.4zM350.2,622.9l1.4,1.4l-1.4,1.4l-1.4,-1.4zM328.6,621.4l1.4,1.4l-1.4,1.4l-1.4,-1.4zM306.2,619.4l1.4,1.4l-1.4,1.4l-1.4,-1.4zM310.0,613.7l1.4,1.4l-1.4,1.4l-1.4,-1.4zM303.3,620.4l1.4,1.4l-1.4,1.4l-1.4,-1.4zM306.0,610.3l1.4,1.4l-1.4,1.4l-1.4,-1.4zM318.8,625.9l1.4,1.4l-1.4,1.4l-1.4,-1.4zM357.2,618.6l1.4,1.4l-1.4,1.4l-1.4,-1.4zM300.7,609.8l1.4,1.4l-1.4,1.4l-1.4,-1.4zM302.2,613.1l1.4,1.4l-1.4,1.4l-1.4,-1.4zM304.6,619.2l1.4,1.4l-1.4,1.4l-1.4,-1.4zM301.6,626.9l1.4,1.4l-1.4,1.4l-1.4,-1.4zM300.9,631.4l1.4,1.4l-1.4,1.4l-1.4,-1.4zM303.8,622.2l1.4,1.4l-1.4,1.4l-1.4,-1.4zM352.3,619.6l1.4,1.4l-1.4,1.4l-1.4,-1.4zM323.8,622.5l1.4,1.4l-1.4,1.4l-1.4,-1.4zM308.9,629.7l1.4,1.4l-1.4,1.4l-1.4,-1.4zM308.8,625.5l1.4,1.4l-1.4,1.4l-1.4,-1.4zM300.2,617.8l1.4,1.4l-1.4,1.4l-1.4,-1.4zM322.9,611.4l1.4,1.4l-1.4,1.4l-1.4,-1.4zM315.7,629.0l1.4,1.4l-1.4,1.4l-1.4,-1.4zM301.4,623.5l1.4,1.4l-1.4,1.4l-1.4,-1.4zM311.5,630.7l1.4,1.4l-1.4,1.4l-1.4,-1.4zM306.4,624.6l1.4,1.4l-1.4,1.4l-1.4,-1.4zM303.8,584.1l1.4,1.4l-1.4,1.4l-1.4,-1.4zM301.6,620.8l1.4,1.4l-1.4,1.4l-1.4,-1.4zM302.9,623.4l1.4,1.4l-1.4,1.4l-1.4,-1.4zM301.8,625.0l1.4,1.4l-1.4,1.4l-1.4,-1.4zM316.5,635.9l1.4,1.4l-1.4,1.4l-1.4,-1.4zM314.4,631.6l1.4,1.4l-1.4,1.4l-1.4,-1.4zM313.6,621.4l1.4,1.4l-1.4,1.4l-1.4,-1.4zM306.5,622.9l1.4,1.4l-1.4,1.4l-1.4,-1.4zM304.6,612.2l1.4,1.4l-1.4,1.4l-1.4,-1.4zM445.7,629.0l1.4,1.4l-1.4,1.4l-1.4,-1.4zM300.0,618.3l1.4,1.4l-1.4,1.4l-1.4,-1.4zM346.0,614.4l1.4,1.4l-1.4,1.4l-1.4,-1.4zM314.2,632.1l1.4,1.4l-1.4,1.4l-1.4,-1.4zM309.4,617.4l1.4,1.4l-1.4,1.4l-1.4,-1.4zM303.9,631.1l1.4,1.4l-1.4,1.4l-1.4,-1.4zM306.1,618.1l1.4,1.4l-1.4,1.4l-1.4,-1.4zM301.1,611.7l1.4,1.4l-1.4,1.4l-1.4,-1.4zM300.6,621.2l1.4,1.4l-1.4,1.4l-1.4,-1.4zM307.2,619.5l1.4,1.4l-1.4,1.4l-1.4,-1.4zM300.2,625.8l1.4,1.4l-1.4,1.4l-1.4,-1.4zM328.1,619.7l1.4,1.4l-1.4,1.4l-1.4,-1.4zM341.1,615.4l1.4,1.4l-1.4,1.4l-1.4,-1.4zM299.3,622.4l1.4,1.4l-1.4,1.4l-1.4,-1.4zM300.3,622.1l1.4,1.4l-1.4,1.4l-1.4,-1.4zM312.6,619.0l1.4,1.4l-1.4,1.4l-1.4,-1.4zM311.6,616.5l1.4,1.4l-1.4,1.4l-1.4,-1.4zM310.0,630.6l1.4,1.4l-1.4,1.4l-1.4,-1.4zM315.7,620.9l1.4,1.4l-1.4,1.4l-1.4,-1.4zM324.7,624.8l1.4,1.4l-1.4,1.4l-1.4,-1.4zM329.2,618.6l1.4,1.4l-1.4,1.4l-1.4,-1.4zM403.7,616.2l1.4,1.4l-1.4,1.4l-1.4,-1.4zM308.9,619.4l1.4,1.4l-1.4,1.4l-1.4,-1.4zM329.1,614.4l1.4,1.4l-1.4,1.4l-1.4,-1.4zM300.2,627.7l1.4,1.4l-1.4,1.4l-1.4,-1.4zM307.0,623.6l1.4,1.4l-1.4,1.4l-1.4,-1.4zM301.0,627.6l1.4,1.4l-1.4,1.4l-1.4,-1.4zM360.5,620.9l1.4,1.4l-1.4,1.4l-1.4,-1.4zM517.8,620.8l1.4,1.4l-1.4,1.4l-1.4,-1.4zM318.6,622.3l1.4,1.4l-1.4,1.4l-1.4,-1.4zM300.8,629.1l1.4,1.4l-1.4,1.4l-1.4,-1.4zM307.2,621.7l1.4,1.4l-1.4,1.4l-1.4,-1.4zM308.9,623.7l1.4,1.4l-1.4,1.4l-1.4,-1.4zM311.4,617.8l1.4,1.4l-1.4,1.4l-1.4,-1.4zM339.9,622.6l1.4,1.4l-1.4,1.4l-1.4,-1.4zM333.1,615.2l1.4,1.4l-1.4,1.4l-1.4,-1.4zM299.5,619.7l1.4,1.4l-1.4,1.4l-1.4,-1.4zM358.5,641.5l1.4,1.4l-1.4,1.4l-1.4,-1.4zM304.0,622.3l1.4,1.4l-1.4,1.4l-1.4,-1.4zM303.6,630.1l1.4,1.4l-1.4,1.4l-1.4,-1.4zM362.7,616.4l1.4,1.4l-1.4,1.4l-1.4,-1.4zM305.7,612.6l1.4,1.4l-1.4,1.4l-1.4,-1.4zM300.7,621.4l1.4,1.4l-1.4,1.4l-1.4,-1.4zM300.8,618.3l1.4,1.4l-1.4,1.4l-1.4,-1.4zM309.3,629.6l1.4,1.4l-1.4,1.4l-1.4,-1.4zM331.1,632.9l1.4,1.4l-1.4,1.4l-1.4,-1.4zM370.4,623.9l1.4,1.4l-1.4,1.4l-1.4,-1.4zM306.7,622.7l1.4,1.4l-1.4,1.4l-1.4,-1.4zM304.2,630.5l1.4,1.4l-1.4,1.4l-1.4,-1.4zM383.1,620.8l1.4,1.4l-1.4,1.4l-1.4,-1.4zM304.3,619.3l1.4,1.4l-1.4,1.4l-1.4,-1.4zM366.4,614.2l1.4,1.4l-1.4,1.4l-1.4,-1.4zM312.1,612.4l1.4,1.4l-1.4,1.4l-1.4,-1.4zM312.1,616.6l1.4,1.4l-1.4,1.4l-1.4,-1.4zM306.0,623.4l1.4,1.4l-1.4,1.4l-1.4,-1.4zM313.2,620.6l1.4,1.4l-1.4,1.4l-1.4,-1.4zM304.2,617.5l1.4,1.4l-1.4,1.4l-1.4,-1.4zM303.0,627.7l1.4,1.4l-1.4,1.4l-1.4,-1.4zM307.0,613.3l1.4,1.4l-1.4,1.4l-1.4,-1.4zM303.1,615.6l1.4,1.4l-1.4,1.4l-1.4,-1.4zM313.4,622.5l1.4,1.4l-1.4,1.4l-1.4,-1.4zM309.7,624.9l1.4,1.4l-1.4,1.4l-1.4,-1.4zM305.8,598.3l1.4,1.4l-1.4,1.4l-1.4,-1.4zM306.4,616.2l1.4,1.4l-1.4,1.4l-1.4,-1.4zM306.1,615.6l1.4,1.4l-1.4,1.4l-1.4,-1.4zM397.5,612.5l1.4,1.4l-1.4,1.4l-1.4,-1.4zM308.5,615.5l1.4,1.4l-1.4,1.4l-1.4,-1.4zM303.4,619.9l1.4,1.4l-1.4,1.4l-1.4,-1.4zM305.5,611.8l1.4,1.4l-1.4,1.4l-1.4,-1.4zM322.2,626.1l1.4,1.4l-1.4,1.4l-1.4,-1.4zM306.4,616.9l1.4,1.4l-1.4,1.4l-1.4,-1.4zM306.9,641.3l1.4,1.4l-1.4,1.4l-1.4,-1.4zM305.8,618.6l1.4,1.4l-1.4,1.4l-1.4,-1.4zM310.9,618.0l1.4,1.4l-1.4,1.4l-1.4,-1.4zM315.1,629.9l1.4,1.4l-1.4,1.4l-1.4,-1.4zM316.3,610.6l1.4,1.4l-1.4,1.4l-1.4,-1.4zM300.2,628.7l1.4,1.4l-1.4,1.4l-1.4,-1.4zM301.4,614.4l1.4,1.4l-1.4,1.4l-1.4,-1.4zM299.5,624.7l1.4,1.4l-1.4,1.4l-1.4,-1.4zM326.9,619.5l1.4,1.4l-1.4,1.4l-1.4,-1.4zM341.1,624.5l1.4,1.4l-1.4,1.4l-1.4,-1.4zM353.4,608.7l1.4,1.4l-1.4,1.4l-1.4,-1.4zM310.6,615.2l1.4,1.4l-1.4,1.4l-1.4,-1.4zM343.4,612.0l1.4,1.4l-1.4,1.4l-1.4,-1.4zM308.1,616.5l1.4,1.4l-1.4,1.4l-1.4,-1.4zM307.2,617.0l1.4,1.4l-1.4,1.4l-1.4,-1.4zM300.4,620.1l1.4,1.4l-1.4,1.4l-1.4,-1.4zM302.5,622.6l1.4,1.4l-1.4,1.4l-1.4,-1.4zM303.4,617.3l1.4,1.4l-1.4,1.4l-1.4,-1.4zM331.6,620.3l1.4,1.4l-1.4,1.4l-1.4,-1.4zM387.1,621.9l1.4,1.4l-1.4,1.4l-1.4,-1.4zM304.2,629.6l1.4,1.4l-1.4,1.4l-1.4,-1.4zM314.7,622.8l1.4,1.4l-1.4,1.4l-1.4,-1.4zM312.8,617.7l1.4,1.4l-1.4,1.4l-1.4,-1.4zM302.5,624.1l1.4,1.4l-1.4,1.4l-1.4,-1.4zM300.1,618.8l1.4,1.4l-1.4,1.4l-1.4,-1.4zM302.6,622.0l1.4,1.4l-1.4,1.4l-1.4,-1.4zM300.5,627.8l1.4,1.4l-1.4,1.4l-1.4,-1.4zM305.3,626.6l1.4,1.4l-1.4,1.4l-1.4,-1.4zM306.9,625.5l1.4,1.4l-1.4,1.4l-1.4,-1.4zM306.5,622.8l1.4,1.4l-1.4,1.4l-1.4,-1.4zM306.7,622.6l1.4,1.4l-1.4,1.4l-1.4,-1.4zM317.2,614.9l1.4,1.4l-1.4,1.4l-1.4,-1.4zM301.9,628.0l1.4,1.4l-1.4,1.4l-1.4,-1.4zM330.2,631.8l1.4,1.4l-1.4,1.4l-1.4,-1.4zM300.2,616.5l1.4,1.4l-1.4,1.4l-1.4,-1.4zM309.4,623.7l1.4,1.4l-1.4,1.4l-1.4,-1.4zM315.0,621.7l1.4,1.4l-1.4,1.4l-1.4,-1.4zM302.4,604.9l1.4,1.4l-1.4,1.4l-1.4,-1.4zM300.3,611.4l1.4,1.4l-1.4,1.4l-1.4,-1.4zM321.3,617.9l1.4,1.4l-1.4,1.4l-1.4,-1.4zM303.0,615.1l1.4,1.4l-1.4,1.4l-1.4,-1.4zM326.0,620.4l1.4,1.4l-1.4,1.4l-1.4,-1.4zM325.5,616.0l1.4,1.4l-1.4,1.4l-1.4,-1.4zM308.5,624.6l1.4,1.4l-1.4,1.4l-1.4,-1.4zM308.5,625.2l1.4,1.4l-1.4,1.4l-1.4,-1.4zM334.5,623.5l1.4,1.4l-1.4,1.4l-1.4,-1.4zM314.7,612.2l1.4,1.4l-1.4,1.4l-1.4,-1.4zM301.9,611.1l1.4,1.4l-1.4,1.4l-1.4,-1.4zM310.9,624.5l1.4,1.4l-1.4,1.4l-1.4,-1.4zM318.9,606.9l1.4,1.4l-1.4,1.4l-1.4,-1.4zM311.5,622.0l1.4,1.4l-1.4,1.4l-1.4,-1.4zM311.3,614.9l1.4,1.4l-1.4,1.4l-1.4,-1.4zM306.9,622.9l1.4,1.4l-1.4,1.4l-1.4,-1.4zM307.2,615.4l1.4,1.4l-1.4,1.4l-1.4,-1.4zM301.9,621.7l1.4,1.4l-1.4,1.4l-1.4,-1.4zM300.6,622.9l1.4,1.4l-1.4,1.4l-1.4,-1.4zM341.7,621.2l1.4,1.4l-1.4,1.4l-1.4,-1.4zM303.2,620.0l1.4,1.4l-1.4,1.4l-1.4,-1.4zM311.8,624.3l1.4,1.4l-1.4,1.4l-1.4,-1.4zM300.4,630.0l1.4,1.4l-1.4,1.4l-1.4,-1.4zM310.8,611.3l1.4,1.4l-1.4,1.4l-1.4,-1.4zM302.3,623.5l1.4,1.4l-1.4,1.4l-1.4,-1.4zM301.6,632.7l1.4,1.4l-1.4,1.4l-1.4,-1.4zM301.7,635.5l1.4,1.4l-1.4,1.4l-1.4,-1.4zM332.3,635.6l1.4,1.4l-1.4,1.4l-1.4,-1.4zM342.2,624.2l1.4,1.4l-1.4,1.4l-1.4,-1.4zM299.8,611.9l1.4,1.4l-1.4,1.4l-1.4,-1.4zM312.3,630.3l1.4,1.4l-1.4,1.4l-1.4,-1.4zM329.6,622.7l1.4,1.4l-1.4,1.4l-1.4,-1.4zM301.0,632.9l1.4,1.4l-1.4,1.4l-1.4,-1.4zM322.6,615.1l1.4,1.4l-1.4,1.4l-1.4,-1.4zM303.8,618.7l1.4,1.4l-1.4,1.4l-1.4,-1.4zM301.6,618.9l1.4,1.4l-1.4,1.4l-1.4,-1.4zM305.0,612.8l1.4,1.4l-1.4,1.4l-1.4,-1.4zM304.2,610.8l1.4,1.4l-1.4,1.4l-1.4,-1.4zM300.6,605.8l1.4,1.4l-1.4,1.4l-1.4,-1.4zM487.1,626.9l1.4,1.4l-1.4,1.4l-1.4,-1.4zM304.3,629.1l1.4,1.4l-1.4,1.4l-1.4,-1.4zM302.6,627.6l1.4,1.4l-1.4,1.4l-1.4,-1.4zM328.5,630.3l1.4,1.4l-1.4,1.4l-1.4,-1.4zM307.7,610.3l1.4,1.4l-1.4,1.4l-1.4,-1.4zM355.0,622.0l1.4,1.4l-1.4,1.4l-1.4,-1.4zM305.7,620.2l1.4,1.4l-1.4,1.4l-1.4,-1.4zM314.1,619.9l1.4,1.4l-1.4,1.4l-1.4,-1.4zM309.8,609.3l1.4,1.4l-1.4,1.4l-1.4,-1.4zM310.9,624.2l1.4,1.4l-1.4,1.4l-1.4,-1.4zM306.2,613.9l1.4,1.4l-1.4,1.4l-1.4,-1.4zM307.3,619.2l1.4,1.4l-1.4,1.4l-1.4,-1.4zM387.4,621.8l1.4,1.4l-1.4,1.4l-1.4,-1.4zM302.9,633.0l1.4,1.4l-1.4,1.4l-1.4,-1.4zM303.7,615.2l1.4,1.4l-1.4,1.4l-1.4,-1.4zM305.1,625.5l1.4,1.4l-1.4,1.4l-1.4,-1.4zM319.2,623.5l1.4,1.4l-1.4,1.4l-1.4,-1.4zM315.2,619.7l1.4,1.4l-1.4,1.4l-1.4,-1.4zM331.8,620.5l1.4,1.4l-1.4,1.4l-1.4,-1.4zM300.7,613.6l1.4,1.4l-1.4,1.4l-1.4,-1.4zM312.4,624.8l1.4,1.4l-1.4,1.4l-1.4,-1.4zM306.6,620.0l1.4,1.4l-1.4,1.4l-1.4,-1.4zM305.5,619.3l1.4,1.4l-1.4,1.4l-1.4,-1.4zM310.8,620.8l1.4,1.4l-1.4,1.4l-1.4,-1.4zM299.9,616.4l1.4,1.4l-1.4,1.4l-1.4,-1.4zM312.6,622.4l1.4,1.4l-1.4,1.4l-1.4,-1.4zM310.5,614.0l1.4,1.4l-1.4,1.4l-1.4,-1.4zM300.6,625.6l1.4,1.4l-1.4,1.4l-1.4,-1.4zM307.4,629.5l1.4,1.4l-1.4,1.4l-1.4,-1.4zM373.4,621.2l1.4,1.4l-1.4,1.4l-1.4,-1.4zM304.7,613.7l1.4,1.4l-1.4,1.4l-1.4,-1.4zM319.8,626.9l1.4,1.4l-1.4,1.4l-1.4,-1.4zM306.1,624.7l1.4,1.4l-1.4,1.4l-1.4,-1.4zM302.3,623.1l1.4,1.4l-1.4,1.4l-1.4,-1.4zM301.9,619.9l1.4,1.4l-1.4,1.4l-1.4,-1.4zM304.7,622.0l1.4,1.4l-1.4,1.4l-1.4,-1.4zM352.3,619.4l1.4,1.4l-1.4,1.4l-1.4,-1.4zM327.0,640.8l1.4,1.4l-1.4,1.4l-1.4,-1.4zM302.8,611.5l1.4,1.4l-1.4,1.4l-1.4,-1.4zM334.6,618.0l1.4,1.4l-1.4,1.4l-1.4,-1.4zM307.1,626.1l1.4,1.4l-1.4,1.4l-1.4,-1.4zM302.9,612.3l1.4,1.4l-1.4,1.4l-1.4,-1.4zM315.8,618.5l1.4,1.4l-1.4,1.4l-1.4,-1.4zM302.0,611.5l1.4,1.4l-1.4,1.4l-1.4,-1.4zM300.3,628.7l1.4,1.4l-1.4,1.4l-1.4,-1.4zM351.8,612.6l1.4,1.4l-1.4,1.4l-1.4,-1.4zM300.0,620.6l1.4,1.4l-1.4,1.4l-1.4,-1.4zM318.4,645.6l1.4,1.4l-1.4,1.4l-1.4,-1.4zM300.4,616.0l1.4,1.4l-1.4,1.4l-1.4,-1.4zM308.2,624.6l1.4,1.4l-1.4,1.4l-1.4,-1.4zM306.4,627.0l1.4,1.4l-1.4,1.4l-1.4,-1.4zM304.4,622.3l1.4,1.4l-1.4,1.4l-1.4,-1.4zM299.7,633.9l1.4,1.4l-1.4,1.4l-1.4,-1.4zM307.3,617.5l1.4,1.4l-1.4,1.4l-1.4,-1.4zM308.1,622.2l1.4,1.4l-1.4,1.4l-1.4,-1.4zM302.0,622.7l1.4,1.4l-1.4,1.4l-1.4,-1.4zM307.7,612.6l1.4,1.4l-1.4,1.4l-1.4,-1.4zM334.4,620.8l1.4,1.4l-1.4,1.4l-1.4,-1.4zM302.8,625.1l1.4,1.4l-1.4,1.4l-1.4,-1.4zM312.4,626.4l1.4,1.4l-1.4,1.4l-1.4,-1.4zM301.2,621.3l1.4,1.4l-1.4,1.4l-1.4,-1.4zM314.8,615.0l1.4,1.4l-1.4,1.4l-1.4,-1.4zM321.1,624.1l1.4,1.4l-1.4,1.4l-1.4,-1.4zM554.9,625.9l1.4,1.4l-1.4,1.4l-1.4,-1.4zM330.5,616.1l1.4,1.4l-1.4,1.4l-1.4,-1.4zM315.9,620.6l1.4,1.4l-1.4,1.4l-1.4,-1.4zM360.4,621.1l1.4,1.4l-1.4,1.4l-1.4,-1.4zM301.7,607.5l1.4,1.4l-1.4,1.4l-1.4,-1.4zM338.3,627.3l1.4,1.4l-1.4,1.4l-1.4,-1.4zM303.7,619.7l1.4,1.4l-1.4,1.4l-1.4,-1.4zM303.3,632.1l1.4,1.4l-1.4,1.4l-1.4,-1.4zM339.5,622.5l1.4,1.4l-1.4,1.4l-1.4,-1.4zM312.0,617.6l1.4,1.4l-1.4,1.4l-1.4,-1.4zM354.0,615.3l1.4,1.4l-1.4,1.4l-1.4,-1.4zM300.6,629.3l1.4,1.4l-1.4,1.4l-1.4,-1.4zM312.7,616.2l1.4,1.4l-1.4,1.4l-1.4,-1.4zM303.9,616.1l1.4,1.4l-1.4,1.4l-1.4,-1.4zM305.8,621.7l1.4,1.4l-1.4,1.4l-1.4,-1.4zM299.9,604.5l1.4,1.4l-1.4,1.4l-1.4,-1.4zM331.9,621.0l1.4,1.4l-1.4,1.4l-1.4,-1.4zM311.6,626.0l1.4,1.4l-1.4,1.4l-1.4,-1.4zM301.7,618.2l1.4,1.4l-1.4,1.4l-1.4,-1.4zM300.8,647.4l1.4,1.4l-1.4,1.4l-1.4,-1.4zM302.2,611.0l1.4,1.4l-1.4,1.4l-1.4,-1.4zM359.6,609.9l1.4,1.4l-1.4,1.4l-1.4,-1.4zM307.4,623.3l1.4,1.4l-1.4,1.4l-1.4,-1.4zM305.3,617.2l1.4,1.4l-1.4,1.4l-1.4,-1.4zM317.4,618.0l1.4,1.4l-1.4,1.4l-1.4,-1.4zM308.8,609.6l1.4,1.4l-1.4,1.4l-1.4,-1.4zM312.1,624.5l1.4,1.4l-1.4,1.4l-1.4,-1.4zM324.6,627.9l1.4,1.4l-1.4,1.4l-1.4,-1.4zM313.9,632.4l1.4,1.4l-1.4,1.4l-1.4,-1.4zM329.6,622.5l1.4,1.4l-1.4,1.4l-1.4,-1.4zM301.1,631.1l1.4,1.4l-1.4,1.4l-1.4,-1.4zM309.5,622.0l1.4,1.4l-1.4,1.4l-1.4,-1.4zM305.1,618.5l1.4,1.4l-1.4,1.4l-1.4,-1.4zM310.1,623.5l1.4,1.4l-1.4,1.4l-1.4,-1.4zM308.2,626.5l1.4,1.4l-1.4,1.4l-1.4,-1.4zM303.3,613.5l1.4,1.4l-1.4,1.4l-1.4,-1.4zM305.2,622.2l1.4,1.4l-1.4,1.4l-1.4,-1.4zM332.7,619.8l1.4,1.4l-1.4,1.4l-1.4,-1.4zM303.8,615.0l1.4,1.4l-1.4,1.4l-1.4,-1.4zM301.0,629.4l1.4,1.4l-1.4,1.4l-1.4,-1.4zM320.2,626.0l1.4,1.4l-1.4,1.4l-1.4,-1.4zM333.9,608.0l1.4,1.4l-1.4,1.4l-1.4,-1.4zM305.9,621.9l1.4,1.4l-1.4,1.4l-1.4,-1.4zM310.5,627.0l1.4,1.4l-1.4,1.4l-1.4,-1.4zM302.4,622.6l1.4,1.4l-1.4,1.4l-1.4,-1.4zM306.5,624.4l1.4,1.4l-1.4,1.4l-1.4,-1.4zM340.7,627.3l1.4,1.4l-1.4,1.4l-1.4,-1.4zM327.0,623.2l1.4,1.4l-1.4,1.4l-1.4,-1.4zM310.9,621.1l1.4,1.4l-1.4,1.4l-1.4,-1.4zM305.9,621.0l1.4,1.4l-1.4,1.4l-1.4,-1.4zM300.3,617.4l1.4,1.4l-1.4,1.4l-1.4,-1.4zM313.8,630.8l1.4,1.4l-1.4,1.4l-1.4,-1.4zM316.9,638.9l1.4,1.4l-1.4,1.4l-1.4,-1.4zM338.1,616.9l1.4,1.4l-1.4,1.4l-1.4,-1.4zM437.9,623.1l1.4,1.4l-1.4,1.4l-1.4,-1.4zM315.1,614.2l1.4,1.4l-1.4,1.4l-1.4,-1.4zM333.4,619.4l1.4,1.4l-1.4,1.4l-1.4,-1.4zM301.4,630.1l1.4,1.4l-1.4,1.4l-1.4,-1.4zM346.7,618.3l1.4,1.4l-1.4,1.4l-1.4,-1.4zM329.6,626.3l1.4,1.4l-1.4,1.4l-1.4,-1.4zM357.8,619.7l1.4,1.4l-1.4,1.4l-1.4,-1.4zM322.8,614.4l1.4,1.4l-1.4,1.4l-1.4,-1.4zM316.8,609.3l1.4,1.4l-1.4,1.4l-1.4,-1.4zM335.6,584.5l1.4,1.4l-1.4,1.4l-1.4,-1.4zM348.0,590.0l1.4,1.4l-1.4,1.4l-1.4,-1.4zM532.0,614.3l1.4,1.4l-1.4,1.4l-1.4,-1.4zM462.9,609.5l1.4,1.4l-1.4,1.4l-1.4,-1.4zM372.0,593.1l1.4,1.4l-1.4,1.4l-1.4,-1.4z" fill="#1a921a" fill-opacity="0.15" stroke="#1a921a" stroke-opacity="0.50" stroke-width="0.6"/>
<line x1="299.2" y1="564.6" x2="299.2" y2="654.8" stroke="#333" stroke-width="0.9"/>
<line x1="298.8" y1="654.4" x2="562.8" y2="654.4" stroke="#333" stroke-width="0.9"/>
<line x1="299.2" y1="564.6" x2="301.59999999999997" y2="564.6" stroke="#333" stroke-width="0.8"/>
<text x="293.8" y="568.2" font-size="10.4" text-anchor="end" fill="#111">2</text>
<line x1="299.2" y1="594.5" x2="301.59999999999997" y2="594.5" stroke="#333" stroke-width="0.8"/>
<text x="293.8" y="598.1" font-size="10.4" text-anchor="end" fill="#111">1</text>
<line x1="299.2" y1="624.4" x2="301.59999999999997" y2="624.4" stroke="#333" stroke-width="0.8"/>
<text x="293.8" y="628.0" font-size="10.4" text-anchor="end" fill="#111">2</text>
<line x1="299.2" y1="654.3" x2="301.59999999999997" y2="654.3" stroke="#333" stroke-width="0.8"/>
<text x="293.8" y="657.9" font-size="10.4" text-anchor="end" fill="#111">−1</text>
<line x1="299.2" y1="654.4" x2="299.2" y2="651.8" stroke="#333" stroke-width="0.8"/>
<text x="299.2" y="666.8" font-size="10.6" text-anchor="middle" fill="#111">0</text>
<line x1="365.09999999999997" y1="654.4" x2="365.09999999999997" y2="651.8" stroke="#333" stroke-width="0.8"/>
<text x="365.09999999999997" y="666.8" font-size="10.6" text-anchor="middle" fill="#111">5000</text>
<line x1="431.0" y1="654.4" x2="431.0" y2="651.8" stroke="#333" stroke-width="0.8"/>
<text x="431.0" y="666.8" font-size="10.6" text-anchor="middle" fill="#111">10,000</text>
<line x1="496.9" y1="654.4" x2="496.9" y2="651.8" stroke="#333" stroke-width="0.8"/>
<text x="496.9" y="666.8" font-size="10.6" text-anchor="middle" fill="#111">15,000</text>
<line x1="562.8" y1="654.4" x2="562.8" y2="651.8" stroke="#333" stroke-width="0.8"/>
<text x="562.8" y="666.8" font-size="10.6" text-anchor="middle" fill="#111">20,000</text>
<text x="430.8" y="682.4" font-size="10.6" text-anchor="middle" fill="#111">Mean normalized counts (reads)</text>
<text x="0" y="0" font-size="10.6" text-anchor="middle" fill="#111" transform="translate(274.2,609.2) rotate(-90)">Log<tspan font-size="7.4" dy="2.6">2</tspan><tspan dy="-2.6">(FC)</tspan></text>
</g>
</svg>
</body></html>
